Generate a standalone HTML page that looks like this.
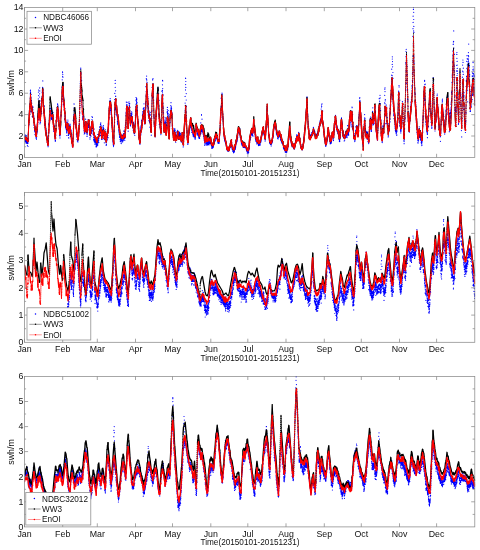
<!DOCTYPE html>
<html><head><meta charset="utf-8"><title>swh time series</title>
<style>html,body{margin:0;padding:0;background:#fff}svg{display:block}</style></head>
<body><svg width="480" height="550" viewBox="0 0 480 550">
<rect width="480" height="550" fill="#fff"/>
<g>
<clipPath id="c0"><rect x="24.5" y="7.1" width="450.8" height="150.3"/></clipPath>
<g clip-path="url(#c0)">
<path d="m24.5 135.4h0m.1 5.8h0m.1-6h0m0 1h0m.1 4.2h0m.1-4.4h0m.1 4.8h0m0-1.5h0m.1-1.9h0m.1-.8h0m0 1.5h0m.1 3.6h0m0-3.5h0m.1 2.6h0m0-5h0m.1 .7h0m.1-1.5h0m0 2.8h0m.1-1h0m0 1.7h0m.2 1.3h0m0-2.7h0m.1 5.4h0m0 .5h0m.1-1.7h0m0-4.7h0m.1 3.3h0m0 .7h0m.1 .5h0m.1-1h0m.1-1.8h0m0 3.4h0m.1-2.3h0m0 3.4h0m.1-7.1h0m.1 6.2h0m.1 1.5h0m.1-1.3h0m.1-1.6h0m0 3h0m.1-5.3h0m0 2.4h0m.1 .8h0m.1 3.9h0m.1-6.1h0m0 4.1h0m.1-.9h0m.2-2.7h0m0 3.2h0m.1 .6h0m.1 3h0m0-4h0m.1-1.4h0m0-2.7h0m.1 .7h0m.1-6.1h0m0 1.4h0m.2-2.6h0m.1-6.2h0m.1-3.6h0m0 3h0m.1-2.6h0m0-1.4h0m.1 1.3h0m.1 2.1h0m0-2h0m.1-1.8h0m0-.6h0m.1-4.9h0m.1-1.2h0m0 1.2h0m.1-4.3h0m.1 .7h0m0 2h0m.1-6.9h0m0 7.8h0m.1-1.7h0m.1-8.9h0m.1 5.2h0m0 5.4h0m.1-8h0m.1 1.5h0m0 3h0m.1-12.9h0m.1-4.4h0m.1 1.1h0m0 4.1h0m.1-6.4h0m0 2.9h0m.1-3.2h0m0 2.4h0m.1 5.5h0m.1-3h0m0 4.6h0m.1-3.6h0m.1 4.9h0m.1 8.5h0m0-10.4h0m.1-3h0m0 7.7h0m.1 2.3h0m0-3.5h0m.1 .6h0m0-2.1h0m.1 5.2h0m0-7.9h0m.1 2.7h0m0 6.7h0m.1-6.5h0m.1 2.3h0m.1 2h0m.1 1.6h0m0 2.8h0m.1 1.1h0m0-1.1h0m.1-2h0m.1 6.5h0m.1-7.2h0m.1 1.1h0m.1 1h0m0-1.2h0m.1 6.6h0m0-9h0m.1-1.2h0m0 3.6h0m.1-.6h0m.1 3h0m0-5.2h0m.1 10.1h0m.2-3.8h0m0 2.3h0m.1-.8h0m.1-2.6h0m0 4h0m.1-3.9h0m.1 3.8h0m.1 2.3h0m.1-2.8h0m0 2.6h0m.1 4h0m0-4.4h0m.1 7.3h0m0 2.2h0m.1-2.8h0m0 2.8h0m.2-2h0m.1 1.8h0m0-4.7h0m.1 8h0m0-6.8h0m.2 2.1h0m0 5.8h0m.1-5.5h0m0 1.5h0m.1-.9h0m0 7.5h0m.1-5.5h0m.1 5.8h0m.1-5.4h0m0 2.2h0m.1-2.8h0m.1 2.4h0m.1 .7h0m0-1.9h0m.1 4.5h0m0-2h0m.1-1.1h0m0 2.7h0m.1-1h0m0 .5h0m.1-1.3h0m0 4.9h0m.1 1.1h0m0-1.1h0m.1-2h0m.2-.7h0m0 3.3h0m.1 1.5h0m.1-6.4h0m.1 1.9h0m.1-1.4h0m.1-2.9h0m0-2.6h0m.1 1.9h0m0 1.9h0m.1 1.1h0m0-3.2h0m.1-4.5h0m0-1h0m.1 5.5h0m.1-4.1h0m0 2h0m.1-3.6h0m0 7.2h0m.1-6.6h0m0 2h0m.1-9.6h0m.1 1.3h0m0 .8h0m.1 3.5h0m0-5.4h0m.1 .6h0m.1-1.7h0m0-2.2h0m.1 1.2h0m0 1.1h0m.1 3.9h0m0-2.4h0m.1-.7h0m0-4.8h0m.1-1.7h0m.1 9h0m.1-9.1h0m0 3.8h0m.1-7.4h0m0-1.4h0m.2-1.4h0m0-1.3h0m.1 8.7h0m.1-5.5h0m.1 10.7h0m0-5.7h0m.1 1.5h0m.1 3.1h0m0-3.3h0m.1 3h0m0-6.9h0m.1 6.4h0m0 .5h0m.1 3.5h0m0-2.9h0m.1 4.2h0m.1-.6h0m0 4.6h0m.1-5.4h0m0-3.8h0m.1 8.1h0m.1-.7h0m.1-1.8h0m.1 1.7h0m0-4.8h0m.1-2.7h0m.1 5.9h0m0-9.9h0m.1 1h0m0-2.2h0m.1 5.3h0m0-2h0m.1-4.9h0m.1-4.1h0m0 7.9h0m.1-5.3h0m0-1.6h0m.2 3.4h0m0-6.2h0m.1 9.7h0m0-7.1h0m.2 2.3h0m0 6.7h0m.1-16.3h0m0 1.5h0m.1 .8h0m.1-2.5h0m0 1.7h0m.1-1.7h0m0-4.6h0m.1 8.2h0m.1-10.4h0m.1 3.3h0m.1-4.1h0m0-1.3h0m.1 1.2h0m0 4.1h0m.1-.8h0m0-5.1h0m.1-6.4h0m.1 15.4h0m0-5.9h0m.1-.8h0m0 5.8h0m.1-1.9h0m0 2.6h0m.1-2.2h0m0-1.6h0m.1 7.6h0m.1 2.7h0m.1 1.5h0m0 8h0m.1-6.9h0m0 4.3h0m.1-3.9h0m.3 7.6h0m0-7.8h0m.1 5.9h0m.1-5h0m0 2.8h0m.1 6.4h0m0-4.9h0m.1 2.2h0m0 2.7h0m.1 5.6h0m.1 3.8h0m.1-5.7h0m.1 4.2h0m0 .9h0m.1-6.4h0m0 7.5h0m.1-5.5h0m0 2h0m.1-2.4h0m0 8h0m.1-3.9h0m0-2.2h0m.1 4.2h0m0 3.5h0m.1 1.8h0m.1-6.3h0m.1 3.3h0m0-1.5h0m.1 1.6h0m.2 2.1h0m.1-1.3h0m.1 3.4h0m0-1.7h0m.1 1.7h0m.1 2.4h0m0-.7h0m.1 .6h0m.1-1.2h0m.1-.8h0m0 2.9h0m.1-1.5h0m0 1.6h0m.1 .7h0m0 2.7h0m.1-1.9h0m0 1.1h0m.1-1.2h0m.1 .7h0m0 .5h0m.1 4.4h0m.2-3.2h0m.1 2h0m0-1.6h0m.1 4.3h0m.1-3.2h0m0 3.4h0m.1 .9h0m.1-2.6h0m0-.7h0m.1 2.2h0m0-1.2h0m.1 3.9h0m.1-1.7h0m0 .5h0m.2-.9h0m0-1.3h0m.1-2.1h0m0-4.5h0m.1-.8h0m.2-11.5h0m0 8.6h0m.1-1h0m.1-2.1h0m.1-6.5h0m0 2h0m.1-1.2h0m.1-1.5h0m0 2.4h0m.1-4.9h0m.1-.7h0m0-1.3h0m.1-.9h0m0-1.1h0m.1 3.9h0m0-4.2h0m.1 4.8h0m.1-6h0m0-3.4h0m.1-1.1h0m.1-2h0m.1 7.9h0m0-4h0m.1-.8h0m0 2.9h0m.1-2.4h0m.1 1.8h0m.1-4.9h0m.1 3.2h0m.1-1.6h0m0 7.8h0m.1-6.6h0m.1 1.5h0m.2 6.5h0m.1-8.2h0m0 7.8h0m.1-5.5h0m.1 1.4h0m0 4.2h0m.1-1.4h0m0-3.1h0m.1 2.6h0m0-6.1h0m.1-1.1h0m.1 1.6h0m.1 2.3h0m.1 4.9h0m.1-5.8h0m0 1.2h0m.1 2.6h0m.1 1.3h0m0 .7h0m.1-2.1h0m0-3h0m.1 3.1h0m0 1.7h0m.1-1h0m0 .8h0m.1 1.3h0m0-2.8h0m.1 1.4h0m.1-5.9h0m0 3.6h0m.2 4.3h0m0 3.6h0m.1 2.8h0m.1-2.4h0m0-1.9h0m.1-3.9h0m0 6.8h0m.1 4.5h0m0-1.9h0m.1 3.6h0m.1-1.7h0m.3-1.3h0m0-2.8h0m.2 4.9h0m.2-4.4h0m.1 5.7h0m.1-2.7h0m0 6.9h0m.1-1.4h0m0-2.3h0m.1 2.9h0m0 1.4h0m.1 1.8h0m0-1.7h0m.1 2.3h0m.1 1.4h0m.1 .8h0m.1-3.3h0m.1 2.5h0m.1-2.5h0m.1-2.8h0m.3-5.4h0m.1-3.9h0m0-1.9h0m.1-2.8h0m.1 .7h0m0-1.1h0m.1-3.4h0m.1 3.5h0m0-4.4h0m.1 1.8h0m0-1.5h0m.1 3.6h0m0-.8h0m.1-9.5h0m.1 11.3h0m0-.5h0m.1-6.6h0m.1 2.4h0m0-6.5h0m.1 2.1h0m.1-1.1h0m.2-.6h0m0 .7h0m.1-1.5h0m0-3h0m.1-2.1h0m0 5.6h0m.1 2h0m.1-5.3h0m0 4.9h0m.1-6.1h0m0 7.3h0m.1-6.2h0m0 3h0m.1 8.4h0m.1-2.5h0m0 .7h0m.1 2.8h0m.1 1.6h0m.1-4.2h0m.1 1.1h0m0 .8h0m.1 3.9h0m.1 3.2h0m0-5h0m.1 4.2h0m.1 4h0m.1-4.7h0m0 4.4h0m.3 1.2h0m0 5.4h0m.1-5.8h0m.1-.7h0m.1 2.8h0m.1 4.4h0m0-6.8h0m.1 8.8h0m0-2.1h0m.1-.5h0m0-4.2h0m.2 3.3h0m0-3.6h0m.1-4.5h0m0 2h0m.1 .7h0m0-4.3h0m.1 .7h0m0-2.3h0m.1-1.4h0m0 2.5h0m.1-8.7h0m.2 .9h0m.1-4.2h0m.1 3.2h0m.1-8.7h0m0 8.4h0m.1-9.2h0m0-1.3h0m.1 6.3h0m0-.6h0m.1-3.9h0m0-7.4h0m.1 5.9h0m0-3.2h0m.1-1.1h0m.1-8.8h0m.1 9.6h0m.1-8.5h0m0 5.5h0m.1-6.2h0m.1 4.2h0m0-2.1h0m.1-7.2h0m0 3.3h0m.1 5.4h0m.1 3.5h0m.1-8.3h0m0 4.7h0m.1-7.1h0m0-14.3h0m.1 2.9h0m.1 7.5h0m0 4.9h0m.1 2.7h0m0-.8h0m.1-2.8h0m0-2.8h0m.1 6.1h0m0-3.2h0m.1 15.6h0m.1-8.1h0m0-1.2h0m.1 2.4h0m0-1.4h0m.1 7.8h0m.1-2.1h0m0-.9h0m.1-2.7h0m.1 5h0m0 2.5h0m.1-.8h0m.1 2.2h0m0 2.7h0m.1-5.3h0m0 .6h0m.1 .8h0m0 1.8h0m.1 5.4h0m.1-1.5h0m.1 7h0m0-5.7h0m.1 6.5h0m.1-11h0m.1 8.1h0m0-1.6h0m.1 2.9h0m0-4.4h0m.1 2.7h0m0 3.8h0m.1 2.7h0m0-2.5h0m.1 1.1h0m0 .8h0m.1 1.9h0m0 3.1h0m.1-1.5h0m.1 2.4h0m0-1.6h0m.1-6.4h0m0 4.9h0m.1 3.2h0m.1-3.8h0m0 3.4h0m.2-1.3h0m0-4h0m.1 7.4h0m0-.8h0m.1-1.6h0m0 2h0m.1-1.1h0m0-3.5h0m.1 6.8h0m.1-1h0m0 1.7h0m.1 .8h0m0 2.5h0m.1-5.8h0m0-2.3h0m.1 3h0m0-2.8h0m.1 5.2h0m0-3.4h0m.1-.6h0m.1-1.5h0m0-1.7h0m.1-2.8h0m0 6h0m.1-2.9h0m.2 2.4h0m0-2h0m.1-1.4h0m0 4.5h0m.1-9.3h0m0 1.7h0m.1 2.3h0m0 1.6h0m.1 .8h0m.1 8.6h0m.1-6.6h0m0 2.8h0m.1 4.1h0m.1-2.7h0m.1 2.2h0m0-1.5h0m.1 4.2h0m0-3.2h0m.1 3.7h0m.1-3.8h0m0-2.9h0m.1 1.5h0m0-4.5h0m.1 1.3h0m0-.8h0m.1 5.1h0m0-.8h0m.1-2.9h0m0-1h0m.1 2.3h0m.1 .6h0m.1-3.8h0m0-2.7h0m.1 1.5h0m0-.7h0m.1 1.4h0m0-1.3h0m.1-1.7h0m0 4.2h0m.1-4.9h0m0 1.5h0m.1-.6h0m0 2h0m.1 3.2h0m.1-.6h0m.1 6.6h0m0-3.2h0m.2 .8h0m0 .8h0m.2-5.1h0m0 2.7h0m.1-2.2h0m.1 2.1h0m.1-1.8h0m0 .6h0m.1 2.7h0m0 2.4h0m.1-1.1h0m0-1.6h0m.1 4.4h0m0-2h0m.1 3.4h0m.1-4.6h0m0 3.5h0m.1 2.9h0m.1-1.6h0m0-.8h0m.1 2.4h0m0 .6h0m.1-1.1h0m.1 .6h0m.1 4.8h0m.1-2.1h0m.1-1h0m.1 3.1h0m0-3.1h0m.2 4.3h0m.1-2.4h0m.1-3.4h0m.1-4.2h0m0 3.8h0m.1-2.4h0m0 .5h0m.1-.7h0m0-3.5h0m.1 2.2h0m.1-8.3h0m.1-.6h0m.1-3.6h0m0-3.3h0m.1 3.2h0m0-2.3h0m.1-1.4h0m0 1.6h0m.1-2h0m.1-3.1h0m.1 1.2h0m.1-1.7h0m0 2h0m.1-3.4h0m.1 3.7h0m.1-2h0m.2-5.9h0m0-1.6h0m.1 1.3h0m0 5.3h0m.1-2.3h0m0 5.5h0m.1-4.2h0m.1 2.2h0m.1-1.3h0m0 1.3h0m.1 3.8h0m0 .6h0m.1 2.8h0m0-3.6h0m.1 .8h0m0-.9h0m.1 4.5h0m.1-1.3h0m0-.7h0m.1 3.6h0m.1-2.5h0m0 1.8h0m.1-.6h0m.1 3.1h0m.2-1.6h0m0 6.9h0m.1-2.9h0m0 .5h0m.1-2.3h0m0-1.8h0m.1 3.1h0m0 1.3h0m.1 2.3h0m0-.7h0m.1 .8h0m0 2.5h0m.1-3.3h0m0 2.3h0m.1 3.6h0m0-4.4h0m.1-.6h0m.1 .7h0m.2 5.9h0m0-1.1h0m.1-1h0m.1-1.3h0m.1 2.4h0m.1 1.6h0m0-4h0m.1 4.3h0m0-1.7h0m.1-3.8h0m.1 3.6h0m.1-2.2h0m0-3h0m.1 4.3h0m.1-3.1h0m0-2h0m.1 3.8h0m.1-2.7h0m0 1.3h0m.1-4.4h0m0 1.4h0m.1-1.8h0m.1-2.3h0m0 5.8h0m.1-5.7h0m.1-1.2h0m0 3.8h0m.1-7.2h0m0 4h0m.1-4.5h0m.1-3.1h0m.1-1.7h0m0 1.2h0m.1-5.2h0m0-7.3h0m.1 5.6h0m.1-1.1h0m0-11.2h0m.1 6.2h0m0-2.3h0m.1-5h0m0-4.4h0m.1 5.2h0m.1-10.6h0m.1 2h0m0-6.6h0m.1-4.5h0m0-6.5h0m.1 2.5h0m0 11h0m.1-15.2h0m0-.9h0m.1 .8h0m0-4.1h0m.1-1.1h0m0 8.9h0m.1 6.8h0m0-2h0m.1-1.8h0m0 6.8h0m.1 1.8h0m0 3.7h0m.1-6h0m.1 8.1h0m0-2.4h0m.1 3.1h0m0-7h0m.1 2.4h0m.1 8.3h0m0 2.1h0m.1-3.2h0m0 7.1h0m.1-2.1h0m0-3.4h0m.1 1.1h0m.1 6.6h0m.1-1.9h0m.1 1.8h0m.1 7.3h0m.1-.8h0m.1 4.9h0m0-1.4h0m.1 2.6h0m0-6h0m.1 3.4h0m.1-5.9h0m0 2.2h0m.1-1.7h0m.1 .6h0m0 4.9h0m.2 3.1h0m0-4.7h0m.1 3h0m0-2.9h0m.1 4.2h0m0 1.1h0m.1-6.4h0m0 .6h0m.1 7.4h0m0-6.1h0m.1 5.8h0m0-5.1h0m.1 3.2h0m0 3.4h0m.2 7.2h0m0-8h0m.1 1.9h0m.1 9.4h0m0-7.4h0m.1 5.3h0m.1-6.7h0m.1 7.5h0m.1-2.2h0m0-2.3h0m.1 5.2h0m.1-4.6h0m0 4.6h0m.1-4.1h0m.1 .9h0m.1 1.9h0m0-.7h0m.1-6h0m.1 2.4h0m0 1.5h0m.1-5.4h0m0 .8h0m.1-1.8h0m.1 1.4h0m0-5.1h0m.1 4.6h0m.1-1h0m0-1.1h0m.1 2.8h0m.1 .6h0m0 2.7h0m.1-.9h0m0-4.2h0m.1 5.5h0m0 3.1h0m.2-2h0m0 1.8h0m.1-4.5h0m0 5.3h0m.1-.6h0m0-2.7h0m.1 3.9h0m.1-2.4h0m0 3.8h0m.1-1.8h0m0-2.5h0m.1 6.9h0m0-3.1h0m.1 2.6h0m0-3.4h0m.1 .7h0m0-2.9h0m.1 2.4h0m0 1.4h0m.1-7.3h0m0 .5h0m.1-3.4h0m0 2.2h0m.1 3.1h0m.1 1.5h0m0-4h0m.1 3.3h0m.1-4.5h0m.1-2.2h0m0 3.2h0m.1 .8h0m0-7.9h0m.1 6.3h0m0-4.2h0m.1 5.2h0m0-3.9h0m.1 4.6h0m.1-.8h0m0-2.2h0m.1-.8h0m.1-1.1h0m0 2.1h0m.1 .6h0m.1-3.8h0m.1 1.9h0m0 1.2h0m.1 .9h0m.1 2.3h0m.1-4h0m0 5.2h0m.1-.7h0m.1-1h0m0 4.5h0m.1 2h0m.1 1h0m.1-7.8h0m0 5.2h0m.1 2.2h0m0 .6h0m.1 4.1h0m0-1.4h0m.1-2.4h0m.1-2.5h0m0 2.3h0m.1-.9h0m0 .9h0m.1-.7h0m.1-1.8h0m.1 2.8h0m0-1.2h0m.1-2h0m.1-1.6h0m0 1h0m.1 4.6h0m0-2.9h0m.1-.7h0m.1-1.9h0m.1-3.6h0m.1-1.9h0m0 8.2h0m.1-1.2h0m.1-3.8h0m.1 2.3h0m0-.8h0m.1-2.9h0m0-3.5h0m.1-1.2h0m0 4.9h0m.1-2.2h0m.1-5.3h0m0-3h0m.2 13.5h0m.1-8.2h0m0 6.5h0m.1-3h0m.1 2.7h0m0-10.7h0m.1 8.3h0m.1 1.1h0m0-2.2h0m.1 3.7h0m0-.7h0m.1 6.4h0m.1-5.6h0m0 2.9h0m.1 2.3h0m.1-1.1h0m0-2.1h0m.2-1h0m0 1.1h0m.1 1.5h0m0 .8h0m.1 2h0m.1 3h0m0 1.8h0m.1-2.6h0m0 3.2h0m.1-3h0m0 2.4h0m.1-1.7h0m0-9.1h0m.1 11.8h0m.1-5h0m0 3.8h0m.1 1.1h0m0 1.1h0m.1-4.5h0m0 2.2h0m.2 2.8h0m0 1.8h0m.1-4.6h0m.1 .9h0m.1-2.3h0m0 1.8h0m.1 2.4h0m0-1.7h0m.1-2.1h0m0 1.4h0m.1 1h0m0-1.1h0m.2-3.7h0m.1 2h0m0 .5h0m.1 4.2h0m0 1.3h0m.1-3.2h0m0 1.1h0m.1-4.3h0m0 5.5h0m.1 .8h0m.1-2.9h0m0 5.3h0m.1-4.1h0m0 2.4h0m.1 2.3h0m0-2h0m.1-3.3h0m0 .5h0m.1 1h0m0 1.8h0m.1-1.3h0m.1 .8h0m.1-1.3h0m0 3.1h0m.1-.6h0m0 1h0m.1-1.9h0m0-1.3h0m.1 1.2h0m.1 .9h0m.2-2.9h0m.1-3.9h0m0 4.9h0m.1-1.2h0m0-1.5h0m.1 4.3h0m0-1.4h0m.1-9.3h0m.1 5.5h0m0 4.9h0m.1-3h0m0-1.2h0m.1-2h0m0 1h0m.1 1.9h0m0-2.7h0m.1 1.3h0m.1 1.1h0m0-.7h0m.1 2.1h0m.1-5.1h0m0 .9h0m.1-.7h0m0-2.1h0m.1 3.2h0m0 1.7h0m.1-5h0m0 6.9h0m.1-4.4h0m0-3.3h0m.1-.9h0m0 2.9h0m.1-.9h0m.1-.7h0m.1-3.8h0m.1-1.5h0m.1 3.3h0m0-.6h0m.1-5.7h0m.1 6.5h0m0-3.9h0m.1 4.2h0m0-3.7h0m.1 1.8h0m.1 .9h0m.1-5h0m.1 5h0m.1 2.9h0m.1-11h0m.1 10.9h0m0-4.9h0m.1-3.8h0m0-2.8h0m.1 .8h0m0 3.4h0m.1-5.3h0m.1 3.6h0m.1 2.5h0m.1-3.5h0m0 6.8h0m.1-4.6h0m.1 3.1h0m0 3.1h0m.1-2.1h0m.1 2.9h0m0 .9h0m.1 3.7h0m.1-1.2h0m0-1.8h0m.2 2.9h0m.1-3.4h0m.1 3.6h0m.1-4.4h0m0-2.9h0m.1 1.9h0m.1-3.8h0m0 3.3h0m.1 1.8h0m0-2.2h0m.1-2.3h0m.1-.6h0m.1-.6h0m.1 5.9h0m0-8.5h0m.1 1.1h0m.1 1.1h0m.1-3.2h0m.1 3h0m0-1.6h0m.1 6.2h0m0-8h0m.1 4.6h0m.1 3.1h0m.1 5.2h0m.1-10h0m0 5.4h0m.1 1h0m0-1h0m.1-2.9h0m0 4.3h0m.1-1.8h0m0 5h0m.1-1h0m0-3h0m.1 4.6h0m0 3.7h0m.1-3.6h0m.1 .5h0m0-1.9h0m.1 1.8h0m.1-1.6h0m.1 .6h0m.1-2.2h0m.1-4h0m.1 5.9h0m0-5.5h0m.1 5.2h0m0-3.4h0m.1 3h0m0-.6h0m.1 1.1h0m.1-8.3h0m.1 8.9h0m.1-2.1h0m.1 1.3h0m.1-1.8h0m.1 3.6h0m0-1.8h0m.1 4.6h0m0-4.9h0m.1 6.5h0m0 1.3h0m.1-1.4h0m.1-4.2h0m0 4.6h0m.1-3.8h0m0-.8h0m.1-4.7h0m0 5h0m.1 1h0m.1-3.1h0m0-1.3h0m.1 .5h0m.1 .5h0m0 1.7h0m.1-2.2h0m.1-5.9h0m0 5.1h0m.1 1.4h0m0-1.3h0m.1-.5h0m0 3.8h0m.1-4.6h0m0-.8h0m.1 1.3h0m.1-2.2h0m.1-3.2h0m.1 5.2h0m0-4h0m.1-2.1h0m0 3.6h0m.1 4.7h0m0-8.5h0m.1-1.4h0m.1 1.4h0m0-5.1h0m.1-.6h0m.2-4.2h0m.1 5.4h0m.1-1.6h0m.1-3.8h0m.1-5.2h0m0 3.2h0m.1-6.3h0m0-2.8h0m.1 2h0m0 1.8h0m.1 5.9h0m.1-11.9h0m0 7h0m.1-2.6h0m.1 1.2h0m0-3.5h0m.1-1.4h0m.1-5h0m.1 4.9h0m0-2h0m.1 1.9h0m0-6.2h0m.1 7.6h0m0-2.2h0m.1-7.1h0m0 7.2h0m.1-1.3h0m.1 5.9h0m0-6.6h0m.1-2.9h0m.1 3.9h0m0-.7h0m.1 6h0m0-2.5h0m.1 1.9h0m0-.6h0m.1 5h0m0-2.1h0m.1-3.4h0m0 4h0m.1-4.3h0m0-3.2h0m.1 4.2h0m0 .8h0m.1-1.6h0m0 6.1h0m.1 2.8h0m.1-6.6h0m.1 8.6h0m0-1.1h0m.1 2.6h0m0 1.6h0m.1 .9h0m.1 2.1h0m.1-1.3h0m0 2h0m.1 1.2h0m.1-3.6h0m0 7.7h0m.1-2.4h0m0-1.3h0m.1 .8h0m.1 4.3h0m0 .8h0m.1-1.2h0m.1 3.2h0m.1 1.3h0m0 .7h0m.1 .6h0m0 3.2h0m.1 .8h0m0-1.9h0m.1-3.6h0m0 2.9h0m.1 4.4h0m0-.8h0m.1-1.3h0m0 2.4h0m.1-1.7h0m0 2.4h0m.1 .7h0m0 1h0m.1-2.1h0m.1 .6h0m.2-1.7h0m0-5.4h0m.1 .8h0m0-1.7h0m.1-1.2h0m0-4.2h0m.1-.8h0m.1-.9h0m.1-4.1h0m0 1.3h0m.1-5.4h0m0-4.6h0m.1 5.1h0m.1-3h0m0-9.3h0m.1 2.5h0m0-2.6h0m.1 4.3h0m0-9.4h0m.1 4.8h0m.2-2.1h0m.1 1.4h0m.1-8.7h0m0 8.5h0m.1-8.6h0m.1 5.5h0m0-4.6h0m.1-4.8h0m0 8.8h0m.1 .5h0m0 3h0m.1-9.4h0m.1 12h0m.1-1.6h0m0-2.4h0m.1 3.5h0m.1-.5h0m0-4h0m.1 3h0m.1 2h0m0-3.3h0m.1 7.1h0m.1-7h0m0-2.1h0m.1 3.9h0m.1 2.4h0m0 3.2h0m.1-1.2h0m.1 2.7h0m0-2.7h0m.1 2.8h0m.1-3.8h0m0 2.9h0m.1-1.2h0m0 6.8h0m.1-6.5h0m0 4.7h0m.1-5.8h0m0 9.6h0m.1-1.3h0m0-3.9h0m.1-3.3h0m0 9.6h0m.1-3.3h0m.1 1.8h0m0-6.9h0m.1-1.3h0m0 5h0m.1-1.6h0m0 4.6h0m.1 1.5h0m0-3.7h0m.1 3h0m0-2.5h0m.1 3.4h0m0-3.5h0m.1 4.4h0m.1 1.6h0m.1 3h0m.1 1.1h0m0-3.8h0m.1 1.8h0m0 2.8h0m.1 1h0m.1-1.7h0m0 .6h0m.1 2.6h0m.1-2.9h0m0-.5h0m.1-.6h0m0 5.5h0m.1 1.5h0m0-3h0m.1 2.1h0m.1-1.6h0m.1 2.1h0m.1 2.3h0m.1-4.1h0m.1 5.7h0m.1-1.7h0m0-2.7h0m.1 4.6h0m0-4.1h0m.1 3.8h0m.1-2h0m0-3.7h0m.1 3.3h0m.1-3.2h0m.1 5h0m0-2.4h0m.1 1h0m.1 2.7h0m.1 1.9h0m0-.6h0m.1-2.8h0m.4-.6h0m.1 1h0m0-1.7h0m.1 .9h0m0-3.3h0m.1 1.9h0m0-2.5h0m.2 4.6h0m0-3.1h0m.1 1.1h0m0-3.4h0m.2 3.2h0m0-2.6h0m.1 6.2h0m0-4.6h0m.1 2.7h0m0 1.4h0m.1-1.1h0m.1-3h0m0-2.2h0m.1 3.2h0m.1-2.1h0m.1 4.4h0m.1-1.6h0m.1 1.1h0m.1-1.1h0m.1-8h0m0 3.6h0m.1-1h0m.1 3.3h0m0-3.2h0m.1 3.3h0m.2 2h0m.1-5.4h0m.1 4.8h0m0-7h0m.1 6.3h0m.1-.8h0m.1 1.9h0m.1-3.9h0m.1 2.3h0m0 3.3h0m.1-2.2h0m0-.9h0m.1-2.8h0m.1-1.6h0m0-5.7h0m.1 4.6h0m.1-1.3h0m0-3.1h0m.1-1.6h0m0-.8h0m.1 2.1h0m0 2.5h0m.1 1h0m.1-4.4h0m0 1.6h0m.1-3.4h0m.1-1.3h0m0-.8h0m.1-7h0m0 .6h0m.1 4.4h0m0-7.9h0m.1 1.2h0m.1-.6h0m0-11h0m.1 7.7h0m0 1.3h0m.1-3.1h0m0-2.8h0m.1 2.3h0m0 1.5h0m.1 2.8h0m0-.5h0m.1 1.8h0m0-5.7h0m.1-2.3h0m0-.8h0m.1 .9h0m.1-2.9h0m0 4.4h0m.1 .7h0m0 6.3h0m.1-.8h0m0 1.2h0m.1-3.8h0m0 4.7h0m.1 1h0m0 1h0m.1-4.2h0m0 6.9h0m.2 1.2h0m0-2.9h0m.1 1.3h0m0 2.7h0m.1 1.3h0m.1-2.7h0m0 2.9h0m.1 7.7h0m.1-7.5h0m.1-3.4h0m0-1.4h0m.1 4.1h0m.1-5.8h0m.1 5.1h0m0-4.1h0m.1-3.3h0m.1-3.4h0m0-3.6h0m.1-.6h0m.1 1h0m.1 3.5h0m0-5.9h0m.1 2h0m0-3.9h0m.1 1.3h0m.1 .7h0m.1 .8h0m0 9.1h0m.1-4.2h0m0-8h0m.1 6.7h0m0-2.8h0m.1 11.2h0m.2 1.1h0m0-4.7h0m.1 6.8h0m.1-6.5h0m0 3.5h0m.1 6.4h0m0-5.4h0m.1 2.5h0m.1 3.4h0m0-6.3h0m.1 1.7h0m.1-7.6h0m0 7.8h0m.1 1h0m0-6h0m.1 4.3h0m0-7.3h0m.1 6.6h0m0-4.3h0m.1 5h0m0-1.4h0m.1-1.7h0m0 2.3h0m.1-4.2h0m0 3.7h0m.1-6.2h0m0 1.6h0m.1 7h0m0-10.1h0m.1 5h0m0 2.8h0m.1-3.5h0m.1-1.8h0m.1-1.4h0m0 7.9h0m.1-3.8h0m0 3.4h0m.1 3.3h0m0-1.1h0m.1 1h0m0-3.5h0m.1 2.3h0m0-1h0m.1 1.8h0m.1-1.3h0m.1 3.5h0m.1-.9h0m0 .9h0m.1 2.1h0m.1-3.3h0m0-2.2h0m.2 8.2h0m0-1.9h0m.1-3h0m0-2h0m.1 3.6h0m0-3.1h0m.1-1.3h0m.1 3h0m0 3.5h0m.1-1.6h0m0-2.4h0m.1 3.7h0m.2 4.9h0m0-5.7h0m.1 2.2h0m.1-1.3h0m0 1.8h0m.1 2.1h0m.1 .7h0m.1-2.2h0m0 2.4h0m.1-4.1h0m.1 .9h0m0 2.9h0m.1 2h0m.1-8.8h0m0-1.2h0m.1-1.2h0m.1 1h0m.1-2.1h0m.1-1.5h0m0-1.4h0m.1 2.9h0m0-7.6h0m.1 8h0m0-5.7h0m.1-1.9h0m.1-4.4h0m.1 4.3h0m0-5.8h0m.1 4.6h0m0-4.7h0m.1-2.6h0m0-2.5h0m.1 6.4h0m0 2.8h0m.1-13.1h0m.1 8.1h0m0-2.5h0m.1-.7h0m0-6h0m.1 2.3h0m0-2.2h0m.1-1.3h0m0 3h0m.1 1.9h0m0-5.1h0m.1 1.4h0m0 3.3h0m.1 7.9h0m0-2.5h0m.1-1.7h0m0 4.2h0m.1-3.9h0m0-4.5h0m.1 8.4h0m.1-1.1h0m0-2.2h0m.1 12h0m0-3.8h0m.1-5.3h0m0 5.6h0m.1 5.1h0m0-5.4h0m.1 5.9h0m0-5.2h0m.1 4.2h0m.1 2.5h0m0-3.9h0m.1 2.4h0m.1 .5h0m.1 1.4h0m.1-2.1h0m.1 6.7h0m.1-4.8h0m.1 2.8h0m.1 1.9h0m0 3.3h0m.1 3.4h0m.1-1.1h0m0 3.8h0m.1-6.3h0m0 6.2h0m.1-2.1h0m.1 2.2h0m.1 1.3h0m.1-2.4h0m.1 3.8h0m0-1.6h0m.1 4h0m0-2.2h0m.1 3.6h0m.1-4.8h0m.1 4.4h0m0-4.6h0m.1 5h0m0-3.6h0m.1 3.7h0m.1-2.8h0m0-3.9h0m.1 1h0m.1-4.7h0m0 1.4h0m.1-4.1h0m.1 2.9h0m0-3.2h0m.1 4.6h0m0-8.2h0m.1 1.9h0m0 5.4h0m.1-1.5h0m.1-4.7h0m0-.8h0m.1-1.2h0m0-.6h0m.1 1.4h0m.1 .7h0m0-1.9h0m.1 1.7h0m0 3.5h0m.1-3h0m0-7.7h0m.1 5.4h0m0-3.5h0m.1 2.1h0m.1-.6h0m.1-2.8h0m.1 2.9h0m0 3.8h0m.1-7.3h0m0 .7h0m.1 2.3h0m0-1.2h0m.1-3.2h0m0 .6h0m.1 3.2h0m0-6.9h0m.1-4h0m0 6.8h0m.1 2.2h0m0-6h0m.1-1h0m0 6.4h0m.1 .7h0m0-1.6h0m.1-3h0m0 1h0m.1-2.7h0m.1 3.5h0m0-6.1h0m.1-3.1h0m0 10.1h0m.1-5.1h0m0 .7h0m.1-1.7h0m.1 3.5h0m.1-5.3h0m0 3.1h0m.1 2h0m0-4.1h0m.1 .8h0m0-5h0m.1 2.9h0m.1-7h0m0 5h0m.1 .6h0m0-1.8h0m.1 7h0m.1 3.4h0m0-7.3h0m.1 9h0m0 1.4h0m.1 .9h0m0-7.6h0m.1 2.5h0m.1-1.2h0m.1 8h0m0-2.3h0m.1 1.8h0m0-9.2h0m.1 8.1h0m0 1.8h0m.1-4.8h0m0-.6h0m.1 1.2h0m0 .7h0m.1 1.7h0m.1-4.4h0m0-9.6h0m.1 9.6h0m0-11h0m.1-4.4h0m0 2.1h0m.1 2.8h0m0-3.8h0m.1-1.1h0m0 7.6h0m.1-8.5h0m0 4.1h0m.1 2.5h0m0-12.2h0m.1 5.7h0m0-4.9h0m.1 5h0m0-10h0m.1 3.2h0m.1 1.2h0m0-1.3h0m.1-2.4h0m.1-8.2h0m.1-4.6h0m.1 1.3h0m0 10.2h0m.1 1.4h0m.1 3.2h0m.1-2h0m.1-1.9h0m0 4.6h0m.1-3.5h0m.1 3h0m0-2h0m.1-2.3h0m.1 14.9h0m0-.9h0m.1-9.5h0m0-1.5h0m.1 3.6h0m0-1.6h0m.2 2h0m0 2.5h0m.1 2.4h0m0 1.2h0m.1 3.8h0m0 6.5h0m.1-7.8h0m0 2.5h0m.1 3.3h0m0-.9h0m.1-3.8h0m0 5.5h0m.1 2.2h0m0-3.8h0m.1-.7h0m0 1h0m.1 1.1h0m.1 1.6h0m0 5.2h0m.2-3.2h0m0-6.1h0m.1 7.4h0m0-2h0m.1-.8h0m0 5.6h0m.1-7.1h0m.1 7.9h0m.1-4.5h0m0-3.5h0m.1 6.2h0m0-1.9h0m.1 .6h0m0 1.6h0m.1 .5h0m0 6.2h0m.1-4.4h0m.1-3.9h0m0-4.6h0m.1-1.9h0m0 2.8h0m.1 3.8h0m0 4.5h0m.1-1.6h0m0-3.1h0m.1 3.9h0m.1-1.9h0m0 6.5h0m.1-4.8h0m.1 3.2h0m.1-.6h0m.1 6.3h0m0-5h0m.1 5h0m0-1.6h0m.1 .7h0m.1 4.7h0m.1-4h0m.1-6.7h0m0-7.7h0m.1 3.4h0m0-3.4h0m.1 1.5h0m.1-6.7h0m.1-1.6h0m0-3.8h0m.1-2.7h0m0-2.6h0m.1-1.8h0m0-3.5h0m.1-2.1h0m0 4.1h0m.1-3.1h0m0 1h0m.1 1.3h0m.1 1.3h0m0-6h0m.1-4h0m.1 4.3h0m0-1h0m.1 .9h0m0 1.1h0m.1-1.5h0m0-6h0m.1 7h0m0-14.3h0m.1 5.4h0m0 5.2h0m.1 4.3h0m0-4.1h0m.1 6.5h0m0-7.6h0m.1 9h0m0-1.3h0m.1 6.4h0m0-5.6h0m.1 3.8h0m0 1.9h0m.1-2.4h0m0 10.2h0m.1 4.6h0m0 2h0m.1-2.5h0m.1 2.6h0m0-.9h0m.1 6h0m.1-3.9h0m0 6h0m.1 2.2h0m0-3.1h0m.1 1h0m0 1.4h0m.1 5.2h0m.1-5h0m0 3.2h0m.1 3.6h0m.2 2.6h0m0-4.4h0m.1 4h0m.1-1.4h0m.1 3.3h0m0-8.4h0m.2-2.1h0m.1-2.4h0m.1 3.4h0m0-3.2h0m.1-1.1h0m.1 2.3h0m.1-8.8h0m.1 2.5h0m0-8h0m.1 1.9h0m.1 2.1h0m.2-.6h0m.1 1.6h0m.1-9.3h0m.1 2h0m.1-5.2h0m0 3.6h0m.1-2.6h0m0-2h0m.1-1.1h0m.2-7.8h0m0 9.1h0m.1-2.8h0m0-1.1h0m.1 4h0m.1-1.2h0m.1-2.9h0m0-3h0m.1-1.1h0m0 2.2h0m.1 1.1h0m0-10h0m.1 8.2h0m0-7.7h0m.1 9.3h0m.1-7.2h0m.1 9.4h0m0 1.8h0m.1-7.3h0m.1 4.4h0m0 2.8h0m.1 5h0m0-1.5h0m.1-1.1h0m0 4.6h0m.1 5.2h0m0-8.1h0m.1 8h0m0 1.1h0m.1-1.8h0m0-3.9h0m.1 7.6h0m.1-1.5h0m.1 3h0m0 2.9h0m.1 3.2h0m0-7.4h0m.1 7.8h0m0-3.8h0m.1-2.2h0m0 4.9h0m.1-.9h0m.2-3.2h0m.1 7.3h0m0-4.6h0m.2 5.6h0m.1-6.5h0m.1 .9h0m0 4.3h0m.2-1.7h0m.1 6.8h0m.1-4h0m0-1h0m.1 4h0m.1-.8h0m0 4.8h0m.1-3.1h0m0-3h0m.1 .6h0m.1-.7h0m0-1.4h0m.1-6.9h0m0 2.6h0m.2-7.4h0m.1-5.5h0m0 2.1h0m.1-2.5h0m0-6.3h0m.2 9h0m0-4.8h0m.1-7.3h0m0 4.8h0m.1-6.8h0m0-2.1h0m.1-1h0m0-3.4h0m.1 9.8h0m0-2.5h0m.1-1.9h0m.1-6.6h0m0 2.5h0m.1 6.1h0m.1 5.2h0m0-.7h0m.1 4.9h0m0-9.6h0m.1 4.7h0m0 5h0m.1-1.7h0m.1 3.8h0m0-2.2h0m.1 4.5h0m0-4.9h0m.1 5.4h0m.1 4.8h0m.1-5.5h0m0 6.3h0m.1-2.3h0m.1 3.2h0m.1 4.8h0m.1 2.8h0m.1-7.4h0m0 8.5h0m.1-.8h0m0-4.7h0m.1 2h0m0 7.4h0m.1-6.1h0m0-1.2h0m.1 4.2h0m0-2.3h0m.1 1.7h0m.1-6.1h0m0 1h0m.1 3.6h0m.1-5h0m0 .8h0m.1-1.4h0m.1 2.7h0m0-1.7h0m.1-5.1h0m.1 2.8h0m0 2.4h0m.1-3.8h0m.1 2.7h0m.1 3.1h0m.1-1.4h0m0 3.4h0m.1 .9h0m0 2h0m.1-2.2h0m.1 1.8h0m0-1.9h0m.1-4.7h0m0 7.2h0m.1-2.1h0m0 2.1h0m.1 .9h0m.1-.6h0m0-1h0m.1-3.8h0m0 2.5h0m.1 1.5h0m0-3.6h0m.1 3h0m0-4h0m.1 1.3h0m.1-3.1h0m0-2.2h0m.1 5.4h0m.1-.9h0m0-5.7h0m.1-1.1h0m0 1.2h0m.1-7.2h0m0-.9h0m.1-2h0m.1 2.1h0m0-4.2h0m.1 6.4h0m0-.6h0m.1-2.1h0m0 1.6h0m.1 6.2h0m0-1.5h0m.1-2.8h0m0 .6h0m.1 1.3h0m0-1.4h0m.1-.9h0m.1-.8h0m.1 4.7h0m0-7.6h0m.1 6.6h0m0 2.4h0m.1-3.7h0m0 5.7h0m.1 3.7h0m.1 .9h0m0 1.2h0m.1 3.5h0m0-1.5h0m.1 1.6h0m0-4h0m.1 3.1h0m0 3.1h0m.1-2.7h0m0 3.4h0m.1 4.1h0m.1-2.7h0m0-1.5h0m.1 3.5h0m.1-2.5h0m.1-3.6h0m0-.7h0m.1-4.3h0m.1-3.8h0m0 1.7h0m.1-3.7h0m0-.6h0m.2-5.3h0m0 2.3h0m.1-1.7h0m0 6.9h0m.1-6.8h0m0 7.2h0m.1-11.2h0m0 3.8h0m.1-1.9h0m0 4.1h0m.1-2.8h0m0 2h0m.1-.9h0m0-4.1h0m.1 .8h0m0-.7h0m.1-.8h0m0-5.1h0m.2-2.8h0m0 6.1h0m.1 1h0m0-1.9h0m.1-1.2h0m0 6.3h0m.1-6h0m0 3.1h0m.1-2h0m0 .6h0m.1 2.1h0m.1 .9h0m0-2.9h0m.1 8.7h0m0-5.4h0m.1 1.1h0m0 .8h0m.1-.6h0m.1 1.5h0m0-2.1h0m.1 5.7h0m0-4.5h0m.1 11.3h0m0-7h0m.1 5.7h0m0 2.7h0m.2 1.1h0m.1-2.7h0m0 3.5h0m.3 1.9h0m0-2.5h0m.3 5.7h0m.1 3.6h0m.1 2.4h0m.1-2.5h0m0-2.2h0m.1 .8h0m.1 2.5h0m.1-1.8h0m.2-2.3h0m.1 1.1h0m0-4h0m.1 2.9h0m0 1.2h0m.1 .6h0m.1 .6h0m0-2h0m.1-1.3h0m0-2.8h0m.1 .9h0m.1-2h0m.1-.7h0m.1 .6h0m0 2.4h0m.1 .7h0m0 .7h0m.1 3.2h0m0-3.5h0m.1-2.5h0m.1 4.4h0m.1 .8h0m.1 3.4h0m.1-2.5h0m.1 5.8h0m.1-2.7h0m0-.8h0m.1-.6h0m.1-2.6h0m0 .6h0m.1 2.3h0m0 .8h0m.1-2.6h0m.1 1.5h0m0 1.1h0m.1-3.3h0m.2 .6h0m0 1.2h0m.1-1.6h0m.1-3.5h0m0 3.5h0m.1-1.1h0m0-.8h0m.1-2.7h0m.1 .8h0m.1 1.2h0m.1-1.6h0m0 4.9h0m.1-.8h0m.1-1.6h0m0-1.3h0m.1 1.2h0m0-4h0m.1 2.3h0m.1 1.6h0m.1-1.9h0m0-1.3h0m.2 2h0m0 2h0m.1-.9h0m0 1.8h0m.1 .5h0m.1-1.5h0m0 4.1h0m.1-5.3h0m.1 2.9h0m0-2.5h0m.1 1.1h0m0 .9h0m.1 .5h0m.1 2.7h0m.1-2.8h0m.2-1.5h0m.1 2.3h0m.1-.6h0m0-3.5h0m.1 1h0m0-1.2h0m.1-.8h0m0 3.9h0m.1-.9h0m0 3.5h0m.1-3.3h0m0 .7h0m.1-.9h0m0-.7h0m.1-.5h0m.1 .8h0m.1 .9h0m0-.8h0m.1-1.6h0m0 2.6h0m.1-1.9h0m0 1.9h0m.1 1.5h0m.2 1.6h0m.1-.5h0m.2 1h0m.1 1.9h0m.1-3.3h0m.1 2.9h0m.1 1.1h0m.2-2.2h0m.6-5.2h0m.1-2.1h0m.1 2.6h0m.1 .8h0m.1 1.2h0m.2 3.2h0m.1 2.7h0m.3 3.9h0m0-1.2h0m.4-2h0m.1-2.1h0m.1-3.6h0m.1-.9h0m0-1.1h0m.1-.7h0m0-1.3h0m.2-1.7h0m.3-4.8h0m0-1.3h0m.1-1.4h0m.1-1.5h0m.1 .8h0m0-1.1h0m.1-2.1h0m0-3.5h0m.1 2.4h0m0 1.5h0m.1-3.3h0m.1-6.2h0m.1-1.5h0m.1-1.5h0m.1-3.5h0m.2 3.2h0m0-1.2h0m.1-1.6h0m.1 6.1h0m.1-.9h0m0 5.7h0m.1-3.8h0m.1 2.5h0m0 2.1h0m.1 1.6h0m.1 2.5h0m.2 3.3h0m.1 3.2h0m.3 2.2h0m0 1.9h0m.1-.7h0m0 1.4h0m.1 3.1h0m0 .7h0m.1 2.4h0m.1 .5h0m.1 1h0m.1 1.4h0m.1 .6h0m.1 1.6h0m.1-.6h0m0 .8h0m.1-1.4h0m.1-1.3h0m.1-1.9h0m.1-1.5h0m.1-1.8h0m.1 .6h0m.1 .7h0m0-2.2h0m.1-.9h0m0 .8h0m.1-1.4h0m0 .6h0m.1-1.8h0m0-.9h0m.1 .7h0m0 .7h0m.1-1.6h0m0-.7h0m.1-1.1h0m.1 2.6h0m.1-4h0m.1 .7h0m0-1.1h0m.1-1h0m.1 2.5h0m.1-1.5h0m0-.8h0m.2-.8h0m.1 .8h0m.1-1.6h0m0-.6h0m.1-3.1h0m.1-1.6h0m.1 1.8h0m.1-4.3h0m0 1.9h0m.1 3.8h0m0-2.1h0m.1-.9h0m.1 4.2h0m.1-1.3h0m0 1.7h0m.2 1h0m0 1.4h0m.2-1.2h0m0 1.9h0m.1-3.2h0m0 2.4h0m.1-.9h0m0 2.6h0m.1 .9h0m0-2h0m.1 1.1h0m0 3.1h0m.1-2.5h0m0 2.5h0m.1-2h0m.1 .6h0m.1-.5h0m.1 .8h0m0-1.4h0m.1 1.3h0m0 1.2h0m.1-2.1h0m.1 1.9h0m.1 .9h0m.1-.6h0m.1 2h0m.1-.6h0m.1 .8h0m.1 .8h0m0 1.1h0m.1-2.6h0m.1-1.4h0m.1 1h0m.1 2h0m.1 1h0m0-1.1h0m.2-.7h0m0-.7h0m.1 1.2h0m0 1.2h0m.1-.9h0m.1-.6h0m.2 1.4h0m0-1.9h0m.1 1.3h0m.1 .8h0m0-1h0m.1 .6h0m.2 2.5h0m0-1.2h0m.1-1h0m.1 .7h0m0 1.3h0m.1 .7h0m.1-1.4h0m0 .7h0m.1-.8h0m0-1.7h0m.1 .8h0m0-2.1h0m.1 .9h0m.1-1.4h0m0-.8h0m.1-1.4h0m0-1.8h0m.1 1.5h0m0-1.8h0m.1-1.4h0m.1-1.6h0m.1-.5h0m.1 .6h0m.1 1.3h0m.1-.7h0m.3 1.8h0m0 .7h0m.1-.8h0m.1 1h0m0-.8h0m.1 1.9h0m0-1.1h0m.1-.7h0m0 1.3h0m.1-1.6h0m.1 5.4h0m0-1.5h0m.2 1.6h0m0-1.2h0m.1-1.3h0m0 1.2h0m.1 1h0m.1-.8h0m.2 1.8h0m0-1.7h0m.1-.9h0m0-1h0m.1 1.7h0m.1-.7h0m.1 1.2h0m.1 1.8h0m.1 1h0m0-.8h0m.2 .9h0m0 .6h0m.1-1.2h0m.1 2h0m0-3.4h0m.1 1.6h0m0-.6h0m.1-.8h0m.1 3.1h0m0-1.2h0m.1 .7h0m0-.8h0m.1 1.5h0m.2-1.9h0m0-1.5h0m.2-2.1h0m0 1.7h0m.1-2.7h0m.2-1.2h0m.1 3.1h0m0-.9h0m.1-1.6h0m.1-.6h0m.1 1h0m0-1.7h0m.1 1.7h0m0 2h0m.1-2.8h0m.1-3.3h0m.1 1.9h0m0 .8h0m.1-1.7h0m0-2.7h0m.1 2.1h0m0-2.2h0m.1 1.4h0m0-1.3h0m.1 1.2h0m.1 4.1h0m0-1.9h0m.1-1.2h0m.1-.9h0m0 1h0m.1 .9h0m0 3.6h0m.1-1.4h0m.1-1.4h0m.1 .7h0m.1-2.5h0m.1 2.4h0m0-.9h0m.2 .9h0m.1-.8h0m0 .7h0m.1-1.1h0m0 2.2h0m.1-.9h0m0 1.1h0m.1 .9h0m.1-1h0m0 .6h0m.1 .7h0m0 1.3h0m.2-1.1h0m0 .8h0m.1 2.2h0m.1-.9h0m0-1.3h0m.1 .5h0m.1 .6h0m.1 1.9h0m.1 1.7h0m.1-1.4h0m.1 1.4h0m0 1.5h0m.1-.9h0m0-1.4h0m.1 2.3h0m0-.5h0m.1 2.4h0m.1-.9h0m0-.7h0m.1 2h0m.1-1.7h0m0 4.6h0m.1-.6h0m0-1.5h0m.2 1h0m.1-1h0m0-1.1h0m.1-1.4h0m0 .8h0m.1-.8h0m.1 .7h0m.1-2h0m0 1.7h0m.1-1h0m.1 .7h0m0-1.7h0m.1 1.4h0m0-.5h0m.1-1.8h0m0 2.5h0m.1-3.1h0m0 1.5h0m.1 1.2h0m0 .8h0m.1 .5h0m.1 1.7h0m0-.6h0m.1 1.3h0m.1-.6h0m.3-1.3h0m.1 2.2h0m0 1h0m.1-2.7h0m0-1.1h0m.1 1.7h0m0-.7h0m.5 1.9h0m0-1.7h0m.1 1.2h0m0-.7h0m.1 .8h0m.1-2.1h0m.1 2.2h0m0-2.9h0m.1 1.6h0m.1-.6h0m0-1.1h0m.1 3.1h0m.1-3.8h0m0 2.8h0m.1-1.1h0m0-1.6h0m.1 2.5h0m0 .9h0m.1-1.2h0m0 .5h0m.1 1.7h0m0-3h0m.1 1.3h0m.2-1.2h0m0 1.1h0m.1-.7h0m.2 1.3h0m.1-1.3h0m.1 1.1h0m0-1.5h0m.1-.9h0m.1 1.2h0m.1 1.3h0m0-1h0m.2-2.7h0m.1 .8h0m.1-1.4h0m0-1.2h0m.1 .8h0m.1-.5h0m.1 .7h0m0 .9h0m.1 2.5h0m0-2.1h0m.1 .8h0m0 .7h0m.1-.7h0m0 2.1h0m.1-.5h0m.1 2.2h0m.1-.6h0m.1 .6h0m.1 1h0m.1 1.8h0m0-1.7h0m.1-1.4h0m.1-1.1h0m0 1.2h0m.1 1h0m.1 2.2h0m.1-1.1h0m0 1.4h0m.1-1.2h0m.1 .5h0m.1-.9h0m0 .9h0m.2-1h0m.1 1h0m.2-1h0m.2 .9h0m0-1h0m.1 .6h0m.1-.9h0m0 .5h0m.1-.6h0m.3-1.5h0m.1-1.4h0m.1 .6h0m0-.7h0m.1-1.9h0m0-.9h0m.1 1h0m0-.7h0m.1 2h0m0-1.2h0m.1 2h0m0-1h0m.1-1.5h0m.1 .9h0m0-.9h0m.1-1.1h0m0 .9h0m.1-1.6h0m0 1.4h0m.1-2.2h0m0 1.8h0m.2-1.4h0m0-1h0m.1 3h0m0-2.2h0m.1 .9h0m.1 1.5h0m0-.8h0m.1-1.6h0m0 2h0m.1-3.4h0m.1 1.4h0m0-.6h0m.1-2.3h0m0 .8h0m.1-1.4h0m0 1.4h0m.2-.6h0m.1 .9h0m0-1h0m.1 .6h0m.1 1.8h0m0-1h0m.1-1.6h0m.1 1.2h0m.1 1.7h0m.1-.8h0m.1 1h0m.2-.7h0m.1 1.7h0m.2-.8h0m.1 1.1h0m0-.8h0m.1-1h0m.1 1.9h0m.1 1.9h0m.4 .7h0m.1-.8h0m0 1.5h0m.1-1.4h0m.2-.7h0m.1 1.2h0m0 .7h0m.1-1.3h0m.1 1.3h0m0-1h0m.1-.6h0m0 .9h0m.1-.9h0m0-.5h0m.1 1.1h0m.1 1h0m.1-2.5h0m.1-.9h0m0-1h0m.1-2.5h0m.1-.7h0m0 .7h0m.1-.9h0m0-1.4h0m.1-1.3h0m.2-2.7h0m.1-2.8h0m.1-1.8h0m.2-3.4h0m.1-.8h0m.1 2h0m0-2.7h0m.1-.8h0m.1-2.8h0m0 .5h0m.1-4.1h0m.1 1.6h0m.1-4.2h0m0-4h0m.1 5.8h0m.1-4.7h0m.1-2.5h0m.1-1.7h0m.1-4.2h0m.1-1h0m0 1.2h0m.1-1.1h0m.1-3.2h0m0 1.2h0m.1 3.4h0m.1 3.4h0m0-1.2h0m.1 4.2h0m.1-.9h0m.3 6.4h0m.1 2h0m.1 3.1h0m.1-2.7h0m0 2.5h0m.1 2.2h0m0-.7h0m.1 1.8h0m0 1.5h0m.1 1.5h0m0 1.8h0m.1 .6h0m.1 1.2h0m.1 2.6h0m.1 .5h0m.1 3.6h0m0-1.6h0m.1 1.6h0m.1-.7h0m.1 1.9h0m.1 3.4h0m0-1.3h0m.1 .7h0m0 .7h0m.1-1.3h0m0 .8h0m.2-1h0m0 1.1h0m.1 1.6h0m0-.7h0m.1 .9h0m0 1h0m.1 .7h0m0-1.2h0m.4 1.9h0m0-.7h0m.2 .9h0m0 .8h0m.1-1.4h0m.2 1.1h0m0 1.1h0m.3-.6h0m0-1.5h0m.1 .5h0m.1 3.8h0m0-1.2h0m.1 1.4h0m0-.7h0m.2 1.5h0m.2 1h0m.1 .7h0m.2 1.4h0m.2-.8h0m.3 .6h0m.3 .6h0m0-.7h0m.1 .5h0m0 .6h0m.1 .7h0m.1-.6h0m0-1.2h0m.1-1.3h0m.1 .6h0m0-.5h0m.1 1.5h0m.3 .9h0m.4-.8h0m.1-2.5h0m.2 1.3h0m.3-.9h0m.2-1h0m.1-.6h0m0 1.4h0m.1-1.6h0m.2 1.1h0m0-1.3h0m.2-1.1h0m.1-.7h0m.1 .9h0m.1-1.2h0m.1-1.4h0m.1-.9h0m0 1.6h0m.1 .7h0m.1-1h0m.1-.9h0m.1-1.1h0m.1 1.2h0m.1 2.4h0m.1-1.8h0m0 4.3h0m.1-1h0m.1 1h0m0 1.2h0m.1-1.2h0m0-.7h0m.1 1.6h0m0 .8h0m.1-.7h0m0 1.6h0m.1-2h0m.1 .6h0m.1-1.9h0m.1 1.2h0m0 1.7h0m.1 1.4h0m.1-1h0m0 1.4h0m.1 .5h0m0-.5h0m.2 .7h0m.1-.8h0m.2 .7h0m.1 .7h0m0-1.6h0m.1 2.2h0m0-1.4h0m.1-.7h0m0 1.9h0m.1-1.9h0m.1-.8h0m.1 .8h0m.1 1.3h0m.1-1h0m.1 .9h0m0-.7h0m.1-.5h0m0 .9h0m.1-.6h0m0-.9h0m.1-.6h0m.1-1h0m.1 1h0m0-1.4h0m.3-.7h0m.2 1.4h0m.1-1.6h0m0 .8h0m.1-.9h0m0 2h0m.1-1.6h0m0-1h0m.1-.6h0m.1-1.5h0m.1-.6h0m.3-1.3h0m0 .7h0m.1-1.1h0m.2-1h0m.1 .7h0m.3-1.6h0m.1-2h0m0 .9h0m.1 2.6h0m0-3.6h0m.1 .8h0m.1-1.4h0m0 3h0m.1-1.4h0m0-1.7h0m.1 .8h0m0-2.1h0m.1 .6h0m.1-1.6h0m0 2.5h0m.1-2.3h0m0-1.7h0m.1-1.1h0m.1-1.5h0m0 .9h0m.1 .6h0m.2-1.1h0m0-.7h0m.1-.6h0m0 1.3h0m.1-1.5h0m0-.6h0m.1 1h0m.1 .7h0m.1-1.3h0m0-1.1h0m.1 1h0m0-.7h0m.1 1h0m0 .7h0m.1 2.4h0m.1-.5h0m.1 .8h0m0-.8h0m.1 1.4h0m0-1.5h0m.1 .7h0m.2-1.8h0m.1-2.6h0m.1 2.3h0m0 2.9h0m.1 .8h0m.1 2.3h0m0-2.1h0m.1 1.1h0m.3 1.4h0m.1 .6h0m.4-.1h0m.1 1.5h0m.1 .9h0m.1 .8h0m.1 .8h0m0 1h0m.1 1.3h0m.1-1.5h0m0 .7h0m.1-1.3h0m0 .5h0m.4 2.8h0m0-1.2h0m.3 1.1h0m0-.8h0m.1-1.5h0m.1 1.5h0m.2 .9h0m.3 1h0m.1 .9h0m.2-1h0m.2-1.6h0m.1 1.1h0m0-1.2h0m.2 2.7h0m0-1.4h0m.2 .7h0m.2 .8h0m0-1.4h0m.1 1.1h0m.2-.6h0m.1-.8h0m.1-.9h0m0 1h0m.2 1.9h0m.1-.9h0m.1 .8h0m.1-1h0m0 .9h0m.1-1.1h0m.3 1.2h0m.3 1.2h0m.3-1.2h0m0 1.7h0m.1-1.6h0m0 1.9h0m.1 1.1h0m.1-.8h0m0-1.5h0m.1 1.7h0m.1-.6h0m.1 .9h0m.1-.6h0m0 1.8h0m.1-.7h0m.1 2.1h0m.1-1.2h0m.1-.8h0m.2 .7h0m.1-1.3h0m.1 .9h0m.1-.7h0m0 1.4h0m.1 .9h0m.1 .7h0m.1-.8h0m0-1.6h0m.1 .7h0m.2-.9h0m.1-1.2h0m0 .8h0m.1-.7h0m0 2.4h0m.1-1.5h0m.1-2.4h0m.1 .8h0m0-1.7h0m.1 .7h0m0-1.7h0m.1 1.9h0m.1-2.6h0m.1-2h0m.1-2.1h0m.2 .5h0m.1-3.6h0m0 .6h0m.1 1.2h0m0-.6h0m.2-1.4h0m0-.8h0m.1 1.3h0m.1 .6h0m.1-2.2h0m.1 .7h0m.1-2.8h0m.1 .9h0m.1 1.5h0m.1-3.2h0m0-1.2h0m.1 2.2h0m0-.7h0m.1-2.5h0m0 1.8h0m.1-1.2h0m0-.7h0m.1-.7h0m.1 2.8h0m0-1.3h0m.1 1.8h0m.1-.9h0m0-1h0m.1-1.5h0m0 .6h0m.1-1h0m0 1.4h0m.1 1h0m.1-1.6h0m.1 1.9h0m.1-.7h0m0-1.1h0m.1-.7h0m0 .5h0m.1 1.6h0m0 .8h0m.1 1.3h0m0-.6h0m.1-1.4h0m0 1.6h0m.1 .7h0m0-.6h0m.1-2.6h0m0 3.2h0m.1 .6h0m.1-3h0m.1-.6h0m.1-1.5h0m0-.8h0m.1 .7h0m.1-2h0m0-1.4h0m.1 2h0m0-2.3h0m.1-1.3h0m0 1h0m.1-6.1h0m.1 4.1h0m.1-.9h0m.1 2.3h0m.1 2.5h0m.1 1h0m0 2.2h0m.1-1.2h0m0-.5h0m.1 .7h0m0-.8h0m.1-2.1h0m.1 1.2h0m.1 2.1h0m.1 1.1h0m.1 1.5h0m.3 2.6h0m0-2h0m.1 1.8h0m0 1.5h0m.1-2.3h0m0 .6h0m.1 .6h0m0 1.5h0m.1-1.2h0m0 2.5h0m.2-.8h0m0 1.3h0m.1 1h0m.1-1.5h0m0 1.2h0m.1-.8h0m0-1.9h0m.1 2.2h0m0 1.2h0m.2-1.7h0m.1-.8h0m0 1.6h0m.1 1.1h0m.1 2h0m.1-1.4h0m0-.9h0m.1 .6h0m0-.7h0m.2-.6h0m0-.9h0m.1 1.7h0m0 1.4h0m.1-1.8h0m.2 1.2h0m.1-1.7h0m.1-1.1h0m0-1.7h0m.1 2.8h0m.1 .8h0m.2 1.9h0m0-.9h0m.1 1.7h0m.1-.6h0m.1 1.4h0m.1-.7h0m.1 1.3h0m.1-.7h0m0-1.4h0m.1 .5h0m.1 1.1h0m.1-1.4h0m.1 1.2h0m0-1.5h0m.1 1.8h0m0-.6h0m.3-.7h0m0-.7h0m.1-.9h0m.3 1.7h0m.1-.8h0m0 2.1h0m.1-.9h0m0-2.2h0m.3-1.1h0m0 .5h0m.1 1.1h0m0-1.5h0m.1 1h0m.1-1h0m.2-1.1h0m.1 1.7h0m0-1.8h0m.1 .7h0m0-3.4h0m.1 .5h0m.2-1.2h0m.2-2.5h0m0 2.9h0m.1-.8h0m.1-.5h0m.1-2h0m.1-1h0m0 1.6h0m.1-1h0m.1-1.1h0m.2-1.9h0m0 2.9h0m.1-1.5h0m.1-1.9h0m.1 1.4h0m0 .6h0m.1-1.3h0m.1-1h0m0 .7h0m.1 .5h0m0-1.2h0m.1 1.3h0m.1-1.8h0m.4 1.1h0m0 .7h0m.1 1h0m0 1.3h0m.1 1h0m0 .7h0m.1-2h0m.1-.8h0m0 1.7h0m.1 .9h0m.1-1h0m0 1.1h0m.1-.8h0m.1-2.6h0m0 1.6h0m.1 .7h0m0-.6h0m.1 .9h0m.2 .9h0m.1 1.4h0m.1 2.2h0m0 .8h0m.1-1.7h0m0 3.6h0m.1-1.3h0m.2-1h0m.1-1.4h0m0 .6h0m.1-3.4h0m.2-2.8h0m.1-2h0m.1 1h0m0-2.9h0m.2 .7h0m0-2.1h0m.1-1.9h0m.1-1.3h0m.1-1.7h0m.1-.9h0m0-1.7h0m.1-1.2h0m.1-1h0m0-.9h0m.1-1.5h0m.1-4h0m0-.8h0m.1 2.3h0m0-3.3h0m.1-1.8h0m0 .8h0m.1-1.2h0m0 3.7h0m.1 1.5h0m0 3.5h0m.1 .5h0m0 1h0m.1-2.5h0m0 1.6h0m.1 2.3h0m0 .6h0m.1 .7h0m0 .8h0m.1 4.2h0m0-1.8h0m.2 1.6h0m0 2h0m.1 .7h0m0 .8h0m.1-3.5h0m.1 2.8h0m0 3.2h0m.1 1.4h0m0 1.9h0m.1-1.1h0m0 2.6h0m.2-.9h0m0 1.7h0m.2 1.6h0m.1-1h0m0 .6h0m.2 1.9h0m.1 1.5h0m.1 1.1h0m.1 .5h0m0 .5h0m.1 .9h0m.1-1.1h0m.1 1.2h0m0-1h0m.1-1.9h0m.1 2.8h0m.1-.7h0m.1 .8h0m.1-1.2h0m0 2.3h0m.1-.7h0m.1-.5h0m.1 1.1h0m.2-.7h0m.1 .8h0m0-.9h0m.1 1.2h0m0-1.5h0m.1 1.3h0m0 1.4h0m.1-2.4h0m0 .7h0m.2-.6h0m.2-1h0m0 .9h0m.1-.7h0m.2-1.1h0m0-1h0m.1 1.6h0m0-.6h0m.2-1.3h0m.1-.6h0m0 1.9h0m.1-1h0m0-1.2h0m.1-1.4h0m0 2.1h0m.1-2.1h0m.1-.7h0m.1 .6h0m0-2.7h0m.1 1.3h0m0-1.1h0m.1 1.3h0m0-.7h0m.1 .6h0m.1-5.3h0m0 1.8h0m.1-1.1h0m.1-.7h0m.1-1.1h0m0 .9h0m.1-1.6h0m.2-.6h0m.1-1.8h0m0-.7h0m.1 1h0m0-.8h0m.1 1.1h0m.2-2.6h0m.1-1.4h0m0 2.2h0m.2-.5h0m.1-1.7h0m.1 1.7h0m.1 1.2h0m0-2.1h0m.1-1h0m.1 2.2h0m.1-2h0m.1 1.6h0m.1 1.2h0m0 1.1h0m.1-.9h0m.1-.7h0m.1 1h0m0 1.3h0m.1-1.6h0m.1 2.5h0m.1-.7h0m.1 2.1h0m.1 .6h0m0 1.1h0m.1-.9h0m0 2.3h0m.1-.8h0m0-1.1h0m.1 1.7h0m.1 .6h0m0-1.3h0m.1 2h0m0-1.2h0m.1-.7h0m0 1.5h0m.1-1.2h0m0 .6h0m.2 1.2h0m.2-.6h0m.1 2.3h0m.1 1.6h0m.2-2h0m.2 1.5h0m0-2.7h0m.1 1.6h0m0 2h0m.1-1.8h0m.1-1.1h0m.1 .7h0m0-1.6h0m.1-.6h0m.1-1.7h0m0 2.1h0m.1 2.2h0m0-1.8h0m.1 .9h0m0-.6h0m.2-1.9h0m0 .8h0m.1-.9h0m.1-1h0m0-1.7h0m.1 2.7h0m0-1.3h0m.1 1.4h0m.1-1.2h0m.1 3.6h0m.1-1.6h0m.1 .6h0m.1 .7h0m0 .8h0m.2-.9h0m.1 .7h0m.1 1h0m0-1h0m.1 .8h0m0-.8h0m.1 3.1h0m.1-1.9h0m0 1.9h0m.1 1.1h0m.1-1.5h0m.1-1.7h0m0-.8h0m.1 2.3h0m0-2.2h0m.1 2h0m.1 1.4h0m.2-.6h0m.1-.6h0m0 1.1h0m.1 1.1h0m0 .6h0m.1 1.2h0m.1-.8h0m.2-1.3h0m.1-1h0m0 2.7h0m.1-.7h0m0 1.2h0m.2-.7h0m.1 1.4h0m.2-.6h0m.3-1.7h0m0 1.2h0m.1 1.5h0m.1 .6h0m.1 2.3h0m.2 1.3h0m.1-1.3h0m.1 2h0m0-1.8h0m.1 1h0m.2-1.6h0m.1 .6h0m0 1.4h0m.2-1.4h0m.1 2.1h0m.1-.7h0m0-.7h0m.1 .6h0m0-1.1h0m.1 .8h0m0 .7h0m.1 1.2h0m.1-1.6h0m0 1.1h0m.1-2.1h0m0 1.2h0m.1 1.2h0m.1 .6h0m0 .9h0m.1 1.1h0m.1-.9h0m0-.5h0m.1-.7h0m.1-.8h0m0 1h0m.2-1.2h0m.1 .5h0m0 .7h0m.1 .6h0m.1 .8h0m.1-1.1h0m.3 .8h0m0-.7h0m.1 1.6h0m.1-1.1h0m0 .9h0m.1-.6h0m.2-2.1h0m0-.6h0m.2-1.6h0m.1-1.2h0m.1 1.7h0m0-1.5h0m.2 1h0m.1 1h0m.1-.9h0m.1 1.3h0m0-2.5h0m.1-.8h0m.1-.8h0m.1 1.2h0m0-2h0m.1-1.1h0m.1-1.2h0m.1-1.3h0m.2-1.6h0m0-1.5h0m.1 1.4h0m.1 .9h0m0-.9h0m.1-1.6h0m.1-.6h0m0 .5h0m.1-1.5h0m0-2.4h0m.1 .7h0m0-2.6h0m.2-3.3h0m0 4.1h0m.1-2.7h0m0 .8h0m.1-1.8h0m.1 .6h0m.1 1.7h0m.1 2.9h0m.1-.6h0m.1 1.2h0m.1 2h0m.1 1.1h0m.1 .8h0m0 1.1h0m.1-.6h0m.1 1.7h0m.1 .6h0m.2-.9h0m.2 .6h0m0 1.9h0m.1 1h0m0-1.6h0m.1 1.5h0m.1 1.6h0m0-1.1h0m.2-.9h0m.2 .9h0m.2 2.9h0m.4-1.2h0m0-.7h0m.1 .8h0m.2-2h0m0 3.2h0m.3 .5h0m.2-1.9h0m.1 1.9h0m0-.6h0m.3 .6h0m.1 1.4h0m0-.9h0m.1-1.2h0m.1-1.1h0m.2 2.9h0m.1 .7h0m.2-1.1h0m.1-1.6h0m.1 1.5h0m.1-2.1h0m.1 .9h0m.1-1.6h0m.1-1.6h0m.1 2.1h0m.1-3.3h0m.2-1.9h0m0 .6h0m.2 .5h0m.1 .7h0m0-1.7h0m.1-1.8h0m.1 .7h0m0 .6h0m.1-1.3h0m0 1.1h0m.2 1.7h0m0-1.1h0m.1-2.1h0m.1-.6h0m.1-.6h0m.1-1.2h0m0-1.1h0m.2 1.3h0m.2 1.6h0m0 .5h0m.1-2.3h0m.1 .8h0m.1 .9h0m.1 1.3h0m.2 .8h0m0-2.2h0m.2 .6h0m.1-.5h0m0-1.5h0m.1-.7h0m.2-.9h0m.1 1.2h0m.1-1.3h0m.1-.7h0m.1-1.3h0m.1 1.9h0m.1-1.3h0m.1 2.5h0m.2 3.5h0m.1 .6h0m0-.7h0m.1 .7h0m.1-1.7h0m.1-.7h0m0 .9h0m.1-.8h0m.1 1h0m.1 .7h0m.3 2.9h0m.2 1h0m.1 .9h0m0 .6h0m.1 1.6h0m0-1.4h0m.1 .6h0m.1 .7h0m.1-1.3h0m.1 2.8h0m.1-.8h0m0 1.4h0m.1-1.2h0m.1 .7h0m.1 1.2h0m.1-1.6h0m.1 .7h0m.1-.6h0m0 .7h0m.1 1h0m.2-1.3h0m.1 .9h0m.2 1.3h0m.1-2.9h0m.5 .2h0m0-.6h0m.2-2.1h0m.2-1.8h0m.1 2.5h0m0-1.9h0m.1-.8h0m.1-1h0m.2-.6h0m0-.5h0m.1-1.1h0m.1-1h0m0-.8h0m.1 .6h0m.1-3.2h0m0 1.5h0m.1-1.3h0m.1-1.2h0m0-1.4h0m.3-1.7h0m.1-1.2h0m.1-.6h0m0-1.6h0m.1-1.5h0m.1 2.7h0m.1-1.4h0m.1 1.6h0m0-3.2h0m.2-.7h0m0-3.5h0m.1-1.7h0m0-.6h0m.1-.5h0m.1-.8h0m0 2.3h0m.3-7.8h0m.1 1.9h0m.1-3.3h0m.3-4.4h0m0-1.1h0m.3-7.5h0m.1-.9h0m.1 5.5h0m.1 4.8h0m0-2.6h0m.1 4.6h0m.1 2.7h0m.1 .5h0m.1 1.1h0m.1 1h0m.2 1.6h0m.1 5.2h0m0 1.5h0m.1 1.7h0m.1-1.3h0m.1 1.9h0m.1 2.6h0m.2-1.1h0m0 2.2h0m.2-.7h0m0 2.1h0m.1 .7h0m.2 3.4h0m.1 2.4h0m.2 .9h0m.1-.8h0m.2-1.8h0m.1 .9h0m0-.7h0m.1 .8h0m.1 1.6h0m.2 .8h0m.3-1.3h0m0-.6h0m.2-1.1h0m.2 .6h0m0-.8h0m.1-.8h0m0 3h0m.1-2.7h0m.1 1.7h0m.1-.8h0m0 .6h0m.1-1h0m0 2h0m.1-1.9h0m0-1h0m.2-1.7h0m.3 1.8h0m.2-1.2h0m.2 .5h0m.1-1.3h0m.1-.5h0m0-.6h0m.1 1.6h0m.1 1.3h0m0 .7h0m.2-4.9h0m.1 2.7h0m.2-3.6h0m.1-1.7h0m.1 1.6h0m.2 .5h0m.1 1.7h0m.1 2h0m.1-1.9h0m.1 .7h0m0-1h0m.1 2.7h0m.1-1.2h0m.1-2h0m0 1.8h0m.1 .7h0m.1-1.8h0m0 3.5h0m.1-3.4h0m.1 1.3h0m0-.6h0m.2 2.8h0m.2 1h0m.2-.6h0m.1 1.5h0m.2 .9h0m.2-1.7h0m0 1.1h0m.1-.6h0m0-.8h0m.1-.7h0m.1 1.7h0m0-.5h0m.1 .7h0m0-1.2h0m.1 .5h0m.1-.5h0m.1 1.5h0m.1-.9h0m.1-1.4h0m.1 1h0m0-1.9h0m.1 .7h0m.2-1h0m.4 1.9h0m.1-1.8h0m0-1.7h0m.1 .6h0m.1 .7h0m.1 2.2h0m.1-4.2h0m.3-1.2h0m.2-1.7h0m.1 1.8h0m.1-1.6h0m.1 1.9h0m.1-3.7h0m.1-.8h0m.2-1.5h0m.1 .9h0m.1-1.5h0m.2-.8h0m.1 2.9h0m0-2.6h0m.2-1.9h0m.1 3.3h0m0-4h0m.2 1.1h0m.1-.8h0m0-.6h0m.1-.9h0m.1 1.6h0m.1-1.4h0m.1 1.9h0m0-1.2h0m.1-.8h0m0-.8h0m.3 2.6h0m.1-2.7h0m.1-3.4h0m.1 4.2h0m0-1.1h0m.1-.7h0m0-2h0m.1-1.7h0m.1 .9h0m0-.7h0m.2-.9h0m.1-2.5h0m.1 3.8h0m.1 3.1h0m.1 1.7h0m.1 3.6h0m.1 1h0m0-2.1h0m.2-1.1h0m0 2.2h0m.2 1.3h0m.1-1.5h0m0 1.7h0m.1-.6h0m0 2.1h0m.1-1.5h0m.1 .6h0m.1 3.1h0m.1 1.4h0m.1 .9h0m0 1.2h0m.1-2.6h0m.2 5.4h0m.1 .5h0m0-.9h0m.1-2.3h0m.1 3.4h0m.1 1.2h0m0 2.4h0m.1-2.8h0m.1 2.7h0m.1-.6h0m.1 1.3h0m.1 .7h0m.1 1h0m.2 1h0m.1 1h0m0-.8h0m.2 2.5h0m.1 1.2h0m0-.8h0m.1 1h0m0-1.5h0m.1 .8h0m0 .7h0m.1-1h0m0 .8h0m.2-1.2h0m.2-.8h0m.1-.8h0m.2-.5h0m0-.9h0m.1 1.5h0m.1-1.5h0m.1-1h0m0 .6h0m.1-1h0m0-.6h0m.1-1.2h0m.1 .5h0m.1 .7h0m0-.6h0m.1-1.1h0m.1-3.8h0m.1 .9h0m.1-2.2h0m0 1.6h0m.2-1.2h0m.1-1.9h0m.2-1.3h0m0-1.6h0m.1 2.3h0m.2 1h0m0-1.8h0m.1 1.9h0m.1 2.1h0m.1 1h0m0-2.7h0m.1 2.4h0m0 1.7h0m.1-.8h0m0 1.2h0m.3 .8h0m0-2.7h0m.1 2.5h0m.1 .6h0m.1-1h0m.2 1h0m0-2.1h0m.1 2.3h0m0 .8h0m.1 .9h0m.1 .6h0m0 1.1h0m.1 2h0m.1-.6h0m.1-.6h0m.1-1.7h0m0 .7h0m.1-2.1h0m.1 1h0m.1 .9h0m.1-.5h0m0 1.4h0m.1-1h0m.1 .8h0m.1 1.2h0m0-.7h0m.1-1.3h0m.1 .6h0m.1-1.1h0m.1-.9h0m0 .5h0m.1-1.8h0m0 1.5h0m.1-1.3h0m0-1.1h0m.1 .9h0m0-2.2h0m.2-.5h0m.1-2.3h0m.2 .6h0m0-1.1h0m.1 1h0m0-.5h0m.1 .7h0m.1-.6h0m0 1h0m.1-.5h0m0 .6h0m.2 .6h0m0-1.9h0m.1 1.7h0m0-1.6h0m.1 2.6h0m0 1.4h0m.1-.7h0m.1 1.2h0m0 1.7h0m.1 .8h0m0-4.4h0m.1 2h0m0-2.4h0m.2 1.7h0m0-2.8h0m.1-.8h0m.1-3.1h0m0 .7h0m.1 .6h0m.1-3.3h0m.1 1.1h0m.1-2.5h0m0-2.1h0m.2-1.2h0m.1-1.4h0m.1 4.3h0m0-2.7h0m.1-3h0m.1 2.1h0m0-.6h0m.1-1.1h0m.1-2.6h0m.2-3.8h0m.1 2h0m0 1.6h0m.1-.5h0m0-2.5h0m.1 2.4h0m.1 3.8h0m0 .7h0m.1-1.3h0m0 2.4h0m.1-3.5h0m.1 .5h0m0 .6h0m.1-.6h0m0 6.1h0m.1-1.7h0m.1-2h0m0 3.2h0m.1-1.9h0m.2 1h0m0 2.8h0m.1 2.5h0m0-2.8h0m.1-1.9h0m.1 4.7h0m0-1.4h0m.1-2.2h0m.1 .8h0m.1 1.8h0m0-1.4h0m.1-1.5h0m.1 5.8h0m.1-1.6h0m0-1.8h0m.1 1.7h0m.2-2.1h0m.2 2.6h0m0 2.2h0m.1-.9h0m.1-1.1h0m0 2.5h0m.1-3.9h0m0 3.4h0m.1 1.2h0m0-2.2h0m.1-1.2h0m0-.7h0m.1 .7h0m.1 1.9h0m.1 3.1h0m.1 3h0m.1-1h0m.3 2.8h0m.1-4.4h0m0 3.9h0m.1-1.3h0m.1 .6h0m.1 1.4h0m.1-2h0m0-3.9h0m.1 1.8h0m0 1h0m.1-1.4h0m0-.7h0m.1-1.7h0m0-3.6h0m.1 1.4h0m.1 2.4h0m0-6.3h0m.1 .7h0m0 1.7h0m.2-5.2h0m.1 6.9h0m0-4.4h0m.2-2.7h0m.1-.8h0m.1-.7h0m.1-1.4h0m.1-4.1h0m.1-.7h0m.1 5.2h0m0-1.5h0m.1 .7h0m0-1.5h0m.1 3h0m0-2.1h0m.1 3.2h0m0-1.4h0m.2 4.8h0m0-1.7h0m.1-3.8h0m.1 7.5h0m0-7.2h0m.1 2.4h0m0 5.3h0m.1-1.4h0m.1 5.6h0m.2-1.6h0m.1-1.8h0m0 .8h0m.1 3.7h0m.1-4.8h0m0 5.4h0m.1-1.6h0m.1 1.8h0m.2-4.9h0m.1 4.5h0m0 1.3h0m.1-2.4h0m.1 2.2h0m0-.8h0m.1 .7h0m.1-1.9h0m.1-.7h0m0 2.9h0m.1 3.1h0m.1-5.4h0m.1 1.9h0m.1-.6h0m.2 .6h0m0 2.6h0m.1-3.7h0m.2-1.1h0m0 2.6h0m.1-2.9h0m.1 2.3h0m.2-.8h0m.1-3.7h0m.1 2.7h0m.1 2.1h0m.1-2.2h0m0-2.4h0m.1-1.6h0m0 3.8h0m.2-1.3h0m.1 3.1h0m0-3.7h0m.3 .6h0m.1 1.5h0m.2-2.6h0m.1 4h0m.1-1.2h0m.1 2.1h0m.1-7h0m0 4.4h0m.1-1.2h0m.1-4.2h0m.1-3.9h0m.1 6.6h0m.1 .6h0m.2 1.3h0m.2-2.4h0m.1-3.7h0m0 4.4h0m.1 1.5h0m0-1.3h0m.1-2.7h0m0 2.9h0m.1 2.3h0m.1-2.7h0m0 1.5h0m.1-1.4h0m0 2.4h0m.1-5.5h0m0 2.1h0m.1-.9h0m.1-.6h0m.1-.7h0m0 .6h0m.1-1.4h0m.1-2.9h0m.1 1.2h0m.1-3.1h0m0-1h0m.1-1.6h0m0-3.3h0m.1 1.8h0m.1 2.9h0m0-3.5h0m.1-2.5h0m0 2h0m.2-1h0m.1-6h0m.1 4h0m.1-.8h0m.1-1.3h0m0-.8h0m.2 3.7h0m0 6.6h0m.1-4.3h0m.1-2.5h0m0 8.7h0m.2-4.4h0m0 1.4h0m.1 4.9h0m.1-1.9h0m.1-3.6h0m.1-2.7h0m.1-2.2h0m.1-1.8h0m.1 .8h0m.1 1.5h0m.1-4.4h0m.1 4.6h0m0-1.7h0m.1 4h0m.1-2.7h0m0 .5h0m.1 1.4h0m0 8.1h0m.1 2.2h0m.1-6.5h0m.1 2.7h0m0 .9h0m.1 1h0m.1 1.2h0m.1-4.2h0m.1 3h0m.1-.8h0m0 .8h0m.1 3.6h0m.1-1.6h0m0 .9h0m.1 4.9h0m.1-1.3h0m.1 .6h0m.1-.7h0m0 5.4h0m.3-3.3h0m0-1.6h0m.1 4.3h0m.1-2.6h0m.1 3h0m.1-2.8h0m.1 3.3h0m.2 1.8h0m0 .7h0m.1-1.2h0m0-2.6h0m.2-1.9h0m.2 .7h0m.1-1.3h0m0-1.5h0m.1 1.4h0m.1-4.9h0m.1-3.5h0m.1 3.2h0m.1 4.5h0m0-3.1h0m.1-.6h0m0 .5h0m.1 2.2h0m0-1.8h0m.1-3.7h0m0 2.9h0m.2 1.2h0m.2-2.9h0m.1 2.9h0m.1-6.6h0m0 1.9h0m.1-1.1h0m.1-.8h0m.1 1.3h0m.1 1h0m.1-1.3h0m0 6h0m.1-5.2h0m.1 3.1h0m0-.6h0m.1-.6h0m.1 1.5h0m.1 3.9h0m0 .5h0m.3-1.7h0m.1 2.3h0m0-5.2h0m.1-.7h0m0-.7h0m.1 5.8h0m0-2.4h0m.1-1.1h0m0-3.5h0m.1-2.1h0m0-1.3h0m.1-4h0m.1-3.2h0m0 3h0m.1-3.5h0m0 1.8h0m.1 5.4h0m.1-9.5h0m.1-1.7h0m0 2.8h0m.1-1.4h0m.1-3.3h0m.1-2.9h0m.1-3.7h0m0 4.2h0m.1-10.2h0m.1-.7h0m0 3.9h0m.1-1.1h0m0 4.7h0m.1-3.4h0m.1 8.6h0m.1-2.7h0m.1 4h0m0-3.4h0m.1 .8h0m0 1.1h0m.1 3.9h0m0-3.9h0m.1 4.9h0m.1-2.3h0m0 4.5h0m.1-3.4h0m0 2.3h0m.1 4h0m.1 2h0m.1 2.4h0m.1 1.3h0m0-3.9h0m.2 1.3h0m0 4.9h0m.1 .7h0m.1 3.1h0m.1-2.9h0m0 4.5h0m.2-2.4h0m0 1.6h0m.1 4.4h0m0-1.2h0m.1 1.2h0m.1 .8h0m0-2.4h0m.1 .9h0m.1 1.7h0m.1-2h0m0 1.1h0m.1 1.3h0m.1 .8h0m0-1.3h0m.1 3.3h0m0 3.7h0m.1-3.9h0m0-1.1h0m.1 4.3h0m0-2h0m.1 1.3h0m.1 2.9h0m.1 2.8h0m.1-3.6h0m0-3.1h0m.1-.7h0m.1-3.2h0m.1-4.7h0m.1-4.4h0m.1 .6h0m0 2.2h0m.2-5.7h0m.1-2.5h0m.2-3.6h0m.1 2.4h0m.1-8.4h0m.1 3.2h0m0 .9h0m.1 .5h0m0 1.6h0m.1-2.4h0m0 4.9h0m.1 2h0m.1 .7h0m.1 2.1h0m0 .9h0m.1 6h0m0-4.8h0m.1-1.6h0m.1 4.9h0m0-2.5h0m.1-1h0m.2 2h0m.1 .6h0m.1 2.1h0m0-2.2h0m.1-1.1h0m.1 4.2h0m.2-.6h0m.1 .9h0m.1-3.2h0m.1 1.9h0m0 .9h0m.1-1.3h0m.1 2.3h0m.1-2h0m0 4.4h0m.1-1h0m0-2.9h0m.1 2.2h0m0-5.3h0m.1 2.2h0m0-1.8h0m.1 1.7h0m.1-1.6h0m.1 6.6h0m.1-5.2h0m0 4h0m.2 1h0m0 2.7h0m.1-3.5h0m.2 .5h0m0 1.1h0m.1-3.9h0m.1 6.8h0m.1-1h0m.1 1.3h0m.1 .8h0m.1-1h0m.1-1.8h0m0-1h0m.2 1h0m0-4.3h0m.1-2.3h0m.1 2h0m0-4.5h0m.1-4h0m0 1.7h0m.1-3.3h0m.1 4.2h0m.1 .8h0m.2-7.2h0m.1 4.1h0m.1-4.7h0m0-3.6h0m.1-.8h0m.1 3.3h0m.1-3.8h0m0-1.4h0m.3 2.4h0m.1 7h0m0 .9h0m.1-4.9h0m.1 4.9h0m.1 1.1h0m.1 1.9h0m.1 1.2h0m.1-1.9h0m0-1.1h0m.1-3.5h0m0 5.9h0m.1-7.5h0m.2 2.1h0m0-5.5h0m.1 3.9h0m0-5.9h0m.1 4.3h0m.1 .6h0m.1-.7h0m0-2.8h0m.1 2.2h0m.1-4.7h0m0 1.2h0m.2-6.7h0m.1 5.5h0m.1 2.8h0m0-11.9h0m.1 9.3h0m0-3.3h0m.1 4.2h0m0 .9h0m.1 2h0m0-5.6h0m.1 8.1h0m0 1.4h0m.2-.6h0m.1-5h0m.1 3.3h0m0-5.6h0m.1 4.6h0m.2-4.6h0m0 6.1h0m.1-1h0m.2 1.6h0m0-5.8h0m.1 2.8h0m0-4.6h0m.1 2.7h0m0-5.6h0m.1 3.3h0m0-1h0m.1-1.4h0m0-2.2h0m.1 .9h0m.1-2.5h0m.1-4.1h0m.2 1.1h0m.1-.9h0m0 6.2h0m.1-1.6h0m.1 1.5h0m.1-1h0m0 9.3h0m.1-1.8h0m.2 2h0m.1 3.7h0m0-.9h0m.2 7.2h0m.1-4h0m0-1.6h0m.1 6.4h0m.1-3.9h0m0 4.9h0m.2-2.5h0m.1 4.3h0m0-3.2h0m.1 3.6h0m0-3.1h0m.1 1.1h0m.1 .7h0m0 2.7h0m.1 1.4h0m.1 1h0m.1-3.2h0m.1 4.2h0m0-3.1h0m.1 .9h0m0 2.7h0m.1-3.7h0m.1-3.8h0m.1-5.5h0m.1 3.3h0m.1-1.9h0m.1-8.7h0m.1 6.1h0m.1-3h0m0-1.2h0m.1-1.1h0m.1-4h0m.1 2.3h0m.1-6.5h0m.1 3.3h0m0-6.5h0m.1 4.9h0m.1-6.7h0m0 4.1h0m.1-1.5h0m.1-11.4h0m.1 6.6h0m0-2h0m.2 5.3h0m.1 1.9h0m.1-7.1h0m0 5.6h0m.1-5.5h0m.1 6.9h0m0-2.6h0m.1 8.1h0m.1 3.9h0m0-2.8h0m.1 2.7h0m.2-1.4h0m.1 6h0m.1-.7h0m0 3.4h0m.1-7.3h0m.1 8.5h0m.1-7.5h0m.1 2.8h0m.1 4.3h0m0 1.5h0m.1 6h0m.1-4h0m.2 3.2h0m0-.7h0m.1 1h0m0 4.1h0m.1-3h0m.3 1.6h0m.1 4.5h0m.1-4.2h0m0 4.8h0m.1-1.5h0m.1-3.6h0m0-1.1h0m.1-1.2h0m0-.6h0m.1-.6h0m.2-7.7h0m0 1.7h0m.1-2.1h0m.1 .7h0m.1 1.3h0m.1 1.3h0m0 3.5h0m.1-2.7h0m.1 .6h0m.1 .7h0m0-.6h0m.1 .6h0m0 2h0m.1-1.9h0m.1 1.9h0m0-4.2h0m.1-2.6h0m.1-1.4h0m.1-2h0m.1 2.5h0m0-4.7h0m.1 3h0m0 1.7h0m.1-5.4h0m0 2.7h0m.1-6.9h0m0 4.4h0m.1-4h0m0 3.7h0m.1-6.2h0m0-3.9h0m.1-2.8h0m.1 3.1h0m.1-2.4h0m.1-4.1h0m.1-3h0m.1 7.4h0m.1 1.7h0m0 1.8h0m.1-1.2h0m.1-.6h0m.2 5.7h0m0 8.1h0m.2-8h0m0-2h0m.1-3.1h0m0 5.5h0m.1-5h0m0 2.6h0m.1-1.9h0m0-.6h0m.1-6.2h0m.1 4.3h0m0 1.1h0m.1 3.2h0m0-6.6h0m.1 4.3h0m.1 6.3h0m.1-3.7h0m.1 7.5h0m0 1.9h0m.1-5.6h0m0 6h0m.1-3.3h0m0-2.7h0m.1 7.8h0m.1-3.9h0m0 .8h0m.2 6.2h0m.2-3.5h0m0 3.7h0m.1-1.7h0m.1-.6h0m0 3h0m.1 .6h0m.1 6.8h0m0-6.4h0m.1 5.2h0m.1-6.9h0m.1 1.3h0m0-4h0m.1 .8h0m0-3.1h0m.3 7.2h0m0-2.3h0m.1-3.1h0m0 6.1h0m.2-2.3h0m0-3.5h0m.2-.6h0m.1-6.4h0m0 7.3h0m.1-10.4h0m.1-1.2h0m.1 3.7h0m.1-5.5h0m.1-4.4h0m.1 13.4h0m0-8h0m.1 5.3h0m0-14.1h0m.1 6.9h0m0 1.3h0m.1-7.3h0m0-1.3h0m.1 5h0m0-2.6h0m.1-2.6h0m.1-6.2h0m0 6.7h0m.1-3.2h0m0-5.1h0m.1 2.4h0m.1-8.4h0m.1 4.2h0m0-4h0m.1 6.2h0m0-3h0m.1-7h0m.1 7.2h0m0 1h0m.1-11.9h0m.1-3.9h0m0 14.3h0m.1-1.6h0m0-10.3h0m.1 1.4h0m0 3.1h0m.1-4.1h0m0-4.7h0m.1 10.5h0m.1-7.4h0m0-1h0m.1-3.9h0m.1 6.3h0m.1 5.1h0m.1 3.9h0m0-2.7h0m.1 7.1h0m0 3.5h0m.1-2.1h0m0-6.7h0m.1 2.5h0m0 2h0m.1-4.6h0m0 5.8h0m.1 3.8h0m.1 6.4h0m.1-3h0m.1-1.3h0m0 2.1h0m.1-.9h0m0 3h0m.1 1.8h0m0 .9h0m.1 2.1h0m.1 4.3h0m0-1h0m.1-3.8h0m0 5.3h0m.1-4h0m.1 2.6h0m0 4.6h0m.1-3.7h0m0 .9h0m.1-1.6h0m0-1.1h0m.1 .8h0m.1 1.3h0m.1 1.6h0m.1 3.7h0m.1-1.7h0m0-1.2h0m.1 6.3h0m0-8.8h0m.1 6.2h0m0-1.3h0m.1 7.8h0m0-5.6h0m.1 4.1h0m0-1.6h0m.1 3.2h0m.1 2.3h0m.1-1.6h0m0 1.3h0m.1 1.5h0m0-3h0m.1-3.9h0m0 4h0m.1 1.7h0m0-1.4h0m.1 1.9h0m.1 1.1h0m0-4.5h0m.1-.9h0m0 5.7h0m.1 1.5h0m.1-2h0m0 .6h0m.1-1.8h0m0 3.1h0m.1-.8h0m.1-2h0m.2 4.5h0m0-5.2h0m.1 .5h0m0 4.3h0m.1-4.6h0m0 1.4h0m.1-1.7h0m0 1.7h0m.1-4.8h0m0-.7h0m.1-1.1h0m.1-.6h0m0-.9h0m.1-1.9h0m0 2.6h0m.1 2.3h0m.1-5.7h0m0 1.9h0m.1-5.2h0m0 2.1h0m.1 2.6h0m0-5h0m.1 1.2h0m.1-5.4h0m0 2.2h0m.1-1.1h0m0-2.1h0m.1 1.6h0m0-5.5h0m.1-.6h0m0-3h0m.1-5.4h0m0 6h0m.1-5.7h0m0-7.2h0m.1 5.5h0m.1-2.5h0m0-3.9h0m.1 4.5h0m0-2h0m.1 9.9h0m0-5.9h0m.1 7.4h0m.1-1.5h0m0 6.4h0m.1-6.2h0m0 6.6h0m.1 3.4h0m0-4.6h0m.1 .9h0m.1 7.6h0m0 3.7h0m.1-4.3h0m0 5.5h0m.1-5.1h0m.1 7.7h0m.1-4.9h0m0 2.7h0m.1 3.2h0m0-1.3h0m.1-1.7h0m.1 2.6h0m0-5.1h0m.1-1.9h0m0 4.7h0m.1 3.8h0m0-1.3h0m.1 1.1h0m0 2.9h0m.1-1.2h0m0-3.1h0m.1 5.6h0m.1 1.4h0m.1-1.7h0m.1-.9h0m0 .9h0m.1-1.9h0m0 .9h0m.1-3.6h0m.1-7h0m.1 1.3h0m0 6.1h0m.1-8.1h0m0 4.4h0m.1-2.2h0m.1 .6h0m.1-1.8h0m.1-3h0m0 3.5h0m.1-2.8h0m.1-10.3h0m0 6.6h0m.1-6.9h0m0 3.8h0m.1-5.7h0m0 6.3h0m.1-9.7h0m.1 6.2h0m.1-1h0m0-2h0m.1-1.3h0m0 2.7h0m.1 2.6h0m0-.6h0m.1 4.7h0m0 .6h0m.1 2.9h0m.1 3.6h0m0 2.1h0m.1 1.9h0m0 2.6h0m.1-2.7h0m0-.6h0m.1 3.5h0m.1 3.3h0m0 1.7h0m.1-.9h0m0 .7h0m.1 2.4h0m.1 4h0m.1-3.8h0m0 6.4h0m.2 .9h0m0 2.1h0m.1-11.9h0m.1 7.9h0m.1-4.9h0m0-1.2h0m.1-3.7h0m.1-1.2h0m.1-4.1h0m.1-3.1h0m0-1.6h0m.1-1.6h0m.1-.5h0m0-2.5h0m.1 2.1h0m0 1.2h0m.1-7.2h0m.1-4.4h0m.1-1h0m0-5.8h0m.1 1.3h0m0-2.7h0m.1-3.9h0m0-4h0m.1-1.2h0m.1-2.6h0m0 3h0m.1-3h0m0-3.4h0m.1-3.4h0m0 2.5h0m.1-11.3h0m.1 4.2h0m0-11.1h0m.1 4.4h0m0 1.4h0m.1-4.2h0m0-1.2h0m.1-10.7h0m0 9h0m.1-7.5h0m0 6.5h0m.1 4.6h0m0-.6h0m.1 5.3h0m0 3h0m.1 5.1h0m0-8.5h0m.1-4.8h0m0 17.3h0m.1-3.1h0m.1-6.2h0m0 1.1h0m.1 3h0m0 8.5h0m.1-4.7h0m0 6.7h0m.1 5.7h0m0-3.8h0m.1-1.2h0m.1 8.7h0m0 3.1h0m.1-2.1h0m.1 1.5h0m.1 13.1h0m.1-7.3h0m0 14.3h0m.1-5h0m0-4.4h0m.1 8.4h0m.1-2.9h0m.1 4.7h0m0-2.2h0m.1 1.4h0m0-1h0m.1 .8h0m0 1.5h0m.1 1.5h0m0-.9h0m.1 2h0m.1 2.1h0m0-1.6h0m.1-.6h0m.1-.7h0m.1 8h0m0-.7h0m.1-3.5h0m0 4h0m.1-2.2h0m0-4.9h0m.1-1h0m0 3.5h0m.1-6.3h0m.1-2.3h0m0-1.4h0m.2 3.4h0m.1-5h0m0 5.1h0m.1-7.9h0m0 .5h0m.1 2.9h0m0-2.7h0m.1 1.1h0m0-3.5h0m.1-3.5h0m0 4h0m.1-1.8h0m0-3.1h0m.1 3.6h0m.1-3.2h0m0 3.9h0m.1-6.2h0m.1-2h0m0 6.6h0m.1-3.2h0m0-4.7h0m.1 3.2h0m0 4.2h0m.1-4.4h0m.1-5h0m0 5.8h0m.1-4.6h0m.2 2.4h0m0-5.7h0m.1 2h0m0 2.1h0m.1-15.8h0m0 7.7h0m.1-2.7h0m.1 5.7h0m0-8.5h0m.1-1.2h0m0 1.7h0m.1-1.7h0m0-1.6h0m.1-5h0m0-6.3h0m.1 21.6h0m0-14.1h0m.1 1h0m.1-10.2h0m0 4.3h0m.1-3.7h0m.1-5.4h0m.1 2h0m0-9.3h0m.1-3.8h0m0 4.8h0m.1 .6h0m.1-18h0m0 11.7h0m.1-11.7h0m0 2h0m.1-4.1h0m.1-10.7h0m0 14.8h0m.1 10.9h0m0-1.1h0m.1 5.1h0m0-1.7h0m.1 3.8h0m0-6.6h0m.1 15.8h0m0 2.9h0m.1-4.8h0m0-6.3h0m.1 11.7h0m0 3.3h0m.1-8.3h0m0 15.1h0m.1-5.5h0m.1 3.5h0m0-3.4h0m.1 1.9h0m.1 5.3h0m.1 1.9h0m0 3h0m.1 .7h0m.1-4h0m0 5.8h0m.1 6h0m.1 1.5h0m0-8h0m.1 5.9h0m0 3.8h0m.1 1.9h0m0-4.6h0m.1 5.5h0m0 1.9h0m.2-2.3h0m.1-3.8h0m0 2.3h0m.1 1.6h0m0 6.5h0m.1-2.7h0m0 5h0m.1 .8h0m.1 2.9h0m.1 3.6h0m0-7.1h0m.1 5.5h0m.1-2.4h0m0 2.2h0m.1-1.8h0m0 3.9h0m.1-1.5h0m0 7.7h0m.1-9.9h0m0 3.9h0m.1 4.1h0m0 2.1h0m.1 3.2h0m0-3.6h0m.1 .5h0m0-.6h0m.2 5h0m0 .8h0m.1-2.2h0m.1-2h0m0 5.7h0m.1-1h0m0 2.5h0m.1-7h0m0 9.5h0m.1-1.4h0m.1-3.2h0m0 6.9h0m.1-1.7h0m0 2.5h0m.3-2h0m.1-2h0m.1 1.2h0m0-4.2h0m.1 3.7h0m0-1.3h0m.1-1.1h0m0-2.5h0m.1 1.4h0m0-4.2h0m.1 3h0m.1-3.6h0m0 4.2h0m.1-7.2h0m.1-1.7h0m.1 4.2h0m0 1.4h0m.1 1.6h0m0-4.6h0m.1 8.1h0m.1-1.2h0m.1 .9h0m.1-2h0m0-2h0m.1 .8h0m.1 3.5h0m0-2.5h0m.1 1.4h0m0-3.7h0m.1 1.7h0m0 2h0m.1-5.8h0m.1 7.4h0m0 1.8h0m.1-4.3h0m0-.5h0m.1 5.2h0m0-1.2h0m.1-1h0m0-2.8h0m.1 1.5h0m0 3.5h0m.1-.8h0m0 .8h0m.1-1.4h0m.1-1.9h0m0 1.3h0m.1 4.5h0m0-3.6h0m.1 3.2h0m.1-3.4h0m0 2.6h0m.1-2h0m0 .8h0m.1 3.2h0m0-.9h0m.2 1.2h0m0 1.8h0m.1-4.3h0m0 3.8h0m.2-4.3h0m.1 1.2h0m.1-3.5h0m0-2.6h0m.1 1.6h0m.1-2h0m0-2.1h0m.1-.9h0m0-1.5h0m.2 1h0m0-9.5h0m.1-1.9h0m0 2.1h0m.1-5.1h0m.1-1.3h0m0 3.3h0m.1-4.1h0m0 .5h0m.1 2.5h0m0-1.7h0m.1-6.1h0m.1-3.2h0m.1-2.2h0m.1-2.3h0m0 3h0m.1-3h0m0-11.7h0m.1 6.9h0m0-3.9h0m.1 6.4h0m0-2.5h0m.1-5.9h0m0 3.4h0m.1-1.8h0m0-2.4h0m.1 3.1h0m0 4.4h0m.1-1.2h0m.1 2.2h0m.1-3.6h0m0-2.1h0m.1-9.6h0m0 10.7h0m.1-2.5h0m0 3.1h0m.1 1.9h0m0 6.1h0m.1-4.9h0m0 5.6h0m.1-4.3h0m0 4.4h0m.1 6.6h0m0-6.5h0m.1 8.5h0m0 2.5h0m.1-11.9h0m.1 5.6h0m.1 4h0m0 1.2h0m.1 1.9h0m0-.7h0m.1 1.1h0m0 4.5h0m.1-7.2h0m0 8.2h0m.1-4.5h0m0 6.6h0m.1-3.2h0m0 3.3h0m.1-.6h0m.1 1h0m0-1h0m.1 .8h0m0 1.7h0m.1-1.9h0m.1 3.5h0m.1 3.5h0m.1-.9h0m0 .8h0m.1-1.9h0m.1 1.7h0m.1 2.3h0m.2-1.8h0m0 .5h0m.1 5.2h0m0-3.2h0m.1-.9h0m.2-7h0m.1 3.9h0m0-4.5h0m.1 .6h0m0-.6h0m.1 1.1h0m.1-5.7h0m0 4.7h0m.1-8.9h0m0 3.1h0m.1-2.4h0m0 3.7h0m.1-2.8h0m.1 7.7h0m0-13.4h0m.1 1.8h0m0 1.5h0m.1-7.2h0m.1 6.6h0m.1-11.2h0m0 4.4h0m.1-5h0m.1 7.5h0m0-3.5h0m.1 1.8h0m0-1.6h0m.2-8.1h0m0 3.1h0m.1 5.1h0m.1-8.2h0m0 4.6h0m.1-8.2h0m0 4.7h0m.1-3.6h0m0 2.1h0m.1 1.6h0m0 .9h0m.1-9.5h0m0 2.7h0m.1 4.7h0m0-5.2h0m.1-3.5h0m0 3.1h0m.1-1.7h0m0 6h0m.1 7.6h0m0-.6h0m.1-1.8h0m.1-.8h0m0-1.6h0m.1 8.3h0m0 1.3h0m.1-1.3h0m0 3h0m.1 2.3h0m.1-3.2h0m.1 5.1h0m0 5.3h0m.1-8.5h0m0 5.1h0m.1-3.3h0m0 5.6h0m.1 4.5h0m0-3.5h0m.1 3.1h0m0-4.2h0m.1 .7h0m0 2.6h0m.1-4.8h0m0 8.1h0m.1 .7h0m.1-5.1h0m.1 3.6h0m.1-4h0m.1-2.2h0m.1-7h0m.1-5.4h0m.1-2.8h0m.1-2.5h0m0 4.9h0m.2-7h0m0-1.8h0m.1 5.8h0m0-6.3h0m.1-4.2h0m0-8.1h0m.1 8.7h0m0 .5h0m.1-9.2h0m0-8.9h0m.1 3.4h0m0 5.1h0m.1-2.5h0m0 5.5h0m.1-4.1h0m0 3.1h0m.1-7.2h0m0 13.7h0m.1-3.4h0m0 2.4h0m.1 3.8h0m.1-5.1h0m0 14.9h0m.1-3.6h0m0-.6h0m.1 6.9h0m0 1.7h0m.1 2.6h0m0-11.1h0m.1 5.8h0m0 5.4h0m.1 1.2h0m0 .8h0m.2 5.1h0m0-3.1h0m.1 1.5h0m.1 3.3h0m.1 2.5h0m.1 2.6h0m0 2.9h0m.1-1.9h0m.1-3h0m0 1h0m.1-3h0m0 1.6h0m.1-1.7h0m.1-3.8h0m.1 2.3h0m0 4.3h0m.1-7.1h0m0 1h0m.1-.7h0m.1 1.1h0m0 1h0m.1-6.3h0m0-1.6h0m.1 6.9h0m0-4.1h0m.1 3.7h0m0-1.5h0m.1-8.8h0m0 2.3h0m.1-5.7h0m.1 8.2h0m0-6.2h0m.1-3.7h0m.1-4.6h0m0 4.1h0m.1-.7h0m0-1.7h0m.1-2.4h0m.1-.9h0m.1-3.4h0m0 3.9h0m.1 1.5h0m0-7h0m.1 4.9h0m0 .9h0m.1-1.3h0m0 3.9h0m.1 2.6h0m0-5.4h0m.1 8.4h0m.1-2.1h0m.1-1.5h0m0 2.5h0m.1 .8h0m0 4.6h0m.1-1.4h0m0-1.4h0m.1 7.2h0m0-4.8h0m.2 6h0m0-3h0m.1 1.2h0m0 3.3h0m.1-.5h0m0 1.9h0m.1-1h0m0 3.1h0m.1 1.6h0m0-5.8h0m.1 7.2h0m.1-7.6h0m.1 9.7h0m0-2.1h0m.1 1.4h0m0-2.6h0m.1 4.7h0m0-3.3h0m.2 2.7h0m.1 3.4h0m0-1h0m.1 1.1h0m.1 .8h0m.1-1.5h0m0 2.3h0m.1-1.9h0m.2 .7h0m.1 4h0m0-1.3h0m.1 1h0m.1-2.7h0m0 7.5h0m.1-5h0m.1-1.1h0m.1-3.2h0m0 .7h0m.1 .9h0m0-1.6h0m.1-7.2h0m0 6h0m.1-1.7h0m.1-7.6h0m0-1.6h0m.3-2.9h0m0 4.8h0m.1-10.2h0m.1 1.8h0m0 .9h0m.1 9.8h0m0-11.6h0m.1-3.3h0m.2 3.1h0m0-5.7h0m.1 2h0m0-2.8h0m.1-3.8h0m.1-1.3h0m0 1.3h0m.1-2.8h0m0 2.8h0m.1 3.1h0m.1 4.1h0m0-.6h0m.2 6.2h0m0-4.8h0m.1 1.9h0m0 .5h0m.1 7h0m0 .7h0m.1-5.7h0m0-1.4h0m.1 1.1h0m0 2.5h0m.1-.7h0m0 6.8h0m.1-7.5h0m0 1h0m.1 9.3h0m0-10.8h0m.2 9.7h0m.1-7.8h0m0 4.5h0m.1 5h0m.1-3.3h0m.1-2.6h0m.1 2.7h0m0-1h0m.1 3.4h0m0-1h0m.1 4.7h0m0-4.1h0m.1 4.3h0m0 2.4h0m.1-2.1h0m0-3.1h0m.1 3.7h0m0 4h0m.1-1.4h0m0-6.8h0m.1 3.9h0m.1-1.6h0m0-.8h0m.1-.7h0m0 2.5h0m.1-2.1h0m.1-1.1h0m.2 4.9h0m.1-1.7h0m0-8.2h0m.1 3.2h0m.1-5.7h0m0-6.5h0m.1-1.7h0m0 7.2h0m.1-2.5h0m.1-3.3h0m0-1.3h0m.1 5.6h0m0 3.2h0m.1-2.9h0m0-6h0m.1 6.5h0m0-12.2h0m.1 3h0m0 1h0m.1-3h0m0 3.5h0m.1-6.8h0m.1 .5h0m0-5.5h0m.1 5.6h0m.1 11.6h0m.1-14.6h0m0-.8h0m.1 4.5h0m.1 9.4h0m.1-13.9h0m0 3.7h0m.1-4.5h0m0-1.2h0m.1-.8h0m0 6.7h0m.1-8.2h0m.1 4.8h0m0 5.7h0m.1-3.3h0m0 6.9h0m.1-7.4h0m.1-5.6h0m0 5.1h0m.1 8.3h0m.1 2.9h0m.1-7.4h0m0 6.4h0m.1 9.2h0m0-8.6h0m.1 9.8h0m.1-13.1h0m0 5.2h0m.1 6.6h0m.1-10.2h0m0 4.7h0m.1 8.4h0m0-2.3h0m.1-4h0m0 1.1h0m.1-.8h0m.1 4.4h0m0 10.1h0m.1-11h0m0-5.9h0m.1 2.1h0m.1 5.6h0m.1-9.2h0m0 5.3h0m.1 7.6h0m0-2.3h0m.1-7.5h0m0 3.5h0m.1 3.4h0m0 5.9h0m.1-.6h0m0-16.3h0m.1 10.2h0m0 1.7h0m.1-3.2h0m0-10.8h0m.1 3.1h0m0 3.4h0m.1 4.4h0m0-5.9h0m.1-3.3h0m0 5.3h0m.1 .9h0m0-3.3h0m.1-2.2h0m0 4.2h0m.1 6.1h0m0-18.9h0m.1 3.9h0m.1 5.4h0m0-5.8h0m.1-3.1h0m0-2.1h0m.1 6.9h0m0-1h0m.1-2h0m0-5h0m.1 13.9h0m0-22.7h0m.1 9.5h0m0-3.6h0m.1 2.1h0m0-1.4h0m.1-6.8h0m0 1.4h0m.1-2.5h0m0 3.3h0m.1-12h0m0 9.1h0m.1-8.8h0m.1-5.2h0m0-1.6h0m.1-1.8h0m.1 1h0m0-4.3h0m.1-8.6h0m0 10.1h0m.1-5.7h0m0 1.9h0m.1 9h0m.1-2.7h0m.1-19.7h0m0 24.7h0m.1-17.8h0m0 7.4h0m.1-13.3h0m0 2.1h0m.1-13.8h0m0 6.9h0m.1 10h0m0-17.2h0m.1 10.4h0m0-12.6h0m.1 23.6h0m.1-24.1h0m.1-10.5h0m0 22.1h0m.1 17.3h0m0-7.1h0m.1-15.2h0m0 16.8h0m.1 5.5h0m0-2.1h0m.1-1.7h0m0 5.5h0m.1 5.5h0m0 4h0m.1-16.3h0m0-10.8h0m.1 20.2h0m0-3.6h0m.1 8h0m0 4.7h0m.1 13.2h0m0-7.3h0m.1 1.3h0m.1 5.6h0m0 4h0m.1 3.7h0m.1 3.7h0m0 2.6h0m.1-.9h0m0-1.2h0m.1 .8h0m.1-1.8h0m0 4h0m.1-1.8h0m0 .9h0m.1 10.7h0m0-2.8h0m.2 3.7h0m0-12.2h0m.1 16.5h0m0-8.1h0m.1-7.1h0m0 8.2h0m.1-8.9h0m0-3.7h0m.1 3h0m0-9.3h0m.1 11.1h0m0-4.1h0m.1-19.4h0m0 7.6h0m.1-2.1h0m0 11.3h0m.1-9.8h0m.1-8.1h0m0 10.4h0m.1-16.5h0m.1 12.9h0m0-10.5h0m.1 4.2h0m.1-12h0m0-4.1h0m.1 17.5h0m0-23.8h0m.1 14.8h0m.1-9h0m.1 20.7h0m.1-7.9h0m0-4.2h0m.1 13.2h0m0 3.3h0m.1-3.3h0m.1 1.8h0m0 3.7h0m.1 4h0m0 5.8h0m.1 6.2h0m.1-14.7h0m0 6.3h0m.1 4.4h0m0 2.7h0m.1-1.7h0m.1 13.1h0m0-14.7h0m.1 5.3h0m0 8.3h0m.1-12.6h0m.1 6.3h0m0-3.3h0m.1 5.8h0m0 2.2h0m.1-13.1h0m.1 3.8h0m.1 8.9h0m0-22h0m.1-4.2h0m0 3.8h0m.1-2.4h0m.1 7.7h0m0-10.4h0m.1 9h0m0-9.4h0m.1-3.8h0m.1 6h0m0-2.3h0m.1-11.1h0m0 10h0m.1-4.9h0m0-14.4h0m.1 5.6h0m0-6.8h0m.1 5h0m.1 4.2h0m.1 7.7h0m0 4.8h0m.1-12.8h0m.1 14.8h0m0-14.4h0m.1 11.5h0m0 2.9h0m.1-1h0m0 10.1h0m.1 1.5h0m.1-.9h0m0-4.1h0m.1 2.4h0m0 10.2h0m.1-8.7h0m0-7.2h0m.1 20.7h0m0-9.3h0m.1 14.3h0m.1-4.7h0m0 12h0m.1-8.1h0m0-1.2h0m.1-2h0m0 5.3h0m.1 .7h0m0 11.6h0m.2-26.5h0m0 2.4h0m.1 8.5h0m.1-12.8h0m0 9.9h0m.1-11.8h0m0 5.9h0m.1-15.8h0m0 3.5h0m.1-6.6h0m0 1.2h0m.1 5.9h0m.1-3.8h0m.1-7.1h0m0-.8h0m.1 2.2h0m0-6.6h0m.1 9.3h0m.1 1.8h0m0-13.7h0m.1 3.5h0m0-13.6h0m.1 15.2h0m.1 8.5h0m0-16.4h0m.1 17.7h0m0-17.8h0m.1 21.5h0m0-1.1h0m.1 10.1h0m.1-11.9h0m0-4.9h0m.1 6.3h0m.1 4h0m0 4.9h0m.1-1.6h0m0-13.7h0m.1 3.2h0m0 7.7h0m.1 12.8h0m0-6.5h0m.1-1h0m0 11.2h0m.1-6.9h0m0 1.3h0m.1 4.2h0m0 4.3h0m.1-8.5h0m0 9.6h0m.1-4.5h0m0-.6h0m.1 7.7h0m0-5.4h0m.1-3h0m0 3h0m.1 3.8h0m0-1.9h0m.1 2.5h0m0 2h0m.1-2h0m0 .6h0m.1 3.5h0m.1 2.7h0m0-6.4h0m.1 3.5h0m0-8.2h0m.1 2.5h0m.1-3.5h0m.1-8.5h0m0 9.8h0m.1-9.2h0m0-4.7h0m.1 5.5h0m0-5h0m.1-2.8h0m0-19.1h0m.1 3.8h0m0 1.6h0m.1-11.1h0m.1 5.8h0m0 3.5h0m.1 9.3h0m0-2.6h0m.1-7h0m0-.9h0m.1-8.5h0m0 10.6h0m.1-14.5h0m0 11.3h0m.1-6.1h0m0 7.4h0m.1-11h0m0 15h0m.1-13.9h0m0-7.3h0m.1 18.8h0m0-12.5h0m.1 4.9h0m.1-2.4h0m0-10.9h0m.1-10.6h0m.1 11.4h0m.1 31.3h0m0-20.8h0m.1-10.8h0m0 7.7h0m.1-13h0m0 2h0m.1 2.2h0m0 .8h0m.1-5.3h0m0-2.7h0m.1 10.5h0m0-9h0m.1 15.2h0m0-19.4h0m.1-6.6h0m0 3h0m.1 5.3h0m0-1.9h0m.1-2.3h0m0 8.2h0m.1-20.8h0m0 19.5h0m.1 2.4h0m.1-1.2h0m0 7.9h0m.1-5h0m0 3.8h0m.1 14.9h0m0-10.1h0m.1-5.9h0m.1 6.2h0m.1 13.9h0m0-4.3h0m.1-20.6h0m0 10.6h0m.1-1.8h0m0 28.2h0m.1-16.3h0m0-.9h0m.1 3.9h0m0-2.7h0m.1 4.6h0m.1 12h0m0 4.8h0m.1-7.4h0m0 10.8h0m.1-8h0m0-7.6h0m.1 14.9h0m0-9.8h0m.1 1.2h0m.1 3.5h0m0 5.7h0m.1-7h0m0-5.3h0m.1 7.2h0m0-4.7h0m.1 1.5h0m0-8h0m.1-3.2h0m0 12.8h0m.1 2.6h0m0-9.6h0m.2 .6h0m0-4.4h0m.1 4.2h0m0-4.1h0m.1 12.1h0m0-8.8h0m.1-6.2h0m.2 10.7h0m0-12.3h0m.1-2.4h0m0 5.6h0m.1-5h0m0 3.4h0m.1 2.5h0m0-2.9h0m.1 4.9h0m0-5.1h0m.1 9.3h0m0-15.7h0m.1-8.2h0m0 4.3h0m.1 4.7h0m0 1.9h0m.1 7h0m0-10.3h0m.1-10.5h0m0 5.9h0m.1 16.4h0m0-.5h0m.1-13.6h0m0 12.4h0m.1-19.9h0m.1 19.8h0m.1-17.4h0m.1-5.2h0m0 18h0m.1-10.1h0m0-9.6h0m.1 24.6h0m0-6.6h0m.1-4.8h0m.1 .6h0m0-8.8h0m.1 10.6h0m.1 8h0m0-12.8h0m.1-.7h0m0 11.6h0m.1-14.9h0m.1 11.5h0m0 2.5h0m.1-1.6h0m0 3.1h0m.1-16.2h0m0 17.1h0m.1-1.4h0m0-11.5h0m.1-2.7h0m0 24.4h0m.1-8.2h0m0 6.2h0m.1 1.6h0m0 3.6h0m-443.6-9.9h0m-.8-3.6h0m.2-.8h0m8.8 24.7h0m-1.3-3.7h0m.9-3h0m-.7-3h0m.6-3.3h0m-.5-2.8h0m.3-3.3h0m-.2-3.5h0m.1-2.1h0m.6 27.5h0m1.3-2.4h0m-1.4-3h0m1.2-3.6h0m-.7-4.2h0m.5-3.5h0m-.5-3.8h0m.1-3.2h0m.1-2.9h0m-.1-2.9h0m.1-.2h0m17.3 19.8h0m.6-3.7h0m5.6-13.3h0m-1.3-3.5h0m1.1-3.5h0m-.8-3.8h0m.4-3.5h0m0-3.7h0m-.1-.8h0m12.3 51h0m-1.6-2.6h0m1.3-2.4h0m-.9-3h0m.6-3.3h0m-.2-3.6h0m.1-3.8h0m-.1-.2h0m6.2-20.4h0m1.4-3.1h0m-.8-2.7h0m.2-3.7h0m0-1.1h0m34.8 29.5h0m-1.2-2.9h0m1-3h0m-.8-3.1h0m.8-2.6h0m-.4-3.5h0m0-3.9h0m0-3h0m13.2 28.8h0m1.1-3.1h0m-.7-3h0m.2-1.3h0m7.6 8.2h0m-.9-3.1h0m.6-3.4h0m-.4-3.4h0m.1-2.6h0m11.3-7.6h0m-1.4-3.2h0m1.2-4.2h0m-.8-3.8h0m.3-2.6h0m5.4 11.4h0m1-3.9h0m-.4-3.6h0m.2-.7h0m6.3 26.6h0m-1.1-2.9h0m1.1-2.7h0m-.9-2.9h0m.4-3.7h0m-.1-3.7h0m4.6 4.9h0m-1.3-3.9h0m.9-2.4h0m-.3-3.8h0m.3-3.9h0m-.2-.5h0m23.8 25.8h0m-1.2-3.1h0m1.1-3.1h0m-1.1-3.6h0m1.1-2.8h0m-.7-3.7h0m.3-2.5h0m-.2-2.8h0m.2-3.1h0m-.2-3.1h0m0-.2h0m16.7 47.3h0m-1.5-2.6h0m1.2-3.7h0m-.5-3.9h0m0-.7h0m19.6-16.4h0m1-3.8h0m-.1-1.2h0m100.4 24.9h0m-1.4-2.8h0m.7-3.8h0m-.6-2.5h0m.6-2.5h0m-.2-1.5h0m1.2 6.1h0m-1.2-4.2h0m.5-3h0m30.6 10.7h0m-.9-3.4h0m.4-3.5h0m-.1-.6h0m27.2 6.3h0m1.4-2.9h0m-1.1-3.5h0m.9-3.1h0m-.8-2.7h0m.5-3.3h0m-.1-2.6h0m5.5 11.2h0m-.9-3.7h0m.7-3.3h0m-.6-4.2h0m.3-3.7h0m-.2-2.4h0m.2-1.4h0m8-9.5h0m-1.3-3.1h0m1.2-2.7h0m-1.2-3.3h0m.9-2.4h0m-.4-2.4h0m.3-2.8h0m-.2-2.6h0m0-2.2h0m5.9 46.3h0m1.6-2.9h0m-1.1-3.8h0m.6-2.3h0m-.7-3h0m.5-4.1h0m-.1-1.3h0m7.9-19.5h0m-1.4-3.3h0m1.2-2.9h0m-.7-3.3h0m.4-2.6h0m-.4-2.8h0m.2-2h0m6.7-12.9h0m1-4h0m-.9-3.7h0m.8-2.3h0m-.7-4h0m.6-2.9h0m-.6-3.3h0m.6-3.9h0m-.3-2.9h0m0-1.8h0m10.6 79.2h0m1.2-2.6h0m-.6-2.9h0m0-.9h0m28.2-29.4h0m.7-1.7h0m4.3 31h0m-1.7-2.6h0m1.2-4.1h0m-.7-2.8h0m.6-2.4h0m-.5-3.1h0m.4-3.9h0m-.2-3.1h0m-.1-3.9h0m.1-1.9h0m5.4 30.6h0m1.4-3h0m-1.3-2.9h0m.8-2.8h0m-.6-3.3h0m.7-2.9h0m-.7-3.1h0m.4-2.7h0m-.1-2.4h0m4.8 24.1h0m-1.3-2.4h0m1.4-2.5h0m-1.3-2.9h0m.9-4.2h0m-.6-3.8h0m.5-3.4h0m-.5-3.5h0m.4-2.7h0m-.2-3h0m2.6 26.2h0m-1-3.4h0m1-2.6h0m-.9-2.7h0m.3-3.6h0m0-2.9h0m0-3.5h0m3.3 18.9h0m1.2-2.6h0m-1.2-3.1h0m1.2-2.8h0m-.6-4h0m.2-2.8h0m0-4.2h0m-.1-.4h0" fill="none" stroke="#0000ff" stroke-width="1.2" stroke-linecap="round"/>
<path d="M28 140.9L28.8 123.3M30 104.9L30.5 93.9L31 103.4M35.5 130.1L35.8 134.9M36.5 136.1L36.8 130.2M37.2 126.7L37.8 117.1M39 100.7L39.2 105.8M42.2 98.3L42.8 88.3L43.5 105.5M48.2 143.3L48.5 138.4L50 99.2M55.5 137.4L55.8 130.8M56 128.5L56.2 120.3M56.5 120.2L56.8 115.7M60.8 121.8L61 114.3L62.2 90M63 82.5L63.8 99.9M64 100.1L64.5 109.7M65 113.1L65.2 119.1M72.8 145.8L73.8 119.2M74 116.8L74.2 110.4M75.8 118.5L76.2 127.8M76.5 127.7L76.8 132.1M79.2 125.6L80.8 69.8L81.2 84.1M82 91L82.2 96M83 100.7L83.2 108.1M83.5 109.6L84.2 126.2M85.5 126.5L85.8 121.6M89 120.2L89.5 129.1M93.5 129.5L93.8 134.3M108 132.2L109.2 110.3M111.2 107.2L111.8 117.5M113.8 143.3L114.8 109.7L115 104.3M115.8 99L116 105.1M125 137L125.2 131.8M125.8 126.7L126.5 108.6M127 106.4L127.5 118.3M128.2 128.4L129 109.2M129.5 107.1L130 117.6M130.5 124.1L130.8 119.6M134.8 131.8L135 126.8M135.2 125.3L136 110M136.8 105.2L137 111.5M140 142.7L140.5 132.6M143.8 114.8L144 110.3L144.8 123.5M145.2 118.2L146.8 83.4L147.2 95.4M148 104.5L148.2 112M148.5 111.2L148.8 115.9M151.2 132.1L152.2 96M153 84.2L154.2 122.7L155 136.6L156 116.4M158.2 90L158.5 98.6L159.2 114.4M161 132.8L161.8 106.7M162.5 94.9L163.2 117.4L164 130.6M165.2 124.3L165.8 133.7M167 127.1L167.2 118.2M169.2 138.6L170 118.1M172 117L172.5 128.2M178 131.9L178.2 138M182.8 137.3L183 143.1M183.5 144.6L184 132.9M185.2 114.4L185.5 105.7M185.8 106.6L186.2 119.5M186.5 121.3L187.2 136.1M188 142.2L188.2 137.5M195.8 131L196 124.8M217.5 136L217.8 140.6M219.2 140.7L219.5 134.5M220 129L221 110M221.2 108L221.8 94.6L223.5 127.5M231.5 140L231.8 145.2M253 130.1L253.8 116.7L254.2 126.3M263.5 127L263.8 131.8M264.8 133.3L265 138.5M266.5 120.5L267.2 104L267.5 115.1M268.2 124.9L268.8 134.4M285 146L285.2 150.4M289.8 122.1L290.2 131.3M294 144.1L294.2 148.6M299 135L299.2 140.6M306.5 108.1L307 97.5L308.2 126.6M309 133.4L309.2 138M322 111.1L322.5 120.6M335 122.1L335.2 117.1M340 136.3L340.2 131.7M342.2 125L342.5 130.4M350.5 110.9L350.8 116.8M351.2 120.2L351.8 111.3M352.2 117.4L352.5 123.2M352.8 122.2L353 127M353.2 128.6L353.8 138M355.2 138.9L355.5 134.1M358.5 130.2L359.8 102.2M363 143.2L363.2 149.9L364 128.6M364.2 126.8L364.5 121.3M364.8 120.3L365.2 131.7M368.8 141.1L369.5 126.8M369.8 128.8L370 120.7M371.5 126.6L371.8 121.5M372.2 120.7L372.5 112.7M373 116.1L373.2 122.3M374.2 118.5L374.8 104.4M375 104.1L375.2 112.5M377.5 138.2L378 125.1M379.8 104L380.2 117.4M380.8 123.3L381.2 132.7M382.5 137.3L383 128.3M383.8 132.1L384.8 114.5L385 106.3M385.2 106.3L385.5 112.7M386.5 107.8L387 120.6M387.2 121.8L387.5 127M387.8 125.7L388.2 134.4L388.5 128.8M389 130.5L391.5 85.9M391.8 84.8L392 78.1M392.2 78.3L392.5 85.9M397.8 118.3L398.5 95.2M398.8 92.9L399.5 115.6M401 128.4L401.5 117.8M401.8 118.2L402.5 103.4M402.8 104.5L403.2 122.9L404 138.6M404.2 136L405.2 104.7L406.5 52.6L407.8 96.7L408 112.3M409.2 131.2L409.8 120.8M411.2 107.2L411.5 102.3M411.8 100.9L412.5 86.4L413.2 55.6L413.5 33.3L414 66.4L415.2 101M422 139.9L422.8 125.6L423.8 96.5M424.8 87.5L425.5 108.9M425.8 110.9L426 117M427.5 130.8L428.2 116.3M428.5 115.3L429.5 95.2M430.2 88.9L431 113.5M432 122.6L433.2 78.2M433.5 79.6L434 100.1L435 128.5L435.2 122.8M436.8 105.8L437 98.5M437.2 97.8L437.8 108.2M439 124.5L439.2 129.9M440.5 135.4L441.5 113.1M445.5 129L446.2 113.7L446.5 104.5M447.8 92.7L449 119.1M450.5 128.9L451.5 109.8L453.5 48.3L454.2 75.2L455 113.5L455.5 125.4M455.8 126.3L456.5 95.9M456.8 92.8L457 80.3M457.2 77.8L457.8 103.7M458 106.5L458.5 119M458.8 119.3L459.2 94M459.5 89.8L460 68.6L461.2 117.4L461.8 127.9L462.2 104.6L463 83.1M463.2 79.5L463.8 102.9M464 105.2L464.5 120.3L464.8 124.8M465.5 130.2L466.2 97.5L466.8 86.3M468.5 63.8L469 79.4M469.5 84.8L470.2 108.7M470.5 107.3L470.8 102.5M471.2 99.9L471.5 93.5M473.8 81.5L474 89.7L474.2 94.4M474.5 96.2L474.8 105.6" fill="none" stroke="#000" stroke-width="0.35" stroke-linejoin="round" opacity="0.85"/>
<path d="M24.5 136.7L24.8 136.9L25.2 139L25.5 138.7L25.8 139.6L26.2 137.6L26.5 139.8L26.8 140.2L27 139.3L27.5 140.3L27.8 141.6L28 140.9M28.8 123.3L30 104.9M31 103.4L31.8 107.5L32 110.6L32.2 110.8L32.8 113.7L33 112.9L33.2 116.6L33.8 118.5L34 122L34.8 126.7L35 129.7L35.5 130.1M35.8 134.9L36 134L36.2 136.3L36.5 136.1M36.8 130.2L37.2 126.7M37.8 117.1L39 100.7M39.2 105.8L40.2 117.9L40.5 116.7L41.2 106.2L41.5 106.1L42 99.1L42.2 98.3M43.5 105.5L44 111.3L44.2 112.6L44.8 121.1L46.2 135.6L46.5 135.4L47 139.3L47.2 139.8L47.5 142.3L47.8 142.1L48 144.7L48.2 143.3M50 99.2L50.2 96.8L50.5 100.7L51 103.3L51.8 110.5L52.2 112.5L52.5 114.7L52.8 114.1L53.2 121.9L53.5 123.3L53.8 126.8L54 126.4L54.5 130.1L55 134L55.2 137.9L55.5 137.4M55.8 130.8L56 128.5M56.2 120.3L56.5 120.2M56.8 115.7L57 114.8L57.5 106.8L58 110.1L58.5 118.2L59.2 126.4L59.5 127.3L60 134.3L60.8 121.8M62.2 90L62.8 82.5L63 82.5M63.8 99.9L64 100.1M64.5 109.7L65 113.1M65.2 119.1L66 125.8L66.2 124.9L66.8 129L67 128.7L67.2 125.4L67.5 124L67.8 123.6L68.2 130.9L68.5 130.3L68.8 133.3L69.8 129.3L70 126.6L70.5 132L70.8 133.6L71 133.9L71.2 135.3L72 143.1L72.2 142.2L72.8 145.8M73.8 119.2L74 116.8M74.2 110.4L74.5 108.2L74.8 107.6L75.8 118.5M76.2 127.8L76.5 127.7M76.8 132.1L77.2 133.7L77.8 139.8L78 138.7L78.2 138.9L79.2 125.6M81.2 84.1L82 91M82.2 96L83 100.7M83.2 108.1L83.5 109.6M84.2 126.2L84.8 131.1L85 131.1L85.5 126.5M85.8 121.6L86.2 128L86.5 128.2L87 132.1L87.5 124.3L88 124.1L88.5 120.2L88.8 120.8L89 120.2M89.5 129.1L90 134.8L90.2 133.6L90.5 133.4L90.8 130.2L91 129.9L91.2 126.7L91.5 127.8L92 121.7L92.2 121.6L92.5 121.2L93 127.8L93.2 127.5L93.5 129.5M93.8 134.3L94 132.8L94.8 137.5L95 137.2L95.2 137.8L95.5 136.9L96 139.3L96.2 138.2L96.5 141.2L96.8 141.2L97 142.2L97.2 138.2L97.5 138.2L98 137.1L98.2 137.1L98.5 136.4L98.8 136.2L99.2 133.9L99.5 131L100.5 129.5L100.8 126.8L101 127.3L101.8 137.9L102 137.5L102.2 134.5L102.5 133.8L102.8 131.5L103.2 129.9L103.5 131.2L103.8 130L104 134L104.2 135.1L104.5 138.5L105 133.9L105.5 132L106.2 142L106.8 135.1L107 135.5L107.2 133.7L107.5 133.8L107.8 131.4L108 132.2M109.2 110.3L110 101.7L110.2 102.9L110.5 101.8L110.8 105.2L111 106.7L111.2 107.2M111.8 117.5L113 136.8L113.8 143.3M115 104.3L115.2 102.1L115.5 101.7L115.8 99M116 105.1L116.2 106.8L116.5 105.7L117.2 113.5L117.5 114.2L117.8 116.6L118.2 117.7L118.8 125.1L119 127.4L119.2 127.8L119.5 129.6L119.8 132.3L120 132.2L120.2 134.8L120.5 133.6L121 135.5L121.2 138L121.5 137.8L121.8 138L122.2 136.3L122.8 138.6L123 137.1L123.2 138.5L123.8 134.6L124 135.4L124.2 134.3L125 137M125.2 131.8L125.8 126.7M126.5 108.6L126.8 110.6L127 106.4M127.5 118.3L128.2 128.4M129 109.2L129.2 109.3L129.5 107.1M130 117.6L130.5 124.1M130.8 119.6L131 118.4L131.2 118.9L132 116.7L132.5 122.7L133.2 127.7L133.8 128.7L134 132.1L134.2 131.3L134.5 132.8L134.8 131.8M135 126.8L135.2 125.3M136 110L136.5 106.1L136.8 105.2M137 111.5L137.8 121L138 122.3L138.5 127.7L139.2 139.3L139.5 139L139.8 143L140 142.7M140.5 132.6L140.8 132.1L141.2 129.7L141.5 129.3L141.8 126.2L142 125.5L142.2 123.4L142.5 119.9L142.8 119.4L143 116L143.5 114.6L143.8 114.8M144.8 123.5L145.2 118.2M147.2 95.4L148 104.5M148.2 112L148.5 111.2M148.8 115.9L149 115.4L149.2 118.2L149.5 117.6L150 120.5L150.2 119.6L151.2 132.1M152.2 96L153 84.2M156 116.4L157.5 92.9L158 87.1L158.2 90M159.2 114.4L159.8 121.3L160 121.2L160.8 132L161 132.8M161.8 106.7L162.5 94.9M164 130.6L164.2 131.8L164.5 131.3L165 125.1L165.2 124.3M165.8 133.7L166 134L166.2 135L167 127.1M167.2 118.2L167.5 117L167.8 121L168 118.8L168.2 121.5L169.2 138.6M170 118.1L170.2 118.4L171 110.5L171.2 111.2L171.8 114.3L172 117M172.5 128.2L173.8 140.1L174 138.2L174.2 138L174.5 136.6L174.8 132.3L175.5 140.7L176.2 139.5L176.5 140.1L177 135.3L177.2 135.3L177.5 135.6L178 131.9M178.2 138L178.5 137.2L179 139.1L179.2 138L179.8 138L180.2 136L180.5 139.1L180.8 140.1L181 140.2L181.2 139.7L181.5 141.1L182 136.7L182.2 132.7L182.8 137.3M183 143.1L183.2 144.5L183.5 144.6M184 132.9L185.2 114.4M185.5 105.7L185.8 106.6M186.2 119.5L186.5 121.3M187.2 136.1L187.8 142.4L188 142.2M188.2 137.5L189.2 128.9L189.5 125.5L189.8 125.9L190 124.8L190.5 119.1L190.8 117.8L191 121.9L191.2 123.3L191.5 122.8L191.8 124.7L192 125.4L192.2 124L192.5 123.5L193 126.4L193.2 126.8L193.5 125.6L193.8 128.5L194.5 132L194.8 134.5L195 134.9L195.2 136.3L195.8 131M196 124.8L196.2 123.3L196.5 125.6L197 127.4L197.2 127.2L197.5 130.5L198 131.3L198.2 129.2L198.8 134L199 134.1L199.2 133.5L199.5 136.3L200 131.4L200.5 128.7L200.8 129.3L201 126L201.2 125.3L201.5 125.4L201.8 124.8L202 128.1L202.2 125.4L202.5 126.2L202.8 125.3L203 125.6L203.5 129.4L203.8 128.1L204.8 136.4L205 140.2L205.2 136.8L205.5 137.9L206 135.6L206.5 139.8L206.8 138.5L207 138.2L207.5 134.8L207.8 136L208 132.8L208.2 134.7L208.5 133.9L209 137.1L210 140.3L210.5 137.1L211.5 144.4L211.8 142.6L212 144.6L212.5 145.7L212.8 145L213 145.2L213.2 144.3L213.5 145L213.8 143.4L214 139.2L214.2 140.3L215 135.9L215.2 136.8L215.8 132.1L216.2 133.5L216.5 132.6L216.8 135.6L217 135.5L217.2 137.3L217.5 136M217.8 140.6L218 140.1L218.2 140.8L218.5 139.8L218.8 140.2L219 139.7L219.2 140.7M219.5 134.5L220 129M221 110L221.2 108M223.5 127.5L224.2 135.8L224.5 135.1L224.8 137.4L225.5 140.4L225.8 142.3L226 142.2L227 149.1L227.2 148.1L227.5 148.5L227.8 148.6L228 150.4L228.2 147.2L228.8 150.4L229 150.6L229.5 147.2L229.8 147.1L230 145.4L230.2 145.5L230.5 143.2L230.8 143L231 140.7L231.2 140.1L231.5 140M231.8 145.2L232 145.6L232.2 146.6L232.5 145.7L232.8 148.6L233.2 149L233.5 149.8L234 148.4L234.2 149.7L235 144.8L235.2 144.3L235.5 145.3L236 140.4L236.8 138.9L237 135.7L237.5 134L238 129.2L238.2 129.2L238.5 126.6L239 127.3L239.2 130.4L239.5 130.9L239.8 128.9L240.2 134.3L241 136.2L241.5 141.2L241.8 140.6L242.2 141.8L242.5 141.3L242.8 142.8L243 143.1L243.2 145.4L243.8 142.2L244 143.8L244.5 144.7L244.8 143L245 146L245.2 145.7L245.5 145.7L245.8 145.9L246 147.4L246.2 146.8L246.5 147.5L246.8 147.6L247.2 150.2L247.5 149.8L247.8 148.5L248 150.1L248.5 148.2L248.8 148.9L249 145.7L249.2 145.1L249.8 137.2L250 135.9L250.2 136.6L250.5 134L251 132.3L251.2 130.1L251.5 132.2L251.8 128.4L252 129L252.2 128.3L252.8 131.2L253 130.1M254.2 126.3L254.5 125.5L255.8 137.3L256 138.5L256.2 138.8L256.5 138.2L256.8 141.4L257 138.4L257.2 139.9L257.5 139.9L257.8 137L258.2 143L258.5 143.2L259 142.1L259.2 143.4L259.8 141.3L260 142.2L260.2 140.3L260.8 139.6L261.5 135.6L261.8 135L262.2 131.2L262.5 131.2L263 127.3L263.5 127M263.8 131.8L264 131.2L264.2 133.1L264.5 131.9L264.8 133.3M265 138.5L265.2 138.7L266.5 120.5M267.5 115.1L268.2 124.9M268.8 134.4L269 134.8L269.8 141.8L270 140.9L270.5 141.4L270.8 143.6L271 142.1L271.2 142.7L271.5 142.2L272 139.8L272.2 139.7L273.2 133.1L273.5 128.7L273.8 127.9L274 124.5L274.2 124.6L274.8 121.3L275 121L275.2 120.2L275.5 123.6L275.8 123.5L276.2 128.8L276.8 130.7L277 132.5L277.5 133.8L277.8 135.9L278 134.6L278.2 136.7L278.5 133.3L278.8 133.6L279.2 131.3L279.5 131.4L279.8 133.7L280 134.4L280.2 133.9L280.5 136L280.8 136.1L281 134.7L281.2 138.7L281.5 137.9L281.8 140.9L282 140L282.2 141.5L282.5 142L282.8 142.2L283 141.8L283.2 144.3L283.8 146.8L284 145.6L284.2 146.9L284.5 146.2L284.8 147.5L285 146M285.2 150.4L285.8 148.1L286 149.5L286.2 149.9L286.5 149.4L286.8 150.6L287.2 145L287.5 145.4L287.8 146.8L288 144.9L288.5 136.9L289 133.3L289.8 122.1M290.2 131.3L290.8 137.2L291 136.7L291.2 140.7L291.5 142L291.8 141.5L292.2 145.9L292.5 144.2L292.8 144.2L293 146.2L293.2 146.4L293.5 145.6L293.8 147.1L294 144.1M294.2 148.6L295 145.8L295.5 143.2L295.8 142.7L296 140.4L296.2 142.6L296.5 138.5L296.8 136.9L297 136.6L297.5 140.4L297.8 140.7L298 138.3L298.5 136.5L298.8 133.4L299 135M299.2 140.6L299.8 138.3L300 141.4L300.8 146.4L301 146.9L301.2 148.1L301.5 147.5L301.8 149.5L302 149.1L302.2 149.5L302.5 147.9L302.8 148.3L303.2 144L303.5 143.5L304 140.3L305 128.1L305.2 127.5L306.5 108.1M308.2 126.6L309 133.4M309.2 138L309.5 138.8L309.8 136.4L310 138.4L310.2 139.2L310.5 138.4L310.8 136.3L311.2 137.1L311.8 135L312 135.5L312.2 135.1L312.5 133.1L312.8 133.7L313.2 131.9L313.5 128.9L313.8 131.9L314 132.3L314.2 133.4L314.5 133.5L314.8 133.3L315.5 138.4L315.8 138.3L316 137.3L316.2 137.3L316.5 138L317.2 134.7L317.5 135.2L317.8 133.8L318 134.6L318.2 132.9L318.5 128.7L318.8 131.6L319.2 126.7L319.8 125.6L320 123.7L320.5 122.1L320.8 123.1L321 120.5L321.2 120.3L321.5 118.1L322 111.1M322.5 120.6L323 123.1L323.5 127.1L323.8 130.8L324 132.9L324.2 133.5L324.5 137.5L324.8 137.5L325.5 143.9L326 144.6L326.2 143.9L327.8 133.9L328.2 127.6L328.8 133.5L329 133.5L329.5 136.7L329.8 135.7L330.2 141.6L330.5 139.3L330.8 138.7L331 140.4L331.2 140.7L331.5 139.7L332.2 132.6L332.5 132.1L333 133.9L333.5 137.5L334.5 123.2L334.8 123.2L335 122.1M335.2 117.1L335.5 116.3L335.8 120.2L336.5 125.5L336.8 129.4L337 128.3L337.5 130.3L338 129.6L338.5 133.8L338.8 131.9L339.2 138.7L339.5 138.8L339.8 138.2L340 136.3M340.2 131.7L340.8 128.7L341.2 120.4L341.5 119.3L342 125.9L342.2 125M342.5 130.4L342.8 130.3L343.2 136L343.5 135.7L343.8 136L344 136.1L344.5 138.3L344.8 137.8L345.5 133.9L345.8 134L346.2 131.2L346.8 133.7L347.2 132.6L347.5 129L347.8 131.4L348 129.7L348.2 130.8L348.5 130.3L348.8 130.9L349.5 119.8L349.8 117.5L350 117L350.5 110.9M350.8 116.8L351 117.3L351.2 120.2M351.8 111.3L352.2 117.4M352.5 123.2L352.8 122.2M353 127L353.2 128.6M353.8 138L354 137.2L354.5 136.5L354.8 138.8L355.2 138.9M355.5 134.1L355.8 132.1L356 132.4L356.2 132.3L356.5 133.2L357 126.3L358 136.4L358.5 130.2M359.8 102.2L360.2 110.3L360.8 115.2L361.8 131.8L362.2 137.8L363 143.2M364 128.6L364.2 126.8M364.5 121.3L364.8 120.3M365.2 131.7L365.5 132L365.8 133.2L366 136.3L366.2 136.9L366.8 136.5L367 137.2L367.5 134L367.8 136.7L368 136.6L368.2 137.2L368.8 141.1M369.5 126.8L369.8 128.8M370 120.7L370.2 120.6L370.5 118.7L371.2 128L371.5 126.6M371.8 121.5L372 119.9L372.2 120.7M372.5 112.7L372.8 113.1L373 116.1M373.2 122.3L374 118.4L374.2 118.5M374.8 104.4L375 104.1M375.2 112.5L376.2 129.6L376.5 130.1L377 135.6L377.2 135.8L377.5 138.2M378 125.1L379.2 104.8L379.5 103.7L379.8 104M380.2 117.4L380.8 123.3M381.2 132.7L382 140L382.2 140L382.5 137.3M383 128.3L383.2 131.2L383.5 132.3L383.8 132.1M385 106.3L385.2 106.3M385.5 112.7L385.8 115L386 114.9L386.5 107.8M387 120.6L387.2 121.8M387.5 127L387.8 125.7M388.5 128.8L388.8 128.8L389 130.5M391.5 85.9L391.8 84.8M392 78.1L392.2 78.3M392.5 85.9L393.8 107.6L394.8 115.9L395.5 125.3L395.8 126.3L396 128.9L396.2 129.7L396.8 128.4L397.8 118.3M398.5 95.2L398.8 92.9M399.5 115.6L399.8 115.4L400.8 128.4L401 128.4M401.5 117.8L401.8 118.2M402.5 103.4L402.8 104.5M404 138.6L404.2 136M408 112.3L409.2 131.2M409.8 120.8L410.8 111L411 106.7L411.2 107.2M411.5 102.3L411.8 100.9M415.2 101L417 126.9L417.2 127.2L417.8 135.5L418.2 138.4L418.8 135.5L419.2 128.9L419.5 131.8L419.8 132.2L420 130.6L420.2 132.5L420.5 132.1L420.8 132.6L421.2 137.1L421.5 136.4L421.8 139.6L422 139.9M423.8 96.5L424.5 86.8L424.8 87.5M425.5 108.9L425.8 110.9M426 117L426.5 121.2L427 129L427.5 130.8M428.2 116.3L428.5 115.3M429.5 95.2L430 90L430.2 88.9M431 113.5L431.8 123.2L432 122.6M433.2 78.2L433.5 79.6M435.2 122.8L435.5 122.5L436.2 113.7L436.8 105.8M437 98.5L437.2 97.8M437.8 108.2L439 124.5M439.2 129.9L439.5 129.1L439.8 132.1L440.2 135.3L440.5 135.4M441.5 113.1L442.2 104.1L443.2 120.4L443.5 119.5L444.5 132.2L444.8 132L445.5 129M446.5 104.5L447.2 96.3L447.8 92.7M449 119.1L449.5 127.1L449.8 126.9L450 130.2L450.2 127.3L450.5 128.9M455.5 125.4L455.8 126.3M456.5 95.9L456.8 92.8M457 80.3L457.2 77.8M457.8 103.7L458 106.5M458.5 119L458.8 119.3M459.2 94L459.5 89.8M463 83.1L463.2 79.5M463.8 102.9L464 105.2M464.8 124.8L465 125.8L465.5 130.2M466.8 86.3L468.5 63.8M469 79.4L469.5 84.8M470.2 108.7L470.5 107.3M470.8 102.5L471 101.7L471.2 99.9M471.5 93.5L471.8 92.4L472.5 84.1L473.2 78.2L473.8 81.5M474.2 94.4L474.5 96.2" fill="none" stroke="#000" stroke-width="1.3499999999999999" stroke-linejoin="round" stroke-linecap="round"/>
<path d="M28 140.9L28.8 123.3M30 104.9L30.5 93.9M30.5 93.9L31 103.4M35.5 130.1L35.8 134.9M36.5 136.1L36.8 130.2M37.2 126.7L37.8 117.1M39 100.7L39.2 105.8M42.2 98.3L42.8 88.3M42.8 88.3L43.5 105.5M48.2 143.3L48.5 138.4M56.5 120.2L56.8 115.7M61 114.3L62.2 90M63 82.5L63.8 99.9M64 100.1L64.5 109.7M65 113.1L65.2 119.1M75.8 118.5L76.2 127.8M76.5 127.7L76.8 132.1M82 91L82.2 96M83.5 109.6L84.2 126.2M85.5 126.5L85.8 121.6M89 120.2L89.5 129.1M93.5 129.5L93.8 134.3M108 132.2L109.2 110.3M111.2 107.2L111.8 117.5M114.8 109.7L115 104.3M125 137L125.2 131.8M125.8 126.7L126.5 108.6M127 106.4L127.5 118.3M129.5 107.1L130 117.6M130.5 124.1L130.8 119.6M134.8 131.8L135 126.8M135.2 125.3L136 110M140 142.7L140.5 132.6M143.8 114.8L144 110.3M144 110.3L144.8 123.5M145.2 118.2L146.8 83.4M146.8 83.4L147.2 95.4M148.5 111.2L148.8 115.9M154.2 122.7L155 136.6M155 136.6L156 116.4M158.5 98.6L159.2 114.4M163.2 117.4L164 130.6M165.2 124.3L165.8 133.7M172 117L172.5 128.2M182.8 137.3L183 143.1M183.5 144.6L184 132.9M186.5 121.3L187.2 136.1M188 142.2L188.2 137.5M217.5 136L217.8 140.6M220 129L221 110M221.8 94.6L223.5 127.5M231.5 140L231.8 145.2M253 130.1L253.8 116.7M253.8 116.7L254.2 126.3M263.5 127L263.8 131.8M264.8 133.3L265 138.5M266.5 120.5L267.2 104M268.2 124.9L268.8 134.4M285 146L285.2 150.4M289.8 122.1L290.2 131.3M294 144.1L294.2 148.6M299 135L299.2 140.6M306.5 108.1L307 97.5M307 97.5L308.2 126.6M309 133.4L309.2 138M322 111.1L322.5 120.6M335 122.1L335.2 117.1M340 136.3L340.2 131.7M342.2 125L342.5 130.4M350.5 110.9L350.8 116.8M351.2 120.2L351.8 111.3M352.2 117.4L352.5 123.2M352.8 122.2L353 127M353.2 128.6L353.8 138M355.2 138.9L355.5 134.1M358.5 130.2L359.8 102.2M364.2 126.8L364.5 121.3M364.8 120.3L365.2 131.7M368.8 141.1L369.5 126.8M371.5 126.6L371.8 121.5M380.8 123.3L381.2 132.7M382.5 137.3L383 128.3M383.8 132.1L384.8 114.5M387.2 121.8L387.5 127M387.8 125.7L388.2 134.4M388.2 134.4L388.5 128.8M389 130.5L391.5 85.9M401 128.4L401.5 117.8M401.8 118.2L402.5 103.4M403.2 122.9L404 138.6M409.2 131.2L409.8 120.8M411.2 107.2L411.5 102.3M411.8 100.9L412.5 86.4M422 139.9L422.8 125.6M425.8 110.9L426 117M427.5 130.8L428.2 116.3M428.5 115.3L429.5 95.2M435 128.5L435.2 122.8M437.2 97.8L437.8 108.2M439 124.5L439.2 129.9M440.5 135.4L441.5 113.1M445.5 129L446.2 113.7M447.8 92.7L449 119.1M450.5 128.9L451.5 109.8M455 113.5L455.5 125.4M461.2 117.4L461.8 127.9M464.5 120.3L464.8 124.8M466.2 97.5L466.8 86.3M470.5 107.3L470.8 102.5M474 89.7L474.2 94.4" fill="none" stroke="#000" stroke-width="1.0" stroke-linecap="round" stroke-dasharray="0 1"/>
<path d="M48.5 138.4L50 99.2M55.5 137.4L55.8 130.8M56 128.5L56.2 120.3M60.8 121.8L61 114.3M72.8 145.8L73.8 119.2M74 116.8L74.2 110.4M80.8 69.8L81.2 84.1M83 100.7L83.2 108.1M113.8 143.3L114.8 109.7M115.8 99L116 105.1M128.2 128.4L129 109.2M136.8 105.2L137 111.5M148 104.5L148.2 112M153 84.2L154.2 122.7M162.5 94.9L163.2 117.4M169.2 138.6L170 118.1M178 131.9L178.2 138M185.8 106.6L186.2 119.5M195.8 131L196 124.8M219.2 140.7L219.5 134.5M221.2 108L221.8 94.6M363 143.2L363.2 149.9M363.2 149.9L364 128.6M369.8 128.8L370 120.7M372.2 120.7L372.5 112.7M373 116.1L373.2 122.3M374.2 118.5L374.8 104.4M375 104.1L375.2 112.5M377.5 138.2L378 125.1M379.8 104L380.2 117.4M384.8 114.5L385 106.3M385.2 106.3L385.5 112.7M386.5 107.8L387 120.6M391.8 84.8L392 78.1M392.2 78.3L392.5 85.9M397.8 118.3L398.5 95.2M398.8 92.9L399.5 115.6M404.2 136L405.2 104.7M414 66.4L415.2 101M422.8 125.6L423.8 96.5M424.8 87.5L425.5 108.9M430.2 88.9L431 113.5M434 100.1L435 128.5M436.8 105.8L437 98.5M451.5 109.8L453.5 48.3M458 106.5L458.5 119M462.2 104.6L463 83.1M464 105.2L464.5 120.3M468.5 63.8L469 79.4M469.5 84.8L470.2 108.7M471.2 99.9L471.5 93.5M473.8 81.5L474 89.7" fill="none" stroke="#000" stroke-width="1.0" stroke-linecap="round" stroke-dasharray="0 1.5"/>
<path d="M79.2 125.6L80.8 69.8M151.2 132.1L152.2 96M158.2 90L158.5 98.6M161 132.8L161.8 106.7M167 127.1L167.2 118.2M185.2 114.4L185.5 105.7M402.8 104.5L403.2 122.9M405.2 104.7L406.5 52.6M406.5 52.6L407.8 96.7M412.5 86.4L413.2 55.6M432 122.6L433.2 78.2M433.5 79.6L434 100.1M446.2 113.7L446.5 104.5M453.5 48.3L454.2 75.2M455.8 126.3L456.5 95.9M459.5 89.8L460 68.6M460 68.6L461.2 117.4M465.5 130.2L466.2 97.5M474.5 96.2L474.8 105.6" fill="none" stroke="#000" stroke-width="1.0" stroke-linecap="round" stroke-dasharray="0 2"/>
<path d="M267.2 104L267.5 115.1M454.2 75.2L455 113.5M456.8 92.8L457 80.3M457.2 77.8L457.8 103.7M458.8 119.3L459.2 94M461.8 127.9L462.2 104.6M463.2 79.5L463.8 102.9" fill="none" stroke="#000" stroke-width="1.0" stroke-linecap="round" stroke-dasharray="0 2.5"/>
<path d="M407.8 96.7L408 112.3" fill="none" stroke="#000" stroke-width="1.0" stroke-linecap="round" stroke-dasharray="0 3"/>
<path d="M413.5 33.3L414 66.4" fill="none" stroke="#000" stroke-width="1.0" stroke-linecap="round" stroke-dasharray="0 3.5"/>
<path d="M413.2 55.6L413.5 33.3" fill="none" stroke="#000" stroke-width="1.0" stroke-linecap="round" stroke-dasharray="0 4.5"/>
<path d="M28 140.9L28.8 123.3M30 105.6L30.5 94.4L31 103.9M35.5 130.2L35.8 134.9M36.5 136.3L36.8 130.5M39 108.6L39.2 113.4M42.2 99.1L42.8 89L43.5 106.5M48.2 144L48.8 131.8M49.8 117.3L50 111.6M50.2 110.7L50.5 115.1M55.5 138.5L55.8 131.9M56 129.6L56.2 121.4M60 134.6L62.2 93.4M63 86.5L63.8 102.3M65 113.4L65.2 119.3M72.8 146.9L73.8 124.1M74 122.8L74.2 117M79.2 125.6L80.8 72.4L81.2 90.3L82.2 111.1M83 114.2L83.2 119.3M85.5 126.5L85.8 121.6M89 120.2L89.5 129.1M93.5 129.5L93.8 134.3M111.2 107.5L111.8 117.9M113.8 144.1L115 104.7M115.8 99.3L116 105.2M125 137L125.2 131.8M125.8 126.7L126.5 108.6M127 106.4L127.5 118.3M128.2 128.4L129 109.2M129.5 107.1L130 117.6M130.5 124.1L130.8 119.6M134.8 131.8L135 126.8M135.2 125.3L136 110M136.8 105.4L137 111.7M140 142.7L140.5 132.9M143.8 114.9L144 110.3L144.8 123.5M145.2 118.2L146.8 83.4L147.2 95.4M148 104.5L148.2 112M148.5 111.3L148.8 115.9M151.2 132.1L152.2 96M153 84.2L154.2 122.7L155 136.7L155.5 125.3M158 94.2L159.2 118.8M161 133L161.8 106.7M162.5 94.9L163.2 117.7M165.2 124.3L165.8 133.8M167 127.1L167.2 118.4M169.2 138.7L170 118.3M171.8 114.3L172.5 128.2M178 131.9L178.2 138M182.8 137.3L183 143.1M183.5 144.8L184 133.4M185.2 114.9L185.5 106.2M185.8 106.8L186.2 119.5M186.5 121.3L187.2 136.1M188 142.2L188.2 137.7M190.8 118.1L191 122.5M195.8 131.5L196 125.5M217.5 136.7L217.8 141.3M219.2 141.3L219.5 135.3M220 129.8L220.2 123.5M221.2 108.5L221.8 95.1L223.5 127.7M231.5 140L231.8 145.2M253.8 119.8L254.2 128.9M263.5 127L263.8 131.8M264.8 133.3L265 138.5M266.5 120.5L267.2 104L267.5 115.1M268.2 124.9L268.8 134.4M285 146L285.2 150.4M294 144.2L294.2 148.6M299 135L299.2 140.6M306.5 109.4L307 98.9L307.5 112.5L308.2 127.1M322 111.1L322.5 120.6M335 122.1L335.2 117.1M340 136.4L340.2 131.8M342.2 125.6L342.5 130.9M350.5 111.4L350.8 117.4M351.2 120.9L351.8 111.7M352.2 118L352.5 123.7M352.8 122.7L353 127.5M353.2 129.1L353.8 138.3M358.5 130.5L359.8 102.6M363 143.5L363.2 150.4L364 129.3M364.2 127.6L364.5 122.1M364.8 121L365.2 132.2M368.8 141.9L369.5 127.3M369.8 129.4L370 121.2M371.5 127.5L371.8 122.5M372.2 121.6L372.5 113.9M373 117.2L373.2 123.3M374.2 119.4L374.8 105.8M375 105.2L375.2 113.7M377.5 139.8L378 126.8M379.8 105.3L380.2 118.4M380.8 124.4L381.2 133.5M383.8 132.6L384.8 114.7L385 106.5M385.2 106.5L385.5 112.9M386.5 107.8L387 120.7M387.2 122L387.5 127.2M387.8 126L388.2 134.8L388.5 129.2M389 130.6L391.5 86.2M391.8 85.1L392 78.3M392.2 78.3L392.5 86M397.8 118.5L398.5 95.2M398.8 92.9L399.5 115.6M401 128.4L401.5 117.8M401.8 118.2L402.5 103.4M402.8 104.5L403.2 122.9L404 138.7M404.2 136.2L405.2 106.1L406.5 55.5L407.8 97.7L408 112.9M409.2 131.2L409.8 120.8M411.2 107.4L411.5 102.6M411.8 101.4L412.5 88.2L413.2 58.6L413.5 36.4L414 69.2L415.2 101.5M422 140.4L422.8 125.9L423.8 96.5M424.8 87.5L425.2 103.9M427.5 130.9L428.2 116.8M428.5 116.2L429.5 98.1M430.2 92.1L431 115.3M431.5 119.8L431.8 124.7M432 124.9L433.2 84.5M433.5 85.7L434 104.8L435 129.7L435.2 123.4M436.8 105.8L437 98.5M437.2 97.8L437.8 108.2M439 124.5L439.2 129.9M440.5 135.5L441.5 113.6M445.5 129.5L446.2 116.1L446.5 107.9M447.8 98.5L448.2 109.5M450.5 128.9L451.5 110.1L453.5 51L454.2 77.2L455 114.2L455.5 125.7M455.8 126.4L456.5 95.9M456.8 92.8L457 80.3M457.2 77.9L457.8 104.1M458 107.2L458.5 120.8M458.8 121.9L459.2 98.5M459.5 95L460 74.3L461.2 119.4L461.8 128.6L462.2 104.8L463 83.1M463.2 79.5L463.8 102.9M464 105.2L464.5 120.3L464.8 124.8M465.5 130.3L466.2 97.9L466.8 87.3M468.5 67.3L469 81.9M469.5 86.1L470.2 109M470.5 107.5L470.8 102.5M471.2 100L471.5 93.7M473.8 83.2L474 91.2M474.5 97.2L474.8 106.3" fill="none" stroke="#ff0000" stroke-width="0.35" stroke-linejoin="round" opacity="0.85"/>
<path d="M24.5 136.7L24.8 136.9L25.2 139L25.5 138.7L25.8 139.6L26.2 137.6L26.5 139.8L26.8 140.2L27 139.3L27.5 140.3L27.8 141.6L28 140.9M28.8 123.3L30 105.6M31 103.9L31.8 107.7L32 110.7L32.2 110.9L32.8 113.7L33 113L33.2 116.6L33.8 118.5L34 122L34.8 126.7L35 129.7L35.5 130.2M35.8 134.9L36 134L36.2 136.4L36.5 136.3M36.8 130.5L37.2 128L37.8 120.2L38 119.5L39 108.6M39.2 113.4L40.2 121L41.2 107L41.5 106.8L42 99.9L42.2 99.1M43.5 106.5L44 112.2L44.2 113.5L44.8 121.9L45.8 132.2L46 133.2L46.2 135.8L46.5 135.9L47.5 143L47.8 142.9L48 145.4L48.2 144M48.8 131.8L49.8 117.3M50 111.6L50.2 110.7M50.5 115.1L50.8 115.8L51 115.7L51.2 115.8L51.5 116.4L51.8 116.2L52 115L52.2 114.8L52.5 116.1L52.8 115L53.2 122.8L53.5 124.1L53.8 127.7L54 127.4L55 135.1L55.2 138.9L55.5 138.5M55.8 131.9L56 129.6M56.2 121.4L56.5 121.4L57.5 107.6L58 110.7L58.5 118.7L59.2 127L59.5 127.7L60 134.6M62.2 93.4L62.8 86.6L63 86.5M63.8 102.3L64 101.9L64.5 110.4L65 113.4M65.2 119.3L65.5 120.5L66 125.8L66.2 124.9L66.8 129L67 128.7L67.2 125.4L67.5 124L67.8 123.6L68.2 130.9L68.5 130.3L68.8 133.3L69.8 129.3L70 126.6L70.5 132.2L70.8 133.9L71 134.2L71.2 135.6L72 143.3L72.2 142.7L72.8 146.9M73.8 124.1L74 122.8M74.2 117L74.8 114.2L75 117.2L75.8 121.2L76.2 128.9L76.5 128.3L76.8 132.4L77.2 133.8L77.8 139.8L78 138.7L78.2 138.9L79.2 125.6M82.2 111.1L82.8 114.6L83 114.2M83.2 119.3L83.5 118.3L84.2 128.7L84.8 131.9L85 131.5L85.5 126.5M85.8 121.6L86.2 128L86.5 128.2L87 132.1L87.5 124.3L88 124.1L88.5 120.2L88.8 120.8L89 120.2M89.5 129.1L90 134.8L90.2 133.6L90.5 133.4L90.8 130.2L91 129.9L91.2 126.7L91.5 127.8L92 121.7L92.2 121.6L92.5 121.2L93 127.8L93.2 127.5L93.5 129.5M93.8 134.3L94 132.8L94.8 137.5L95 137.2L95.2 137.8L95.5 136.9L96 139.5L96.2 138.4L96.5 141.3L96.8 141.5L97 142.4L97.2 138.2L97.5 138.2L98 137.3L98.2 137.2L99 135.7L99.5 131.5L100.5 130L100.8 127.1L101 127.8L101.8 138.4L102 138L102.2 134.9L102.5 134.2L102.8 131.9L103.2 130.4L103.5 131.7L103.8 130.5L104 134.5L104.2 135.4L104.5 138.9L105 134.2L105.2 133.7L105.5 132.5L106.2 142L106.8 135.5L107 135.9L107.2 134L107.5 134.1L107.8 131.8L108 132.6L109.2 110.8L110 102.3L110.2 103.4L110.5 102.2L110.8 105.6L111 107.2L111.2 107.5M111.8 117.9L113 137.5L113.8 144.1M115 104.7L115.2 102.4L115.5 101.9L115.8 99.3M116 105.2L116.2 107.1L116.5 106L117.2 113.6L117.5 114.2L117.8 116.6L118.2 117.7L118.8 125.1L119 127.4L119.2 127.8L119.5 129.6L119.8 132.3L120 132.2L120.2 134.8L120.5 133.6L121 135.5L121.2 138L121.5 137.8L121.8 138L122.2 136.3L122.8 138.6L123 137.1L123.2 138.5L123.8 134.6L124 135.4L124.2 134.3L125 137M125.2 131.8L125.8 126.7M126.5 108.6L126.8 110.6L127 106.4M127.5 118.3L128.2 128.4M129 109.2L129.2 109.3L129.5 107.1M130 117.6L130.5 124.1M130.8 119.6L131 118.4L131.2 118.9L132 116.7L132.5 122.7L133.2 127.7L133.8 128.7L134 132.1L134.2 131.3L134.5 132.8L134.8 131.8M135 126.8L135.2 125.3M136 110L136.5 106.2L136.8 105.4M137 111.7L137.8 121.3L138.5 128L139.2 139.5L139.5 139L139.8 143L140 142.7M140.5 132.9L140.8 132.6L141.2 130.1L141.5 129.7L141.8 126.5L142 125.7L142.2 123.5L142.5 120L142.8 119.4L143 116L143.5 114.7L143.8 114.9M144.8 123.5L145.2 118.2M147.2 95.4L148 104.5M148.2 112L148.5 111.3M148.8 115.9L149 115.5L149.2 118.2L149.5 117.8L150 120.5L150.2 119.6L151.2 132.1M152.2 96L153 84.2M155.5 125.3L156.2 113.1L157 103.3L158 94.2M159.2 118.8L159.8 123.4L160 122.6L160.8 132.2L161 133M161.8 106.7L162.5 94.9M163.2 117.7L164 130.6L164.2 131.8L164.5 131.3L165 125.1L165.2 124.3M165.8 133.8L166.2 135.1L167 127.1M167.2 118.4L167.5 117.3L167.8 121.1L168 119L168.2 121.6L169.2 138.7M170 118.3L170.2 118.5L171 110.6L171.8 114.3M172.5 128.2L173.8 140.1L174 138.2L174.2 138L174.5 136.6L174.8 132.3L175.5 140.7L176.2 139.5L176.5 140.1L177 135.3L177.2 135.3L177.5 135.6L178 131.9M178.2 138L178.5 137.2L179 139.1L179.2 138L179.8 138L180.2 136L180.5 139.1L180.8 140.1L181 140.2L181.2 139.7L181.5 141.1L182 136.7L182.2 132.7L182.8 137.3M183 143.1L183.2 144.6L183.5 144.8M184 133.4L185.2 114.9M185.5 106.2L185.8 106.8M186.2 119.5L186.5 121.3M187.2 136.1L187.8 142.4L188 142.2M188.2 137.7L189.5 125.6L189.8 125.9L190 124.9L190.5 119.2L190.8 118.1M191 122.5L191.2 124.3L191.5 124.5L192 128.9L192.2 128.6L192.5 129.1L193 132.8L193.2 133L193.5 131.2L193.8 133.1L194 132.9L194.5 133.7L194.8 135.6L195 135.5L195.2 136.6L195.8 131.5M196 125.5L196.2 124.2L196.5 126.6L197 128.6L197.2 128.3L197.5 131.6L198 131.9L198.2 129.6L198.8 134.1L199 134.1L199.2 133.5L199.5 136.3L200 131.4L200.5 128.7L200.8 129.3L201 126.1L201.2 125.4L201.5 125.5L201.8 125L202 128.5L202.2 126.1L202.5 127.3L202.8 126.9L203 127.9L203.5 132.9L203.8 132L204 134.7L204.8 139.3L205 142.4L205.2 138.4L205.5 139L206 136.1L206.5 141.2L206.8 140.6L207 141.2L207.5 139.5L207.8 141.3L208 138.3L208.2 140L208.5 138.6L209 140.1L209.2 140.1L209.5 140.4L209.8 140.1L210 140.8L210.5 137.2L211.5 144.4L211.8 142.6L212 144.6L212.5 145.7L212.8 145L213 145.2L213.2 144.4L213.5 145L213.8 143.5L214 139.4L214.2 140.6L214.8 137.6L215 137L215.2 138.2L215.8 133.9L216.2 135.4L216.5 134.3L216.8 137L217 136.6L217.2 138.1L217.5 136.7M217.8 141.3L218 140.7L218.2 141L218.5 140.1L218.8 140.6L219 140.2L219.2 141.3M219.5 135.3L220 129.8M220.2 123.5L221 110.8L221.2 108.5M223.5 127.7L224.2 136.1L224.5 135.3L224.8 137.5L225.5 140.5L225.8 142.3L226 142.3L227 149.3L227.2 148.3L227.5 148.8L227.8 148.8L228 150.5L228.2 147.3L228.8 150.4L229 150.6L229.2 148.3L229.5 147.2L229.8 147.1L230 145.4L230.2 145.5L230.5 143.2L230.8 143.1L231 140.7L231.2 140.1L231.5 140M231.8 145.2L232.2 146.6L232.5 145.7L232.8 148.6L233.2 149L233.5 149.8L234 148.4L234.2 149.7L235 145L235.2 144.5L235.5 145.4L236 141L236.8 139.6L237 136.3L237.2 135.9L237.5 134.9L238 130.1L238.2 130.2L238.5 127.6L239 128.2L239.2 131.3L239.5 132L239.8 130L240.2 135.4L240.8 137L241 137.2L241.5 142L241.8 141.3L242.2 142.5L242.5 142.1L242.8 144L243 144.3L243.2 146.6L243.8 143.2L244 144.6L244.2 145.2L244.5 145.3L244.8 143.5L245 146.4L245.5 145.8L245.8 145.9L246 147.4L246.2 146.8L246.5 147.7L246.8 147.9L247.2 150.5L247.8 148.9L248 150.7L248.5 148.5L248.8 149.3L249 145.9L249.2 145.1L249.8 137.4L250 136L250.2 136.7L250.5 134.1L251 132.4L251.2 130.2L251.5 132.3L251.8 128.7L252 129.6L252.2 129.1L252.8 133L253 132.4L253.8 119.8M254.2 128.9L254.5 127.6L255.8 137.5L256 138.6L256.2 138.9L256.5 138.3L256.8 141.4L257 138.4L257.2 139.9L257.5 139.9L257.8 137L258.2 143L258.5 143.2L259 142.1L259.2 143.4L259.8 141.3L260 142.2L260.2 140.3L260.8 139.6L261.5 135.6L261.8 135L262.2 131.2L262.5 131.2L263 127.3L263.5 127M263.8 131.8L264 131.2L264.2 133.1L264.5 131.9L264.8 133.3M265 138.5L265.2 138.7L266.5 120.5M267.5 115.1L268.2 124.9M268.8 134.4L269 134.8L269.8 141.8L270 140.9L270.5 141.5L270.8 143.6L271 142.2L271.2 142.9L271.5 142.6L272 140.1L272.2 139.9L273.2 133.4L273.5 129.3L273.8 128.7L274 125.7L274.2 126.1L274.5 124.2L275.2 122.3L275.5 125.5L275.8 125L276.2 129.7L276.5 130.6L276.8 131L277 132.7L277.5 133.9L277.8 135.9L278 134.6L278.2 136.7L278.5 133.3L278.8 133.6L279.2 131.3L279.5 131.4L279.8 133.7L280 134.4L280.2 133.9L280.5 136L280.8 136.1L281 134.7L281.2 138.7L281.5 137.9L281.8 140.9L282 140L282.2 141.5L282.5 142L282.8 142.2L283 141.8L283.2 144.3L283.8 146.8L284 145.6L284.2 146.9L284.5 146.2L284.8 147.5L285 146M285.2 150.4L285.8 148.1L286 149.5L286.2 149.9L286.5 149.4L286.8 150.6L287.2 145L287.5 145.6L287.8 147.2L288 145.5L288.5 138.5L288.8 137.9L289 136.1L289.8 126.3L290.2 135L290.8 139.7L291 138.5L291.2 141.9L291.5 142.8L291.8 142L292 143.1L292.2 146L292.5 144.3L292.8 144.2L293 146.3L293.2 146.5L293.5 145.6L293.8 147.2L294 144.2M294.2 148.6L295 145.8L295.5 143.2L295.8 142.7L296 140.4L296.2 142.6L296.5 138.5L296.8 136.9L297 136.6L297.5 140.4L297.8 140.7L298 138.3L298.5 136.5L298.8 133.4L299 135M299.2 140.6L299.8 138.3L300 141.4L300.8 146.4L301 146.9L301.2 148.1L301.5 147.5L301.8 149.5L302 149.1L302.2 149.5L302.5 147.9L302.8 148.3L303.2 144L303.5 143.5L304 140.3L305 128.3L305.2 127.8L306.5 109.4M308.2 127.1L308.8 130.9L309.2 138.5L309.5 139.2L309.8 136.9L310 138.9L310.2 139.7L310.5 138.7L310.8 136.4L311.2 137.2L311.8 135L312 135.5L312.2 135.1L312.5 133.1L312.8 133.7L313.2 131.9L313.5 128.9L313.8 131.9L314 132.3L314.2 133.4L314.5 133.5L314.8 133.4L315.5 138.6L315.8 138.6L316 137.5L316.2 137.6L316.5 138.3L317.2 135L317.5 135.3L317.8 134.1L318 135L318.5 129L318.8 131.8L319.2 126.7L319.8 125.6L320 123.7L320.5 122.1L320.8 123.1L321 120.5L321.2 120.3L322 111.1M322.5 120.6L323 123.1L323.5 127.1L323.8 130.8L324 132.9L324.2 133.5L324.5 137.5L324.8 137.5L325.5 143.9L326 144.6L326.2 143.9L327.8 133.9L328.2 127.6L328.8 133.5L329 133.5L329.5 136.7L329.8 135.7L330.2 141.6L330.5 139.3L330.8 138.7L331 140.4L331.2 140.7L331.5 139.7L332.2 132.6L332.5 132.1L333 133.9L333.5 137.5L334.5 123.2L334.8 123.2L335 122.1M335.2 117.1L335.5 116.3L335.8 120.2L336.5 125.5L336.8 129.4L337 128.3L337.5 130.3L338 129.6L338.5 133.8L338.8 131.9L339.2 138.7L339.5 138.8L339.8 138.2L340 136.4M340.2 131.8L340.8 128.9L341.2 120.8L341.5 119.7L342 126.4L342.2 125.6M342.5 130.9L342.8 130.7L343.2 136.3L343.5 136L344 136.2L344.5 138.6L344.8 138.1L345.5 134.7L345.8 134.9L346.2 132.1L346.8 134.2L347 133.5L347.2 133.3L347.5 129.5L347.8 132.1L348 130.4L348.2 131.6L348.5 130.7L348.8 131.3L349.5 120.3L349.8 117.8L350 117.4L350.2 115.2L350.5 111.4M350.8 117.4L351 118.1L351.2 120.9M351.8 111.7L352.2 118M352.5 123.7L352.8 122.7M353 127.5L353.2 129.1M353.8 138.3L354.5 137L354.8 139.2L355.2 139.2L355.8 132.5L356 132.7L356.2 132.6L356.5 133.3L357 126.6L358 136.9L358.5 130.5M359.8 102.6L360.2 110.7L360.8 115.7L361.8 132.4L362.2 138.2L362.5 139.3L363 143.5M364 129.3L364.2 127.6M364.5 122.1L364.8 121M365.2 132.2L365.5 132.6L365.8 133.9L366 136.9L366.2 137.8L366.8 137.3L367 137.9L367.5 134.6L367.8 137.3L368 137.4L368.2 138L368.8 141.9M369.5 127.3L369.8 129.4M370 121.2L370.2 121.4L370.5 119.5L371.2 128.9L371.5 127.5M371.8 122.5L372 120.8L372.2 121.6M372.5 113.9L372.8 114.2L373 117.2M373.2 123.3L374 119.2L374.2 119.4M374.8 105.8L375 105.2M375.2 113.7L376.2 130.9L376.5 131.6L377 137L377.2 137.3L377.5 139.8M378 126.8L379.2 106.2L379.5 105.1L379.8 105.3M380.2 118.4L380.8 124.4M381.2 133.5L381.5 136.9L381.8 137.5L382 140.7L382.2 140.6L382.5 137.8L383 129.1L383.2 131.9L383.5 132.9L383.8 132.6M385 106.5L385.2 106.5M385.5 112.9L385.8 115.1L386 114.9L386.5 107.8M387 120.7L387.2 122M387.5 127.2L387.8 126M388.5 129.2L388.8 129.1L389 130.6M391.5 86.2L391.8 85.1M392 78.3L392.2 78.3M392.5 86L393.8 107.7L394.8 116.2L395.5 125.3L395.8 126.3L396 128.9L396.2 129.8L396.8 128.4L397.8 118.5M398.5 95.2L398.8 92.9M399.5 115.6L399.8 115.4L400.8 128.4L401 128.4M401.5 117.8L401.8 118.2M402.5 103.4L402.8 104.5M404 138.7L404.2 136.2M408 112.9L409.2 131.2M409.8 120.8L410.8 111.1L411 106.8L411.2 107.4M411.5 102.6L411.8 101.4M415.2 101.5L417 127.3L417.2 127.6L417.8 136L418.2 139L418.8 136L419.2 129.4L419.5 132.2L419.8 132.7L420 131.1L420.2 133L420.5 132.6L420.8 133.2L421.2 137.7L421.5 136.9L421.8 140.1L422 140.4M423.8 96.5L424.5 86.8L424.8 87.5M425.2 103.9L426 117L426.5 121.2L427 129L427.5 130.9M428.2 116.8L428.5 116.2M429.5 98.1L430.2 92.1M431 115.3L431.5 119.8M431.8 124.7L432 124.9M433.2 84.5L433.5 85.7M435.2 123.4L435.5 122.9L436.2 113.7L436.8 105.8M437 98.5L437.2 97.8M437.8 108.2L439 124.5M439.2 129.9L439.5 129.1L439.8 132.1L440.2 135.3L440.5 135.5M441.5 113.6L442.2 104.7L443.2 120.6L443.5 119.7L444.5 132.4L444.8 132.3L445.2 130L445.5 129.5M446.5 107.9L447.8 98.5M448.2 109.5L449 120.7L449.5 127.6L449.8 127.2L450 130.4L450.2 127.4L450.5 128.9M455.5 125.7L455.8 126.4M456.5 95.9L456.8 92.8M457 80.3L457.2 77.9M457.8 104.1L458 107.2M458.5 120.8L458.8 121.9M459.2 98.5L459.5 95M463 83.1L463.2 79.5M463.8 102.9L464 105.2M464.8 124.8L465 125.8L465.5 130.3M466.8 87.3L468.5 67.3M469 81.9L469.5 86.1M470.2 109L470.5 107.5M470.8 102.5L471.2 100M471.5 93.7L471.8 92.6L472 89.3L473.2 79.8L473.8 83.2M474 91.2L474.2 95.6L474.5 97.2" fill="none" stroke="#ff0000" stroke-width="1.45" stroke-linejoin="round" stroke-linecap="round"/>
<path d="M28 140.9L28.8 123.3M30 105.6L30.5 94.4M30.5 94.4L31 103.9M35.5 130.2L35.8 134.9M36.5 136.3L36.8 130.5M39 108.6L39.2 113.4M42.2 99.1L42.8 89M42.8 89L43.5 106.5M49.8 117.3L50 111.6M50.2 110.7L50.5 115.1M60 134.6L62.2 93.4M63 86.5L63.8 102.3M65 113.4L65.2 119.3M72.8 146.9L73.8 124.1M74 122.8L74.2 117M81.2 90.3L82.2 111.1M83 114.2L83.2 119.3M85.5 126.5L85.8 121.6M89 120.2L89.5 129.1M93.5 129.5L93.8 134.3M111.2 107.5L111.8 117.9M115.8 99.3L116 105.2M125 137L125.2 131.8M125.8 126.7L126.5 108.6M127 106.4L127.5 118.3M129.5 107.1L130 117.6M130.5 124.1L130.8 119.6M134.8 131.8L135 126.8M135.2 125.3L136 110M140 142.7L140.5 132.9M143.8 114.9L144 110.3M144 110.3L144.8 123.5M145.2 118.2L146.8 83.4M146.8 83.4L147.2 95.4M148.5 111.3L148.8 115.9M154.2 122.7L155 136.7M155 136.7L155.5 125.3M158 94.2L159.2 118.8M165.2 124.3L165.8 133.8M171.8 114.3L172.5 128.2M182.8 137.3L183 143.1M183.5 144.8L184 133.4M186.5 121.3L187.2 136.1M188 142.2L188.2 137.7M190.8 118.1L191 122.5M195.8 131.5L196 125.5M217.5 136.7L217.8 141.3M219.2 141.3L219.5 135.3M221.8 95.1L223.5 127.7M231.5 140L231.8 145.2M253.8 119.8L254.2 128.9M263.5 127L263.8 131.8M264.8 133.3L265 138.5M266.5 120.5L267.2 104M268.2 124.9L268.8 134.4M285 146L285.2 150.4M294 144.2L294.2 148.6M299 135L299.2 140.6M306.5 109.4L307 98.9M307.5 112.5L308.2 127.1M322 111.1L322.5 120.6M335 122.1L335.2 117.1M340 136.4L340.2 131.8M342.2 125.6L342.5 130.9M350.5 111.4L350.8 117.4M351.2 120.9L351.8 111.7M352.2 118L352.5 123.7M352.8 122.7L353 127.5M353.2 129.1L353.8 138.3M358.5 130.5L359.8 102.6M364.2 127.6L364.5 122.1M364.8 121L365.2 132.2M368.8 141.9L369.5 127.3M371.5 127.5L371.8 122.5M373 117.2L373.2 123.3M380.8 124.4L381.2 133.5M383.8 132.6L384.8 114.7M387.2 122L387.5 127.2M387.8 126L388.2 134.8M388.2 134.8L388.5 129.2M389 130.6L391.5 86.2M401 128.4L401.5 117.8M401.8 118.2L402.5 103.4M403.2 122.9L404 138.7M409.2 131.2L409.8 120.8M411.2 107.4L411.5 102.6M411.8 101.4L412.5 88.2M422 140.4L422.8 125.9M427.5 130.9L428.2 116.8M428.5 116.2L429.5 98.1M431.5 119.8L431.8 124.7M437.2 97.8L437.8 108.2M439 124.5L439.2 129.9M440.5 135.5L441.5 113.6M445.5 129.5L446.2 116.1M447.8 98.5L448.2 109.5M450.5 128.9L451.5 110.1M455 114.2L455.5 125.7M461.2 119.4L461.8 128.6M464.5 120.3L464.8 124.8M466.2 97.9L466.8 87.3M470.5 107.5L470.8 102.5" fill="none" stroke="#ff0000" stroke-width="1.1" stroke-linecap="round" stroke-dasharray="0 1"/>
<path d="M48.2 144L48.8 131.8M55.5 138.5L55.8 131.9M56 129.6L56.2 121.4M113.8 144.1L115 104.7M128.2 128.4L129 109.2M136.8 105.4L137 111.7M148 104.5L148.2 112M153 84.2L154.2 122.7M162.5 94.9L163.2 117.7M169.2 138.7L170 118.3M178 131.9L178.2 138M185.8 106.8L186.2 119.5M220 129.8L220.2 123.5M221.2 108.5L221.8 95.1M307 98.9L307.5 112.5M363 143.5L363.2 150.4M363.2 150.4L364 129.3M369.8 129.4L370 121.2M372.2 121.6L372.5 113.9M374.2 119.4L374.8 105.8M375 105.2L375.2 113.7M377.5 139.8L378 126.8M379.8 105.3L380.2 118.4M384.8 114.7L385 106.5M385.2 106.5L385.5 112.9M386.5 107.8L387 120.7M391.8 85.1L392 78.3M392.2 78.3L392.5 86M397.8 118.5L398.5 95.2M398.8 92.9L399.5 115.6M404.2 136.2L405.2 106.1M406.5 55.5L407.8 97.7M414 69.2L415.2 101.5M422.8 125.9L423.8 96.5M424.8 87.5L425.2 103.9M430.2 92.1L431 115.3M432 124.9L433.2 84.5M434 104.8L435 129.7M435 129.7L435.2 123.4M436.8 105.8L437 98.5M446.2 116.1L446.5 107.9M451.5 110.1L453.5 51M458 107.2L458.5 120.8M462.2 104.8L463 83.1M464 105.2L464.5 120.3M468.5 67.3L469 81.9M469.5 86.1L470.2 109M471.2 100L471.5 93.7M473.8 83.2L474 91.2" fill="none" stroke="#ff0000" stroke-width="1.1" stroke-linecap="round" stroke-dasharray="0 1.5"/>
<path d="M79.2 125.6L80.8 72.4M80.8 72.4L81.2 90.3M151.2 132.1L152.2 96M161 133L161.8 106.7M167 127.1L167.2 118.4M185.2 114.9L185.5 106.2M402.8 104.5L403.2 122.9M405.2 106.1L406.5 55.5M412.5 88.2L413.2 58.6M433.5 85.7L434 104.8M453.5 51L454.2 77.2M455.8 126.4L456.5 95.9M459.5 95L460 74.3M460 74.3L461.2 119.4M465.5 130.3L466.2 97.9M474.5 97.2L474.8 106.3" fill="none" stroke="#ff0000" stroke-width="1.1" stroke-linecap="round" stroke-dasharray="0 2"/>
<path d="M267.2 104L267.5 115.1M454.2 77.2L455 114.2M456.8 92.8L457 80.3M457.2 77.9L457.8 104.1M458.8 121.9L459.2 98.5M461.8 128.6L462.2 104.8M463.2 79.5L463.8 102.9" fill="none" stroke="#ff0000" stroke-width="1.1" stroke-linecap="round" stroke-dasharray="0 2.5"/>
<path d="M407.8 97.7L408 112.9" fill="none" stroke="#ff0000" stroke-width="1.1" stroke-linecap="round" stroke-dasharray="0 3"/>
<path d="M413.5 36.4L414 69.2" fill="none" stroke="#ff0000" stroke-width="1.1" stroke-linecap="round" stroke-dasharray="0 3.5"/>
<path d="M413.2 58.6L413.5 36.4" fill="none" stroke="#ff0000" stroke-width="1.1" stroke-linecap="round" stroke-dasharray="0 4.5"/>
</g>
<rect x="24.5" y="7.6" width="450.3" height="149.8" fill="none" stroke="#8a8a8a" stroke-width="0.75"/>
<text x="24.5" y="167.2" text-anchor="middle" font-size="8.8" font-family="Liberation Sans, Arial, Helvetica, sans-serif" fill="#111">Jan</text>
<text x="62.7" y="167.2" text-anchor="middle" font-size="8.8" font-family="Liberation Sans, Arial, Helvetica, sans-serif" fill="#111">Feb</text>
<text x="97.3" y="167.2" text-anchor="middle" font-size="8.8" font-family="Liberation Sans, Arial, Helvetica, sans-serif" fill="#111">Mar</text>
<text x="135.5" y="167.2" text-anchor="middle" font-size="8.8" font-family="Liberation Sans, Arial, Helvetica, sans-serif" fill="#111">Apr</text>
<text x="172.5" y="167.2" text-anchor="middle" font-size="8.8" font-family="Liberation Sans, Arial, Helvetica, sans-serif" fill="#111">May</text>
<text x="210.8" y="167.2" text-anchor="middle" font-size="8.8" font-family="Liberation Sans, Arial, Helvetica, sans-serif" fill="#111">Jun</text>
<text x="247.8" y="167.2" text-anchor="middle" font-size="8.8" font-family="Liberation Sans, Arial, Helvetica, sans-serif" fill="#111">Jul</text>
<text x="286" y="167.2" text-anchor="middle" font-size="8.8" font-family="Liberation Sans, Arial, Helvetica, sans-serif" fill="#111">Aug</text>
<text x="324.3" y="167.2" text-anchor="middle" font-size="8.8" font-family="Liberation Sans, Arial, Helvetica, sans-serif" fill="#111">Sep</text>
<text x="361.3" y="167.2" text-anchor="middle" font-size="8.8" font-family="Liberation Sans, Arial, Helvetica, sans-serif" fill="#111">Oct</text>
<text x="399.5" y="167.2" text-anchor="middle" font-size="8.8" font-family="Liberation Sans, Arial, Helvetica, sans-serif" fill="#111">Nov</text>
<text x="436.6" y="167.2" text-anchor="middle" font-size="8.8" font-family="Liberation Sans, Arial, Helvetica, sans-serif" fill="#111">Dec</text>
<text x="23.5" y="160.2" text-anchor="end" font-size="8.8" font-family="Liberation Sans, Arial, Helvetica, sans-serif" fill="#111">0</text>
<text x="23.5" y="138.8" text-anchor="end" font-size="8.8" font-family="Liberation Sans, Arial, Helvetica, sans-serif" fill="#111">2</text>
<text x="23.5" y="117.4" text-anchor="end" font-size="8.8" font-family="Liberation Sans, Arial, Helvetica, sans-serif" fill="#111">4</text>
<text x="23.5" y="96" text-anchor="end" font-size="8.8" font-family="Liberation Sans, Arial, Helvetica, sans-serif" fill="#111">6</text>
<text x="23.5" y="74.6" text-anchor="end" font-size="8.8" font-family="Liberation Sans, Arial, Helvetica, sans-serif" fill="#111">8</text>
<text x="23.5" y="53.2" text-anchor="end" font-size="8.8" font-family="Liberation Sans, Arial, Helvetica, sans-serif" fill="#111">10</text>
<text x="23.5" y="31.8" text-anchor="end" font-size="8.8" font-family="Liberation Sans, Arial, Helvetica, sans-serif" fill="#111">12</text>
<text x="23.5" y="10.4" text-anchor="end" font-size="8.8" font-family="Liberation Sans, Arial, Helvetica, sans-serif" fill="#111">14</text>
<path d="M24.5 157.4v-3.6M24.5 7.6v3.6M62.7 157.4v-3.6M62.7 7.6v3.6M97.3 157.4v-3.6M97.3 7.6v3.6M135.5 157.4v-3.6M135.5 7.6v3.6M172.5 157.4v-3.6M172.5 7.6v3.6M210.8 157.4v-3.6M210.8 7.6v3.6M247.8 157.4v-3.6M247.8 7.6v3.6M286 157.4v-3.6M286 7.6v3.6M324.3 157.4v-3.6M324.3 7.6v3.6M361.3 157.4v-3.6M361.3 7.6v3.6M399.5 157.4v-3.6M399.5 7.6v3.6M436.6 157.4v-3.6M436.6 7.6v3.6M474.8 146.7h-2.2M24.5 146.7h1.6M24.5 136h3.6M474.8 136h-3.6M474.8 125.3h-2.2M24.5 125.3h1.6M24.5 114.6h3.6M474.8 114.6h-3.6M474.8 103.9h-2.2M24.5 103.9h1.6M24.5 93.2h3.6M474.8 93.2h-3.6M474.8 82.5h-2.2M24.5 82.5h1.6M24.5 71.8h3.6M474.8 71.8h-3.6M474.8 61.1h-2.2M24.5 61.1h1.6M24.5 50.4h3.6M474.8 50.4h-3.6M474.8 39.7h-2.2M24.5 39.7h1.6M24.5 29h3.6M474.8 29h-3.6M474.8 18.3h-2.2M24.5 18.3h1.6" stroke="#8a8a8a" stroke-width="0.75" fill="none"/>
<text x="250" y="175.6" text-anchor="middle" font-size="8.2" font-family="Liberation Sans, Arial, Helvetica, sans-serif" fill="#111">Time(20150101-20151231)</text>
<text transform="translate(14.3 82.9) rotate(-90)" text-anchor="middle" font-size="8.8" font-family="Liberation Sans, Arial, Helvetica, sans-serif" fill="#111">swh/m</text>
<rect x="27.0" y="11.3" width="64.5" height="32.900000000000006" fill="#fff" stroke="#8a8a8a" stroke-width="0.75"/>
<circle cx="35.5" cy="17.4" r="0.75" fill="#00f"/>
<path d="M29.3 27.8H41.8" stroke="#000" stroke-width="0.4"/><circle cx="35.5" cy="27.8" r="0.75" fill="#000"/>
<path d="M29.3 38.3H41.8" stroke="#f00" stroke-width="0.4"/><circle cx="35.5" cy="38.3" r="0.75" fill="#f00"/>
<text x="43.2" y="20.3" font-size="8.2" font-family="Liberation Sans, Arial, Helvetica, sans-serif" fill="#111">NDBC46066</text>
<text x="43.2" y="30.7" font-size="8.2" font-family="Liberation Sans, Arial, Helvetica, sans-serif" fill="#111">WW3</text>
<text x="43.2" y="41.2" font-size="8.2" font-family="Liberation Sans, Arial, Helvetica, sans-serif" fill="#111">EnOI</text>
</g>
<g>
<clipPath id="c1"><rect x="24.5" y="192.0" width="450.8" height="150.3"/></clipPath>
<g clip-path="url(#c1)">
<path d="m67.5 303.9h0m.1 2.8h0m0 1.1h0m.1-1.3h0m0 3.4h0m.1-3.6h0m0 1h0m.1 5.8h0m0-5.6h0m.1 1.3h0m.1 2.1h0m0-3.4h0m.1-3.6h0m.1 .6h0m0-.8h0m.1 2.9h0m.1-6.6h0m0 .8h0m.1 3.7h0m0-1.4h0m.1 8h0m0-5.3h0m.1-4.3h0m0 3h0m.1-3.2h0m0-3.8h0m.1 4.5h0m0-4h0m.1 1.2h0m.1-2.4h0m0 2.5h0m.1-1.5h0m0-6.2h0m.1 4h0m0-3.7h0m.1 5.3h0m0-6.1h0m.1 1.8h0m0-1h0m.1-.8h0m0-1.2h0m.1-.6h0m.1-5.3h0m0 1.4h0m.1 4.1h0m0-6.6h0m.1-2.5h0m0-4.6h0m.1-1.5h0m.1 1.9h0m.1-2.6h0m.1-2.5h0m0 4.3h0m.1 .9h0m0 4.7h0m.1-3.9h0m0 2.4h0m.1-1.3h0m0 1.5h0m.1 2.3h0m0-.9h0m.1 1.6h0m0 1.7h0m.1-2.4h0m0 1.5h0m.1-1.5h0m.1 2.5h0m0 2.2h0m.1-1.7h0m0 1.7h0m.1 1.5h0m0-1h0m.1-2.2h0m0 4.4h0m.1-6.6h0m0-5.4h0m.1 3.1h0m0-1.9h0m.1 3.3h0m0 3.7h0m.1-4.8h0m0-1.1h0m.1 2h0m.1-6.3h0m0-2.1h0m.1-2.8h0m0-1h0m.1 7.2h0m0-7.6h0m.1 3.7h0m0 2.6h0m.1-1.5h0m0 7.3h0m.1-.6h0m.1 1.4h0m.1-5.1h0m0 6.7h0m.1 2.3h0m0 .8h0m.1 2.2h0m0 .9h0m.1 2.6h0m0 1.2h0m.1-2.5h0m0-1.2h0m.1 5.2h0m0-3.1h0m.1 2.2h0m0-.8h0m.1 3h0m0-6.5h0m.1-2.2h0m.1-5h0m0 .9h0m.1-1.6h0m.1-.6h0m0 4.6h0m.1-4.7h0m0 3.5h0m.1-6.7h0m0 3.6h0m.1 1.8h0m0-9.6h0m.1 3.3h0m0-3.1h0m.1-2.7h0m0-.9h0m.1 1h0m0-4.5h0m.1 6h0m.1-7h0m0 4h0m.1-2.4h0m0-1.6h0m.1 2h0m.1 .6h0m0-1.4h0m.1 1.2h0m0 .9h0m.1-6.7h0m0-1.8h0m.1 .8h0m0 3.2h0m.1-4.7h0m0 .9h0m.1 1.8h0m0-1.6h0m.1 .7h0m0-4.6h0m.2 2.1h0m0 .6h0m.1-6.1h0m0 1h0m.1 2.2h0m0-4.2h0m.1 1.3h0m.1 1.2h0m0-4.7h0m.1 6.1h0m0 1.2h0m.1-2h0m0-3.7h0m.1 4.6h0m0-1h0m.1 1.4h0m0 2.1h0m.1-1.6h0m0 4h0m.1-2.4h0m0-2.2h0m.1 3.8h0m0-6.3h0m.1-.7h0m0 1.7h0m.1 5.9h0m0-5.7h0m.1 6h0m0-4.2h0m.1 4.5h0m0 .5h0m.1-2.1h0m0 5.1h0m.1-3.8h0m.1 1h0m0 1.4h0m.1-.9h0m0 1.1h0m.1 2.5h0m0 1.6h0m.1-3.3h0m0 3h0m.1-2.9h0m0 5h0m.1-4.3h0m0 1.4h0m.1 .8h0m0 5.7h0m.1-1.3h0m0 1.9h0m.1 1.8h0m0-2h0m.1 .9h0m0 6.5h0m.1-8.1h0m0 6.2h0m.1-1.5h0m0 1.9h0m.1-2.1h0m0 4.2h0m.1 3.2h0m.1-5.5h0m0 4.7h0m.1-2h0m0 4.6h0m.1 2.1h0m.1-1.5h0m.1-2.4h0m0 1.2h0m.1 3.3h0m0 2.8h0m.1-6h0m0 2.6h0m.1 4.3h0m.1 3.7h0m0-3.4h0m.1-1.6h0m0-1.5h0m.1 5.5h0m0 2.4h0m.1-2.8h0m0 1.7h0m.1 3.1h0m0-.7h0m.1 1.5h0m0 3.6h0m.1-3.6h0m0 3.1h0m.1 2.4h0m0-2.2h0m.1 2h0m0-4.4h0m.1 1.1h0m0 1.2h0m.1-3.2h0m0 3.3h0m.1-1.4h0m0-4.8h0m.1 .9h0m.1-9.2h0m.1 4.3h0m0-3.1h0m.1-4.7h0m0-1h0m.1 3h0m0-.7h0m.1-3.1h0m0-2.1h0m.1 4.3h0m0-6.5h0m.1 .7h0m0-2.8h0m.1-3.6h0m.1 2.9h0m.1-4.3h0m0 2.9h0m.1 5.9h0m0-7.3h0m.1-2.3h0m.1-.7h0m0 3h0m.1-1.5h0m0 2.9h0m.1-3.1h0m0 3.2h0m.1 2.5h0m.1 2.7h0m0-2.6h0m.1 3.1h0m.1-.5h0m0-6h0m.1 7.6h0m.1-.6h0m0 1.8h0m.1-4.4h0m0 2.1h0m.1-.6h0m0 3.7h0m.1-2h0m0 2.9h0m.1-1.5h0m0-1.3h0m.1-.8h0m0-2.9h0m.1 4h0m0-3.8h0m.1 1.1h0m0 4h0m.1-4.4h0m0 3.6h0m.1-2.5h0m0-1.3h0m.1 1h0m0-3.5h0m.1 2.7h0m.1-4.2h0m0 1.9h0m.1 1.3h0m.1 2.8h0m0-.6h0m.1 2h0m.1 5.4h0m.1-2.1h0m.1 7.6h0m0 1h0m.1-3.6h0m0-1.1h0m.1-3.9h0m.1 2.7h0m0 2.8h0m.1 7h0m0-6.1h0m.1 6.6h0m0-1.6h0m.1-1.1h0m.1 2.2h0m0 .7h0m.1-4.5h0m.1 4.4h0m0 1.2h0m.1-3.7h0m0 3.2h0m.1-1.1h0m0-2.8h0m.1-3.7h0m.1 1.9h0m.1-2.6h0m0 3.9h0m.1-1.8h0m.1-1.5h0m.1-.8h0m.1-2.7h0m0-4.4h0m.1 3.6h0m0-2.9h0m.1-.5h0m0 1.9h0m.1-1.7h0m0-.9h0m.1-1.1h0m0 1.6h0m.1 4.6h0m0-3.1h0m.1-7h0m0 7.8h0m.1-7h0m0 3.5h0m.1-5.6h0m.1-2.5h0m.1 3.8h0m.1-2.1h0m0-3.4h0m.1 4.1h0m0-2.6h0m.1 5.4h0m0-2.2h0m.1-4.2h0m0 3.1h0m.1 3.2h0m0-3.1h0m.1 2.3h0m0-5.9h0m.1 3.1h0m0 2.5h0m.1-6h0m.1 4.7h0m0 4.1h0m.1-2h0m0-3.8h0m.1-1.2h0m0 8.4h0m.1-4.9h0m0-3.2h0m.1 1.4h0m.1-2.7h0m.1-1.3h0m0 8.1h0m.1-1.5h0m0 2.3h0m.1 1.6h0m.1-1.8h0m0 4.2h0m.1-1.2h0m0-.8h0m.1-2.3h0m0 5.1h0m.1 4.1h0m0-4.2h0m.1-.6h0m0 5.8h0m.1-1.9h0m.1 8.5h0m.1-2.5h0m0-4.6h0m.1 2.9h0m.1-4.1h0m0 3.3h0m.1 .6h0m0-2.4h0m.1 .8h0m0 2.4h0m.1-3.8h0m0-3.2h0m.1 9h0m.1-1.5h0m.1-1.2h0m.1 1.6h0m.1 1.3h0m0-5.3h0m.1 8.6h0m0-5.7h0m.1 1.2h0m0-1.6h0m.2-.8h0m0 1h0m.1-1.2h0m0 .6h0m.1-3.5h0m.1 1.8h0m0 3.4h0m.1-1.5h0m0-5.3h0m.1 4.4h0m.1-7.7h0m.1 4.2h0m0-3.7h0m.1 2.2h0m0-2.2h0m.1 2.2h0m0 .8h0m.1-2.1h0m0-1.1h0m.1 3h0m.1-6.7h0m0-2.9h0m.1-2.8h0m0 3.6h0m.1-2.5h0m.1-2.3h0m0 2.2h0m.1 5.2h0m.1-5.8h0m.1-1.3h0m0-1.1h0m.1 .6h0m0 2.9h0m.1-9.7h0m0 1.4h0m.1 2.1h0m0-5.5h0m.1 4.2h0m0 2h0m.1-2.7h0m0 2.8h0m.1 3.9h0m.1-4.3h0m0 3.6h0m.1 1.5h0m0 3.4h0m.1-1h0m0 5.1h0m.1-.8h0m0 2.5h0m.1 4h0m0-1.3h0m.1 2.4h0m0-3.7h0m.1 3h0m.1 3.7h0m.1 8.1h0m0-4.1h0m.1 .6h0m0 3.8h0m.1-4.5h0m0-2.3h0m.1 .9h0m0-1.4h0m.1 .6h0m0-5.8h0m.1 7.5h0m0-.8h0m.1-.7h0m0 1.9h0m.1-3.3h0m.1 3.2h0m0-4.7h0m.1-1.7h0m.1-1.2h0m0 5.2h0m.1-3.1h0m0-1.1h0m.1 3.9h0m0 2h0m.1-3.1h0m0 6.7h0m.1-1.6h0m.1 2.1h0m0-3.2h0m.1 1.9h0m0 1.6h0m.1-2h0m0 6.5h0m.1-3.6h0m0 3.3h0m.1-3.3h0m0 3.2h0m.1-2.2h0m0-.8h0m.1 4.1h0m0-3.2h0m.1-1.8h0m0 5.2h0m.1-1.2h0m0-3.8h0m.1 2.8h0m0 2.2h0m.1-3.8h0m0 1h0m.1 1.3h0m0 .5h0m.2 4.1h0m0-4.2h0m.1-1.8h0m0 1.1h0m.1 1.1h0m0-2.4h0m.1 1.7h0m.1-5.5h0m0 1.7h0m.1 1.7h0m0-4.9h0m.1-1.6h0m0-.6h0m.1 .9h0m0 5.5h0m.1-8.2h0m0 .8h0m.1-1.1h0m0 2.5h0m.1 .8h0m0-5.1h0m.1 1.4h0m0-4.3h0m.1 7.1h0m0-2.9h0m.1 3.3h0m.1-4.7h0m0 1.9h0m.1-4.4h0m.1-.9h0m0 2.7h0m.1-2.5h0m0-5.1h0m.1 .9h0m.1 5.2h0m0 4.7h0m.1-10.6h0m.1 4.2h0m.1 3.3h0m0-6.4h0m.1 6.5h0m0-2.2h0m.1-2.7h0m0 .6h0m.1-1.5h0m0-7.3h0m.1 5.3h0m0-1.5h0m.1-2.4h0m0 1.5h0m.1 3.7h0m0-4.6h0m.1 4.1h0m.1-1.2h0m0-4h0m.1-1h0m0-2.7h0m.1-2.4h0m0 1.2h0m.1 6.8h0m0-7.1h0m.1 4.5h0m.1-5.8h0m0 8h0m.1-5.3h0m.1-.8h0m0 4.5h0m.1-1.6h0m0-.7h0m.1-1.3h0m0-1.2h0m.1-5h0m0 4.7h0m.1 1.5h0m0-2.8h0m.1-2.5h0m0 4.2h0m.1-3.7h0m.1-6h0m0 3.9h0m.1-1.6h0m0-1h0m.1 6.4h0m0 .8h0m.1-3.5h0m.1 3.1h0m0-1.6h0m.1 2.9h0m0 2.1h0m.1-2.3h0m.1 4.4h0m0-.8h0m.1-.8h0m.1 4.5h0m0-2.3h0m.1 .5h0m.1 4.6h0m0-3.3h0m.1-.9h0m.1-2.5h0m.1 .7h0m0-1.1h0m.1 .7h0m0 4.6h0m.1-1.4h0m0 .8h0m.1-2.9h0m0 7.5h0m.1-4.4h0m0 2h0m.1-.9h0m.1 .8h0m0 4.3h0m.1-5.2h0m0 3.1h0m.1 1.2h0m0 3.2h0m.1-2.4h0m0-3.8h0m.1 3h0m.1 .8h0m0-2.1h0m.1 2.6h0m0-3h0m.1-1.8h0m0 5.8h0m.1-6.8h0m.1 1.9h0m.1 3.8h0m0-2.8h0m.1-1h0m0 .7h0m.1 4.5h0m0-7.8h0m.1 1.8h0m0 2.7h0m.1 .7h0m0 1.8h0m.1 .9h0m0 3.6h0m.1-3h0m0 4.4h0m.1-6.3h0m0-1h0m.1 4.4h0m0-5.7h0m.1 1.1h0m0 8.2h0m.1-5.7h0m0 2.9h0m.1 .6h0m0 1.6h0m.1-1.6h0m0-.7h0m.1-3.4h0m0 3.4h0m.1 1.3h0m0 1.6h0m.1-2.1h0m0-3.6h0m.1-1.9h0m.1-2.1h0m.1 4h0m.1-.9h0m.1 2.2h0m.1-2.2h0m0-.7h0m.1 .8h0m0-.9h0m.1 .9h0m0-.9h0m.1 1.9h0m0 3.1h0m.1-6.8h0m0 1.8h0m.1-2.6h0m0-1.7h0m.1 4.8h0m.1 4.4h0m0-2.3h0m.1-1.9h0m0 5.1h0m.1-6.8h0m.1 3.5h0m0-.7h0m.1 6.1h0m0-3.4h0m.1-.8h0m0 3.1h0m.1-1h0m0 1.9h0m.1-.8h0m.1-3.6h0m0 8.5h0m.1 .6h0m0-6.1h0m.1-2.9h0m0 2.3h0m.1 1.3h0m0 3.1h0m.1-4.2h0m0 1.4h0m.1 2.5h0m0-2.5h0m.1 .6h0m0 .7h0m.1-2.7h0m0 .8h0m.1-.6h0m0-.8h0m.1-2.4h0m.1 2.7h0m0 5.3h0m.1-6.1h0m0 3.3h0m.1-1.5h0m.1 2.9h0m0-2.5h0m.1 3.2h0m0-4.3h0m.1-2.3h0m0 3.8h0m.1 2h0m0-3.6h0m.2 2.7h0m0 .9h0m.1-2h0m.1 2.3h0m0-3.9h0m.1 .7h0m0-1.1h0m.1 4.7h0m0 1.1h0m.1-3.3h0m0 1.8h0m.1-1.6h0m0 4.4h0m.1-2.3h0m0 .5h0m.1-4.5h0m.1 3.3h0m0-1.5h0m.1-.8h0m.1-2.6h0m0-1h0m.1 5.3h0m0-6.4h0m.1 3h0m.1-4.8h0m0 2.9h0m.1-7.7h0m.1-.9h0m.1-2.9h0m0 1.5h0m.1-1.3h0m.1 4.1h0m0-1.2h0m.1-4h0m0 4.9h0m.1-.7h0m0-5.8h0m.1 2.8h0m0-3.1h0m.1 1.2h0m0-1.8h0m.1-2.6h0m0-4.9h0m.1-1.2h0m0 3.5h0m.1-.8h0m0-5h0m.1 1.5h0m0-.5h0m.1-.6h0m0-2h0m.1-6h0m.1 2.1h0m.1-2.8h0m0-1.9h0m.1 1.7h0m0-2.8h0m.1-.9h0m0 5.4h0m.1-1.9h0m0-.5h0m.1 2.3h0m0-2.7h0m.2-1.7h0m0 1.7h0m.1-4.9h0m.1-.6h0m.1 2.3h0m0 2.5h0m.1-3.5h0m0 6.6h0m.1 1.2h0m.1 .6h0m0 .9h0m.1 .7h0m0-1.7h0m.1 4.8h0m.1-2.6h0m0 2.5h0m.1 2.8h0m0-3.6h0m.1 2.8h0m0 2.2h0m.1-1.1h0m0 1.1h0m.1 4.5h0m0-.8h0m.1 5h0m.1-6.5h0m0 8h0m.1-2.2h0m0-3.9h0m.2 6.2h0m0 2.2h0m.1 .9h0m0-.9h0m.1 5.8h0m0 .9h0m.1 2.3h0m0-4.4h0m.1 2.8h0m0-7.1h0m.1 5.6h0m0-3.6h0m.1 2.6h0m0 .6h0m.1 4h0m.1 3.4h0m0-5.3h0m.1 .7h0m0-1.1h0m.1 3.4h0m0 2.1h0m.1-7.1h0m0 8.8h0m.1-1h0m0-4.5h0m.1 5h0m0 2h0m.1-1.9h0m0-.8h0m.1 3.4h0m0-4.9h0m.1-1.8h0m0-1.1h0m.1 3.4h0m0-4.3h0m.1 4.8h0m.1 2.3h0m0 1.1h0m.1-.6h0m.1 3.1h0m.1-2.4h0m0-1.3h0m.1 1.2h0m0 2.4h0m.1 .9h0m0-2.5h0m.1 .7h0m0 3.3h0m.1 .6h0m0-.7h0m.1-4.4h0m0 6.1h0m.1-2.9h0m.1-1.7h0m.1 1.2h0m0-1.9h0m.1 3.4h0m0-2.3h0m.1 .8h0m0-3h0m.1 2.8h0m0 1.1h0m.2 .6h0m0 1h0m.1-2.5h0m.1 3.8h0m0-3.3h0m.1-2.6h0m.1 .6h0m.1 2.5h0m0-4h0m.1 4.9h0m0-4.7h0m.1 1.7h0m0-4.8h0m.1 4.8h0m0-5.5h0m.1-3.4h0m0-2.9h0m.1 5.2h0m0-.7h0m.1 5.1h0m.1-3.1h0m.1 .9h0m.1-1.9h0m.1-3.7h0m.1 4.9h0m0-3.6h0m.1 .9h0m0-2.9h0m.1 4.3h0m0-1.9h0m.1-4.5h0m.1 2.9h0m0-3.7h0m.1 1.6h0m0-1.3h0m.1-1h0m.1-6.1h0m0 11.9h0m.1 1h0m0-4.9h0m.1-2.3h0m.1 1.8h0m0-1.2h0m.1 1.1h0m0-5.3h0m.1 1.3h0m0-4.8h0m.1 1.9h0m0 1.6h0m.3-4.1h0m.1 5.6h0m0-3.8h0m.1-1.5h0m.1 2.1h0m0 .5h0m.1-6h0m.1 1.2h0m.1 6.2h0m0 2.1h0m.1-4.1h0m0-6h0m.1 2.7h0m0-1.1h0m.1 5.6h0m.1-1.1h0m0-8.8h0m.1 1.8h0m.1 1.1h0m0-2.7h0m.1 4.8h0m0-2h0m.1-6.1h0m0 1.3h0m.1 1.8h0m0 4.5h0m.1-5h0m0 4.8h0m.1 .8h0m0-3.5h0m.1-1.3h0m0 6.1h0m.1-5.9h0m0-.6h0m.1 5.1h0m0-1.3h0m.1 3.4h0m0-.5h0m.1 2.5h0m.1-3.3h0m0-3.2h0m.1 .6h0m.1-1h0m.1 4.8h0m.2 5h0m0-2.4h0m.1 .8h0m.1 5.1h0m.1-3.9h0m.1 4.2h0m.1-3.2h0m.1 1.4h0m0 2.6h0m.1-2.1h0m0 2.9h0m.1-1.3h0m.1 3.7h0m0-2.9h0m.1 5.7h0m0-.5h0m.1 .7h0m0-2.5h0m.1 6.3h0m0-2.5h0m.1 .5h0m.1 2h0m.1-3.6h0m.1-.8h0m0 2.2h0m.1-1.2h0m0 1.2h0m.1 3h0m0 1.3h0m.1-2.1h0m0 6.4h0m.1-2.8h0m0-2.8h0m.1-1.4h0m.1 3.7h0m0 1.1h0m.1-3.5h0m0 4.6h0m.1-1.2h0m0-1.9h0m.1 1h0m0 3h0m.1-1.8h0m.1-1.7h0m0 3.3h0m.1 .8h0m0 .6h0m.1-2h0m.1-4.6h0m.1-4.5h0m0-5.7h0m.1 3.7h0m.1-6.7h0m0 1.2h0m.1-2.1h0m0-.8h0m.1-1.9h0m0-.6h0m.1 1.9h0m0-1.6h0m.1 1.7h0m0-.8h0m.1-2.4h0m0-3.1h0m.1-4.4h0m0 6.7h0m.1-2.8h0m0-5.9h0m.1-2.6h0m.1 3.3h0m0-.9h0m.1-3.9h0m.1 2.5h0m0 4h0m.1-4.4h0m0-1.6h0m.1-6.4h0m0 6h0m.1-.7h0m0 .6h0m.1-1.3h0m0-3.6h0m.1-1.1h0m.1-.8h0m0 .9h0m.1 1.4h0m.1 1.4h0m0 3.3h0m.1-6.3h0m0 2.9h0m.1 1.3h0m0-6h0m.1 5.2h0m0 2.8h0m.1-3.5h0m0-.9h0m.1 2.9h0m.1-.9h0m0 3.1h0m.1-3.3h0m.2 5.2h0m0 .8h0m.1 2.4h0m0-.6h0m.1-3.2h0m0 9.2h0m.1-5.3h0m.1 1.5h0m0-2.1h0m.1 .6h0m.1 .9h0m0-.9h0m.1 2.1h0m0-3.2h0m.1 1.6h0m.1 5.7h0m0-1.4h0m.1-5.5h0m0-2.6h0m.1 4.5h0m0-4.8h0m.1 4.4h0m0-1.4h0m.1-1.5h0m.1-.5h0m0-2.1h0m.1 5h0m0-5.1h0m.1 2.2h0m.1 2h0m0-.6h0m.1-.8h0m0-1.8h0m.1-4.2h0m0 6.9h0m.1-3.3h0m0 1h0m.1-5.5h0m0-4.1h0m.1 3.3h0m0 1.9h0m.1 4.9h0m0-5.2h0m.1 1.9h0m0 2.3h0m.1 .9h0m0 1.4h0m.1-4h0m.1 9.4h0m0-3.8h0m.1-2.1h0m.1 1.4h0m0 2.1h0m.1-2.9h0m0 2.7h0m.1 7.9h0m0-1.6h0m.1-1.5h0m0-4.7h0m.1 7.7h0m0 3.2h0m.1-5.1h0m0-2.3h0m.1 3.1h0m0-1.2h0m.1 1.5h0m.1 6.8h0m0-2.6h0m.2-1h0m.1-1h0m0 4.3h0m.1-3.1h0m0-1h0m.1 3.8h0m0-1.7h0m.1 1.2h0m0 2h0m.1-3h0m0 2.8h0m.2-1.4h0m0-6.4h0m.1 3.5h0m.1 .7h0m0-1.8h0m.1-1.8h0m.1 1.2h0m0-2.9h0m.2-1.9h0m0 3.1h0m.1-3.1h0m.1 1.6h0m0-4.3h0m.1 1.6h0m0-6.7h0m.1 5h0m.1-1.6h0m0 5h0m.1-7.7h0m0 4.6h0m.1-2h0m0-2.4h0m.1 6.2h0m0-3.8h0m.1 .8h0m.1 1.1h0m0 1.6h0m.1-5.5h0m.1 3.3h0m0 1.5h0m.1-2.7h0m0 5.2h0m.1-1.6h0m.1 1h0m0 3.1h0m.1-2.8h0m.1 5.7h0m0 1.8h0m.1-1.6h0m.1 3.4h0m.1-5.5h0m0 6.3h0m.1-4.9h0m0-1.2h0m.1 1.6h0m.1-5.3h0m0 5.8h0m.1-2.1h0m.1 3.8h0m0 2.5h0m.1-4h0m0 4.7h0m.1-3.9h0m0-5.3h0m.1 10.4h0m0-8.2h0m.1-1h0m.1 4.1h0m0-2.9h0m.1 .6h0m0-1.1h0m.1-3.8h0m0 2.2h0m.1-4.7h0m0 3.1h0m.1-5.2h0m0 3.5h0m.1-2.6h0m.1 .8h0m0-3.6h0m.1 1.2h0m0-1.1h0m.2-3.5h0m0-2.8h0m.1 2.2h0m.1-2.4h0m0 1.5h0m.1-2.5h0m0 2.8h0m.1-4.9h0m0 3.3h0m.1 2.3h0m0-2.6h0m.1 .9h0m.1-1h0m0-2.2h0m.1-1h0m0-.6h0m.1 6.8h0m.1-1.1h0m0 .9h0m.1-1.3h0m.1-.9h0m.1 3.7h0m0 1h0m.1 2h0m0-2.8h0m.1 4.5h0m0 2.3h0m.1-3.5h0m0 3.2h0m.1 3.1h0m0-4.8h0m.2 2.3h0m0 2.7h0m.1 .5h0m0-3.4h0m.1-2.5h0m.1 5.9h0m0-3.4h0m.1 4.1h0m0-2.6h0m.1 .8h0m.1-2h0m0 3h0m.1 5.3h0m0-7.1h0m.1 1.8h0m.1 1.9h0m.1-2.4h0m0 4.5h0m.1 2.8h0m0-4.6h0m.1-1.2h0m0 5.5h0m.1-3.9h0m0-2.4h0m.1-1.4h0m.1 4.5h0m0-3.2h0m.1 .9h0m0-6.3h0m.1 5.5h0m0-.7h0m.1-4.1h0m.1 3h0m.1 1.3h0m0-6.7h0m.1 1.3h0m0 .9h0m.1 2.7h0m.1-4.7h0m.1 2h0m0-3.3h0m.1 .5h0m0-1.1h0m.1 5h0m.1-5.5h0m0 1.3h0m.1-1.2h0m0 3.8h0m.1-1.5h0m0-2h0m.1-1.7h0m0-1.6h0m.1 1.8h0m.1 2.7h0m0-2.6h0m.1-1.6h0m0-2.5h0m.1 5.6h0m0-4.6h0m.1 4.4h0m0 3.1h0m.1-2.3h0m.1-1.7h0m0 4.8h0m.1 1.7h0m0-1.3h0m.1 3h0m.1-3.9h0m.1 4.8h0m0-8.7h0m.1 4.9h0m0 1.3h0m.1-1.8h0m0 4.8h0m.1-1.1h0m.1 1.5h0m.1 3.1h0m.1-1.3h0m0-1.4h0m.1 1h0m0-2.1h0m.1 1.8h0m0-2h0m.1 3.8h0m0-2.1h0m.1-1.9h0m0 4.9h0m.1-2.5h0m.1 .8h0m0 3.6h0m.1 1h0m.1-7.8h0m0 1.7h0m.1 3.2h0m0 2.2h0m.1-1.3h0m0 4.2h0m.1 5.6h0m.1-9.3h0m0 4.4h0m.1-2.3h0m.1 5h0m0-3.2h0m.1 1.4h0m0 2.9h0m.1-2h0m.1 2.9h0m0-1.4h0m.1 .5h0m0 2.9h0m.1 3.3h0m.1-4h0m0-4h0m.1 3.1h0m0-2.3h0m.1-2.5h0m0 4.3h0m.1 2.4h0m0-3h0m.1-3.9h0m0 3.3h0m.1 4.5h0m0-3.1h0m.1 2.4h0m0-1.2h0m.1-3.2h0m0 6.1h0m.1 1.1h0m0-4.5h0m.1-2.7h0m0 4h0m.1-1.5h0m.1-1.5h0m0-.9h0m.1 2.1h0m0-1h0m.1 4.7h0m0-6.6h0m.1 2.1h0m.1-5.6h0m0 3.7h0m.1 4.9h0m0-7.9h0m.1 3.2h0m0 1h0m.1 1.5h0m0-1.5h0m.2 2.1h0m0 5.6h0m.1-9.3h0m0 2.1h0m.1 2h0m0-2.7h0m.1 4.5h0m0-2.4h0m.1-2.3h0m0 1.5h0m.1-1.1h0m.1-1.5h0m0-1.5h0m.1 9.2h0m0-3.1h0m.1-4.9h0m0 6.5h0m.1-5.2h0m0 .9h0m.1 3h0m.1 1.1h0m0-3.6h0m.1 4.1h0m.1-1.4h0m.1-2.1h0m0 1.6h0m.1 3h0m0-2.2h0m.1 2.3h0m0-3.2h0m.1 1.5h0m0-.5h0m.1-5.2h0m0 1.6h0m.1-1.6h0m0 4.3h0m.1-2h0m0 1.9h0m.1-3.8h0m0-2.5h0m.1-2.2h0m.1-1.2h0m0 1.8h0m.1 2.7h0m0-1.3h0m.1-5.3h0m0 1.5h0m.1 4.8h0m0-3.4h0m.1-3.2h0m0 6.3h0m.1 .6h0m0-1.3h0m.1-.7h0m0-1.9h0m.1 1.8h0m0-3.2h0m.2-3.1h0m0 8.8h0m.1-9.5h0m0 2.9h0m.1 .8h0m.1-2.1h0m0 4.2h0m.1-1.8h0m.1-8.7h0m.1-2.8h0m0 3.9h0m.1-2.5h0m0 4.1h0m.1-.6h0m0-4.4h0m.1-1.9h0m0 2.1h0m.1-3.2h0m0 2.5h0m.2-8.6h0m0 7.3h0m.1-4.7h0m0 2.6h0m.1-2h0m0-1h0m.1-6.3h0m.1 .6h0m0 1.9h0m.1-4.4h0m.1 .8h0m.1-3.2h0m0 6.5h0m.1-5.5h0m0 1.8h0m.1-1.8h0m.1 .8h0m0-6.1h0m.1 5.2h0m0-.6h0m.1-9.1h0m0 6.7h0m.1 .9h0m0 1.4h0m.1-6h0m0 2.8h0m.1-4.2h0m0 2h0m.1 2.3h0m0-3.6h0m.1 4.2h0m.1-2.8h0m.1-4.3h0m.1 3.2h0m.1-1.5h0m0-5.7h0m.1 6h0m0 2.4h0m.1 1.5h0m.1-1.1h0m0-3.3h0m.1 1.1h0m0 .7h0m.1-1.6h0m.1 5.4h0m0 6.3h0m.1-6h0m0-.9h0m.1-1.5h0m.1 2.4h0m.1-4h0m0 5.9h0m.1-.6h0m0 .8h0m.1 .5h0m0-2.2h0m.1-2.3h0m0 3.6h0m.1 6.1h0m0-4.8h0m.1-3.7h0m0 3.9h0m.1-2.2h0m0 6.2h0m.1-4.1h0m0 2.1h0m.1-4.5h0m0 1.9h0m.1-1.3h0m0 4.7h0m.1-8.5h0m0 4h0m.1-4.7h0m.1 .6h0m0 7.8h0m.1-4.8h0m0-4.2h0m.1-3.8h0m0 7h0m.1 1.9h0m.1-5.6h0m0 7.3h0m.1-1.7h0m0-.7h0m.1 1.1h0m0-3.1h0m.1 2.5h0m.1-3.2h0m0 3h0m.1 .6h0m0 2.5h0m.2-1.4h0m0 1.7h0m.1-1.6h0m0-.6h0m.1 2.1h0m.1 1.4h0m.1-4.9h0m.1 5.8h0m0 2.1h0m.1-1.8h0m.1-3.6h0m0 1.4h0m.1 1.5h0m0-1h0m.1 5.2h0m0-2.8h0m.2 .8h0m0-3.1h0m.1 2.7h0m.1 4h0m0-6.6h0m.1 .6h0m.1 4.6h0m0-2.5h0m.1-.8h0m.1-3.4h0m0 4.5h0m.1-3.6h0m.1 4h0m.1-2h0m0 3h0m.1-1.2h0m0-2.3h0m.1 2.5h0m0-7.9h0m.1 6.6h0m0 1h0m.1 2.6h0m.1-3.3h0m.1 1.1h0m.1-1.7h0m.1 6h0m0-4.4h0m.1 .7h0m.1 1.1h0m0-7.7h0m.1 2.9h0m.1 1.9h0m0 .7h0m.1-1.4h0m.1 5.2h0m0-1.3h0m.1-1.2h0m.1 1.4h0m0 2.3h0m.1-1h0m0-4.8h0m.1 2.5h0m.1-.9h0m0 3.2h0m.1 4.4h0m0-5h0m.2 6.8h0m.1-4.4h0m0 1.6h0m.1 2h0m.1 1h0m.1-8.9h0m0 7.9h0m.1 .8h0m.1 6.1h0m0-11.5h0m.1 5.9h0m.1-1.8h0m0 2.3h0m.1 2.8h0m0-.8h0m.1-3.3h0m0 2.7h0m.1 .8h0m.1 2.3h0m.1 5.9h0m0-6.1h0m.1 2.1h0m.1-.6h0m.1-2.6h0m.1 3.7h0m0 1.5h0m.1-2.4h0m.2 5h0m0-5.8h0m.1 3.2h0m.1 4.9h0m0-3.3h0m.1 2.6h0m0-4.9h0m.1 3.1h0m0 2.3h0m.1 .5h0m.1 .9h0m0-1.4h0m.1 1.4h0m0 2.7h0m.1-5.9h0m0-3.3h0m.1 8.5h0m0-10.2h0m.1 3h0m0-1.2h0m.1 1h0m.1-5.8h0m.1 1h0m0-2.3h0m.1 1.6h0m.1 1.8h0m0-4.2h0m.1 2.8h0m0-5h0m.1-.9h0m.1 .5h0m0 4.1h0m.1-3.8h0m.1-4.4h0m0 1.1h0m.1-1.4h0m0-1.3h0m.1-1.7h0m.1 .5h0m0 1.2h0m.1-3.1h0m.1-4.7h0m0 3.1h0m.1-.9h0m0-5.7h0m.1 5h0m0 4h0m.1-2.5h0m0-7.1h0m.1 9.3h0m0-3.6h0m.1 .8h0m0-3h0m.1-1.6h0m0-1.5h0m.1-1h0m0 .9h0m.1-1.5h0m0 5.3h0m.1-2.1h0m0-3.4h0m.1 6.6h0m.1-1.1h0m0 .9h0m.1-4h0m.1 5.4h0m0-4.2h0m.1-1.4h0m0-1h0m.1 8.1h0m0-4.6h0m.1 2.1h0m.1-4.9h0m0 5.6h0m.1-2.7h0m0 2.4h0m.1-5.2h0m.1 3.1h0m0 1h0m.1-1.3h0m.1 1.5h0m.1 3.1h0m0-6.7h0m.1 1.6h0m0 2.5h0m.1 4.2h0m0-2.2h0m.1-2.1h0m0 5h0m.1-1.5h0m0-1.7h0m.1-1.9h0m0 .7h0m.1 9.9h0m.1-2.4h0m0-2.3h0m.1-.8h0m0-1.7h0m.1-1.1h0m.1 2h0m0-4.9h0m.1 2.2h0m0 1h0m.1-2.8h0m0 4.8h0m.2 2.4h0m0-1.2h0m.1 2h0m0-2.5h0m.1 1.8h0m0 5.8h0m.1-3.3h0m.1-1.7h0m0 1.7h0m.1-2.3h0m0 5.3h0m.1-8h0m0 2.6h0m.1 5.2h0m0-4.6h0m.1 3.7h0m0-3.5h0m.1 7.7h0m0-4h0m.1 4h0m.1-5.9h0m.1-1.5h0m0 4.3h0m.1 1.9h0m0 4.3h0m.1-2.3h0m.1 4.1h0m0-4h0m.1-1.5h0m0 1.7h0m.1 1.2h0m0 2.1h0m.1-.8h0m0-1.5h0m.1-2.1h0m.1 6h0m0 1h0m.1-3.2h0m0 2.7h0m.1-1.2h0m0-4.3h0m.1 4.9h0m0-2.6h0m.1 5h0m0-3.6h0m.1 1.3h0m0 1.8h0m.1 1h0m0 3.2h0m.1-4.1h0m0-2.4h0m.1 2.7h0m.1-.6h0m.1-.6h0m.1 .9h0m.2 2.1h0m0-9.1h0m.1 8h0m0-2.2h0m.1-3.2h0m0 3.9h0m.1-2.7h0m0-4.2h0m.2 1.4h0m0-2.9h0m.1-4.3h0m.1-3.3h0m0-2h0m.1 2.7h0m.1 1.6h0m0-1.8h0m.1 .8h0m0-2.5h0m.1 2.5h0m0-1.7h0m.1 3.4h0m0-3.4h0m.1 3.5h0m0-5.2h0m.2 .5h0m0 2.9h0m.1-4.9h0m0 5.3h0m.1-4.9h0m0 .7h0m.1-1.6h0m0 1.6h0m.1 2.1h0m0-3.6h0m.1 3.2h0m0-.7h0m.1-1.3h0m.1 3.3h0m0 .7h0m.1-2.1h0m.1-3.1h0m.1 .9h0m0 .7h0m.1-10.3h0m0 5h0m.2 3h0m.1-2.5h0m0-2.8h0m.1 3.9h0m0 1.2h0m.1-7.1h0m.1 1.5h0m.1 3.3h0m0-3.6h0m.1 7.6h0m.1-4.1h0m0 1.1h0m.1 3.5h0m0-2h0m.1-4h0m0 3.8h0m.1 2.4h0m.1-1.9h0m0-2.5h0m.1-1.3h0m0-1h0m.1 1h0m.2-1.1h0m.1 4.5h0m.1-4.3h0m0-1.5h0m.1-3.8h0m0 9.1h0m.1-4.9h0m.1 4.5h0m.1 1.5h0m.1-2.8h0m.1-1.6h0m0 1.1h0m.1-2.9h0m0 .6h0m.1 2.2h0m0-1.8h0m.1 4h0m0-2.3h0m.1 1.6h0m0-1.4h0m.1 4.6h0m.1-1.4h0m0-7.5h0m.1 2.3h0m0-.5h0m.1 1.4h0m0-2.7h0m.1-2.2h0m.1 .9h0m.2-2.5h0m.1 4.9h0m.2-2h0m.1 5.3h0m0-11h0m.1 1.9h0m0-2.7h0m.2 4.4h0m0-4.1h0m.1 .9h0m0 4.1h0m.1-1.9h0m.1 3.5h0m.2-2.2h0m0 8.1h0m.2-10.6h0m0 2.6h0m.2-.9h0m0 .5h0m.1-2.8h0m0-4.8h0m.1 2.6h0m0-1.1h0m.1 5h0m0 1.1h0m.1-3.1h0m0 6.1h0m.1-4.1h0m.1-.9h0m0 4.8h0m.1-2.6h0m.1 2.3h0m.1-5h0m0-4h0m.1 3.4h0m0 1.9h0m.1 3.2h0m0-8.4h0m.1 2.6h0m0-5.1h0m.1 2.6h0m.1 .9h0m0 .9h0m.1-3h0m0 12.2h0m.1-11.5h0m0 3.3h0m.1-1.9h0m.1 8.2h0m0-3.5h0m.2 2.9h0m0-.5h0m.1-1h0m0 3.2h0m.1 2h0m0-3.4h0m.1 7h0m0-1.5h0m.1 2.7h0m0-6.6h0m.1 6h0m0-1.3h0m.1 1.3h0m.1-2.9h0m0 5.7h0m.1-4.8h0m0 4.3h0m.1 5h0m.1-8.3h0m0 1.9h0m.1 3.1h0m0-2.5h0m.1-1.3h0m.1 4.7h0m0 2.2h0m.1-5.6h0m0 7.2h0m.1-4.4h0m0 4.2h0m.1-4.8h0m0 3.8h0m.1-4.8h0m0 5h0m.1-3.5h0m0 4.8h0m.1-1.9h0m0-3h0m.1 3.2h0m0 1.3h0m.1 1.5h0m0-1.4h0m.1 4.4h0m0-5.6h0m.1-2h0m0 2.1h0m.2-2.2h0m.1 2h0m0-1.6h0m.1 3.6h0m.1-4.9h0m.1 6.2h0m.1-2.6h0m.1 3.2h0m.1 2.4h0m0-9.6h0m.1 7.2h0m.1-7.9h0m.1 8.5h0m0-2.4h0m.1 2.8h0m.1-.9h0m.1-4.2h0m0 1.1h0m.2 3.2h0m.1 .9h0m0-7h0m.1 4.9h0m.1 4h0m.1-4.3h0m.3 5.9h0m0 4.3h0m.1-3.8h0m0 .5h0m.1-.8h0m0-1h0m.1 1.6h0m0 2.2h0m.1-3.1h0m.2-4.7h0m0 8h0m.1-8.2h0m0 5.2h0m.1-5.2h0m.1 3.7h0m.2-3.5h0m0 5.6h0m.1-2h0m.1 1.8h0m0-.9h0m.2-4.9h0m0 3.5h0m.1-1h0m0 .8h0m.1-1.6h0m.1 3.9h0m0-7.4h0m.1 7.9h0m0-2.2h0m.1-3.6h0m.1 5.2h0m.1-2.9h0m.1 7.2h0m0-7.9h0m.1 7.4h0m.1-3.8h0m.1-3.2h0m0-4.7h0m.2 3h0m0 .6h0m.1 2.1h0m0-.6h0m.1-2.4h0m0-.9h0m.1 6.8h0m0-1.9h0m.2-3.9h0m0 4.1h0m.1 .9h0m.1-3.2h0m0-.9h0m.1 6.4h0m.1-2.7h0m0 5.2h0m.1-1.9h0m0 1.3h0m.1 1h0m.1 1.8h0m0-.7h0m.1-1.1h0m.1-1.6h0m0 3h0m.1 .9h0m.1-4.2h0m0 1.3h0m.1-1.3h0m0-3.5h0m.1 4.9h0m0-2.4h0m.1 2h0m0 7.2h0m.1-4.1h0m0-1.7h0m.1 2.6h0m0-.9h0m.2 2.2h0m.1-5.7h0m0 3.7h0m.1 .9h0m.1 1.2h0m0-6.1h0m.1 5.7h0m0-2h0m.2 2.2h0m0 3.3h0m.1-6.3h0m0 3.8h0m.1 2.1h0m.2 2.9h0m0 .8h0m.1-6h0m.1 .8h0m0 3.6h0m.1-.7h0m0-3h0m.1-2.1h0m.1 1.1h0m0 4h0m.1-2.5h0m.1 3.2h0m0-.9h0m.1-3h0m.1 1.1h0m0 4.5h0m.1-1.1h0m0-1h0m.1 7.1h0m0-5.1h0m.1-1.9h0m0-1.3h0m.1 5.3h0m0-1.6h0m.1-.9h0m0-2.4h0m.1 6.8h0m0-6.8h0m.1 7.7h0m0 .6h0m.1 1h0m.1-2.7h0m0 .8h0m.1 2.5h0m0-6.3h0m.1 5.7h0m0-2.4h0m.3 3.9h0m0-1.9h0m.1 2h0m.1 1h0m0-4.8h0m.1-.7h0m.1 1.4h0m0 2.1h0m.1-2.1h0m0-3h0m.1 4.8h0m0 .7h0m.1 .9h0m0-7.9h0m.1 1h0m0 2.7h0m.1 .8h0m0 2h0m.1-3.7h0m0 2.7h0m.1-6.6h0m0 9.6h0m.1-4.2h0m0 2.6h0m.1-5.5h0m0 1.4h0m.1 5.8h0m0-3.6h0m.1-3.8h0m.1 2.3h0m.1-.6h0m.1 1.6h0m0-4.2h0m.1-2.9h0m0 5.9h0m.1-1.6h0m.1-.7h0m0-.8h0m.1-1.2h0m.1 3.1h0m0-3.5h0m.1-5.2h0m.1 4.4h0m0 3.7h0m.1-1.6h0m0-2.5h0m.1 6.7h0m0-6h0m.1 2.4h0m0 1.3h0m.1-2h0m.1 2.3h0m.1-2.7h0m0 3.5h0m.1-4.2h0m0-3.6h0m.1 5h0m0 1.1h0m.1 3h0m0-1.3h0m.1-1.2h0m.1-6.2h0m0 6.4h0m.1 1.5h0m0-1.5h0m.1 1h0m.1 5h0m.1-7.1h0m.1 3.5h0m0-2h0m.1 1.6h0m0-2.1h0m.1 3.2h0m.1 3.4h0m.1-1.7h0m0-2.5h0m.1 4.2h0m0 4.5h0m.1-3.8h0m0 1.2h0m.1-.9h0m0 3.7h0m.1-2.9h0m0 .7h0m.1-4.2h0m0 3.3h0m.1 .9h0m0-2.2h0m.1 3.4h0m0-1.5h0m.1 9.1h0m0-6.8h0m.1 2h0m0 .7h0m.1-7.9h0m0 2.8h0m.1 3.7h0m0-.5h0m.1-8.9h0m0 4.3h0m.1-.7h0m.1 1.5h0m0 4.8h0m.1-2.4h0m0-2.7h0m.1 .8h0m.1-3.9h0m.1 7.8h0m0-1h0m.1 4.5h0m0-3.6h0m.1-3.8h0m.1 6.9h0m0-3.9h0m.1 2.6h0m0-2.3h0m.1 2.3h0m.1-5.6h0m0 2.5h0m.1-4h0m0-2.5h0m.1 8.2h0m0-6.2h0m.1 2.2h0m0-2h0m.1 4.1h0m0-4.9h0m.1 7.6h0m0-1.3h0m.1-3.8h0m0-.6h0m.1-1.9h0m.1 1.8h0m.1 1.6h0m0 .9h0m.1-3.3h0m0 8.2h0m.1-.9h0m0-5h0m.1 .7h0m0-1.7h0m.1 5.5h0m0-7.5h0m.1 5.2h0m0-1.3h0m.1-.7h0m.1 2h0m0-4.4h0m.1 4.5h0m0-3.6h0m.1-2.9h0m0-1h0m.1 .8h0m0 4.4h0m.1-10.8h0m0 4.7h0m.1-1.2h0m0 6.3h0m.1-5h0m0-4.6h0m.1 4.6h0m0-6.3h0m.1 5.4h0m0-7h0m.1 .8h0m.1 .8h0m.1 1.2h0m.1 3.3h0m0-6.1h0m.1-1.3h0m0-3.4h0m.1 5.2h0m.1-2.8h0m.1 3.2h0m0-6.2h0m.1-4.2h0m0 3.2h0m.2-3.9h0m0-1h0m.1 4.1h0m.1 1.8h0m0-2.1h0m.1-3.1h0m.1-.9h0m.1 4.9h0m0 .7h0m.1-7.6h0m0 9.2h0m.1-3.9h0m.1-4.4h0m.2-2.6h0m0 4.6h0m.1 4.7h0m.1-6h0m.1 1.2h0m0 3.7h0m.1-2.1h0m0 2.8h0m.1-2.8h0m.1-2h0m0-3.7h0m.1 5.3h0m0-1.1h0m.1 4.3h0m.1 .7h0m0-6.4h0m.1 1.2h0m.1 4h0m0-2.6h0m.1-2h0m0 3.9h0m.1-3.4h0m0 2.8h0m.1-3.4h0m0 1.6h0m.1 2.4h0m0 1.1h0m.1 5.2h0m0-2.7h0m.1 2.3h0m.1-3.7h0m0 1.3h0m.1 4.1h0m0-6.5h0m.1 3.6h0m.1-1.5h0m0 3.8h0m.1-2.4h0m0 2h0m.1-5.5h0m0 3.3h0m.1 2.6h0m0-8.6h0m.1 4.1h0m.1-2.7h0m0 7.7h0m.1-2.6h0m0-1.6h0m.1 3h0m0-5.5h0m.1 4.3h0m.1-1.8h0m0 1.1h0m.1-4.1h0m0 3h0m.1-2.6h0m0-.9h0m.1 1.8h0m0-1.3h0m.1 2.2h0m0 3.6h0m.1-4.9h0m0 4.7h0m.1-2.9h0m.1 3.1h0m0-.6h0m.1-3h0m.1 1.2h0m0-6.4h0m.1 1.4h0m0 4.2h0m.1-6.5h0m0 4h0m.1 1.3h0m0-1.9h0m.2-3.7h0m0 1h0m.1 8.1h0m0-4.7h0m.1 3.1h0m.1-4.1h0m0-1.1h0m.1 7.6h0m0-6h0m.1 3.4h0m0-1h0m.1-2.8h0m0 2.2h0m.1-1.6h0m0 .8h0m.1-2.3h0m0-1.7h0m.1 5.7h0m0-2.7h0m.1 4.2h0m.1-2h0m0 3.5h0m.1-2.8h0m0 3.3h0m.1-2h0m0-3h0m.1 5.8h0m.1-3.6h0m.1 5.3h0m0-4.9h0m.1 4.5h0m.1-.9h0m0-2h0m.1-5.3h0m0 2.6h0m.1 6.3h0m.1-7h0m0 2.2h0m.1 4.2h0m0-3.9h0m.1 .6h0m0 3.4h0m.1-2.2h0m.1 .7h0m0 1h0m.1-1.1h0m0-2.3h0m.1 3.5h0m0-1.4h0m.1-2.4h0m.1-2.1h0m0 6h0m.1 1.5h0m0-1h0m.1 .8h0m0-2.2h0m.1 2.3h0m0 1h0m.1 2h0m0-8.7h0m.1 .7h0m.1 4.2h0m0-5.5h0m.1 4.5h0m0-2.5h0m.1 5.1h0m0-8h0m.1 1.6h0m0 4.9h0m.1 1.6h0m.1-4.7h0m0 3.7h0m.1 1.8h0m.1 3.1h0m0-5.2h0m.1-.8h0m0 1.1h0m.1-2.7h0m0-3.2h0m.1 5.8h0m0-1.2h0m.1 2.4h0m.1-3.3h0m.1 4.4h0m0-2.1h0m.1-3.9h0m.1 3.2h0m0 1.9h0m.1 4.6h0m0-5.6h0m.1 4h0m0-4.2h0m.1 2.7h0m0 .6h0m.1 1h0m0 3.5h0m.1-7.2h0m0 5.4h0m.1-6.4h0m.1 1.4h0m0 2.1h0m.1-1.9h0m0-1.8h0m.1 1.7h0m0 1.6h0m.1-4.4h0m0 4h0m.1 3.1h0m0-7h0m.1 3.9h0m0-3.6h0m.1 2.8h0m0 2.4h0m.1-.7h0m0 3h0m.1-4h0m.1-2h0m.1-2.1h0m0 5.5h0m.1 .7h0m0-1.5h0m.2-2.9h0m0 .7h0m.1 5.2h0m0-2.5h0m.1-1.2h0m0 3.9h0m.1-1.1h0m0-4.8h0m.1 6.8h0m0-3.1h0m.1 .5h0m0 2.9h0m.1-1.8h0m0-6.3h0m.1 4h0m0 2.5h0m.1-1.5h0m0 .9h0m.1 3.1h0m.1-3.6h0m0 2.4h0m.1-.7h0m0-.8h0m.1 1.3h0m0-2.7h0m.1 1h0m.1 1.1h0m0-2.2h0m.1 3.8h0m0-2.5h0m.1 4.2h0m0-1.1h0m.1-.9h0m0-3.8h0m.1 2.7h0m0-.8h0m.1-.9h0m0 2h0m.1 1h0m.1-1.1h0m0 1.9h0m.1-.6h0m0 2.3h0m.1-2.1h0m.1-5.2h0m0 5.5h0m.1-.8h0m0 .6h0m.1-.5h0m0 .5h0m.1-1.1h0m0 2.4h0m.1 .7h0m0 3h0m.1-1.4h0m0-6.1h0m.1 6.1h0m0 2.5h0m.1-5.9h0m0-1.9h0m.1 1.1h0m.1-7.4h0m0 3.3h0m.1 2.3h0m0-3.5h0m.1 3.2h0m0 2.2h0m.1-3.3h0m0 2.1h0m.1-2.8h0m0 5.9h0m.1-5.7h0m0 1h0m.1 1.1h0m.1 2h0m0-1.3h0m.1-1.5h0m.1 2.1h0m.1 4.5h0m.1-3.6h0m0-.7h0m.1 3.8h0m0-5.9h0m.1 6.5h0m0-1.4h0m.1 1h0m0-1.3h0m.1-2.4h0m0 .9h0m.1-2.7h0m0 4.3h0m.1 2.3h0m.1-3.3h0m0 5.4h0m.1-2.5h0m0-1.5h0m.1-1h0m0 3h0m.1-.9h0m0-4.6h0m.1 4.6h0m0 1.2h0m.1-1.3h0m0-2.5h0m.1 .7h0m0-2.4h0m.1 1.7h0m.1 .6h0m0 .7h0m.1-1.7h0m0-.8h0m.1 1.2h0m0 6.2h0m.1-5.6h0m0-.7h0m.1-4h0m0 1.7h0m.1 1.7h0m0 1.2h0m.1 2.1h0m0 .6h0m.1-6.6h0m.1 1.2h0m0 7.1h0m.1-3.5h0m.1-.7h0m.1-5h0m0 2.6h0m.1-.9h0m0 4.6h0m.1-5.7h0m0 2.2h0m.1-2.9h0m0 .8h0m.1 2.3h0m.2-2.5h0m0-3.8h0m.1 7.4h0m0-4.2h0m.1 5.6h0m0-1.9h0m.1-6.5h0m.1-2.6h0m0 7.5h0m.1-2.7h0m0 1.7h0m.1-8.6h0m0 11.4h0m.1-8h0m.1-.6h0m0-3.8h0m.1 3.8h0m0-4.4h0m.1 3.8h0m.1-1.8h0m.1 2.2h0m0 2.3h0m.1-4.8h0m.1 2.4h0m0 1h0m.1 1.6h0m0-5.8h0m.1-1.1h0m0 6.9h0m.1-8h0m0 1.1h0m.1 .5h0m0-1.8h0m.1 3.2h0m0-3.1h0m.1-3.9h0m0 4.2h0m.1 3.4h0m0-4.2h0m.1-7.1h0m.1 9.6h0m.1-4.2h0m0-5.7h0m.1 6.7h0m0-6.4h0m.2 2.5h0m0-6h0m.1 7.8h0m0-2h0m.1-4.8h0m.1 1.1h0m0 1.2h0m.1 5.8h0m0-6.9h0m.1 .9h0m0-2.3h0m.1 5.1h0m.1-2.1h0m0 1h0m.1-3.3h0m0 3.8h0m.1-7h0m.2 4.2h0m0-3.6h0m.1-3.4h0m0 1.3h0m.1 5.6h0m0-6.4h0m.1 3.1h0m0 1h0m.1-8.2h0m.1 5.5h0m0 .6h0m.1-4.4h0m.1 7h0m0-2.2h0m.1 4h0m0-4.1h0m.1 1.1h0m.1-6.8h0m0 2.1h0m.2 3.9h0m.1-5.2h0m0 6.4h0m.1 .9h0m0-5.6h0m.1 2h0m0 .8h0m.1 2.3h0m0-3.4h0m.1 2.6h0m0-.6h0m.1-2.6h0m.1 .9h0m.1 2.7h0m.1 2.5h0m0-5.7h0m.1 4.6h0m.1-3.3h0m.1-3.4h0m0-1.9h0m.1 3.6h0m0 1.5h0m.1 8.1h0m0-9.3h0m.1 2h0m.2 .6h0m.2 3.7h0m0 6.3h0m.1-5.8h0m.1 4.9h0m0-4.5h0m.1 2.6h0m0-.6h0m.1 4.3h0m0-6h0m.1 2.8h0m.1-3.2h0m.1 3.4h0m.1 4h0m0-6.7h0m.1 5.3h0m0 .6h0m.1-3.5h0m0 3.3h0m.1-1.2h0m.1 1.8h0m0-4.3h0m.1-1.2h0m.1-3.8h0m0 6.8h0m.1-6.8h0m.1 4.4h0m.1 1.6h0m0-1.3h0m.1 5.4h0m0-9.2h0m.1 3.2h0m.1-1.8h0m0 4.8h0m.1-1.6h0m.1-4.4h0m0 9.6h0m.1-5h0m0 2.1h0m.1-3.5h0m0 7.9h0m.1 2.3h0m0-7.3h0m.1 2.4h0m0 .9h0m.1 2.1h0m.1 3.1h0m0-5.7h0m.1-.7h0m0 3.3h0m.1 2.4h0m0-4h0m.1 2.6h0m0-1.2h0m.1-1.7h0m0-1.5h0m.1 4.5h0m.1-3.1h0m0 1.2h0m.1-1.2h0m0 1.6h0m.1 1.3h0m0-4.5h0m.1 1.1h0m0 3.5h0m.1-1.1h0m0-1.9h0m.1 1.2h0m0-1.4h0m.1 10.5h0m0-8.2h0m.1-1.5h0m.1 2.3h0m0-2.4h0m.1-.8h0m0 2.6h0m.1-2.1h0m.1 3.3h0m.1 1.2h0m0 2.7h0m.1-7.7h0m0 6.3h0m.1-5.9h0m0 .7h0m.1 6.7h0m0-7h0m.1 3.9h0m0-6.7h0m.1 7.6h0m.1-3.4h0m0 .6h0m.1-3.9h0m0 2.6h0m.1-3.6h0m0 3.9h0m.1-3.8h0m0 2.5h0m.1-.6h0m.1-2.7h0m.1 .8h0m.1 2.7h0m0 2.6h0m.1-5.5h0m0 5.1h0m.1 5.2h0m0-10.8h0m.1 4.6h0m0-5.5h0m.1 4.1h0m.1-2.8h0m0 2.8h0m.1 4.6h0m0-5.7h0m.1 5.9h0m.1-5.7h0m0 6.9h0m.1-3.1h0m0-2.3h0m.1 5.3h0m0-.9h0m.1-2.6h0m.1 2.5h0m0-2.6h0m.1-.6h0m0 3.2h0m.1-1.4h0m0 .6h0m.1-3.1h0m0-1.8h0m.1 7.9h0m0-4.5h0m.1 .7h0m0-1.9h0m.1 5.9h0m.1-3.9h0m.1-1.2h0m.1-1.4h0m0 5.1h0m.1-.8h0m.1-3.1h0m.1 1h0m0 3.1h0m.1-2.5h0m.1 6.6h0m0-9h0m.1 3.8h0m0-3.4h0m.1 3.5h0m0-.7h0m.1 4.5h0m.1-4.5h0m.1 3h0m0-2.6h0m.1 3.1h0m0-2.9h0m.1-2.6h0m.1-1.2h0m0-2.6h0m.1 1.5h0m0 9.9h0m.1-9.7h0m0-2.8h0m.1 .6h0m0 1.7h0m.1 2.1h0m.1-4.1h0m.1 4.7h0m.1-1.2h0m0-2.2h0m.1-1.7h0m0 3.7h0m.1-4.1h0m0-1.3h0m.1 1h0m0-3.9h0m.1 7h0m.1-1.4h0m0-2.3h0m.1 1.5h0m.1-2.8h0m.1 4.2h0m0-4.8h0m.1-.8h0m0 5h0m.1-.5h0m.1-3.4h0m0 3.7h0m.1-2.2h0m0-1.7h0m.1 4.1h0m.1-5.9h0m.1-.9h0m.1-5h0m0 6.3h0m.1-.6h0m0 2.5h0m.1 1.4h0m.1-1.1h0m0-4.6h0m.1 2.7h0m0 2.6h0m.1-4h0m0 2.6h0m.1 3.5h0m0-2.8h0m.1-4.5h0m0 1.6h0m.2 1h0m0 2.2h0m.1 1.8h0m0 .8h0m.1-5.7h0m.1 3.7h0m.1 1.5h0m0-8.4h0m.1 4h0m.1 4.4h0m0-3.5h0m.1 6.1h0m0-5.1h0m.3 1.3h0m0 4.4h0m.1-6.3h0m0 6.3h0m.1-1.1h0m0-8.3h0m.1 2h0m.1-5h0m0 6.2h0m.1 2.5h0m0 4.1h0m.1-5.1h0m0-.6h0m.1 .6h0m0 3.1h0m.1 5.2h0m.1-5.5h0m0 3.4h0m.1-6.6h0m0 5.1h0m.2 4.3h0m0-2h0m.1 .5h0m.1-6.3h0m0 6.3h0m.1 4.1h0m.1-4.5h0m0-1h0m.1-4.7h0m0 4.7h0m.1-1.2h0m0-2.1h0m.1 1.1h0m0 1.9h0m.2-3.5h0m0 4.8h0m.1-.9h0m0-3.7h0m.1-.8h0m0 2.9h0m.1 4.5h0m0-.6h0m.2-10.4h0m.1 8.2h0m0-1.1h0m.1 5.2h0m0-6.3h0m.1 .8h0m0-.9h0m.1 1.7h0m0-4.3h0m.1 2.1h0m0 1.7h0m.1 1.5h0m.1-1.2h0m0-2.5h0m.1 5.3h0m0-4.9h0m.1 1.7h0m.1-4.6h0m0 1.7h0m.1-2.5h0m0 2.3h0m.1 .5h0m0-1.1h0m.1-4.3h0m.1 2.9h0m.1-.5h0m0 3.3h0m.1-6.5h0m0 1.6h0m.1 4h0m0-4.4h0m.1 2.6h0m.1-1.8h0m0 1.3h0m.1-2.5h0m0 2.4h0m.1 .5h0m0 5h0m.1-3.3h0m0-.7h0m.1-4.2h0m0 6.7h0m.1-5.9h0m0 5.3h0m.1-9.6h0m0 2.3h0m.1 5.4h0m0-7.2h0m.1 1.9h0m0 6.4h0m.1-8.6h0m0 3.8h0m.1-5h0m0 .7h0m.1 5.1h0m0-3.4h0m.1-1.3h0m0 5.3h0m.1-7.3h0m0 2.9h0m.1 2.3h0m0-2.7h0m.1-1.8h0m.1 5.5h0m0-2.5h0m.1 2.3h0m0-3h0m.1 1.1h0m.1 1.3h0m0-1.3h0m.1 1.8h0m0-2.1h0m.1 3.5h0m0-.8h0m.1-2h0m0 4h0m.1-7.2h0m0-.6h0m.1 1.3h0m0 2.9h0m.1 3.3h0m.1 1.9h0m0-1.8h0m.1 1.8h0m0-1.9h0m.1 .9h0m0 4.9h0m.1-4.7h0m0-4.9h0m.1 2.1h0m.2 2.6h0m0-8.3h0m.1 8.5h0m0-2.2h0m.1 .7h0m0-2.2h0m.1 5.6h0m.1 1.5h0m.1-3.1h0m0 2.9h0m.1 1.2h0m.1-1.4h0m.1 2.4h0m0-3.4h0m.1 1.8h0m0-1.1h0m.1-.6h0m0 .6h0m.1 1.4h0m0-6.9h0m.1 1.8h0m0-2.8h0m.1 1.2h0m0 7.5h0m.1-4.2h0m0 7.5h0m.1-1.4h0m0 .8h0m.1-3h0m0 1.5h0m.1 1.3h0m0-2.2h0m.1-8.3h0m0 2.3h0m.1 3.6h0m0 1h0m.1 1h0m0-2.3h0m.1-1.5h0m0-1.1h0m.1-2.6h0m.1 6.9h0m0 2.3h0m.1-3.3h0m0 1.8h0m.1-2h0m0 1.2h0m.1-1.1h0m0 1.4h0m.1-1.9h0m0 5h0m.1-.7h0m0-2.6h0m.1 4.9h0m0-3.1h0m.1 .6h0m0 .9h0m.1 5h0m0-4.3h0m.2 2.1h0m0-5.3h0m.1 1.4h0m.1 1.4h0m.1 1.1h0m.1 .8h0m0-1.8h0m.1-.8h0m0 5h0m.1-6.8h0m.1 3.9h0m0 .8h0m.1 2h0m.1-5.7h0m0 1.3h0m.1 4.1h0m0-5.8h0m.1 2.6h0m.1 4.4h0m.1-5.3h0m0-3.2h0m.1 3.6h0m0 2.5h0m.1 4.1h0m.1 .6h0m0-12h0m.1 2.6h0m0 1.2h0m.1-3.5h0m0 7.4h0m.1-1.3h0m0-2.3h0m.1-3.4h0m0 8.1h0m.2-7h0m0 9.3h0m.1-7.1h0m0 2.9h0m.1 4.6h0m0-1h0m.1-4.4h0m0 6.5h0m.1-3.8h0m.1 3.7h0m0-1.8h0m.1-2.7h0m.1 3.8h0m0-.9h0m.1-2.4h0m.1 8.9h0m0-2.7h0m.1-2.3h0m0-1.3h0m.1-3.5h0m0 8.1h0m.1-5.6h0m0-.5h0m.1 .9h0m0-.5h0m.1-2.1h0m.1 8.3h0m0-4.7h0m.1-4.7h0m0 9.8h0m.1-3.8h0m.1 4.1h0m0-1h0m.2-4.4h0m0 2h0m.1 4.1h0m.1-7h0m.1-1.3h0m0-1.1h0m.1 2.2h0m0-1.1h0m.1 4.3h0m.1 .6h0m0 .7h0m.1-5.1h0m0 4.8h0m.1-2.1h0m0-1.1h0m.1 4.4h0m0-2.1h0m.1-6.3h0m.1 3.4h0m0 2h0m.1-5.5h0m.1 3.5h0m.1-2.1h0m0 1.5h0m.1 6.2h0m.1-7.9h0m0-.6h0m.1-1.5h0m0 2h0m.1-2.3h0m0-1.6h0m.1-1.2h0m0 3.8h0m.1 4.2h0m.1-1.9h0m.1-1.9h0m0 1.8h0m.1-5.7h0m0 3.4h0m.1 2.2h0m0-3.8h0m.1-3.9h0m0-2.8h0m.2 .7h0m0 1.6h0m.1-2.4h0m0 1h0m.1-4.2h0m.1-.5h0m.1-2.6h0m0-1.4h0m.1 .9h0m0 2.2h0m.1 2.5h0m0-3.2h0m.1-3.7h0m0 4.9h0m.1 1h0m0 1h0m.1-4.9h0m.1 1.5h0m0 2.7h0m.1-8h0m0 5.2h0m.2-1.5h0m.1 3.1h0m0-.6h0m.1 .7h0m0-3.7h0m.1-2.9h0m0 6.9h0m.1-3.2h0m0 5.5h0m.1-3.7h0m0 8h0m.1-4.3h0m0 1.5h0m.1 1.2h0m.1-6.5h0m0 4.3h0m.1-3.8h0m.1 1.2h0m.1 5.3h0m0-5.1h0m.2 5.1h0m.1 2.5h0m.1-3.6h0m0 4.3h0m.1-6.2h0m.1 5.7h0m.1-5.1h0m.1 6.4h0m0-6.4h0m.1 6.8h0m.2 1h0m0-4.2h0m.1 1.1h0m.1 1.7h0m.1-4.7h0m0 3h0m.1 3.2h0m.2-2.3h0m0 1.2h0m.1-.9h0m0 1.2h0m.1 .7h0m0-.6h0m.1-4.2h0m.1 7.3h0m0 1.5h0m.2-7.1h0m.1 3.8h0m.1-1.5h0m0-.8h0m.1 1.6h0m.1-3h0m0 2.4h0m.1-1.2h0m0 .7h0m.1 2.3h0m0-1.8h0m.1 1.5h0m0-1.1h0m.1 .5h0m.1-1.3h0m0 1.7h0m.1-.7h0m0-2.7h0m.1 5.2h0m0-3.1h0m.1-.8h0m.1 .9h0m.1-1.1h0m.1 5.4h0m0-5.5h0m.1 4.4h0m.1-5.4h0m0 7.1h0m.1-2.8h0m0-1.7h0m.1 1.1h0m.2-1.4h0m0 2.8h0m.1 1.1h0m0-3h0m.1-2.3h0m0 3h0m.1-1.1h0m0-3.7h0m.1 6.5h0m0-6h0m.1 3.4h0m0 2.2h0m.1-5.6h0m.1 3.6h0m0-4h0m.1-.8h0m0 3h0m.1-3.3h0m.1 2.8h0m.1-6.9h0m0 5.9h0m.1-2.6h0m.1-4.5h0m.1 5.1h0m.1-2.2h0m0-2h0m.1 4.1h0m0 2.4h0m.1-4.5h0m.1-2h0m0 3.8h0m.1-.5h0m0 .9h0m.1-2.3h0m0 .7h0m.1-2.2h0m0 2.5h0m.1-1.8h0m0-1.3h0m.1-3.1h0m0-2.5h0m.1 3.7h0m0-1.7h0m.1 2.2h0m.1 1.6h0m0-2.9h0m.1 2.4h0m0-2.7h0m.1 2.4h0m.1-3h0m0-5.3h0m.1 3.5h0m0 1.7h0m.1-1.6h0m.1-1.4h0m0-2.3h0m.1 4.4h0m.1-2.7h0m.1 3.4h0m.1-1.3h0m0-1.4h0m.3-6.2h0m0 2.6h0m.1 5.4h0m0-6.2h0m.1 4.7h0m.1 .8h0m0-3.9h0m.2 1.7h0m0 .9h0m.1 .6h0m0 6.8h0m.1-4.8h0m.1-7.6h0m.1-.8h0m.1-3.3h0m0 .8h0m.1 4h0m0 2.1h0m.1-4.3h0m0-.6h0m.1 4.1h0m.1-6.5h0m0-.7h0m.1 2.1h0m.1 1.3h0m.1-4.7h0m.1 5.1h0m.1-.6h0m.1-3.3h0m0-4.2h0m.1 1h0m.1 .5h0m0-3.2h0m.1 .6h0m.1 2.3h0m0-4h0m.1 1.1h0m0 1.7h0m.1-4.3h0m.1 3.5h0m0-3.3h0m.1-1.7h0m0 2.1h0m.1 1.4h0m.1 1.4h0m0-7h0m.1 4.3h0m0 3.5h0m.1 .7h0m0-6.3h0m.2 7.1h0m0-6.9h0m.1 4.7h0m0-3.2h0m.1 6.7h0m0-2.1h0m.1 1.1h0m0-4.7h0m.1 5.1h0m0 1.4h0m.2-3h0m.1 6.9h0m.1-6.4h0m.1 4.2h0m.2 1.9h0m.1-3.1h0m0 6.7h0m.1-2.6h0m0 1.4h0m.1-3.2h0m0 3.6h0m.1 .9h0m.1-2.7h0m.1-4.6h0m.3 4.4h0m.1 2.2h0m0-3.2h0m.1-3.1h0m0 .7h0m.1-.6h0m.1 .7h0m0 3.7h0m.1 .9h0m.1 3h0m0-4.8h0m.1 .6h0m0-3.2h0m.2 6.7h0m0-3.9h0m.1-7.7h0m0 6.2h0m.1-1h0m0-1.8h0m.1 4.7h0m.1-4.7h0m0 3.9h0m.1-4.2h0m0 .8h0m.1 .6h0m0 .8h0m.1-2.2h0m.1 5.6h0m0-2.5h0m.1-1.7h0m0 5.9h0m.1-1h0m0 1h0m.1 1.1h0m0 1.9h0m.1-2.7h0m0 4.9h0m.1-2.3h0m0 1.1h0m.1-6.6h0m0 2.6h0m.1 1.8h0m0 .5h0m.1 1.7h0m.1-1h0m0 2.9h0m.1 2.2h0m.1-5.5h0m0 5.1h0m.1 4.4h0m0-4.9h0m.2 2.3h0m0-2.7h0m.1 9h0m0-3.2h0m.1-4h0m0 1.7h0m.1 3.9h0m.1 1.4h0m0-8.5h0m.1 3.7h0m0-1.1h0m.1 2.3h0m0 1.6h0m.1-2.4h0m0 1h0m.1-3.4h0m0 1.9h0m.1 .7h0m0 2.6h0m.1-5.7h0m0 6.8h0m.1-1.9h0m0-.6h0m.1 8h0m0-7.1h0m.1-.6h0m0-3.7h0m.1-1.6h0m0 12.1h0m.1-5h0m0-1.3h0m.1 3.1h0m.1 2.7h0m0-1.7h0m.1-3.4h0m0 1.1h0m.1 2.4h0m0 1.8h0m.1-.9h0m.1-6.9h0m.1 2h0m0 5.7h0m.1-2.3h0m0-3.9h0m.1 4.6h0m0-2.2h0m.1 5.6h0m0-6.8h0m.1 4.2h0m0 1.7h0m.1-1h0m.1 1.3h0m0 1.3h0m.1-1.4h0m0 .9h0m.1-1.7h0m.1 5.5h0m.1-5.2h0m0 4.5h0m.1-.6h0m0-2.1h0m.1-1.2h0m0 3.5h0m.1 .6h0m0-7.2h0m.1 2.1h0m0 3.8h0m.1 1.4h0m0-4.8h0m.1 1h0m0-3.4h0m.1 .8h0m0 1.4h0m.1-3.1h0m.1 7.1h0m0-1.8h0m.1-2.5h0m0-2.8h0m.1 1.8h0m0-4.3h0m.1 9.6h0m0-1.9h0m.2 .9h0m0-6.2h0m.1 2.6h0m0-4.4h0m.1-2.7h0m.1-2.3h0m0 1.5h0m.1 1.7h0m.1-3.7h0m.1-4.1h0m.1 5.7h0m0-1.8h0m.1 2.3h0m.1-1.2h0m.1-3.4h0m0-1.2h0m.1 4.2h0m.1-4.7h0m.1 3.3h0m.1-3.2h0m0-1.4h0m.1 .6h0m0 1.4h0m.1 .6h0m0 1.2h0m.1-.7h0m0 1.8h0m.1-4.6h0m0 3h0m.1-1.8h0m0 1.2h0m.1-2.4h0m.1-4h0m.1 1.6h0m0 1.2h0m.1 .5h0m0-2.5h0m.1-2.7h0m0 1.7h0m.1 5.4h0m.1-5.6h0m0 2.4h0m.1-1.5h0m0-5.5h0m.2 3.8h0m0 .8h0m.1-1.4h0m.1-3.4h0m0 3.7h0m.1-1.5h0m0-4.9h0m.1 4.7h0m.1 2h0m0-4.7h0m.1 5.2h0m0-2.1h0m.1-.7h0m0-1h0m.1 4.3h0m.1-7.3h0m.1 2.8h0m.1 4.6h0m0-11h0m.1 8.8h0m0-4.8h0m.1 6.3h0m0 3.9h0m.1-7.8h0m0-2.2h0m.1 1.8h0m0-3h0m.1 .7h0m0 3h0m.1-2.6h0m0-1.5h0m.1 2.9h0m0-2.8h0m.1 3.5h0m.1 1.4h0m0-1.5h0m.1-2.6h0m0 4.7h0m.1-.7h0m0 3h0m.1-2.7h0m0 5.9h0m.1-3.4h0m0 3.5h0m.1-3.5h0m0-1.4h0m.1-1.8h0m0 1.1h0m.1-.9h0m0 .9h0m.1 1.1h0m0 5.8h0m.1-2.7h0m0-3.8h0m.1-.5h0m.1 1.5h0m.1 3.2h0m.1-4.6h0m0 2.2h0m.1 .9h0m0-2.9h0m.1-3.6h0m0 8.5h0m.1 1.6h0m0-3.6h0m.1 1.8h0m.1 5.3h0m.1-6.5h0m0 4.2h0m.1-2h0m0 3.1h0m.1 5.1h0m.1-6h0m0 3.8h0m.1-1.6h0m0-2.4h0m.1-1.1h0m0-2.4h0m.1 1.9h0m0 2.1h0m.1-3.8h0m0 2.4h0m.1 3.7h0m0-2.6h0m.1 4h0m0 .6h0m.1-2.5h0m0-4.8h0m.1 4.9h0m0-1.2h0m.1 4.1h0m.1-6.8h0m.1 6.2h0m0 2.9h0m.1-5.8h0m0 3.2h0m.1-5.9h0m.1 2.2h0m.1 .6h0m0 3.5h0m.1-4.3h0m.1 .7h0m0-1.1h0m.1-4.7h0m0 1h0m.1 5.5h0m0-6.3h0m.1 8.5h0m0-1.9h0m.1-2.9h0m.1-5.8h0m0 4.4h0m.1 2.6h0m0-5.9h0m.1 4.5h0m0-1.1h0m.1 1.9h0m0 .6h0m.1-.8h0m.1 1.4h0m0-4.1h0m.1 2.8h0m.1 4.5h0m0-12h0m.2 2.6h0m0 5.5h0m.1-1.1h0m.1-1.5h0m.1-4.4h0m.1 7.1h0m.1-2.2h0m0-.6h0m.1 7.9h0m0-1.3h0m.1 2.5h0m.1-3.6h0m0 .5h0m.1-1h0m0 5.1h0m.1-6.3h0m0 2.4h0m.1-1.1h0m.1 2.7h0m0-2.5h0m.1 2.9h0m.1-2.2h0m0 2.5h0m.1-2.5h0m.1 2.5h0m0-1h0m.1 1.9h0m.1 4.7h0m0-4.2h0m.1-1h0m0-2.1h0m.1 4.4h0m.1 2h0m0-.9h0m.1-1.7h0m.1 2.3h0m.1-4.9h0m0 2.5h0m.1 2.4h0m0 1.6h0m.1-4.1h0m0 3.7h0m.1 1.1h0m0-1.5h0m.1 4.4h0m0-1.5h0m.1 2h0m0-.7h0m.1-2.3h0m0-1.3h0m.1 3.2h0m0-3h0m.1-1.9h0m.1 .7h0m0 .6h0m.1-6.3h0m0 9.1h0m.1-4.1h0m0 1.2h0m.1-1h0m.1-1.4h0m0 1.4h0m.1-1.9h0m.1 4.4h0m0-3h0m.1-6.3h0m0 6.7h0m.1-4.6h0m0 5.2h0m.1 .8h0m.1 3.7h0m.1-3.1h0m.1-6h0m0 3.3h0m.1-.9h0m0 1.9h0m.1-3.4h0m0 6.4h0m.1-2h0m0 3.4h0m.1 1.4h0m.1-4.1h0m0 4.3h0m.1 3.1h0m0-3.5h0m.1-2.3h0m.1 3.3h0m.1-3.8h0m.1 1.6h0m.1 .9h0m.1 1.5h0m0-2.9h0m.1 3.8h0m0-.6h0m.1 5.1h0m0-4.1h0m.1-4.8h0m0 5.5h0m.1-5.9h0m0 3.1h0m.2 .5h0m0-1.7h0m.1-1h0m0-2.2h0m.1 9.2h0m0-6.6h0m.1 1.1h0m.1-.7h0m.1 1.2h0m0 5.5h0m.1-4.9h0m.1 .9h0m0-3.9h0m.1 4.2h0m.1-2.6h0m.1 1.8h0m0-4.8h0m.1 3.9h0m0 3.9h0m.1-6.1h0m.1-.6h0m0 2.8h0m.1-2.8h0m.1 1.3h0m0-4h0m.1-1.5h0m0 2.9h0m.1-1h0m.1-5.9h0m0 2.6h0m.1 .5h0m0 3.1h0m.1-2.4h0m0-3.1h0m.1-.7h0m0 1.8h0m.1-2.1h0m.1-1.3h0m0-2.4h0m.1 5.7h0m.1-7.6h0m0-4.7h0m.1 4.6h0m0-1h0m.1 1.8h0m0-1.5h0m.1-4.7h0m0 1.5h0m.1-3.2h0m0-1.4h0m.1 3.1h0m.1 4.2h0m0-8.9h0m.1 2.8h0m0 1.3h0m.1-2.1h0m0-1.4h0m.1-1.3h0m0-.8h0m.1 .9h0m0-2.1h0m.1-5.5h0m0 2.2h0m.1 1.5h0m0-7.1h0m.1 3.1h0m0 1.2h0m.1-1.8h0m.1-.6h0m0 8.3h0m.1-3.6h0m0-.9h0m.1 1.8h0m0 4.1h0m.1 2.2h0m0 2.8h0m.1-6.4h0m0 2.7h0m.1 6.4h0m0 2h0m.1 2.8h0m.1-2.3h0m0 3.4h0m.1 .9h0m.1-3.2h0m0 3.2h0m.1-3.7h0m0 3h0m.1 2h0m0-3h0m.1 10.6h0m.1-4.3h0m.1 6.6h0m0-2.6h0m.1 4.8h0m0 1.4h0m.1-.7h0m0-9.9h0m.1 9.9h0m0-2.8h0m.1-2h0m0-1.1h0m.1 5h0m0-2h0m.1-1.4h0m0 2.3h0m.1 2.9h0m0 1.4h0m.1-1.3h0m.1-.5h0m0-2.6h0m.1 5.6h0m0-2.7h0m.1-.8h0m0 .7h0m.1-3.5h0m.1 10.8h0m0-5.2h0m.1-1.2h0m0-3.5h0m.1 3.2h0m0 .9h0m.1 5.7h0m0-7.4h0m.1 2h0m0 .7h0m.1 1.3h0m0 1.4h0m.1-1.8h0m0 2.3h0m.1 3h0m0-2.9h0m.1 1.6h0m0-1.7h0m.1 1.8h0m0-5.2h0m.1-3.6h0m0 5.1h0m.1 5.4h0m0-2.5h0m.1-2.9h0m.1-4.5h0m0 5.2h0m.1-6.9h0m0 1.9h0m.1 3.3h0m0-6.1h0m.1 9.5h0m0-1.9h0m.1 4.9h0m0-4.1h0m.1-4h0m.1 2.7h0m0 .7h0m.1 4.4h0m0-8.2h0m.1 5.6h0m0 2.4h0m.1-6.2h0m0-1.4h0m.1-2h0m0 2.3h0m.1 4.7h0m.2-1.8h0m.1-1.5h0m0-1h0m.1 4.3h0m0-4.2h0m.1 1.1h0m0-4.9h0m.1 4.1h0m0-1.9h0m.1 1h0m0-1.8h0m.1 1.3h0m.1-2.4h0m0 .8h0m.1-4.2h0m.1 1.4h0m0-1.3h0m.1 3.6h0m.1-2.3h0m0-1.7h0m.1 3h0m0-1.1h0m.1 3.9h0m0 1.6h0m.1-2.9h0m0-2.2h0m.1-2.2h0m0 3.3h0m.1-2.6h0m0-2.2h0m.1 2.1h0m0-2.3h0m.1 2h0m0-5.5h0m.1-3h0m0 3.6h0m.1 5.2h0m0 .7h0m.1-5.4h0m0 2.7h0m.1 4.2h0m0-3.9h0m.1-.8h0m0 1.5h0m.1 2.3h0m0-9.3h0m.1 1.3h0m0 8.2h0m.1 .6h0m0-4.4h0m.1 .9h0m0-2.2h0m.1-2.7h0m.1 2.1h0m0 1.5h0m.1 8.4h0m0-8.1h0m.1 1.9h0m0-4.6h0m.1 2.7h0m0-1.2h0m.1 4.3h0m.1-3h0m0-7.3h0m.1 8.5h0m0-6.7h0m.1 1.9h0m.1-2.2h0m0 4.3h0m.1-4.8h0m.2 2.6h0m0-3.3h0m.1-1.5h0m0 2.5h0m.1 1h0m.1-3.1h0m0-2.8h0m.1 4.2h0m0-1.3h0m.1 1.1h0m0-5.5h0m.1 5.9h0m0-2.2h0m.1 1.3h0m.1 .7h0m0-3.5h0m.1 4.6h0m0-4.6h0m.1 6.6h0m0-3.2h0m.1 3.6h0m0-1.7h0m.1-4.9h0m0 4.5h0m.1-1.6h0m0-.5h0m.1-2.9h0m.1 1.4h0m0 3.4h0m.1 4h0m0-8h0m.1 4.7h0m0-3h0m.1-3.2h0m0 1.8h0m.1 6.8h0m0-8.3h0m.1 7.3h0m0-2h0m.1 3.6h0m.1-2.8h0m.1-2.6h0m0 .6h0m.1-5.2h0m0 5.6h0m.1 1.9h0m.1 .6h0m.1-1.2h0m.1 6.5h0m0 2h0m.1-2.4h0m0-1.7h0m.1 2.5h0m0-2h0m.1 .9h0m.1-6.3h0m0 1.2h0m.1-3.5h0m0 4.5h0m.1-4.4h0m.1 1.9h0m0-.7h0m.1-.8h0m0 2.6h0m.1-4h0m0-2.7h0m.1-1.7h0m0-5.4h0m.1 8h0m0-10.5h0m.1 1.5h0m0 1.7h0m.1 .7h0m.1-7.9h0m0 9.3h0m.1-4.5h0m.1-4.5h0m0 7.4h0m.1-4.1h0m.1-1.6h0m0-.8h0m.1-3.7h0m0 4.5h0m.1 3.7h0m.1-7.8h0m0-1.9h0m.1-5h0m0 5.6h0m.1-3.6h0m.1-3h0m0 2.7h0m.1-2.5h0m0-2.6h0m.1-4.9h0m.1 9.8h0m0-1.8h0m.1-1.1h0m.1 .9h0m.1 1.5h0m0 3.6h0m.1-4.9h0m0-3h0m.1 7.7h0m0-4.9h0m.2 1.3h0m.1 1.2h0m0 1h0m.1 3.9h0m0-2.5h0m.1 .7h0m0 1.8h0m.1-.7h0m0-.9h0m.1 .6h0m.1-6.8h0m0 3.3h0m.1-3.4h0m0 5.9h0m.1 2.4h0m0 .9h0m.2 2.9h0m0-6.7h0m.1 3.9h0m0-.5h0m.1-1.4h0m0 .8h0m.1 1.3h0m.1-2.4h0m.1 5.6h0m0-2.6h0m.1 1.2h0m.1-7.4h0m0 4h0m.2 2h0m0 1.7h0m.1 .6h0m0-1.2h0m.1 1.2h0m0 1.7h0m.1-6.5h0m.1 4.4h0m.1-1.7h0m0 7.2h0m.1-1.8h0m0 .9h0m.1 1.3h0m.1-1.4h0m0 7.2h0m.1-.9h0m0-.6h0m.1 1.8h0m0 1.1h0m.1-1.5h0m0-.9h0m.1 3.9h0m.1-1.5h0m.1-.9h0m.1 2.1h0m0 5.8h0m.1-3.2h0m.2 .5h0m0-1.8h0m.1-.8h0m0 6.2h0m.1-1.5h0m0 2.9h0m.1-3.4h0m.1 2.4h0m.1 4h0m.1-2h0m0 4.9h0m.1-8.9h0m0 5.5h0m.1-5.2h0m0 4.1h0m.1 .6h0m0-1.5h0m.1 1.6h0m0-4.6h0m.1 2.5h0m0 2h0m.1 1.7h0m.1 4.1h0m.1 .6h0m0-3.5h0m.1 1.9h0m.1-1.7h0m0 1.2h0m.1-1.9h0m.1-.8h0m.1 1.5h0m0 4.8h0m.1-3.5h0m.1 6.2h0m0-5.8h0m.1 4.4h0m0 1.9h0m.1-3.5h0m0-1.1h0m.1 4.2h0m0-5.5h0m.1 6.1h0m0-1.4h0m.1-2.5h0m0 2.4h0m.1-1.3h0m0 8.6h0m.1-3.3h0m0-.8h0m.1-2.3h0m0 1.3h0m.1-2.2h0m0-.8h0m.1 3.1h0m0 2.1h0m.1-6.9h0m0 1.8h0m.1 4.1h0m0-1h0m.1 1.7h0m.1-1.5h0m.2 2.8h0m0-2h0m.1-1.6h0m0 1.3h0m.1 2.2h0m0 3.9h0m.1-3.1h0m0-3.2h0m.1 .5h0m0-2.8h0m.1 4.9h0m0-.7h0m.1-2.6h0m0 5.9h0m.1-3.5h0m0 5.5h0m.1 2.2h0m0-4.8h0m.1 1.6h0m0 3.9h0m.1-6.3h0m0 7.5h0m.1-3.1h0m0-5.7h0m.1 6.4h0m0-4.3h0m.1-.7h0m.1 4.1h0m0-12.1h0m.1 6.7h0m.1 2.2h0m0-2.7h0m.1 2.7h0m.1-4.4h0m0-3.3h0m.1 2.8h0m.1 1.5h0m0-3.1h0m.1 1.1h0m0 2.8h0m.1-2.1h0m0 .9h0m.1-4.8h0m0 3.2h0m.1-1.7h0m0-2.4h0m.1 4h0m0-3.2h0m.1-1h0m0 7.8h0m.1-6.3h0m0 2.1h0m.1 2.7h0m0-5.1h0m.1-1.5h0m0 3.8h0m.1-2.4h0m.1-3.7h0m0 .7h0m.1 .7h0m.1-4.5h0m0 3.9h0m.1-.9h0m0-4.2h0m.1 .5h0m.1 2.2h0m0-2.6h0m.1 .7h0m0 .9h0m.1-2h0m0-4.1h0m.1 4h0m0-2.9h0m.1 1.2h0m0-2.2h0m.1 3.9h0m0-3h0m.1-1.7h0m0 1h0m.1-1.3h0m0-5.5h0m.1 6.6h0m0-2h0m.1 5.1h0m0-9.8h0m.1 5.7h0m0-5.3h0m.1 1.4h0m0-4.3h0m.1-1.8h0m0 8.2h0m.1-8.3h0m0 1.2h0m.1 2.9h0m0 2.3h0m.1-1.3h0m.1 5.4h0m0-3.1h0m.1 1h0m.1-1.1h0m.1 2.5h0m.1-.9h0m0 5.2h0m.1-7.6h0m0 3.3h0m.1 1.7h0m0 .9h0m.1 5.8h0m0-7.4h0m.1 1.2h0m.1-5.2h0m.1 6.6h0m0-3.2h0m.1 7h0m0-3.9h0m.1-3.5h0m0 5.3h0m.1 1.5h0m0-2h0m.1-1.9h0m0 1.1h0m.1 2.3h0m0 4h0m.1-5.1h0m0 .8h0m.1-1.1h0m.1 .7h0m0-3.8h0m.1 4.3h0m0-1.8h0m.1 4.5h0m.1 2.2h0m0-3.7h0m.1 2h0m0-1.9h0m.1-2.7h0m0 .9h0m.1 .9h0m0-2.7h0m.1 4.7h0m0-5.1h0m.1-2h0m0 5.6h0m.1-4h0m0-1.1h0m.1 2h0m.1 9.3h0m0-1h0m.1-2.5h0m0-1.7h0m.1 3.8h0m0-3.1h0m.1-.9h0m0 3h0m.1-2.4h0m0-1.5h0m.1 1.4h0m.1-.8h0m.1 1.9h0m.1-4.6h0m0 3.4h0m.1 .7h0m.1 .6h0m.1-3.7h0m0-3h0m.1 1.7h0m0-.5h0m.1-3.2h0m.1 4.2h0m0-3.3h0m.1 3.1h0m0 1h0m.1-.8h0m0-5.3h0m.1 3h0m.1 3.3h0m0 1h0m.1 .7h0m0-7.3h0m.1 5.8h0m0 1.4h0m.1-1.8h0m.1 1.1h0m0-6.7h0m.2-5.9h0m0 1.2h0m.1 4.1h0m0 2.5h0m.1 1.4h0m0-.6h0m.1 .7h0m.1-2.3h0m.1 3.8h0m0-6.1h0m.1-1.9h0m.1 3.9h0m0-3.9h0m.1 3.7h0m0 5.5h0m.1-5.6h0m0-4.5h0m.1 3.9h0m0-5.2h0m.1 5.2h0m0-5.7h0m.1 1.7h0m0 3.1h0m.1 3.4h0m0-6.8h0m.1 3.8h0m.1-4.9h0m0 2h0m.1 2.8h0m0 1.5h0m.1-5.7h0m0-3.1h0m.1 1.5h0m0 4.6h0m.1-5.2h0m0-3h0m.1 10h0m0-2.1h0m.1-5.2h0m0 3.1h0m.1 2.4h0m.1-4h0m0 1.7h0m.1-3.3h0m.1 2.7h0m0 2.4h0m.1-4.4h0m0-2.9h0m.1 3.2h0m0-2.7h0m.1 1.6h0m.1 1.8h0m0-.5h0m.1-5.9h0m.1 5.7h0m0-5.1h0m.1 2.2h0m0 .8h0m.1-1.3h0m0-3.7h0m.1 1.3h0m0 3.4h0m.1 .8h0m0-2.3h0m.1 2.7h0m0-6.6h0m.1 1.3h0m0-3.6h0m.1 7.6h0m0-7.6h0m.1 3.8h0m.1 2.8h0m.1-5.4h0m0 8.2h0m.1-7.3h0m0 4.5h0m.1 2h0m.1-1.6h0m0 1.4h0m.1-3.9h0m0 2h0m.1 7.4h0m0 1.7h0m.1-7.4h0m0 2.9h0m.1 3.3h0m0 1.6h0m.1-2h0m.1 .6h0m0-1.3h0m.1 3.4h0m.1-1.5h0m.1 3.5h0m0-1.7h0m.1 .6h0m0 6.2h0m.1-4.9h0m0 .7h0m.1 2.3h0m0-4.2h0m.1 3.1h0m0-2.3h0m.1-1.4h0m0 4.1h0m.1 1.3h0m.1-5.3h0m0 4.9h0m.1-2.6h0m.1 2.8h0m0 .8h0m.1 6.6h0m.1-7.8h0m0 4.9h0m.1-5.6h0m0-2.2h0m.1 4.6h0m0 7.1h0m.1-4.9h0m0 1.8h0m.1 1.1h0m0 1.7h0m.1-8h0m0 6.5h0m.1-2.8h0m0 4.1h0m.1-2.4h0m0-2.4h0m.1 1.6h0m0-3.8h0m.1 3h0m0 1.2h0m.1-2.5h0m0 9.7h0m.1-12h0m0 7.6h0m.1-4.6h0m0 3.7h0m.1-5.8h0m.1 2h0m.1-5.9h0m0 1.1h0m.1 1.4h0m.1-4.5h0m0 1.5h0m.1 2.7h0m0-3.7h0m.1-1.3h0m0-1.3h0m.1-.6h0m0 3.3h0m.1-4.4h0m.1-5h0m0 2.3h0m.1 2.3h0m0 2.8h0m.1-6.9h0m.1-2h0m0-6h0m.1 6h0m0-3.1h0m.1-4.1h0m0 1.3h0m.1-6.9h0m.1-2.2h0m0 4.3h0m.1-1.3h0m0 3.5h0m.1-10h0m.1-1.9h0m.1-4.2h0m0-1h0m.1 1.9h0m0-.9h0m.1-2.6h0m0 6.7h0m.1-4h0m0 5.5h0m.1-5.4h0m0 1.9h0m.1-1.4h0m.1 5.6h0m0-5.5h0m.1 2.2h0m0-6.1h0m.1 2h0m0 3.9h0m.1 1.4h0m0-5.4h0m.1-.8h0m0-1.5h0m.1-7.2h0m0 12.4h0m.1-5.2h0m0 3.4h0m.1 2.6h0m0-5.5h0m.1 3.7h0m.1 1.8h0m0-6.3h0m.2 4.3h0m.1-1.7h0m0 1.9h0m.1-3.2h0m0 10.2h0m.1-8.6h0m0 4.4h0m.1-3.2h0m0 2.8h0m.1-2.8h0m.1 1.5h0m.1 5.1h0m0-3h0m.1 4.7h0m0-7h0m.1 1.2h0m0 7.3h0m.1-2.5h0m0 .8h0m.1-.9h0m0-3.8h0m.1 .7h0m0 1.4h0m.1 1.9h0m0 1h0m.1-1.8h0m0 7.3h0m.1-2.1h0m0-.5h0m.1 3.4h0m0 2h0m.1-1.5h0m.1 3.9h0m.1-3.9h0m0-5.4h0m.1 4.3h0m0 .8h0m.1 1h0m0 2h0m.1-2.7h0m.1 2.1h0m0 1.7h0m.1 .9h0m0-2.3h0m.1 2.2h0m0-3.8h0m.1-1.8h0m0 7.7h0m.1-2.9h0m.1-2.4h0m0 1.9h0m.1-.5h0m0-6.6h0m.1 10.7h0m0-7.1h0m.1 6.6h0m0-6.1h0m.1-.5h0m0 4.3h0m.1 1.1h0m0-8.4h0m.1-.8h0m.1-1.1h0m0 4.8h0m.1-2h0m.1 .9h0m0 2.9h0m.1-5.3h0m0-2.7h0m.1 3h0m0-.9h0m.1-1.2h0m0-.5h0m.1 6.9h0m0-3.4h0m.1 .8h0m.1 1.3h0m0 3.6h0m.1-.9h0m.1-4.8h0m0 6.5h0m.1 1.1h0m0-.7h0m.1 1.2h0m0 1.6h0m.1 4.5h0m0-3.1h0m.1-3.1h0m0 9.6h0m.1-8.8h0m0 7.3h0m.1-2.5h0m0-1.6h0m.1-1.2h0m0 1h0m.1 1.7h0m0-1.1h0m.1-1.9h0m.1 6.3h0m0 .7h0m.1-5.1h0m0 2.2h0m.1-3.4h0m0 4.4h0m.1-1.8h0m0 2.2h0m.1-4.5h0m.1 3.9h0m0 .9h0m.1-.9h0m0-5.9h0m.1 7.5h0m0-3.7h0m.1-.9h0m0-1.2h0m.1-6.9h0m0 7.4h0m.1-.8h0m0-1.5h0m.1 1.5h0m0 2.3h0m.1-1h0m0-2.8h0m.1-2.9h0m.1-3.9h0m0 3.6h0m.1-7.4h0m.1 3.8h0m0-6.7h0m.1 3.7h0m0-7.9h0m.1-.7h0m.1 3.2h0m0-6.3h0m.1 4.9h0m0-2.2h0m.1 .6h0m.1 3.8h0m0-5.5h0m.1 3.8h0m.1-3.6h0m.1 3.8h0m0 3h0m.1-7h0m0 4h0m.1-1.7h0m.1-2.1h0m.1-1.6h0m0-6.8h0m.1 6.8h0m0-6.9h0m.1 8h0m.1-1.6h0m.2-2.6h0m0 .7h0m.1 2.8h0m0 4.8h0m.1-3.6h0m.1 2.4h0m0 .8h0m.1-.8h0m.1 2.1h0m0 1.7h0m.1-2.3h0m.1 5.8h0m.1-3.2h0m0-1.5h0m.1 2.2h0m.1 1.6h0m0-6.9h0m.1 4.2h0m.1 3.4h0m.1-.6h0m0 3.5h0m.1-1.1h0m.1 7.9h0m0-4h0m.1-1.5h0m.1 2.1h0m.1-2h0m0-3h0m.1 4.2h0m0 1.9h0m.2 12.2h0m0-6.6h0m.1-1.2h0m0 .8h0m.1 2.8h0m0-2.5h0m.1-3.1h0m.1 1.1h0m.1 2.8h0m.1 5.8h0m.1-3.6h0m0-2.9h0m.1 8.8h0m0-4.6h0m.1-4.2h0m0 5.2h0m.1 2.2h0m0-5.1h0m.1 1h0m.2 4h0m0 3.2h0m.1-3.3h0m0 4.8h0m.1-6.9h0m0-.5h0m.1 1.2h0m0 2.4h0m.1 .8h0m0-2.3h0m.1-.7h0m.1 .9h0m0 5h0m.1-1.6h0m0 1.1h0m.1-2.2h0m0-5.5h0m.1 4.3h0m0 1h0m.1-2.9h0m0 2.2h0m.1 4h0m.1-2.6h0m.1 2.6h0m0 1.1h0m.1-3.3h0m0 4.1h0m.1-6.9h0m0 .7h0m.1 .8h0m0 4.4h0m.1-2.6h0m0-4.4h0m.1 5.6h0m.1-1.9h0m0 5.9h0m.1 1.2h0m0-5.9h0m.1 4.1h0m0-.8h0m.1-1.1h0m0-3.8h0m.1 2.9h0m.1-2.7h0m.1 3.5h0m.1-.6h0m.1-4h0m0 4.8h0m.1 .6h0m0 1.9h0m.1-2.1h0m0-3.3h0m.1-1.9h0m0 6h0m.1-4.3h0m.1 4.2h0m0-5.4h0m.1 3h0m0-2h0m.1 4.3h0m0-3.9h0m.1 1h0m0 1.2h0m.1-4.6h0m0 1.7h0m.1-6.2h0m0 5h0m.1-1.7h0m0 3.4h0m.1 1.3h0m.1-2.9h0m0-1.4h0m.1 1.5h0m.1-3.1h0m0 .9h0m.1 2.8h0m0-5.4h0m.1 2.2h0m.1-2.5h0m0 2.7h0m.1-3.9h0m.1-3.8h0m0 5h0m.1-1.6h0m.1 1.7h0m0-6.2h0m.1 1.1h0m0 7.2h0m.1-6.9h0m.1 7.1h0m0-1.8h0m.1-3.4h0m0-1.2h0m.1 4.7h0m.1-1.9h0m0-.9h0m.1 5.6h0m0-2.6h0m.1 4h0m0-3.8h0m.1 7.4h0m0-12.3h0m.1 1.6h0m0 1.7h0m.1-2.5h0m.1 3.6h0m0-2.2h0m.1 4.2h0m0-7.2h0m.1 1.7h0m0 1.1h0m.1 4h0m.1-2.9h0m0 3.4h0m.1 4h0m.1-.7h0m0-2h0m.1 3.6h0m0-3.8h0m.1 1.4h0m.1 1.3h0m.1-5.9h0m0-.9h0m.1 2.6h0m.1 3.2h0m0 1h0m.1-2h0m0-1.9h0m.1 .8h0m0 3h0m.1-5.7h0m0 3.5h0m.1 1.9h0m.2-1.7h0m0-2.9h0m.1-1.3h0m.1 6h0m0-8h0m.1 7.9h0m0-6.5h0m.1 5.1h0m0 .6h0m.1-6.9h0m0 1.8h0m.1 5.3h0m0-4h0m.1-1.2h0m0 2.4h0m.1 2.4h0m.1-5.2h0m0 4.9h0m.1-4.4h0m0-1.7h0m.1 3.1h0m0 1h0m.1-4.7h0m0 1.9h0m.1 2h0m0 .7h0m.1-4.5h0m0-.9h0m.1 8.1h0m.1-7.4h0m0 4.5h0m.1-3.8h0m.1-4.6h0m0 4.3h0m.1-.8h0m0 .9h0m.1 3h0m.1 3.6h0m.1-13.4h0m0 9.5h0m.1 2.1h0m0-5h0m.1 7.9h0m0-5.4h0m.1-.6h0m0 4.8h0m.1-5.5h0m0 4h0m.1-2.9h0m0 3.4h0m.1-4.9h0m0 .9h0m.1-2h0m0 8.8h0m.1-4.4h0m0 1.5h0m.1 1h0m0-2h0m.1 .6h0m0 2.2h0m.1-3.1h0m0-1.5h0m.1 1.5h0m0-2.1h0m.1-4.9h0m.1 2h0m.1 2.5h0m0-6.9h0m.1 4h0m0 2.9h0m.1-1h0m0-3.5h0m.1-1.2h0m0-1.2h0m.1 4.9h0m0-1.3h0m.1-3.2h0m0 5.1h0m.1-10h0m0 8.7h0m.1-4.1h0m0-4.4h0m.1 8.1h0m0-4.3h0m.1-2.4h0m0 6.8h0m.1-2.5h0m0 1.6h0m.1 5.3h0m.1-4.1h0m.1 7.4h0m.1-4.7h0m0 1.6h0m.1-3.6h0m0 .9h0m.1-1.6h0m0 4.5h0m.1-6.2h0m.1 5.7h0m.1 3.5h0m.1-2h0m0 5.5h0m.1-6.7h0m0 4.4h0m.1-2.4h0m.1 4h0m0-6.4h0m.1 2.2h0m0 10.1h0m.1-6.1h0m0-.7h0m.1 1.3h0m0-3.9h0m.1 2.2h0m0-.8h0m.1 1.4h0m.1-2.1h0m0-1.3h0m.1-1.2h0m0 3.5h0m.1 1.2h0m0-3.5h0m.1-3.1h0m.1 4.1h0m0 5h0m.1-3.6h0m.1-1.4h0m.1 .7h0m0-1.8h0m.1-1.8h0m0-3.1h0m.1 4.9h0m0-3h0m.1 3.8h0m0 1.7h0m.1-3.7h0m0-1.2h0m.1 2.7h0m0-6.3h0m.1 2.4h0m.1 5.9h0m.1-5.5h0m0-3.6h0m.1-2.3h0m0 4.5h0m.1-10h0m0 4.2h0m.1-3.3h0m0 3.9h0m.1-7.2h0m.1 4.2h0m0-4.9h0m.1 4.9h0m0-5.5h0m.1 7h0m.1-5.9h0m0 6.3h0m.1-7.6h0m.1 9.2h0m0-8.1h0m.1-3.2h0m0 6.7h0m.1-7.5h0m0 1.2h0m.1 4.7h0m0-7.5h0m.1 3.5h0m0-5.5h0m.1 6.3h0m.1-.7h0m0-2.3h0m.1 4.6h0m0-4.1h0m.1-1.5h0m0-3.2h0m.1-.6h0m0 6.8h0m.1-6.2h0m0 5.8h0m.1-2.1h0m.1-8.9h0m0 7.8h0m.1-3.6h0m0-.9h0m.1-4.3h0m0 5.3h0m.1-4.3h0m0 5h0m.1-5.1h0m0 6.1h0m.1-1h0m0-6.7h0m.1 6.9h0m.1-4.9h0m0 5.8h0m.1-.8h0m.1 1.5h0m0 4.4h0m.1-5.2h0m0 1.1h0m.1 2.5h0m0-2.7h0m.1 8.1h0m0-6.9h0m.1 1.3h0m0-1h0m.1 6.4h0m0-4.3h0m.1 1.2h0m0 2.9h0m.1-1.5h0m0 5.1h0m.1-4.5h0m0-5.9h0m.1 3.6h0m0 3.8h0m.1 .7h0m0 1.9h0m.1-3h0m0 1.4h0m.1-.7h0m0 6.3h0m.1-7.1h0m0 1.5h0m.1 4.6h0m0 1.3h0m.1-3.5h0m.1-1.9h0m0-4.8h0m.1 6.5h0m0-1h0m.1 2.9h0m0-5.5h0m.1 8.8h0m0-1.8h0m.1 2.8h0m0 3.2h0m.1 4.2h0m0-2.7h0m.1-2.8h0m0 5h0m.1-1.7h0m0-3.5h0m.1 1.3h0m.1 3.7h0m.1-1.6h0m0 2.1h0m.1-3.2h0m0-2.1h0m.1 10.5h0m0-2h0m.1-2.5h0m0-8.9h0m.1 12.9h0m0-2.7h0m.1-2.5h0m0-.8h0m.1 6.3h0m0-1.5h0m.1-2h0m.2-3h0m0 6.5h0m.1-6.5h0m0-6.2h0m.1 6.2h0m0-2.7h0m.1 3.6h0m0-.6h0m.1-1.2h0m0 .9h0m.1-5.2h0m0 8.2h0m.1-8.3h0m0 7.7h0m.1-13.2h0m0 6h0m.1 6.7h0m0-8.3h0m.1 2.9h0m0-3.3h0m.1-6.1h0m0 6.2h0m.1-5.4h0m0 2h0m.1-3.7h0m.1-3h0m0 3h0m.1-3.9h0m0 1.8h0m.1 1.5h0m0-1.7h0m.1-.6h0m.1 1.8h0m.1-7.7h0m.1 2h0m.1-2.2h0m0 1.8h0m.1-5.8h0m0 4.3h0m.1-7.9h0m.1 3.5h0m0 3.6h0m.1-2.4h0m0 .9h0m.1-6.7h0m0 .6h0m.1 2.2h0m0 1.6h0m.1 3.7h0m0-1.4h0m.1-5.9h0m0 1.6h0m.1 .9h0m0-.6h0m.1-5.3h0m0 1.4h0m.1-3.7h0m0 6.5h0m.1 1.1h0m0-2.8h0m.1-5.1h0m0-1h0m.1 10.9h0m0-2.7h0m.1-2.2h0m.1-3.4h0m0 5.8h0m.1-2.5h0m0-3.9h0m.1 9.1h0m0-3.3h0m.1-.7h0m0-2h0m.1 7.3h0m0-.7h0m.1-4.7h0m0 6h0m.1 3h0m0 .6h0m.1-.8h0m.1 3.6h0m0-8.4h0m.1 9.3h0m0-5h0m.1 8h0m0-1.1h0m.1-5.5h0m0 .8h0m.1 3.2h0m0-11.6h0m.1 10h0m0 1.5h0m.1-10h0m0 5h0m.1 1.7h0m0-.9h0m.1-1.3h0m0 10.2h0m.1-3.7h0m.1-1.7h0m0-4.2h0m.1-4.1h0m0 6.1h0m.1 .6h0m0-3.3h0m.1-1.6h0m0-2.8h0m.1-1.6h0m0 11.1h0m.1-7.6h0m0-.5h0m.1-1.3h0m0 4.7h0m.1-7h0m0 10.8h0m.1-1.9h0m0-1.8h0m.1 1.7h0m.1 9.5h0m0-2.3h0m.1 3.2h0m0-5.7h0m.1 1.8h0m0 1.7h0m.1 3.1h0m0 4.3h0m.1-6.9h0m0-3.1h0m.1 12.2h0m0-4.2h0m.1 1.1h0m0 3.2h0m.1-5.4h0m0 1.2h0m.1 6.7h0m.1-3.3h0m.1-.6h0m.1 3.3h0m0 3.1h0m.1-1.7h0m.1-3.6h0m0 5.5h0m.1-4.8h0m0 1.9h0m.1 3.1h0m0-1h0m.1-4.7h0m.1 7.5h0m.1-3.5h0m.1 3h0m.1-1.3h0m0-4.2h0m.1-2.3h0m.1-.9h0m0 5.3h0m.1 1.5h0m0-2.9h0m.1 .8h0m0-.9h0m.1-12.8h0m0 11h0m.1-1.4h0m.1-1.9h0m0-2.3h0m.1-2.3h0m0 4.8h0m.1-3.9h0m0-1.7h0m.1 8.2h0m0-1.7h0m.1-2.1h0m0 1.8h0m.1-7.8h0m.1 4.2h0m0-3.6h0m.1-3h0m0 2.9h0m.1-.6h0m0 2.2h0m.1-1.2h0m.1-5.3h0m0-3.7h0m.1 5.5h0m0-3h0m.1 3h0m.1-8.3h0m0 7.2h0m.1-7h0m0 6.6h0m.1-1.4h0m0-3.1h0m.1 1h0m0-2.9h0m.1 5.2h0m.1-4.7h0m0 3.4h0m.1-.5h0m0 1.1h0m.1-5.9h0m0 8h0m.1-8h0m0-7.1h0m.1 10h0m0 1.5h0m.1-1.2h0m0-4.2h0m.1-4h0m0 11.3h0m.1-5.3h0m0-3.6h0m.1 6.2h0m.1-2.3h0m.1-1.5h0m0 5.6h0m.1-2.2h0m.1 9.6h0m0-5.3h0m.1-1.9h0m.1 6.1h0m.1-11.2h0m.1 9.8h0m0 3.2h0m.1-5.5h0m.1 5h0m0-1.2h0m.1-.6h0m0 2.8h0m.1-7.6h0m0 4.6h0m.1 4.5h0m0-3.8h0m.1-8.8h0m0 3.4h0m.1 5.5h0m0-3.3h0m.1-2.5h0m.1 1.5h0m.1-6h0m.1-5.6h0m0 11.7h0m.1-11.1h0m.1 2.2h0m0-3.7h0m.1 2.6h0m0 1.6h0m.1-1.6h0m.1-7.2h0m0 7.8h0m.1-1.1h0m.1-8h0m0 .5h0m.1 6.3h0m.1-2.6h0m.1 2.4h0m0-1.1h0m.1-2h0m0 1h0m.1-1.4h0m0 6.4h0m.1-12.8h0m0 5.4h0m.1 1h0m0 1.4h0m.1-8.7h0m0 1.5h0m.1 1.7h0m0 2.4h0m.1-6h0m0 6h0m.1-2.3h0m.1-1.7h0m.1-4.2h0m0-.7h0m.1 1.9h0m.1 3h0m0-5.2h0m.1 8.9h0m0-7.5h0m.1 3.4h0m.1-.7h0m0-9.5h0m.1 5.8h0m0 4.8h0m.1-7.8h0m.1 2.4h0m0 .7h0m.1-7h0m0 3.7h0m.1 4.7h0m0 4.9h0m.1-3.5h0m.1 7.5h0m0-9.5h0m.1 6h0m.1-1h0m0-.6h0m.1 3.4h0m0-1.6h0m.1 2.8h0m0-4.5h0m.1 2.5h0m0 4.7h0m.1-4.3h0m0 11.4h0m.1-9.8h0m0 4.4h0m.1-3.3h0m0-1h0m.1-3.7h0m.1 3.9h0m0 1h0m.1-13.8h0m0 5.6h0m.1 4.3h0m.1 1.3h0m.2 3.7h0m0 2.8h0m.1-8.6h0m.1 2.9h0m0 3.7h0m.1 1.4h0m0-.9h0m.1-10.7h0m0 8.5h0m.1-1.2h0m.1 5.8h0m.1-9h0m0-4.2h0m.1 6.7h0m0-4.4h0m.1 2.3h0m0 1.1h0m.1-2.7h0m0-2.6h0m.1 6.5h0m0-7.8h0m.1 2.6h0m0 1h0m.1-.7h0m0-2.5h0m.2 8.7h0m0-8.5h0m.1 5.7h0m0-8.7h0m.2 3.6h0m.1 6.4h0m0-4.1h0m.1-5.3h0m.1 1.3h0m0-2.4h0m.1 3.2h0m0 1.9h0m.1-3.9h0m0 6h0m.1 2.9h0m.1-3.5h0m0 2.3h0m.1-5h0m0 3.8h0m.1-2.7h0m0-1.2h0m.2-1.2h0m0 5.5h0m.1-.5h0m0-6.1h0m.1-3.5h0m0 4.6h0m.1 6h0m0 1h0m.1-1.1h0m0-2.1h0m.1 .7h0m0 3h0m.2 1.3h0m0 1.6h0m.1-6.6h0m0 1.6h0m.2 1.7h0m0-2h0m.1 4.7h0m.1-2.9h0m0-2.6h0m.1 3.8h0m0-1.7h0m.1 1h0m.1-2h0m0-1h0m.1-.6h0m0 .6h0m.1-1.1h0m.1 3.9h0m0-7.3h0m.1 .9h0m0-1.2h0m.1-5.9h0m0 12.5h0m.1-6.8h0m0-4.5h0m.1 4.7h0m0-1h0m.1 2.2h0m0-9.5h0m.1 8.7h0m.1-4.9h0m0-6.1h0m.1 13.8h0m0-9.6h0m.1 4.1h0m0-6.8h0m.1 7.1h0m0 1.2h0m.1-5.4h0m0-1.2h0m.1-.5h0m0-1.7h0m.1-6.7h0m0-1.7h0m.1 6.4h0m0-1.7h0m.1-3.1h0m0 6.8h0m.1 2.3h0m0 1.2h0m.1-3.3h0m.1 5.2h0m0-1.5h0m.1 .7h0m.1-2.7h0m.1 2.6h0m0 4.3h0m.1-11.8h0m.1 13.4h0m.1-6.4h0m0-1h0m.1 2.1h0m.2-2.1h0m0 8.2h0m.1-6.2h0m0 5.1h0m.1 1.6h0m.1-.8h0m0-5.3h0m.1 9.7h0m0-3h0m.1 3.8h0m0-5.3h0m.1 5.3h0m.1 1.2h0m0-.7h0m.1 .8h0m0 4.2h0m.1-5.2h0m0-7.4h0m.1 10.2h0m0 4.9h0m.1-4.5h0m0-3h0m.1 5.5h0m0-5h0m.1 5.5h0m0-10.2h0m.1 6.4h0m0 6.5h0m.1-2.6h0m0 7.5h0m.1 1.3h0m.1-11.1h0m0 1.2h0m.1-.7h0m.1 9.1h0m.1-7.6h0m0 2.8h0m.1 1.8h0m.1 4.4h0m0-1.3h0m.1-4.2h0m.1 3.4h0m0-1.4h0m.1 5.9h0m.1-10.2h0m0-.8h0m.1 6.9h0m0-3.7h0m.1 1.6h0m0-1.6h0m.1-10.3h0m0 7.6h0m.1 3h0m.1-1h0m0-5.3h0m.1-1.8h0m0-5.5h0m.1 6.9h0m0 3.7h0m.1-10.9h0m.1 7.9h0m0-3.4h0m.1 2.9h0m.1 .6h0m0-4.2h0m.1 10h0m0-7.8h0m.1 5.5h0m0-1.8h0m.1 5.2h0m0 1.6h0m.1-10.6h0m.1 3.6h0m0-.8h0m.1-1.6h0m0 .9h0m.1 2h0m0-3.1h0m.1-3.3h0m0 6.4h0m.1 3.6h0m0-3.8h0m.1 3.7h0m0-1.2h0m.1-4.3h0m0 11.4h0m.1-7.8h0m0-2.5h0m.1 7h0m0 5.8h0m.1-2.1h0m0-5.9h0m.1 6.8h0m.1 .7h0m0-5.8h0m.1 5.5h0m.1-6.3h0m0 4.5h0m.1-4.3h0m0 7.4h0m.1-9h0m0 7.2h0m.1 .9h0m0 .5h0m.1-3.1h0m0 5.2h0m.1 4h0m0-7.5h0m.1 1.7h0m0 4.1h0m.1 3.6h0m0-1.3h0m.1 4.4h0m0-1.5h0m.1 1.3h0m.1-6.1h0m0 2.3h0m.1 6.2h0m0-3.7h0m.1 2.3h0m0 8.7h0m.1-5.2h0m0-5.6h0m.1 4.6h0m0-1h0m.1 3.9h0m0-3.3h0m.2-.9h0m0 .6h0m.1 8.7h0m0-1.2h0m.1-7.7h0m0 7.1h0m.1-1.9h0m0 .7h0m.1-1.8h0m0 10.4h0m.1-10.6h0m.1 3.4h0m.1-8.3h0m.1 7h0m.1-6.5h0m0 5.6h0m.1-5h0m.1 5.2h0m0 2.9h0m.1 1.2h0m.1-.9h0m.1 1.9h0m0-1.3h0m.1 2.9h0m0-3h0m.1-.7h0m0 8.2h0m.1-4.4h0m.1 1.1h0m0 1.8h0m.1 .7h0m.1-.9h0m.1 2.7h0m.1-7.8h0m0 2.6h0m.1-5.5h0m0 2.5h0m.1 4.3h0m0 6.8h0m.1-2.9h0m.1-.5h0m.1-2.9h0m0-.5h0m.1-1.3h0m0 1.4h0m.1 .7h0m.1 6.5h0m0-6.1h0m.1 3.1h0m.1 4.1h0m0-3.1h0m.1 2.1h0m0 5.5h0m.1-6.7h0m0 3.8h0m.1-2.2h0m.1 5.9h0m0-3.6h0m.1 2.2h0m0 .8h0m.1-1.6h0m0-2.5h0m.1 2.8h0m.1-2.4h0m0-4.3h0m.1 1.9h0m0-6.8h0m.1 2.8h0m0 2.6h0m.1-.9h0m0-1.9h0m.1 1.6h0m0-8.1h0m.1 4.3h0m0-6.1h0m.1 5.9h0m0-5.8h0m.1-6.7h0m.1-.9h0m0 2.7h0m.1-2.6h0m0 2.8h0m.1 2h0m0-7.6h0m.1 8.5h0m0-7h0m.1-4.4h0m0-1.2h0m.1 1.5h0m0-.6h0m.1-1.3h0m.1 3.7h0m.1-5.5h0m0 1.3h0m.1-1.4h0m.1-2h0m0-3.3h0m.2-1.3h0m0 2.8h0m.1 5h0m0-6.8h0m.1-2.3h0m0 2.7h0m.1-3.1h0m0 .5h0m.1-.7h0m0 1.1h0m.1 1h0m0 .7h0m.1-3.8h0m0-1h0m.1 4.5h0m0-10.5h0m.1 2.7h0m0-.6h0m.1 3.5h0m0-1.5h0m.1-3.1h0m0 6.5h0m.1-1.2h0m0-1.3h0m.1-4.6h0m.1 3h0m0 5.8h0m.1-4.7h0m0 4.6h0m.1-6.9h0m.1 3.8h0m0 4.8h0m.1-3.8h0m0 6.5h0m.1-9.9h0m0 8.8h0m.1-6h0m0-4.7h0m.1 6.8h0m0-1.5h0m.1-6.4h0m0 5.6h0m.1 5.1h0m.1-7.8h0m0-1.1h0m.1 2.1h0m0-3.4h0m.1 7.2h0m0-1.4h0m.1-15.1h0m.1 5.3h0m0 1h0m.1-5.3h0m0 3.1h0m.1-3.8h0m0-3h0m.1 3.1h0m.1 .6h0m0-2.3h0m.1-3.8h0m.1 1.3h0m0-.7h0m.1 6.3h0m0-10.3h0m.1-3.2h0m0 4.1h0m.1 1.3h0m0-3.7h0m.1 3.1h0m0 5.3h0m.1-6.2h0m.1 1.9h0m0 .7h0m.1-.5h0m0-4.8h0m.1 3.7h0m0 3.1h0m.1-3.4h0m.1 7.5h0m0-6h0m.1 10.8h0m0-1.7h0m.1-1.9h0m0 1h0m.1 12.1h0m0-7.1h0m.1 5.8h0m0-14.3h0m.1 11.4h0m0-3.8h0m.1 .9h0m.1 2.1h0m0-2.4h0m.1 2.4h0m0 6.3h0m.1-10.7h0m0 8.1h0m.1-6.1h0m0 .9h0m.1-6h0m0 12.6h0m.1-5.5h0m.1-1.8h0m0 7h0m.1-4.5h0m0-6.8h0m.1 .7h0m0 8.3h0m.1-3.9h0m.1-1.2h0m0-3.1h0m.1 2.4h0m0 1.7h0m.1-3.3h0m0 3.7h0m.1-9.5h0m0 1.7h0m.1-2.2h0m0-1h0m.1-4.6h0m0 16.8h0m.1-12h0m0 4.3h0m.1-1.4h0m.2-2h0m0-4.8h0m.1 3.6h0m0-6.5h0m.1 .6h0m0 3.4h0m.1-2.2h0m.1-4.1h0m0 2h0m.1-4.4h0m0 1.6h0m.1 1.2h0m.1 1.3h0m0 5.2h0m.1-5.1h0m.1 1.3h0m.1 5.8h0m0-6.9h0m.1 4.1h0m0 4.8h0m.1 3.7h0m0-4.2h0m.1-1.4h0m0 2.7h0m.1 .9h0m0 9.2h0m.1-6.6h0m0 1.3h0m.1 1.1h0m.1-2.6h0m0 4.3h0m.1-6.3h0m0 7.5h0m.1-4h0m0-1.9h0m.1 14.9h0m0-10.7h0m.1 6.9h0m0-4.3h0m.1-2.2h0m0 4h0m.1-3.1h0m0 2.5h0m.1 1.2h0m.1-3.7h0m0 12h0m.1-9.4h0m0-1.8h0m.1 12.8h0m0-16.2h0m.1 18.1h0m0-7.8h0m.1-2.9h0m.1 3.2h0m0-2.3h0m.1 3.4h0m0 3.7h0m.1-4h0m0 8.7h0m.1-14.1h0m0 3.4h0m.1 2.9h0m0-5.7h0m.1 2.9h0m.1-3.6h0m0 3.6h0m.1-1.5h0m0-3h0m.1 5h0m0 1.1h0m.1-8.5h0m0-1.9h0m.1 3.5h0m0 3.5h0m.1-4h0m0-1.2h0m.1 2.4h0m0-5.3h0m.1-1.5h0m.1-2.7h0m0-.7h0m.1 .6h0m.1-.7h0m0-1h0m.1-6.6h0m.1 1.5h0m0-.5h0m.1-1.1h0m0 2.5h0m.1-1.7h0m0-2.1h0m.1-1h0m.1-3.6h0m0-4.5h0m.2 6.1h0m.1-4.1h0m0-1.1h0m.1 10.1h0m0-1.2h0m.1-1.9h0m0 1.6h0m.1-1.2h0m0-1h0m.1 2.7h0m0 1.7h0m.1-4.5h0m0 1h0m.1 3.4h0m0-2.4h0m.1-3.3h0m0 9.3h0m.1-3.8h0m0 4.1h0m.1-4.5h0m0-1.7h0m.1 3.4h0m0 1.9h0m.1 2.3h0m0-7.8h0m.1 16h0m0-7.1h0m.1 6.3h0m0-8.3h0m.1 2.2h0m.1 1.3h0m0-4.3h0m.1-1.4h0m.1 7h0m0 4.9h0m.1 .6h0m0-3.9h0m.1 4.2h0m0-4.3h0m.1-7.7h0m0 6.2h0m.1-.7h0m0 2.8h0m.1 4.9h0m0-1.8h0m.1 1.6h0m0 1.3h0m.1-2.3h0m.1-6.5h0m0 2.2h0m.1-4.1h0m0 6.3h0m.1-4.5h0m.1-7.2h0m0 4.7h0m.1-3.1h0m0-3.2h0m.1-2.7h0m0 3.6h0m.1-6.8h0m0-1.3h0m.1 1.7h0m0-2.6h0m.1 4h0m0-1.7h0m.1 2.8h0m.1-8.3h0m0 10.3h0m.1-11.9h0m0 8.7h0m.1-2.1h0m0-1.2h0m.1-4.5h0m0-1.1h0m.1 4.3h0m0-2.8h0m.1-1.4h0m.1 2.2h0m0-9.6h0m.1 7.7h0m0 2.4h0m.1 3.3h0m0-1.9h0m.1 2.6h0m0 4.2h0m.1-5.5h0m0 5.8h0m.1-4.6h0m0 4.8h0m.1 1.5h0m0-3.4h0m.1-.9h0m0-2.1h0m.1 .8h0m0 7h0m.1-4.9h0m0 4.3h0m.1-3.7h0m0 1.4h0m.1 8h0m0-2.9h0m.1-1.8h0m.1 1.3h0m.1-.8h0m.1 4.9h0m0-6.4h0m.1 3.7h0m0 13h0m.1-10.9h0m0 1.2h0m.1 10.6h0m0-9.2h0m.1 11.2h0m0-9h0m.1 5.5h0m0-5.2h0m.1 3.1h0m0-2h0m.1 5.7h0m0-2.6h0m.1 3.2h0m0-3h0m.1 1.2h0m0-2.8h0m.1 4h0m0 2.1h0m.1-4.1h0m.1-3.6h0m0 1h0m.1 2.4h0m0 6.1h0m.1-1.5h0m0 .6h0m.2 2.3h0m0 .6h0m.1 7.2h0m0-15h0m.1 3.6h0m0 8h0m.1-1.6h0m0-7.6h0m.1 12h0m0-6.9h0m.1-1.1h0m.1 2h0m0 4h0m.1-11.8h0m0 7.3h0m.1-5.3h0m0 3.1h0m.1 3.7h0m0-7.7h0m.1 11.5h0m0-4.1h0m.1 1.8h0m0 1.7h0m.1-4.7h0m0 5.7h0m.1-.7h0m0 1.1h0m.1-1.4h0m0 2.2h0m.1-2.9h0m0 2h0m.1-2.1h0m0 1.5h0m.1-1.3h0m.1-1.2h0m0 7.1h0m.1-3.7h0m0 .7h0m.1 2.8h0m0-3.4h0m.1 6.9h0m0-7h0m.1-.7h0m0 7.5h0m.1 4.1h0m0 .8h0m.1-10.5h0m0 5.5h0m.1-1h0m0-2.4h0m.1-2.7h0m0 2h0m.1 4.2h0m.1-2.2h0m0-5.5h0m.1 1.1h0m0 2h0m.1 .8h0m0-4h0m.1-4.6h0m0 4.6h0m.1 1.2h0m0 1.9h0m.1-2.6h0m0 2.2h0m.1-4.9h0m0 1.8h0m.1-5.2h0m0-.8h0m.1 2.6h0m.1 .8h0m0-1.1h0m.1 6.3h0m0-9.1h0m.1-1.5h0m0-.8h0m.1-1.1h0m.1 3.6h0m0-1.5h0m.1-8.2h0m0 8.3h0m.1 1.4h0m0-1.3h0m.1-5.7h0m0-5.8h0m.1 4.7h0m0-1.9h0m.1-1.5h0m.1 5.2h0m0-6h0m.1-2.5h0m0 .8h0m.1-3.1h0m0-2.8h0m.1 3.3h0m.1-5.4h0m0 3h0m.1-1h0m0-.7h0m.1 .5h0m0 5h0m.1-4.4h0m.1-7h0m0 2.9h0m.1 11.2h0m0-3.1h0m.1-10.9h0m.1 2.7h0m0 2.5h0m.1-5.2h0m0-1h0m.1 11.1h0m0 1.9h0m.1-13.6h0m0 6.3h0m.1-3.4h0m0 8.9h0m.1-7.9h0m0-6.5h0m.1 11.6h0m0-2.1h0m.1-.5h0m0-4.4h0m.1 8.2h0m0-11.9h0m.1 .8h0m0 9.9h0m.1-12.6h0m0 11.8h0m.1-6.3h0m0-8.1h0m.1 4.9h0m0-2.2h0m.1 2.2h0m0-6.1h0m.1 7.8h0m.1-6.7h0m0 4.6h0m.1 7h0m0 1.5h0m.1-1h0m0 5.3h0m.1-7.7h0m0-1h0m.1 3.7h0m.1 3.9h0m0-12.8h0m.1 13.4h0m0-8.9h0m.1 2.9h0m0 5.1h0m.1-1.9h0m.1-4h0m0-5.9h0m.1 4.2h0m.1 1.6h0m0 1.6h0m.1-8.9h0m0-4.2h0m.1 3.4h0m0-4.8h0m.1 4h0m.1-5.8h0m0 3.8h0m.1 7.4h0m0-7.6h0m.1-8.5h0m0 8.3h0m.2-6.7h0m.1 2h0m0-6h0m.1-2.4h0m0 9h0m.1-2.8h0m.1 2h0m.1-6.1h0m0 4.4h0m.1-4.5h0m0-1.9h0m.1 1.3h0m0 6.7h0m.1 12.1h0m.1-4.2h0m.1-1.1h0m0-2.3h0m.1-1.8h0m0 1.3h0m.1 3.2h0m.1 8.8h0m0-1h0m.1 5.9h0m.1-7.8h0m0 1.9h0m.1 .8h0m0-6.4h0m.1-.9h0m.1 7.9h0m0 3.4h0m.1-5h0m.1-.6h0m0 1.7h0m.1 6.4h0m0-9.5h0m.1 4.5h0m0 3.3h0m.1-5.3h0m0 12h0m.1 1.3h0m0-7.3h0m.1 .5h0m0 2h0m.1-2.2h0m0 8.2h0m.1-7.1h0m0 1.1h0m.1 5h0m0-4.9h0m.1 3.5h0m0-4.3h0m.1 7.2h0m0-3h0m.1-2.4h0m0 5h0m.1 4.2h0m0-2.8h0m.2-1.6h0m0-4.2h0m.1 10.2h0m.1-2.2h0m0 2.7h0m.1-3.1h0m.1 4.1h0m0-3.1h0m.1 4.4h0m.1 2h0m.1 5.3h0m0-7.8h0m.1 2.4h0m0-6.2h0m.1 3.4h0m.1 3.4h0m0 2.2h0m.1-3.2h0m0 3h0m.1 4.6h0m0-13h0m.1 7.9h0m.1-4.1h0m0 3.1h0m.1-1.2h0m0-3.5h0m.1-3.3h0m0 4h0m.1 7h0m0-8.5h0m.1 3.2h0m0-6.3h0m.1 6.9h0m.1 2.8h0m.1-6.4h0m0 9.5h0m.1-10h0m0 8.2h0m.1-5.7h0m0-2.5h0m.1 1.3h0m0 7.1h0m.1-2.9h0m0-2.8h0m.1-3.4h0m0 2.6h0m.1-3.3h0m0 5.5h0m.1-2.9h0m0-7.9h0m.1 13.8h0m0-7.6h0m.1 3.3h0m0-7.1h0m.1 3.9h0m0-7h0m.1 14h0m0-2.8h0m.1-6.3h0m0 3h0m.1-5h0m0 4h0m.1 2.3h0m0-3.1h0m.1-1.7h0m0-1.2h0m.1-3h0m0-5.5h0m.1 11.6h0m.1-12h0m0 7.2h0m.1 1.7h0m0-6.8h0m.1 9h0m0-1.8h0m.1 3.5h0m0-6.8h0m.1-6.5h0m0 1h0m.1 9.4h0m0-11.1h0m.1 4.7h0m0-5.3h0m.1 5.1h0m0 2.4h0m.1-5.4h0m0 5.9h0m.1-3.2h0m0-5.3h0m.1 7.3h0m0-5.8h0m.1 .6h0m0-.8h0m.1 2.1h0m0 3.6h0m.1-3.2h0m0-3.8h0m.1 8.7h0m0-2.9h0m.1 1.7h0m0-5.6h0m.1-8.7h0m0 11h0m.1-4.2h0m.1 .9h0m0-1h0m.1 8.5h0m0-2.4h0m.1-5.3h0m0 3.1h0m.1-.8h0m0 2.2h0m.1-11.2h0m0 9.2h0m.1 1.6h0m0-5.3h0m.1 5.1h0m0-3.1h0m.1 5.3h0m0-.8h0m.1-7h0m0 3h0m.1-.7h0m.1 4.6h0m0 1.2h0m.1 2.2h0m0-9.2h0m.1 1h0m0 3.7h0m.1-1.7h0m0 1.8h0m.1 5h0m0 2.5h0m.1-8.3h0m0 5.8h0m.1-4.2h0m.2 4.2h0m0-2h0m.1-4.3h0m0 1.9h0m.1-3.9h0m0 5.1h0m.1-1.2h0m0 11.1h0m.1-5h0m.1-1.1h0m.1 9.3h0m0-12.8h0m.1 9h0m0-2.8h0m.1 10.5h0m0-3.7h0m.1-2.7h0m0 5.4h0m.1-.8h0m0-2.9h0m.1 1h0m0 3.7h0m.1-3.3h0m0 .7h0m.1 1.3h0m0 1.3h0m.1 1.6h0m0-3.5h0m.1 6.5h0m0-10.7h0m.1 8.8h0m0-1.7h0m.1 11.4h0m0-7h0m.1-1.7h0m.1 3.6h0m0 1.5h0m.1-.8h0m0-1.7h0m.1-6.2h0m0-1h0m.1 3.5h0m0 4.6h0m.1-3h0m0 8.4h0m.1-5.5h0m0 4.5h0m.1-4h0m0 1.4h0m.1-2.8h0m0 2.6h0m.1 9.7h0m0-4.7h0m.1-2.9h0m0-2.8h0m.1 4.8h0m0-5.1h0m.1 7.7h0m0-2h0m.1-.8h0m0 8.3h0m.1-5.1h0m0 2.9h0m.1 3.1h0m0 3.8h0m.1-1.9h0m0-2.7h0m.1-2.4h0m0 3.9h0m-146.1-38h0m-1.2-3.8h0m.8-3.1h0m-.5-2.4h0m.1-2.5h0m28.2 5.1h0m1.4-3.1h0m-1-3.2h0m.5-2.9h0m-.3-4h0m.2-1.4h0m24 41.6h0m1.3-4.1h0m-1.1-4.1h0m.9-3.1h0m-.8-2.4h0m.5-3.3h0m-.1-3.9h0m0-1.7h0m14.6 .2h0m-1.5-3.4h0m.9-3.6h0m-.5-4h0m.6-3.7h0m-.7-3.8h0m.3-3.5h0m0-1.3h0m.7 16.8h0m.9-3.1h0m-.5-3.3h0m.2-.9h0m15.7-.7h0m1.1-2.8h0m-.3-1.9h0m31.5-1h0m-1.3-2.5h0m.9-4.2h0m-.6-3.6h0m0-3.6h0m.1-1.5h0" fill="none" stroke="#0000ff" stroke-width="1.2" stroke-linecap="round"/>
<path d="M27 275L28 255M32.5 274.2L34 238L34.5 248.1M39.8 281.1L40.5 263.8M49.5 274.7L51.2 201.5L51.8 214.8M62.8 278.5L63.5 255.7M69.2 281.3L70 255M70.8 242.1L71.5 255.9M74 271L75 235L75.8 219.4M78.8 250.3L80 275M81.2 281.3L82 255M82.8 244L83.5 263.5L84.8 288M94 251L95 283M112.5 272.7L113.5 249.4M114.5 238.4L116.2 271.5M128.2 294L130.2 258.6M169 271.1L170 253.4M200 297.4L200.2 283.8M312.8 253L314.2 279.4M325.2 286.5L325.8 277.7M355 275L356 251.1M398.5 247L399.8 271.6M433.8 260.4L434.5 245M442.5 252L443.5 231.4M446.2 249.6L447 229.3" fill="none" stroke="#000" stroke-width="0.35" stroke-linejoin="round" opacity="0.85"/>
<path d="M24.5 265.5L26 272.1L27 275M28 255L28.8 266.5L29.2 271.1L31 273L32.2 276.6L32.5 274.2M34.5 248.1L36 271L37 262L38 272.4L39.5 282.3L39.8 281.1M40.5 263.8L40.8 262.9L41.5 271.3L42 275L43.2 264.2L44 253L45.2 248.9L46.2 242.8L48.2 269L48.5 271.3L49.5 274.7M51.8 214.8L53 231L54 219L55 235L56 245L57 248.3L57.2 249.7L58.5 265.8L59.5 274.2L59.8 274.1L60.5 265.4L60.8 266.1L61.5 274.4L62.5 280.4L62.8 278.5M63.5 255.7L63.8 254.5L65.8 280L66.8 286.7L68 291L69 284.3L69.2 281.3M70 255L70.8 242.1M71.5 255.9L71.8 257.5L72.8 260.8L74 271M75.8 219.4L76 220.2L77.5 234L78.8 250.3M80 275L81 281.7L81.2 281.3M82 255L82.8 244M84.8 288L85 290L86 295L88.2 258.2L88.5 257L89.2 269.6L90.2 281.2L90.5 283.2L91.5 284.8L92.8 265.8L94 251M95 283L96.5 288.6L97.8 294.8L99 279L100.5 265.9L102 258.3L102.2 257.8L103.2 270.1L105 279L108.2 283.1L111.2 290.6L111.5 289.3L112.5 272.7M113.5 249.4L114.2 238.6L114.5 238.4M116.2 271.5L117.5 283.5L118.5 288.5L118.8 288.5L120 284.4L121.2 278.9L121.8 277.3L123 266.3L124.2 261.6L125.5 271.1L127 285.3L128.2 294M130.2 258.6L131 254.7L131.2 259L132 265.9L132.2 263.8L134 254.2L134.8 265.6L136 275.3L137 266.5L137.5 265L137.8 265L138.2 270.7L138.8 274.2L139 274.2L139.2 274.8L139.5 276.1L139.8 275.7L140.5 266.1L141.5 258.1L141.8 258.2L142.5 268L143 271.6L143.5 273.5L143.8 273.1L145.2 267L145.8 263.9L146 263.2L146.2 263.2L146.5 261.7L146.8 262.7L147.2 268L147.8 270.8L149 281.5L149.5 282.6L150 284.6L151.2 280.9L152.2 284.1L152.5 284.6L152.8 284.2L155 274.5L157 247L158 239.6L158.8 244.6L159 244.7L159.5 244L160 242.7L160.8 246.2L161 246.4L162 253.5L162.2 254.2L163 258.6L163.5 259.4L164 258.8L164.5 260.1L165 260.6L165.8 268.2L166.5 272.9L167 277.9L167.5 279.5L167.8 280.9L168 281.1L169 271.1M170 253.4L170.8 251L171 249.1L171.2 250.2L171.5 250.2L171.8 250.4L172.2 251.8L172.5 252.1L173.2 255.4L173.5 255.8L174 258.7L175 268.8L176 276.2L176.2 275.9L177 272.5L178 261.6L179 255.6L179.8 254.6L180 253.9L180.5 257.1L181 258.8L181.2 257.4L183 251.9L183.8 252L184 252.2L184.5 250.5L185 247.5L185.2 247L186 242.8L188 263.2L188.2 264.6L188.8 266.5L189.5 268.4L190.2 270.1L190.5 270.2L190.8 271.8L191 272.2L191.2 272.4L191.5 272.3L191.8 273L192 273.2L192.2 272.7L192.5 272.7L192.8 273.1L193 272.9L193.2 273L193.5 272.9L193.8 273.6L194 273.2L194.2 273.4L194.8 274.7L195 276L196 278.7L196.5 281.5L196.8 281.8L197 283.6L197.5 285L198.2 289.6L198.5 290.1L200 297.4M200.2 283.8L201.2 279L202.2 276.5L202.5 276.7L205 291.7L206 295L207 295.8L207.2 295.9L208.2 293.4L208.5 292L209.5 282L210.8 272.4L211.5 270.3L211.8 270.8L212.8 274.9L214 277L215.2 274.3L216 277.8L217.5 282.7L222.2 290.8L223.5 294.7L223.8 294.9L226 293L227 294.8L228.2 295.9L228.5 295.6L229.5 291.4L230.8 283.3L233 272L234.2 267.6L234.5 267.4L235.8 272L236.8 278.7L238 283L239.2 281L240.2 280.2L240.5 280.3L241.5 282.9L241.8 282.9L242 282.5L242.8 281.1L244 282L245 281L246 282.8L246.2 282.7L247.5 274.8L248.5 271.4L248.8 271.3L251 275L252.2 273.1L254.5 276.8L254.8 276.2L255.8 271.3L257 268L257.8 273L259.5 281.2L261.8 284.9L263 289L264.2 288.9L265 287L266 292.4L267.2 294.8L267.5 294.5L269.2 285.9L269.5 285.4L270.5 288.8L271.8 290.9L274.2 290.9L275.2 289.2L276.5 283.5L277.5 268.7L278 266.2L278.2 265.1L279.2 266.9L279.5 266.8L280.5 265.2L281 263.3L281.8 258.4L282.8 264.1L284.2 270.7L285.2 265.7L285.5 264.9L286.5 263.2L287.8 270.9L291.2 282.5L291.5 282.8L292.5 281.2L292.8 280.3L295 269L296.2 265L297.2 264.2L297.5 264.3L298.5 266.9L299.8 274.7L300 274.3L301.2 270L302.2 263.6L303.2 274.2L304.8 281.5L305.8 284.8L307 287L309.2 288.9L309.5 288.8L310.5 287.2L310.8 284.8L312.8 253M314.2 279.4L315.2 287.8L315.5 289.2L316.5 290.8L316.8 290.9L319 289L319.2 290L320 283.3L320.5 284.1L320.8 284.2L321 283.7L321.2 284.8L321.5 285.2L322 283.4L322.8 276.4L324 281L324.8 285.4L325 286.4L325.2 286.5M325.8 277.7L327.5 253.4L327.8 253.3L328.5 259.2L328.8 259.8L329 261.7L330 264.3L331.2 273.1L333.8 294.1L334.8 299.1L335.8 300.9L336 300.9L336.8 297.8L337.2 296.9L337.5 295.7L337.8 296L338.2 294.1L339.5 281.5L340.8 271.4L341.8 276.8L342 277.1L342.5 279.7L343.2 284.9L343.8 286.4L344 286.1L344.2 287.1L344.5 287.4L345.2 283.1L347.2 275L347.5 275.6L348 274.8L349 271L349.5 269.8L349.8 268.3L350.2 266.7L350.5 266.7L351 273.5L352.5 285.7L352.8 287.5L354 291.9L355 275M356 251.1L356.8 244.8L357.5 248L357.8 248.5L358 250L359.2 258.8L360.2 268.1L360.5 269L361.5 262.1L361.8 263.3L362.8 273.2L364 279.4L365.2 259.3L366.2 254.3L366.5 254.4L367.2 261.4L370 280.8L371 284.7L371.5 285.9L371.8 286.1L372 285.9L372.5 286.8L373.8 281.4L374.8 272.9L375 273.2L376.2 276.8L377 280.7L377.2 281.3L378.2 278L378.5 277.6L380.8 281.3L381.2 279.1L382 273.1L382.8 274.5L383 275.7L383.2 275.9L383.8 277.7L384 277.5L384.2 278.2L384.5 278.1L386 265.4L388 250.8L388.8 248.5L389.5 258.5L390 262.3L391.2 275.7L392 279.4L392.2 281.4L392.5 281.8L393.8 266.9L394.8 251.4L396 242.9L396.2 242.5L396.8 248.6L397.2 252.3L397.5 252.1L398 249L398.5 247M399.8 271.6L400.5 275.6L401 279.4L403.8 259.9L404 256.5L404.2 255.3L405 266L405.2 268.4L405.5 268L406.8 251.2L407.8 243.2L408.5 240.4L409 237.4L409.8 246L410.2 249.2L412.5 241.8L412.8 241.7L413.8 243.3L415 249.4L416.5 237.4L417 231.8L418.2 240.2L419.2 251.3L420.5 261L420.8 260.6L421.8 250.9L422 249.6L422.2 249.3L422.5 247.8L422.8 248.6L424 259.2L425 271.7L425.5 274.3L426.2 280.1L427 284.5L428 288.6L428.8 293L429 293L429.2 293.1L429.5 291.8L431.5 259.8L431.8 257.8L432 257.2L432.5 253.1L432.8 253.2L433.8 260.4M434.5 245L435.2 235.7L435.5 235.7L436.5 252.1L436.8 252.2L438 244.1L439 232.4L440 247.7L441.2 258.2L441.5 258.6L442.5 252M443.5 231.4L444 228.3L444.2 227.6L445 239.4L446 248.8L446.2 249.6M447 229.3L447.8 216.6L449.2 232.5L450.5 248.5L451.2 254.5L452.5 260.7L453.8 270.4L454.5 264.4L455.8 244.2L457 231.4L457.2 231L458 228.5L458.2 228.2L459 233.3L460.5 212.1L460.8 213.4L461.2 221.9L462.8 240.9L463.8 250.9L465 259.4L466.2 257.1L467.5 250.7L469.8 236.1L471 245.1L472.2 257.9L474 269.6L474.8 275.8" fill="none" stroke="#000" stroke-width="1.25" stroke-linejoin="round" stroke-linecap="round"/>
<path d="M27 275L28 255M32.5 274.2L34 238M34 238L34.5 248.1M39.8 281.1L40.5 263.8M70.8 242.1L71.5 255.9M75 235L75.8 219.4M78.8 250.3L80 275M83.5 263.5L84.8 288M112.5 272.7L113.5 249.4M114.5 238.4L116.2 271.5M128.2 294L130.2 258.6M169 271.1L170 253.4M312.8 253L314.2 279.4M325.2 286.5L325.8 277.7M355 275L356 251.1M398.5 247L399.8 271.6M433.8 260.4L434.5 245M442.5 252L443.5 231.4" fill="none" stroke="#000" stroke-width="1.0999999999999999" stroke-linecap="round" stroke-dasharray="0 1"/>
<path d="M51.2 201.5L51.8 214.8M62.8 278.5L63.5 255.7M82.8 244L83.5 263.5M94 251L95 283M446.2 249.6L447 229.3" fill="none" stroke="#000" stroke-width="1.0999999999999999" stroke-linecap="round" stroke-dasharray="0 1.5"/>
<path d="M49.5 274.7L51.2 201.5M69.2 281.3L70 255M74 271L75 235M81.2 281.3L82 255" fill="none" stroke="#000" stroke-width="1.0999999999999999" stroke-linecap="round" stroke-dasharray="0 2"/>
<path d="M200 297.4L200.2 283.8" fill="none" stroke="#000" stroke-width="1.0999999999999999" stroke-linecap="round" stroke-dasharray="0 3"/>
<path d="M25.2 274L25.5 279.3M25.8 277.4L26.2 288.4M26.5 288.1L26.8 296M27.5 294.3L27.8 283.2M28 283.5L28.2 275.1M28.5 276.3L28.8 268.8M31 282L31.2 290.3L31.5 285.9M32.2 289.8L32.5 281.5M32.8 281L33.2 260.2L33.5 265.4L34 244.4L35 268.6M37.2 275.5L37.8 287.3L38 280.2M38.2 280.1L38.5 290M39.8 294L40 301.4M40.5 304L41.2 274.2M41.5 276.3L41.8 282.6M42.2 284.4L42.5 278.9L42.8 285.3L43.2 273.2M44 277.2L44.2 267.8M45.5 267.5L46 276.8M47.8 276.8L48 283.4M48.5 282.5L48.8 287.3M49 288.4L49.5 278.6L50 256.7L50.5 242.4L50.8 236.9M51 239.1L51.2 233.1L51.5 239M51.8 237.9L52 242.9M52.8 248.9L53 256.3M53.5 256.4L54 244.1M54.2 248.3L54.5 243.9L54.8 251M55.5 253.9L55.8 258.4M56.2 258.8L56.5 265.1M57 264.3L57.8 278.6M59 284.7L59.2 292.1M59.5 294.3L59.8 287.3M60.8 283.6L61.5 298.5L62.2 276.4M62.8 273.3L63 267.9M63.2 267.7L63.5 261.5M65.8 286.8L66.2 295.6M69.5 286.4L70.2 267.7M71.5 279L71.8 272M72 275.3L72.2 264.5M72.8 271.6L73.2 282.3M74 277.4L74.8 260.9M75.2 262.2L75.5 255.2M75.8 253.6L76 248.3M77.2 250.5L77.5 256.1M80.2 290.5L80.5 297.9M81 293.9L81.5 277.2L82.5 259.4L83 272.4M84.5 272.9L85 286.3M85.2 285.1L85.5 294.6M86 293.1L86.2 287.3M86.5 288.4L86.8 283.9M89.2 268.7L89.5 277M89.8 276.7L90.2 285.4M93.5 267.7L93.8 262.7M94 261.5L95 290M99.2 283.7L99.5 277.9M112 286.1L112.2 278.4M112.8 273.9L113.5 253.8M115.5 260.4L116.2 275.6M116.8 279.6L117 284.6M124.8 269.5L125 274.1M126 279.1L126.2 283.4M128.5 296.9L128.8 287.4L129 282.2M129.2 280L129.5 271.9M131 256.5L131.2 262.5M134 257.3L134.2 262.6M134.5 263.6L134.8 270.4M140.5 268.9L140.8 263.7M148.2 277.4L148.5 283M150.8 288.9L151 284.4M155 280.2L155.2 274.1M156 266L156.5 256.2M165 261L165.2 267.2M168 286.4L168.2 281.4M169.2 270.2L170 255.2M170.2 257.4L170.5 252.2M177 278.7L177.5 268.8M179.2 263.6L179.5 258.7M184.5 258.8L184.8 253.4M190.2 274.1L190.5 278.9M191.2 275.6L191.5 280.4M209 297.3L209.2 292.8M224 297L224.2 301.7M225.2 297.2L225.5 302.4M259.2 285.8L259.5 281.2L259.8 285.6M276 295.4L276.2 291M283.2 269L283.5 275.5M290.2 287L290.5 291.8M302.8 278.3L303 282.7M307.2 290.8L307.5 295.3M312.8 257.9L314.2 285.5M324 284.8L324.2 289.2M324.8 287.2L325 292.6M326 279.5L326.2 272.1M327.2 261.7L327.5 255.7M328 257.2L328.2 262.1M329 262.1L329.2 266.5M331 272.9L331.2 277.6M340.2 281.7L340.5 276.6M354.5 288.4L354.8 283.8L355.8 262.5L356 252.7M361.5 262.4L361.8 267.5M362.2 268.7L362.5 274.9M364 281.7L365 263M366 257.7L366.2 252.2M367.8 263.9L368 268.8M368.5 269.9L368.8 277.1M374 286.1L374.2 280.2M387 264.8L387.2 259.6M393.5 276.8L393.8 270.6M395.5 254.4L395.8 248.2M396.8 252.6L397 259.8M400 275.1L400.2 280M405.5 269.9L405.8 265.3M406 264.6L406.2 255.7M407.2 252.7L407.8 243.6M408 247.4L408.2 242.4M409 238.8L409.2 244.5M413 240.8L413.2 246.3M416.8 237.6L417 231M422.2 255.2L422.5 250.3M424 260L424.5 269.5M429.8 293.5L430.2 282.5M431 274.3L431.2 265.9M433 257L433.2 261.6M433.8 262.9L434.8 242.6M435.5 239.4L436.2 253.2M439.2 237.2L440 251.5M442.8 252.3L443.2 239.1M446.2 253.3L447 234M448 222.1L448.2 228.8M454.8 262.8L455.2 251.7M455.5 252.3L455.8 244.4M458.2 229.1L458.5 236.5M461 218.7L461.2 225.5M461.5 226.5L461.8 231.2M462.2 233.5L462.8 244.1M464 253.2L464.2 259.3" fill="none" stroke="#ff0000" stroke-width="0.35" stroke-linejoin="round" opacity="0.85"/>
<path d="M24.5 265.3L25.2 274M25.5 279.3L25.8 277.4M26.2 288.4L26.5 288.1M26.8 296L27 295L27.2 297.9L27.5 294.3M27.8 283.2L28 283.5M28.2 275.1L28.5 276.3M28.8 268.8L29 266.5L29.5 275L29.8 274.5L30 276.3L30.5 282.5L30.8 281.3L31 282M31.5 285.9L31.8 284.7L32.2 289.8M32.5 281.5L32.8 281M35 268.6L35.2 268.8L35.8 276.6L36 276.2L36.5 271.9L37 274.9L37.2 275.5M38 280.2L38.2 280.1M38.5 290L38.8 290L39 289.4L39.2 289.7L39.8 294M40 301.4L40.2 303.9L40.5 304M41.2 274.2L41.5 276.3M41.8 282.6L42 280.5L42.2 284.4M43.2 273.2L43.5 275.8L43.8 273.4L44 277.2M44.2 267.8L44.8 271.3L45 270.2L45.2 270.4L45.5 267.5M46 276.8L46.5 271.2L47 277L47.2 275.2L47.5 277.3L47.8 276.8M48 283.4L48.2 284.1L48.5 282.5M48.8 287.3L49 288.4M50.8 236.9L51 239.1M51.5 239L51.8 237.9M52 242.9L52.8 248.9M53 256.3L53.2 252.1L53.5 256.4M54 244.1L54.2 248.3M54.8 251L55 250.5L55.2 253.5L55.5 253.9M55.8 258.4L56 260.2L56.2 258.8M56.5 265.1L56.8 265L57 264.3M57.8 278.6L58 278.9L58.8 287.2L59 284.7M59.2 292.1L59.5 294.3M59.8 287.3L60.2 282.5L60.5 286.6L60.8 283.6M62.2 276.4L62.8 273.3M63 267.9L63.2 267.7M63.5 261.5L64.8 280.1L65 282.8L65.2 283.1L65.5 286.4L65.8 286.8M66.2 295.6L66.8 289.9L67 293.5L67.5 295.2L68 300.8L68.2 296.9L68.8 293.9L69.5 286.4M70.2 267.7L70.5 267.1L71.5 279M71.8 272L72 275.3M72.2 264.5L72.8 271.6M73.2 282.3L73.5 283L74 277.4M74.8 260.9L75 262.1L75.2 262.2M75.5 255.2L75.8 253.6M76 248.3L76.2 247L76.5 248L76.8 251.5L77 250.6L77.2 250.5M77.5 256.1L78 259.5L79.8 287.5L80 287.1L80.2 290.5M80.5 297.9L81 293.9M83 272.4L83.5 276.2L83.8 272.7L84 274.9L84.2 270.7L84.5 272.9M85 286.3L85.2 285.1M85.5 294.6L86 293.1M86.2 287.3L86.5 288.4M86.8 283.9L87 284.3L87.8 272.5L88 271.6L88.2 272.2L88.5 269.7L88.8 271.9L89 271L89.2 268.7M89.5 277L89.8 276.7M90.2 285.4L90.5 285L90.8 285.3L91 288L91.2 288.2L91.5 287.5L92.2 282.6L93.5 267.7M93.8 262.7L94 261.5M95 290L95.2 287.6L95.8 289.8L96 287.5L96.8 294.8L97 293.7L97.2 295.7L97.8 296.6L98 295.4L98.5 286.7L99 282.8L99.2 283.7M99.5 277.9L99.8 276L100 275.8L100.2 274.3L100.5 270.9L100.8 271.7L101 268.7L101.2 269.9L101.8 265.8L102 266.2L102.2 263.7L102.8 271.3L103 271L103.2 274.9L103.5 274.7L104.2 278.9L104.5 281.3L104.8 281L105 282L105.2 279.3L105.5 280.4L105.8 283.7L106 281.3L106.5 283.4L106.8 282.6L107 282.5L107.2 284.5L107.8 284.2L108 286L108.2 285L109 289.1L109.2 288.6L109.5 288.8L110 292.6L110.2 291.2L110.5 292.5L111 292.6L111.2 295.7L112 286.1M112.2 278.4L112.8 273.9M113.5 253.8L114.2 246L114.5 245.3L115.5 260.4M116.2 275.6L116.5 278.6L116.8 279.6M117 284.6L117.5 288.7L117.8 288.7L118 291.6L118.5 293.9L118.8 296.7L119 293.8L119.2 294.8L119.8 293.2L120 289L120.5 285.4L120.8 286L121 285.6L121.2 284.4L121.8 279.1L122.2 278L123 271.6L123.2 271.8L123.5 272.8L124 265.8L124.2 265.3L124.5 269.5L124.8 269.5M125 274.1L125.2 271.7L125.8 278.9L126 279.1M126.2 283.4L126.5 284.3L127 291.4L127.2 290.8L127.5 294.7L127.8 293.1L128.2 299L128.5 296.9M129 282.2L129.2 280M129.5 271.9L130.8 256.5L131 256.5M131.2 262.5L131.5 261.1L132 269.6L133 262.9L133.2 262.2L133.5 262L133.8 260.8L134 257.3M134.2 262.6L134.5 263.6M134.8 270.4L135 270.8L135.5 275.9L135.8 275.1L136 278.2L136.2 276.9L136.8 269.7L137 269.7L137.2 265.8L137.5 265.3L138 267.5L138.8 275.1L139 274L139.2 275.2L139.5 278.8L139.8 277.5L140.5 268.9M140.8 263.7L141 263.3L141.2 261.6L141.5 258.1L142.5 270.9L142.8 272.2L143 272.5L143.2 274.6L143.5 274.3L143.8 277.1L144 274.8L144.2 275.4L144.5 272.6L144.8 272.1L145 268.4L145.5 266.9L145.8 264.5L146 264.6L146.2 265L147 268.4L147.8 274.5L148 278.6L148.2 277.4M148.5 283L148.8 284.4L149 283.9L149.2 287.4L149.5 285.4L149.8 286.3L150 288.7L150.2 289.2L150.5 287.9L150.8 288.9M151 284.4L151.8 287.3L152.2 285.9L152.5 289.6L152.8 288.7L153 289.1L153.2 285.4L153.5 285L153.8 281.7L154 283.5L154.5 281.7L154.8 278.6L155 280.2M155.2 274.1L156 266M156.5 256.2L156.8 255.5L157.2 248.5L157.5 249.7L157.8 247.4L158 246.4L158.2 246.7L158.8 249.7L159.2 251.6L159.8 250L160 247.6L160.5 251.3L160.8 250.4L161 251L161.2 254.2L161.5 255.7L161.8 255.9L162.2 260.6L162.5 260.6L162.8 262.1L163 262L163.2 264.1L163.5 261.6L163.8 261.7L164 262.8L164.2 261L164.5 261.6L164.8 264.6L165 261M165.2 267.2L165.5 269.4L166.5 276.8L166.8 276.7L167 279.5L167.2 279.2L167.5 278.4L168 286.4M168.2 281.4L169.2 270.2M170 255.2L170.2 257.4M170.5 252.2L170.8 252.1L171 250.8L171.2 251.3L171.5 253.5L172 252.1L172.2 252.9L173 257.6L173.2 256.4L174 264.2L174.2 265.2L174.5 269L174.8 267.7L175.2 274.6L175.5 276.2L175.8 274.8L176.2 280.8L176.5 278.5L176.8 279L177 278.7M177.5 268.8L177.8 267.3L178.2 265.9L178.8 261.7L179 263.4L179.2 263.6M179.5 258.7L179.8 260.2L180 258.1L180.2 260.8L180.5 260.2L180.8 263.5L181 262.7L181.2 260.6L181.5 260.4L181.8 261.4L182 258.9L182.2 260.3L182.5 260.4L183 255L183.2 256.2L183.5 259.2L183.8 257L184 257.5L184.2 257.6L184.5 258.8M184.8 253.4L185 252.3L185.2 252L185.5 253.7L185.8 252.3L186 247.9L187.8 266.9L188.2 269.8L188.5 269L188.8 270.3L189 273.1L189.2 270.8L189.5 275.1L189.8 273.8L190 273.7L190.2 274.1M190.5 278.9L190.8 275.5L191.2 275.6M191.5 280.4L191.8 278.8L192 278.5L192.2 278.7L192.5 276.2L192.8 278.4L193 275.7L193.2 276.1L193.5 278.7L194.2 277.8L194.5 277L194.8 278.9L195 278.5L195.5 285.2L195.8 282.8L196 282.8L196.5 287.1L197 286L197.5 291.5L197.8 292.6L198 290.1L198.2 293.5L198.8 293.9L199 295.3L199.2 299L199.5 298L200 301.1L200.2 299.5L200.5 300.4L200.8 298.8L201 298.4L201.2 296L201.5 297.1L201.8 295.1L202 296L202.2 293.8L202.5 293.7L203 294L203.5 295.2L203.8 298L204 295L204.2 297.9L204.5 298.3L204.8 299.8L205 298.3L205.2 301.2L205.5 300.1L205.8 299.9L206 300L206.5 301.7L206.8 304.1L207 301.3L207.5 301.5L207.8 301.1L208.2 301.9L208.8 296.5L209 297.3M209.2 292.8L210.8 282.2L211 284.5L211.2 281.4L211.8 282.9L212 280.1L212.2 283.7L212.5 281.9L212.8 281.8L213 285.2L213.2 283.8L213.5 283.9L213.8 283.3L214 285.3L214.2 282.5L214.5 282.7L214.8 281.7L215 282.2L215.2 280.4L215.5 280.9L215.8 280.8L216 280.9L216.2 283.3L216.5 283.1L216.8 284.6L217 285L217.2 287.1L217.5 286.4L217.8 286.6L218 289.1L218.2 288.4L218.5 289.3L218.8 291.6L219.2 289.4L219.8 294L220 292L220.2 293.5L220.5 290.8L220.8 293.6L221 294L221.2 295.1L221.5 294.5L222 296.7L222.2 296.1L222.5 297.4L222.8 295.3L223 298.7L223.2 297.8L223.8 300.2L224 297M224.2 301.7L224.5 297.6L224.8 301.3L225.2 297.2M225.5 302.4L225.8 301.2L226 297.8L226.5 299.8L226.8 299.7L227 301.3L227.5 299.1L227.8 301.2L228.5 297.1L228.8 299.7L229 297.9L229.2 298.1L229.8 296.3L230 295.7L230.2 295.8L230.5 294.8L231.2 287.2L231.5 288.1L232 284.2L232.8 281.3L233 277.7L233.2 279.1L233.5 278L233.8 278.7L234 275.7L234.2 275.9L234.5 272.6L234.8 274.5L235 273.6L235.2 274.2L235.5 274L235.8 278.1L236 275.1L236.2 278.6L237.2 285.5L237.5 288.3L237.8 285.3L238.2 287.8L238.5 287L238.8 283.9L239 286L239.2 286.7L239.5 284L239.8 286.8L240 285.9L240.2 286.2L240.5 285.6L240.8 284.1L241 284.7L241.2 286.7L241.5 286.5L241.8 286.6L242 287.4L242.2 286.9L242.5 287.5L242.8 287.3L243 286.1L243.2 287.2L243.5 285.8L244 287.8L244.2 287.6L244.8 288.3L245.2 289.6L245.5 290.8L245.8 288.5L246.2 290.7L246.5 288.8L247 288.6L247.2 287.4L247.5 283.6L247.8 285L248 284.1L248.2 284.9L248.8 280.9L249 284.1L249.2 284.2L249.5 284.8L249.8 286.1L250 285.8L250.2 288.2L250.5 288.7L250.8 290.9L251 287.8L251.2 291L251.5 291.7L251.8 290.6L252 293.2L252.2 292.9L252.5 293.4L252.8 292L253 292.1L253.2 290.6L253.5 290.6L253.8 289.9L254.5 286.1L254.8 283.1L255.2 281.5L255.5 281.9L255.8 278.6L256 280.3L256.2 278.2L256.5 277.9L256.8 278.2L257 278L257.2 278.8L257.5 276.5L257.8 280.2L258 280.8L258.2 280L258.5 281.5L258.8 281.5L259 285.1L259.2 285.8M259.8 285.6L260 286.3L260.2 286.2L260.5 285.6L260.8 289.1L261 288.6L261.2 290.3L261.5 290.7L262.2 295.5L262.5 298.2L262.8 295L263 298.7L263.2 298.3L263.5 296.7L263.8 300L264 299.6L264.2 301.4L264.5 301.1L265 304.2L265.2 302.9L265.5 305.1L265.8 306L266.2 302.9L266.5 304.4L267.2 296.1L267.5 297.7L267.8 294.5L268 295.3L268.5 289L269 285L269.2 284.6L269.5 284.6L269.8 283.7L270 284.3L270.5 287.7L271 289.6L271.2 293.9L271.5 293.2L271.8 293.7L272 295.1L272.2 293.7L272.5 294.1L272.8 295.1L273 294.8L273.2 293.5L273.5 295.4L273.8 295.3L274 293.9L274.2 294.4L274.5 293.3L274.8 294.3L275 293.4L275.2 294.5L275.5 294.6L275.8 293.1L276 295.4M276.2 291L276.5 289.5L276.8 289.7L277 289.2L277.2 286.4L277.5 286.5L278 281.4L278.2 282L278.5 280.9L279.5 278.7L279.8 277.1L280 279.9L280.5 276.4L280.8 276.7L281.8 266.4L282 264.6L282.2 264.5L282.8 264.6L283.2 269M283.5 275.5L283.8 274.3L284 276.4L284.2 272.6L284.8 271.2L285 269.9L285.2 270L285.5 270.4L286 266.4L286.5 269.4L286.8 272.8L287 271.7L287.2 275L288 280L288.2 280.9L288.5 280.8L288.8 282.8L289.2 284.5L289.5 288.5L290.2 287M290.5 291.8L290.8 292.2L291 290.4L291.5 291.3L291.8 289.3L292.2 291.4L292.5 287.5L293.2 282.6L294.2 279.2L294.8 273.1L295 272.2L295.2 269.3L295.8 271.3L296 267.7L296.2 266.9L296.5 268.9L296.8 268.6L297 265.8L297.2 265.9L297.5 268.8L297.8 268.5L298.2 270.8L298.5 273L298.8 273.4L299.5 282.4L299.8 278.1L300 282.1L300.2 282L300.5 284L300.8 282.3L301 283.8L301.2 281.1L301.5 280.4L301.8 278.1L302 280.7L302.5 280.6L302.8 278.3M303 282.7L303.2 281.5L303.5 283.4L303.8 283.1L304 283.6L304.2 285L304.8 286.5L305 288.3L305.2 288.7L305.5 291.1L305.8 290L306 290.9L306.2 290.7L306.5 290L306.8 290.8L307 291.1L307.2 290.8M307.5 295.3L307.8 292.4L308 293.2L308.2 293.5L308.5 295.1L308.8 293.1L309 292.6L309.2 292.6L309.5 293.7L310 292.1L310.2 290.1L310.8 284.6L312.5 258.2L312.8 257.9M314.2 285.5L314.5 286.5L315 291.1L315.2 289.7L315.5 293.7L316 291.9L316.2 295.1L316.5 294.7L316.8 295.8L317 293.4L317.5 295.5L317.8 292.5L318 292.8L318.2 294.7L318.5 292L318.8 293L319 289.8L319.2 289.7L319.5 290.4L320 286L320.2 285.2L320.5 285.7L320.8 285.3L321.2 288.4L321.5 287.9L321.8 284.8L322 283.7L322.2 283.6L322.8 279.6L323 280.2L323.2 283.7L323.5 282L323.8 285L324 284.8M324.2 289.2L324.5 287.2L324.8 287.2M325 292.6L326 279.5M326.2 272.1L327.2 261.7M327.5 255.7L327.8 257.4L328 257.2M328.2 262.1L328.5 262.8L328.8 264.6L329 262.1M329.2 266.5L329.5 266.7L329.8 265.4L330 266.7L330.2 266.1L331 272.9M331.2 277.6L331.8 280L332.2 285.4L332.8 288.9L333 288.8L333.5 294.6L333.8 296.1L334 296.7L334.2 299.1L334.5 299.8L334.8 302.8L335 300.5L335.2 300.6L335.5 301.7L336 302.6L336.2 300.2L336.8 303.3L337 302.6L337.5 298.3L338 296L338.2 295.5L338.5 295.7L339.8 282.4L340 281.3L340.2 281.7M340.5 276.6L340.8 274.5L341 277.9L341.2 277.6L341.5 278.2L341.8 280.6L342 280L342.2 282.5L342.5 283.1L343 287.9L343.5 289.1L344.2 293.4L344.8 291.9L345 289.8L346 285.5L346.2 283L346.5 282.6L346.8 283.9L347 281.9L347.2 281.9L347.8 280.1L348 279.8L348.2 279.8L348.5 280.3L349 274.3L349.2 276L349.5 273.8L349.8 274L350 272.3L350.2 272.6L350.5 272.6L351 281L351.2 280.3L351.8 287.2L352 285.6L352.2 288.5L353.2 295.8L353.5 295.9L353.8 296.7L354.5 288.4M356 252.7L356.2 252.2L356.5 253.1L356.8 250.7L357 250.1L357.2 250.1L357.5 250.8L358 255L358.2 254.4L358.5 255.7L359 260.3L359.2 260.8L359.8 267L360 267.6L360.2 271.3L360.5 269.6L360.8 268.9L361 269L361.5 262.4M361.8 267.5L362.2 268.7M362.5 274.9L362.8 275L363 277.7L363.2 277.4L363.5 281.4L363.8 281.7L364 281.7M365 263L365.2 260.1L365.5 259.2L365.8 260L366 257.7M366.2 252.2L366.5 253.4L366.8 257.7L367.5 265.1L367.8 263.9M368 268.8L368.2 270.6L368.5 269.9M368.8 277.1L369 275.9L369.2 280.1L369.5 280.5L369.8 281.5L370 283.5L370.2 283.7L370.5 285.6L370.8 285.7L371 287.8L371.2 287.6L371.5 289.2L371.8 287.2L372 289.9L372.2 288L372.5 289.2L372.8 288.2L373 285.6L373.2 286.1L373.5 287.7L373.8 283.8L374 286.1M374.2 280.2L375 275.8L375.2 277.2L375.5 275.3L375.8 279L376 276.7L376.5 281.4L376.8 282.5L377 280.8L377.2 283.1L377.5 282.2L377.8 281.9L378 282.1L378.2 280.1L378.5 280.4L378.8 281.6L379.2 278.5L379.5 279L379.8 281.4L380 281.5L380.2 281.5L380.5 280.9L380.8 282.6L381 282.8L381.2 281.3L381.8 274L382.2 278.6L382.5 276.1L382.8 278L383 278.5L383.2 277.7L384 284.1L384.2 282.6L384.5 283.8L384.8 280.3L385 280.6L385.2 277.8L385.5 277.5L386.5 265.9L386.8 265.7L387 264.8M387.2 259.6L387.5 259.9L388.2 254.8L388.8 254.4L389.2 261.6L390.5 271.7L391.2 281.4L391.5 280L392 285.4L392.5 285.5L392.8 283.4L393 283.3L393.5 276.8M393.8 270.6L394 269.4L395 253.8L395.2 255.3L395.5 254.4M395.8 248.2L396 246.8L396.2 246.6L396.8 252.6M397 259.8L397.2 260.2L397.5 259.4L397.8 260.6L398.2 256L398.5 256L399.8 276.8L400 275.1M400.2 280L400.5 279.6L400.8 283.2L401 283.4L401.2 280.1L401.8 276.4L402 276.5L402.8 269.7L403 268.9L403.2 264.9L403.5 264.1L404.2 257L405 269.3L405.2 270.5L405.5 269.9M405.8 265.3L406 264.6M406.2 255.7L406.5 256.5L406.8 252.2L407 250.4L407.2 252.7M407.8 243.6L408 247.4M408.2 242.4L408.5 243.2L409 238.8M409.2 244.5L409.5 244.8L410 250.8L410.2 250L410.5 245.7L410.8 248.8L411 247.7L411.2 247.6L411.5 247.8L412 243.5L412.2 244.2L412.5 242.4L412.8 243.6L413 240.8M413.2 246.3L413.5 244L413.8 244.3L414.2 248.7L414.5 249.9L414.8 250.1L415 250.9L415.2 250.4L415.5 248.2L416 241.4L416.2 241.5L416.8 237.6M417 231L417.5 238.7L417.8 239.3L418 239.4L418.5 247.8L418.8 248.6L419.5 257.4L419.8 258.4L420 261.4L420.2 261.7L420.8 265.3L421.8 252.9L422 252.5L422.2 255.2M422.5 250.3L423 254.4L423.2 258.2L423.8 261.7L424 260M424.5 269.5L425 275.2L425.5 278.9L425.8 280.1L426 280.5L426.5 284.7L426.8 285.1L427.5 293.7L427.8 293.7L428.5 295.2L428.8 298.1L429 299L429.8 293.5M430.2 282.5L431 274.3M431.2 265.9L431.5 263.9L432.2 260.2L432.5 256.2L433 257M433.2 261.6L433.5 260L433.8 262.9M434.8 242.6L435.5 239.4M436.2 253.2L436.8 255.2L437 251.5L437.2 252.2L437.5 251.3L438 243.9L438.2 244.5L439 235.2L439.2 237.2M440 251.5L440.5 257.4L440.8 256.8L441.2 260.7L441.5 260.6L441.8 261L442.8 252.3M443.2 239.1L443.8 232.3L444 232.6L444.2 232.3L445.2 246.1L445.5 247.4L445.8 251L446.2 253.3M447 234L447.2 232.6L448 222.1M448.2 228.8L448.8 231.8L450 249.9L450.2 252.1L450.5 252L451.5 263.4L451.8 261.4L452.2 265.2L452.5 264.5L453.8 273.9L454.8 262.8M455.2 251.7L455.5 252.3M455.8 244.4L456.8 235.8L457 234.5L457.2 234.3L457.5 232.2L457.8 233.4L458 229.6L458.2 229.1M458.5 236.5L459 234.7L460.5 211.6L461 218.7M461.2 225.5L461.5 226.5M461.8 231.2L462 231.3L462.2 233.5M462.8 244.1L463 245.2L464 253.2M464.2 259.3L464.5 256L465 261.7L465.2 258.9L465.8 261.5L466 261L466.8 254.4L467 255.2L467.2 254.4L467.5 250.4L467.8 251.3L468 247.2L468.2 247.1L469 243.2L469.2 242.9L469.8 239.5L471 247.3L471.2 249.8L471.5 249.9L472 257.8L472.5 261.2L473.2 269.8L474 274.5L474.2 278.7L474.5 279.7L474.8 283.4" fill="none" stroke="#ff0000" stroke-width="1.35" stroke-linejoin="round" stroke-linecap="round"/>
<path d="M25.2 274L25.5 279.3M25.8 277.4L26.2 288.4M31.2 290.3L31.5 285.9M33.2 260.2L33.5 265.4M34 244.4L35 268.6M37.2 275.5L37.8 287.3M42.2 284.4L42.5 278.9M42.8 285.3L43.2 273.2M45.5 267.5L46 276.8M48.5 282.5L48.8 287.3M49 288.4L49.5 278.6M50.5 242.4L50.8 236.9M51 239.1L51.2 233.1M51.2 233.1L51.5 239M51.8 237.9L52 242.9M54.2 248.3L54.5 243.9M55.5 253.9L55.8 258.4M57 264.3L57.8 278.6M60.8 283.6L61.5 298.5M62.8 273.3L63 267.9M65.8 286.8L66.2 295.6M72.8 271.6L73.2 282.3M74 277.4L74.8 260.9M75.8 253.6L76 248.3M77.2 250.5L77.5 256.1M81.5 277.2L82.5 259.4M86 293.1L86.2 287.3M86.5 288.4L86.8 283.9M89.8 276.7L90.2 285.4M93.5 267.7L93.8 262.7M99.2 283.7L99.5 277.9M115.5 260.4L116.2 275.6M116.8 279.6L117 284.6M124.8 269.5L125 274.1M126 279.1L126.2 283.4M128.8 287.4L129 282.2M131 256.5L131.2 262.5M134 257.3L134.2 262.6M140.5 268.9L140.8 263.7M148.2 277.4L148.5 283M150.8 288.9L151 284.4M156 266L156.5 256.2M168 286.4L168.2 281.4M169.2 270.2L170 255.2M170.2 257.4L170.5 252.2M177 278.7L177.5 268.8M179.2 263.6L179.5 258.7M184.5 258.8L184.8 253.4M190.2 274.1L190.5 278.9M191.2 275.6L191.5 280.4M209 297.3L209.2 292.8M224 297L224.2 301.7M225.2 297.2L225.5 302.4M259.2 285.8L259.5 281.2M259.5 281.2L259.8 285.6M276 295.4L276.2 291M290.2 287L290.5 291.8M302.8 278.3L303 282.7M307.2 290.8L307.5 295.3M312.8 257.9L314.2 285.5M324 284.8L324.2 289.2M324.8 287.2L325 292.6M327.2 261.7L327.5 255.7M328 257.2L328.2 262.1M329 262.1L329.2 266.5M331 272.9L331.2 277.6M340.2 281.7L340.5 276.6M354.5 288.4L354.8 283.8M354.8 283.8L355.8 262.5M361.5 262.4L361.8 267.5M364 281.7L365 263M366 257.7L366.2 252.2M367.8 263.9L368 268.8M374 286.1L374.2 280.2M387 264.8L387.2 259.6M400 275.1L400.2 280M405.5 269.9L405.8 265.3M407.2 252.7L407.8 243.6M408 247.4L408.2 242.4M409 238.8L409.2 244.5M413 240.8L413.2 246.3M422.2 255.2L422.5 250.3M424 260L424.5 269.5M429.8 293.5L430.2 282.5M433 257L433.2 261.6M433.8 262.9L434.8 242.6M435.5 239.4L436.2 253.2M439.2 237.2L440 251.5M454.8 262.8L455.2 251.7M461.5 226.5L461.8 231.2M462.2 233.5L462.8 244.1" fill="none" stroke="#ff0000" stroke-width="1.2" stroke-linecap="round" stroke-dasharray="0 1"/>
<path d="M26.5 288.1L26.8 296M28 283.5L28.2 275.1M28.5 276.3L28.8 268.8M31 282L31.2 290.3M32.2 289.8L32.5 281.5M37.8 287.3L38 280.2M39.8 294L40 301.4M41.5 276.3L41.8 282.6M42.5 278.9L42.8 285.3M47.8 276.8L48 283.4M50 256.7L50.5 242.4M52.8 248.9L53 256.3M53.5 256.4L54 244.1M54.5 243.9L54.8 251M56.2 258.8L56.5 265.1M59 284.7L59.2 292.1M59.5 294.3L59.8 287.3M61.5 298.5L62.2 276.4M63.2 267.7L63.5 261.5M69.5 286.4L70.2 267.7M71.5 279L71.8 272M75.2 262.2L75.5 255.2M80.2 290.5L80.5 297.9M81 293.9L81.5 277.2M82.5 259.4L83 272.4M84.5 272.9L85 286.3M89.2 268.7L89.5 277M94 261.5L95 290M112 286.1L112.2 278.4M112.8 273.9L113.5 253.8M129.2 280L129.5 271.9M134.5 263.6L134.8 270.4M155 280.2L155.2 274.1M165 261L165.2 267.2M283.2 269L283.5 275.5M326 279.5L326.2 272.1M362.2 268.7L362.5 274.9M368.5 269.9L368.8 277.1M393.5 276.8L393.8 270.6M395.5 254.4L395.8 248.2M396.8 252.6L397 259.8M416.8 237.6L417 231M431 274.3L431.2 265.9M442.8 252.3L443.2 239.1M446.2 253.3L447 234M448 222.1L448.2 228.8M455.5 252.3L455.8 244.4M458.2 229.1L458.5 236.5M461 218.7L461.2 225.5M464 253.2L464.2 259.3" fill="none" stroke="#ff0000" stroke-width="1.2" stroke-linecap="round" stroke-dasharray="0 1.5"/>
<path d="M32.8 281L33.2 260.2M33.5 265.4L34 244.4M38.2 280.1L38.5 290M40.5 304L41.2 274.2M44 277.2L44.2 267.8M49.5 278.6L50 256.7M72 275.3L72.2 264.5M85.2 285.1L85.5 294.6M128.5 296.9L128.8 287.4M355.8 262.5L356 252.7M406 264.6L406.2 255.7" fill="none" stroke="#ff0000" stroke-width="1.2" stroke-linecap="round" stroke-dasharray="0 2"/>
<path d="M27.5 294.3L27.8 283.2" fill="none" stroke="#ff0000" stroke-width="1.2" stroke-linecap="round" stroke-dasharray="0 2.5"/>
</g>
<rect x="24.5" y="192.5" width="450.3" height="149.8" fill="none" stroke="#8a8a8a" stroke-width="0.75"/>
<text x="24.5" y="352.1" text-anchor="middle" font-size="8.8" font-family="Liberation Sans, Arial, Helvetica, sans-serif" fill="#111">Jan</text>
<text x="62.7" y="352.1" text-anchor="middle" font-size="8.8" font-family="Liberation Sans, Arial, Helvetica, sans-serif" fill="#111">Feb</text>
<text x="97.3" y="352.1" text-anchor="middle" font-size="8.8" font-family="Liberation Sans, Arial, Helvetica, sans-serif" fill="#111">Mar</text>
<text x="135.5" y="352.1" text-anchor="middle" font-size="8.8" font-family="Liberation Sans, Arial, Helvetica, sans-serif" fill="#111">Apr</text>
<text x="172.5" y="352.1" text-anchor="middle" font-size="8.8" font-family="Liberation Sans, Arial, Helvetica, sans-serif" fill="#111">May</text>
<text x="210.8" y="352.1" text-anchor="middle" font-size="8.8" font-family="Liberation Sans, Arial, Helvetica, sans-serif" fill="#111">Jun</text>
<text x="247.8" y="352.1" text-anchor="middle" font-size="8.8" font-family="Liberation Sans, Arial, Helvetica, sans-serif" fill="#111">Jul</text>
<text x="286" y="352.1" text-anchor="middle" font-size="8.8" font-family="Liberation Sans, Arial, Helvetica, sans-serif" fill="#111">Aug</text>
<text x="324.3" y="352.1" text-anchor="middle" font-size="8.8" font-family="Liberation Sans, Arial, Helvetica, sans-serif" fill="#111">Sep</text>
<text x="361.3" y="352.1" text-anchor="middle" font-size="8.8" font-family="Liberation Sans, Arial, Helvetica, sans-serif" fill="#111">Oct</text>
<text x="399.5" y="352.1" text-anchor="middle" font-size="8.8" font-family="Liberation Sans, Arial, Helvetica, sans-serif" fill="#111">Nov</text>
<text x="436.6" y="352.1" text-anchor="middle" font-size="8.8" font-family="Liberation Sans, Arial, Helvetica, sans-serif" fill="#111">Dec</text>
<text x="23.5" y="345.1" text-anchor="end" font-size="8.8" font-family="Liberation Sans, Arial, Helvetica, sans-serif" fill="#111">0</text>
<text x="23.5" y="317.9" text-anchor="end" font-size="8.8" font-family="Liberation Sans, Arial, Helvetica, sans-serif" fill="#111">1</text>
<text x="23.5" y="290.6" text-anchor="end" font-size="8.8" font-family="Liberation Sans, Arial, Helvetica, sans-serif" fill="#111">2</text>
<text x="23.5" y="263.4" text-anchor="end" font-size="8.8" font-family="Liberation Sans, Arial, Helvetica, sans-serif" fill="#111">3</text>
<text x="23.5" y="236.2" text-anchor="end" font-size="8.8" font-family="Liberation Sans, Arial, Helvetica, sans-serif" fill="#111">4</text>
<text x="23.5" y="208.9" text-anchor="end" font-size="8.8" font-family="Liberation Sans, Arial, Helvetica, sans-serif" fill="#111">5</text>
<path d="M24.5 342.3v-3.6M24.5 192.5v3.6M62.7 342.3v-3.6M62.7 192.5v3.6M97.3 342.3v-3.6M97.3 192.5v3.6M135.5 342.3v-3.6M135.5 192.5v3.6M172.5 342.3v-3.6M172.5 192.5v3.6M210.8 342.3v-3.6M210.8 192.5v3.6M247.8 342.3v-3.6M247.8 192.5v3.6M286 342.3v-3.6M286 192.5v3.6M324.3 342.3v-3.6M324.3 192.5v3.6M361.3 342.3v-3.6M361.3 192.5v3.6M399.5 342.3v-3.6M399.5 192.5v3.6M436.6 342.3v-3.6M436.6 192.5v3.6M474.8 328.7h-2.2M24.5 328.7h1.6M24.5 315.1h3.6M474.8 315.1h-3.6M474.8 301.4h-2.2M24.5 301.4h1.6M24.5 287.8h3.6M474.8 287.8h-3.6M474.8 274.2h-2.2M24.5 274.2h1.6M24.5 260.6h3.6M474.8 260.6h-3.6M474.8 247h-2.2M24.5 247h1.6M24.5 233.4h3.6M474.8 233.4h-3.6M474.8 219.7h-2.2M24.5 219.7h1.6M24.5 206.1h3.6M474.8 206.1h-3.6" stroke="#8a8a8a" stroke-width="0.75" fill="none"/>
<text x="250" y="360.5" text-anchor="middle" font-size="8.2" font-family="Liberation Sans, Arial, Helvetica, sans-serif" fill="#111">Time(20150101-20151231)</text>
<text transform="translate(14.3 267.8) rotate(-90)" text-anchor="middle" font-size="8.8" font-family="Liberation Sans, Arial, Helvetica, sans-serif" fill="#111">swh/m</text>
<rect x="27.0" y="307.8" width="63.8" height="32.19999999999999" fill="#fff" stroke="#8a8a8a" stroke-width="0.75"/>
<circle cx="35.5" cy="313.9" r="0.75" fill="#00f"/>
<path d="M29.3 324.3H41.8" stroke="#000" stroke-width="0.4"/><circle cx="35.5" cy="324.3" r="0.75" fill="#000"/>
<path d="M29.3 334.8H41.8" stroke="#f00" stroke-width="0.4"/><circle cx="35.5" cy="334.8" r="0.75" fill="#f00"/>
<text x="43.2" y="316.8" font-size="8.2" font-family="Liberation Sans, Arial, Helvetica, sans-serif" fill="#111">NDBC51002</text>
<text x="43.2" y="327.2" font-size="8.2" font-family="Liberation Sans, Arial, Helvetica, sans-serif" fill="#111">WW3</text>
<text x="43.2" y="337.7" font-size="8.2" font-family="Liberation Sans, Arial, Helvetica, sans-serif" fill="#111">EnOI</text>
</g>
<g>
<clipPath id="c2"><rect x="24.5" y="375.9" width="450.8" height="151.0"/></clipPath>
<g clip-path="url(#c2)">
<path d="m24.5 481.1h0m.1-2.1h0m.1-2.7h0m0-3.8h0m.1 2h0m.1-3.4h0m0 2.1h0m.1 1.9h0m0-2h0m.1 2.5h0m.1 .7h0m.1-1h0m.1-2.8h0m0 1.4h0m.2-2.7h0m0 4.6h0m.1-3h0m0 2.7h0m.1-.8h0m0 1.9h0m.1-.5h0m0-.8h0m.1 1.9h0m0-2.9h0m.1 1.3h0m0-.5h0m.1 1.8h0m0 1.2h0m.1-1.5h0m.1-1.9h0m.1-1.7h0m0 2h0m.1-2.4h0m0 1.3h0m.1 2.3h0m0-4.2h0m.1 1.7h0m0-4.8h0m.1 1.8h0m0 1.5h0m.2-2.7h0m.1-2.1h0m0 4.4h0m.1-1.4h0m0 .9h0m.1 2.4h0m0-2h0m.1 3.2h0m0 1.7h0m.1-.6h0m0-.9h0m.1-.5h0m.1 2h0m0-1.3h0m.1 .6h0m.1 1.9h0m0-2.1h0m.1 1.8h0m.1 3.4h0m.1 2.9h0m0-1.5h0m.1 1.5h0m.1-1.3h0m0 3.7h0m.1-1.6h0m0-1.7h0m.1-2.2h0m.1-2h0m0 6.2h0m.1-4.7h0m0 1.5h0m.1 3.2h0m0 1.9h0m.1-5.3h0m0 6.4h0m.1-6.6h0m.1 6.8h0m.1-6.9h0m0 3.2h0m.1-1.3h0m0-1.3h0m.1 .5h0m0 1.2h0m.1 1.7h0m0-2.2h0m.1-.6h0m0 2.2h0m.1-3.6h0m.1 1.3h0m.1 1.8h0m0 2h0m.1-5.5h0m0 2.1h0m.1-2.9h0m0 4.1h0m.1-4h0m0 5.3h0m.1-4.9h0m.1 .9h0m0 2.6h0m.1-4.5h0m.1 .6h0m0 2.1h0m.1 2.7h0m.1 2.1h0m0 3.4h0m.1-1.9h0m.1-3.8h0m0 1.1h0m.1-2.5h0m.1 2.4h0m.1-3.3h0m0 3h0m.1-3.6h0m0 3.4h0m.1-2.7h0m0 1.8h0m.1 2.1h0m.1-1.1h0m0 2.1h0m.1-3h0m.1 4.9h0m0-7.3h0m.1-1.7h0m0 1h0m.2-2h0m.1 2h0m.1-.7h0m.1 1.4h0m0-3h0m.1-1.3h0m0-2.7h0m.1 1.2h0m0 2.6h0m.1-1.5h0m0-3h0m.1 2h0m.1-1.3h0m0-3.1h0m.2 4.2h0m.1-2.7h0m0-3h0m.1 .5h0m.1-1h0m.2-3.4h0m0 1.1h0m.1 .9h0m.1-1h0m0-1.3h0m.1 5.7h0m0-.5h0m.2 3.8h0m0 .6h0m.1-4.4h0m0 1.6h0m.1-1h0m0 1.1h0m.1-.6h0m0 2.8h0m.1-2.2h0m0-1.3h0m.1-.6h0m0 3.4h0m.1-1.3h0m0 1h0m.1 3.1h0m.1 .7h0m0-2.2h0m.1 1.7h0m0 .6h0m.1-.6h0m.1 2.9h0m.1 1.1h0m0-3.1h0m.1 3.6h0m0-1.8h0m.1-1.5h0m.1 4.8h0m.1-.5h0m.1-1.4h0m.1 3.4h0m0-4.1h0m.1 5.4h0m0-3.9h0m.2-2.1h0m.1-.9h0m.1 3.4h0m.1-1.7h0m0-.6h0m.1-1.6h0m0 3.9h0m.1-3.8h0m.1 1.3h0m0-4h0m.1 1.6h0m0 2.9h0m.2-1.4h0m.2-2.1h0m0-2h0m.1 1.3h0m.1 .7h0m0 1.2h0m.1-.9h0m0-3.7h0m.1 2.8h0m0-3.4h0m.2 6.9h0m0-5.9h0m.1 3.8h0m0-1.7h0m.1-2.7h0m0 4.7h0m.1-1.2h0m0 1h0m.1-1.9h0m0-1.4h0m.1 2.1h0m0-2.5h0m.1-1.3h0m0-.8h0m.1-4.3h0m0 2.9h0m.1 4.7h0m.2-1.6h0m0 5.5h0m.1-2h0m0 2.2h0m.1-1.5h0m0-3h0m.1 1.2h0m.1-2.5h0m.1 1.7h0m0-1.5h0m.1-2.1h0m.1 2.8h0m.1 1.9h0m0-3.6h0m.1-.9h0m0 2.3h0m.1-2.5h0m.1 2.3h0m.1 .8h0m0 3.2h0m.1-2.6h0m0-1.2h0m.1 3.3h0m.1-1h0m.1-1.8h0m0 .8h0m.1 2.6h0m0-5.2h0m.1 5.9h0m.1-2.9h0m.1 1.8h0m0 1.3h0m.1 3.9h0m0-5h0m.1-1.3h0m0 4h0m.1-2.3h0m0 2.7h0m.1-.8h0m0 1.4h0m.1-2h0m.1-3.1h0m.1 2.8h0m0 3.2h0m.1-2.3h0m0 2.3h0m.1-1.8h0m0 2.2h0m.1-1.5h0m0 2.7h0m.1-3.1h0m.2-.9h0m.2 1.4h0m0 3.1h0m.1-2.6h0m.1 2.3h0m.1 .8h0m0 .6h0m.1 1.5h0m0-3h0m.1 .9h0m0 1.6h0m.1-.6h0m.1 2.4h0m0-1.6h0m.1 3.7h0m.1-2.6h0m.1 .7h0m0 2.8h0m.1-3.1h0m.1 4.2h0m0-3.1h0m.1-.6h0m0 2.8h0m.1-.6h0m0 .9h0m.1-.9h0m.1 1.9h0m0 2.1h0m.1-.9h0m0-1.9h0m.1-1h0m.1 2.7h0m.1-2.8h0m0 3.5h0m.1-2.9h0m.1 3.5h0m.2 4.1h0m0-1.7h0m.1 1.6h0m0-.8h0m.1-2.7h0m0 2.1h0m.1-4.4h0m.1 6.6h0m0 1.9h0m.1-4.3h0m0-2.9h0m.1 4h0m.1-2.3h0m0 2h0m.1-1.9h0m.1-2.1h0m0 4.7h0m.2-3.1h0m0 2.6h0m.1 3h0m.1-1.5h0m0 2h0m.2 3.4h0m0-2.2h0m.1-2.1h0m0-1.3h0m.1 1.6h0m0 .6h0m.1-1.1h0m0 .7h0m.1 3.6h0m.1 3h0m.1-2.7h0m0-5.3h0m.1 2.8h0m.1 3.7h0m0-2.7h0m.1-1.7h0m0-1.9h0m.1 4.7h0m.2 2.6h0m0-2.9h0m.1-1.7h0m0 2.4h0m.1 1.8h0m0-2h0m.1-.6h0m0-1.2h0m.1-.5h0m0 1h0m.1-3.2h0m.1 3.8h0m0 .8h0m.1 .6h0m.1-1.8h0m0-1.3h0m.1-1.4h0m0-.8h0m.1 4.1h0m0-3.7h0m.1 3.1h0m0-5.1h0m.1 2.6h0m.1-2.7h0m0 3.5h0m.1-.7h0m.1 1.5h0m0 .8h0m.1-1.7h0m.1 .6h0m0 .6h0m.1-4.5h0m0 3.5h0m.1 1.4h0m0-1.7h0m.1-1.5h0m0 .8h0m.1 4.1h0m.1-3.2h0m0-1h0m.1 5.3h0m.1-5.5h0m0-.6h0m.1 1.3h0m.1-.6h0m0-3.9h0m.1 2.5h0m0 1.9h0m.1 1.4h0m0-2.9h0m.1 2.2h0m0-2.3h0m.1 2.7h0m0-2.4h0m.1 2.8h0m.1-3.3h0m0 3.1h0m.1 2h0m0 .5h0m.1 .5h0m0-3.1h0m.1 2.6h0m.1-3.8h0m0-1.2h0m.1 3h0m0 1.4h0m.1 .7h0m.1 2.9h0m0-4.2h0m.1-1.4h0m.1 1.9h0m0 .9h0m.2 .7h0m0-.7h0m.1 1.6h0m0-1.3h0m.1-3.8h0m0 1.8h0m.1-1.7h0m0 .9h0m.2-.6h0m.1-1.4h0m.1-.7h0m0 4.8h0m.1-5.7h0m.1 4.1h0m0-5h0m.1 3.4h0m0-1.6h0m.1 1.3h0m0-3.6h0m.1-1.2h0m.1-.6h0m0-2.9h0m.1-1.4h0m.1 .9h0m0-1.5h0m.1 4.1h0m0 2.2h0m.1-4.9h0m.1-5h0m.1 3.9h0m0-.9h0m.1-2.6h0m0-.8h0m.1-2h0m.1 .6h0m.1-3.4h0m0 3.9h0m.1-2.4h0m.1 .9h0m.1 2.1h0m.1 1h0m0-1.4h0m.1-1.4h0m0-5.9h0m.1 4.6h0m0-3.8h0m.1-1.4h0m.1 3h0m0-3.9h0m.1-.7h0m0 1.6h0m.1-5.3h0m0 2.2h0m.1-6.2h0m0 5.8h0m.2-3.8h0m0 2.8h0m.1-1h0m.1 .7h0m.1-.5h0m.1 .8h0m.1 1.3h0m0-.6h0m.1 1.7h0m0 .9h0m.1 2.1h0m.1-3.1h0m.1 4.3h0m.1 .6h0m.1-5.5h0m.1-2.1h0m0 4.3h0m.1-3.2h0m0 .8h0m.1 .5h0m.1-.6h0m0 1.6h0m.1-2.2h0m.1 1.1h0m.1-1.8h0m0-1.1h0m.1 2.1h0m.1 .9h0m.1-1.2h0m.1-.9h0m.1 2.6h0m0-2.8h0m.1 .6h0m.1-2.5h0m0 1.5h0m.1 2.1h0m.1-.7h0m.1 1h0m0-3.5h0m.1 3.2h0m0-2.1h0m.1 1h0m0-4.4h0m.1-1.2h0m.1 4.9h0m0-.6h0m.1-.8h0m.1 1.1h0m0-1.3h0m.1-1.6h0m0 1.7h0m.1-1.2h0m.1-1.6h0m0-1.8h0m.1 1.5h0m0-1h0m.1 2.9h0m0-4.2h0m.1 3.4h0m0 2.8h0m.1-7h0m0 5.2h0m.1-3.6h0m0 1h0m.1-2.7h0m.1 1.1h0m.1 2.5h0m.1-1.6h0m0 4h0m.1-4.1h0m0 2.9h0m.1-1h0m0-.9h0m.1 3.4h0m0-3.9h0m.1 4h0m0-2.6h0m.1-2.3h0m0 1.7h0m.1 2.3h0m0 2.8h0m.1-2.6h0m0 1.2h0m.1 2.6h0m.1-3.3h0m0 3.5h0m.1-1.7h0m0 1.8h0m.1-5.1h0m0 2.5h0m.1-.5h0m0 2.6h0m.1-1.5h0m0-4.6h0m.1 5.2h0m0-.8h0m.1 3.2h0m0-2.4h0m.1 4.4h0m0-1.2h0m.1-2.4h0m0 1.1h0m.1-3.7h0m0 5h0m.3-.5h0m0 .9h0m.1-1.3h0m0 1.2h0m.1-.8h0m0 4.2h0m.1-7.7h0m0 2.8h0m.1-.6h0m0-.7h0m.2 2h0m0-1.4h0m.1-2.2h0m.1 3.6h0m0-2.8h0m.1-1.8h0m.1 3.1h0m0-3.5h0m.1 1.6h0m.1-1.3h0m0-1.4h0m.1 .7h0m0 .6h0m.1-1.6h0m0 1h0m.1-2.5h0m.1-1h0m0-4.8h0m.1 4.6h0m0-1.8h0m.1 1.5h0m0-2.2h0m.1 1.2h0m0 1.2h0m.1-3.1h0m0 4.9h0m.1-4.5h0m.1 .9h0m.1-1.8h0m.1-2.9h0m.1 4.1h0m.1-3.5h0m0-2.2h0m.1 4h0m0-3.2h0m.1-1.6h0m.1-2.5h0m0 2.8h0m.1 3h0m.1-1.9h0m0-.7h0m.1 3h0m0-4.6h0m.1 1.2h0m0 2.8h0m.1-1.7h0m.1 2.6h0m0 .6h0m.1-1.9h0m0-1h0m.1 1.5h0m.1 2.8h0m0-2.5h0m.1 5.1h0m.1-1.2h0m.1-2h0m0 4.2h0m.4 .6h0m.1 5.1h0m.1-1.7h0m.1 4.7h0m.1 2.8h0m.1-1.9h0m0-3.8h0m.1 1.3h0m0 3h0m.1 2.7h0m0 .5h0m.1 1.1h0m.1 .9h0m0 1.6h0m.1-4.2h0m.1 .7h0m.1-1.9h0m.1 2.7h0m0 4h0m.1-1.3h0m0-1h0m.3 5.1h0m.1-1h0m0 3.4h0m.1-5h0m0-.5h0m.1 2.2h0m.1 2.4h0m.1-.7h0m0 1.1h0m.1-2h0m0-.5h0m.1 .7h0m.1 1.1h0m.1-.6h0m0 1.6h0m.1-2.4h0m0-1.1h0m.1 2.7h0m.1 4.3h0m.1-2.6h0m0-.8h0m.1 1.8h0m.1-2.8h0m.1-.7h0m.1-1.6h0m.1-.8h0m.1-3.6h0m.1-.9h0m.1-1.7h0m0 2h0m.1-3.1h0m0-2.2h0m.1 .5h0m.1 .5h0m0-4.2h0m.1 4.6h0m0-1.3h0m.1-3.5h0m0 1.4h0m.1-1.2h0m0 .8h0m.1-3.3h0m0 2.9h0m.1-1.4h0m0-3.1h0m.1 2.9h0m0-1.1h0m.1 1.3h0m0 2.8h0m.1-3h0m.1-6.3h0m0 1.7h0m.1-2.9h0m0 2.5h0m.1 1.2h0m.2 .9h0m0 2.1h0m.1-.7h0m.1-2.5h0m.1 3.3h0m.1 .7h0m.1-2.8h0m.1 3.1h0m0-2.7h0m.1 3.2h0m0-3.5h0m.1-1.4h0m0 2.1h0m.1-1.4h0m0 1.8h0m.1 2.7h0m0-4h0m.1 4.8h0m0-3.6h0m.1-.9h0m0 6.9h0m.2-2.5h0m0 2.4h0m.1 1.7h0m0-2.1h0m.1-1.5h0m.1 1h0m.1 2.7h0m.2 1.8h0m0-.9h0m.1 2.5h0m.1 .8h0m.1 .5h0m0-4.6h0m.1 1.9h0m0-.6h0m.1 .7h0m0-3.2h0m.1 2.2h0m0 1.6h0m.1-2h0m0-.8h0m.1 1.9h0m0-1.2h0m.1 3.4h0m0-7.1h0m.2 4.4h0m.1-1.7h0m0-2.5h0m.1 5.3h0m0-.8h0m.1-2.3h0m0 3h0m.1-3.8h0m.1-1.2h0m0 3.1h0m.1-2.8h0m0-.6h0m.1 1.6h0m0 .8h0m.1-2.4h0m0-.9h0m.1-3.4h0m0 3.2h0m.1-2.6h0m0 3.1h0m.1 .8h0m.1 1.5h0m0-2.7h0m.1-.5h0m0-3.5h0m.1 2.8h0m0 1.9h0m.1-1.3h0m.1 3.4h0m0-1h0m.1-1.9h0m.1 1.1h0m0-1.5h0m.1-1.7h0m0 1.8h0m.1 1.1h0m0 1.4h0m.1 2.8h0m0-6.4h0m.2 8.3h0m0-2.3h0m.1 1.3h0m0-2.2h0m.1 4.8h0m.1-5.8h0m.1-1.7h0m.1 3.3h0m.1 2.7h0m.1-2.7h0m0-1.4h0m.1 5h0m0-3.2h0m.1 1.8h0m.2-1h0m.1-5.2h0m.1 1.6h0m0 2.6h0m.1-3h0m0-1.3h0m.1-2.1h0m0-2.1h0m.1 1.5h0m0-2.2h0m.1 2.9h0m.1-1.4h0m.1 1h0m.1-.7h0m.1-1.3h0m0 3.2h0m.1-.6h0m.1 4.2h0m0-2.3h0m.1-1.6h0m0 1.3h0m.1 2.1h0m0-1.3h0m.1 2.1h0m0-.6h0m.1-3h0m.1 3.2h0m.1 2.7h0m0 1.6h0m.1-.9h0m.1-1.5h0m.1-5.3h0m.1 3.6h0m0-2.1h0m.1 2.5h0m0-1.5h0m.2 .6h0m.1 2.7h0m.1-5.2h0m0 1.4h0m.1 .6h0m0 4.1h0m.1-5.7h0m0 .8h0m.1-2.7h0m0-.9h0m.1-.9h0m0 4.8h0m.1 2.4h0m.1-3.9h0m0-4.1h0m.1 1.7h0m0-2.3h0m.1 1.7h0m.1-1.4h0m0-2.9h0m.1 .5h0m0 7.1h0m.1-2.4h0m0-.9h0m.1 1h0m.1 3.8h0m0-3.5h0m.1-2.8h0m0 3h0m.1-2.4h0m0-3.3h0m.1-.6h0m.1 2.6h0m0-3.9h0m.2 .9h0m0-5.5h0m.1 1.6h0m0-1.7h0m.1 2.9h0m0 .7h0m.1-1.3h0m0-4.9h0m.1 4.5h0m0-2.7h0m.1-3.5h0m0 1.4h0m.1-1.4h0m.1 1.5h0m0-3.3h0m.1 3.9h0m0-.5h0m.1-3.6h0m0 2.5h0m.1 1.9h0m.1-2.7h0m.1 1.6h0m0-4.5h0m.1 .7h0m0 1.1h0m.1-2.1h0m0-2h0m.1-1.3h0m.1 3.8h0m0-1.8h0m.1-1.3h0m0-1.6h0m.1-1.8h0m.1 3.3h0m.1 2.2h0m.2 4.4h0m0-5.4h0m.1-1.3h0m.1 2.4h0m.1-4.4h0m0 1.7h0m.1 2.7h0m0-2.7h0m.1-1.5h0m0 3.5h0m.2 1.5h0m.1 2h0m0-2.6h0m.1 .7h0m0-1h0m.1-2.2h0m0 8.9h0m.1-3.4h0m.1 2.9h0m0-2.5h0m.1 4.5h0m0-2.1h0m.1-5.2h0m.1 4.7h0m0 1.9h0m.1-3.2h0m0-.7h0m.1-1.5h0m.1 6.3h0m0-2.2h0m.1 1.9h0m0 .6h0m.1 1h0m.1-1.6h0m.1 2h0m0-2h0m.1 4h0m0 3.9h0m.1-1.2h0m0-1.4h0m.1 2.4h0m.1 3.4h0m0-5.6h0m.1 .8h0m0 3.8h0m.1-.7h0m.1 1.4h0m0 .9h0m.1 5.8h0m.1-2h0m.1 5.6h0m0-4.2h0m.1 2h0m.1-.8h0m.1 4.5h0m.1-2.7h0m.1 1.3h0m.1 .7h0m.1 2.3h0m.1-1.3h0m.2 5.4h0m.1-4.9h0m.1 1.5h0m0-2.1h0m.1 2.3h0m0-1.3h0m.1 3h0m0 2.4h0m.2-3h0m.1 3.6h0m0 .8h0m.1 2.5h0m.1-1.2h0m0 4.5h0m.1-.8h0m0-.6h0m.1-1.4h0m0 .7h0m.1-3.6h0m.1 1.7h0m.1-3.2h0m0-1.8h0m.1 4.5h0m.1-.8h0m0-3.1h0m.1 3.3h0m0 1.2h0m.1-1.2h0m.1-3.9h0m.1-3.2h0m0 2.4h0m.1 1h0m0-3.9h0m.1 4.5h0m0-2.6h0m.1 4.7h0m.1-4.7h0m.1 2.2h0m0-6.5h0m.1 2.7h0m0-5.7h0m.1 .8h0m0 3.4h0m.1-5.7h0m0 1.2h0m.1-2.5h0m0 4.7h0m.1-4.4h0m0 2.1h0m.1 1.6h0m.1-3.1h0m0-.6h0m.1 3.8h0m0-5.7h0m.1 2.1h0m0 1.9h0m.2-3.3h0m.1-2.3h0m.1 6.2h0m0-1.3h0m.1-1.4h0m0 1.8h0m.1 .5h0m0 2.3h0m.1 .7h0m0-4.2h0m.1-1.8h0m.1 5.2h0m.1-4.3h0m0 1h0m.1-1.4h0m.1 1.7h0m0 .7h0m.1-.7h0m0 .9h0m.1-3.2h0m0 4.3h0m.1 2.5h0m0-.7h0m.1-2.9h0m0 1.6h0m.1 1.5h0m0-2.4h0m.1-.8h0m0 2h0m.1-1.4h0m0 2.4h0m.1 1.8h0m0-2.4h0m.1 .8h0m.1 4h0m.1-.6h0m0 .6h0m.1-1.7h0m0 2.2h0m.1 1.2h0m0-3.3h0m.1 3.3h0m0 .8h0m.1-1.7h0m.1-3.3h0m.1 2.9h0m0 4.2h0m.1-1.4h0m0 .7h0m.1 .9h0m0-2.5h0m.1 .6h0m0-4.1h0m.1-1.1h0m.1 2.1h0m.1-1.7h0m0-.9h0m.1-2.7h0m.1 1.8h0m.1-3.6h0m.1 1.9h0m0-2h0m.1 2.6h0m0-1.4h0m.1 1.4h0m0-1.8h0m.1-6.9h0m0 2.8h0m.1-3.5h0m.1 1.1h0m0 4.1h0m.1-1.2h0m.1-.5h0m0-1.3h0m.1 4.8h0m0-6.3h0m.1 2.1h0m0-1.3h0m.1 .7h0m.1-3.1h0m0-2.1h0m.1 2.3h0m0-1.9h0m.1-.8h0m0-.8h0m.1 1.7h0m.1 .7h0m0-2.7h0m.1 4.4h0m0-3.1h0m.1 3.7h0m0-2.1h0m.1 1.5h0m0-2.8h0m.1 5.9h0m0-3.2h0m.1-1.6h0m0 2.2h0m.1 1.1h0m0 3.7h0m.1-2.5h0m.1-2.5h0m0 2.4h0m.1-1.2h0m0 6.6h0m.1-1.1h0m.1 .7h0m0-4.7h0m.2 3.7h0m0 4h0m.1-.9h0m0 2.5h0m.1-3.6h0m0 1.1h0m.1 .8h0m0-2.9h0m.1-1.1h0m0 2.6h0m.3-1.6h0m0-.7h0m.1 5.6h0m.1 2.2h0m0-4.3h0m.1 5.2h0m0-5.6h0m.1-2.8h0m.1 7.7h0m0-8.1h0m.1-3.7h0m.2 2.3h0m.1 2.7h0m.1-1.8h0m0-2h0m.2-3.3h0m.1 5.4h0m0-1.5h0m.1 2.3h0m.1-3.1h0m0-3.4h0m.2 4.2h0m.1-4.9h0m.1 2.4h0m.1-.8h0m.1-2.8h0m.1 .9h0m0-1.2h0m.1 .6h0m.1 5.6h0m.1-.7h0m0-1h0m.2 2.6h0m0-1.6h0m.1 2h0m0-4.5h0m.1 5.7h0m.1-1.2h0m0 1.7h0m.1 1.2h0m.1-3.6h0m0 2.1h0m.1-1.8h0m0 1.8h0m.1 .8h0m.1-2.1h0m0-1h0m.1 3.8h0m.1-.9h0m0 1.3h0m.1-4.1h0m0 .7h0m.1 3.7h0m0-.6h0m.1 3.9h0m0-3.4h0m.1 7.4h0m.1-5.8h0m0 3.1h0m.1-1.7h0m0 3.7h0m.1 1h0m.1-3.2h0m0 2.2h0m.2 2.9h0m0-.9h0m.1 1.3h0m0-2.8h0m.1-.8h0m.1-4.1h0m0 1.9h0m.1-1.3h0m0 1.2h0m.1-4.6h0m.1-.9h0m0-4.9h0m.1-1.7h0m0 1h0m.1-1.8h0m.1-.6h0m.1-5.1h0m.1 1.1h0m0-.8h0m.1-2.8h0m0 3.4h0m.1-1h0m0-2.9h0m.1 2h0m.1-1.7h0m.1 .9h0m.1-2.7h0m.1-2.5h0m.1 1.8h0m.1-3.4h0m.1 1h0m.1 1.5h0m.1-5.3h0m.2 1.2h0m.1-3.7h0m0 5.4h0m.1-5.5h0m.1 4.1h0m0 2.7h0m.1-2.6h0m0 .8h0m.1 3.5h0m0-2.6h0m.1 2.4h0m0-1.2h0m.1 2.3h0m0-1.7h0m.1 3.3h0m0-2.1h0m.1 2.7h0m.1 3.9h0m.1-3.9h0m0-2.6h0m.1 3.1h0m0-.7h0m.1 .5h0m0 1.6h0m.2 1.7h0m0-1.3h0m.1 2.2h0m.1-.7h0m0 3.4h0m.1-1.9h0m0 .9h0m.1-2h0m.1 2.3h0m.1 2.4h0m.1 6h0m0-.6h0m.1 2.3h0m0-3.6h0m.1 5.2h0m0-3.3h0m.1 1.8h0m0-4.3h0m.1-.6h0m.1 3.3h0m.1 1.1h0m0-2.3h0m.1 2.6h0m0 1.8h0m.1 2.7h0m0-3.5h0m.1 2.1h0m.1 5.7h0m0-2.8h0m.1 1.6h0m0-4.4h0m.1 5.4h0m0-4.5h0m.1-2.6h0m0-1.6h0m.1 1.8h0m0 2.9h0m.1-5.4h0m0 2.4h0m.1 1.7h0m0-.9h0m.1-3h0m0-3.1h0m.1 .6h0m0 1.9h0m.1-3.3h0m0-1h0m.1 1.2h0m0-1.6h0m.1 1.2h0m0 1.8h0m.3-4.1h0m.1 4.4h0m0-1.8h0m.1-4.8h0m0 1.3h0m.1-.7h0m0-.5h0m.1 3.3h0m.1-2.5h0m0-3.4h0m.1-1.3h0m0 3h0m.1-6.8h0m0 2h0m.1-4.9h0m0 2.3h0m.1 1.3h0m0-1.5h0m.1-2h0m0 2.8h0m.1 .8h0m.1-2.4h0m0-1.7h0m.1-.6h0m.1 1.1h0m0 .5h0m.1-3.3h0m.1 4.3h0m0-2.4h0m.1-2.2h0m.1 4.5h0m.1-4.4h0m.1 3.6h0m.1 2.5h0m.1-1.1h0m.1 1.4h0m.1-1.8h0m0 1.2h0m.1 1.8h0m0 1.7h0m.1 .9h0m0-1.9h0m.1-2h0m.1 .5h0m0 5.4h0m.1-4.6h0m.1 1.4h0m0 5.3h0m.1-3.5h0m.1 .8h0m0-2.1h0m.1 2.4h0m0-2.4h0m.1 2.5h0m0 2.1h0m.1-1.3h0m0 4.7h0m.2 3.2h0m0-1.7h0m.1 1h0m0 .9h0m.1 .7h0m0 .5h0m.1-2.8h0m0-1.5h0m.1-1.7h0m.1-1.2h0m0 4.7h0m.1 5.6h0m0-2.2h0m.1-.8h0m0 .5h0m.1 1.9h0m.1-1.7h0m0 3.5h0m.1-.8h0m.1 4h0m0 1h0m.1-1.1h0m0 .8h0m.1 2.3h0m.1-2.8h0m0 .6h0m.1 3.6h0m0-.9h0m.1-1.2h0m0 .6h0m.2-.6h0m.1 4.5h0m0 .7h0m.1-.8h0m0-3.7h0m.1 6.1h0m0-3.6h0m.1 1.4h0m0-1.8h0m.1 3.3h0m0 4.1h0m.1-3.3h0m0 1.2h0m.1-.9h0m.1-3.6h0m0 1.3h0m.1-3.6h0m0 4.4h0m.1-1h0m0 2.3h0m.1-.8h0m0-.5h0m.1-4h0m.1 2.1h0m.2-2.7h0m.1-4.2h0m0 3.2h0m.1 .8h0m0 1.9h0m.1-3.7h0m.1-4.1h0m0 2.4h0m.1 2h0m.2-1.7h0m0-.7h0m.1-1.1h0m.2-5.8h0m0 2.1h0m.1-3.1h0m0-2.3h0m.1 2.2h0m0-1.8h0m.1 1.1h0m.1 2.8h0m0-1.7h0m.1-.8h0m.1-1.6h0m0-5.4h0m.1 1.5h0m.2-2.2h0m.1 2.1h0m0-1.9h0m.1-1.3h0m.2-2.4h0m0 2.4h0m.1 1.1h0m0-5.7h0m.1 4.4h0m0 1.4h0m.2-5.9h0m.1-1.7h0m.1-.7h0m0 2.8h0m.1-1.9h0m0 .6h0m.1 4.9h0m0-4.7h0m.1 1.4h0m.1-1.4h0m0-1.2h0m.1 .6h0m0-1h0m.1-.6h0m.1-.6h0m.1 .6h0m.1-3h0m0 5.3h0m.1-1.7h0m.2-2h0m.1 .6h0m.1 1.9h0m0-2.9h0m.1 4.6h0m.1 .8h0m0-2.3h0m.1 5.9h0m0 .6h0m.1-1.8h0m0-.7h0m.1 .6h0m0 1.7h0m.1-2.5h0m0 2.6h0m.1 .8h0m.1-5h0m0 4.7h0m.1-.9h0m.1 1.8h0m.1-1h0m0 3.7h0m.1-5.2h0m.1 3.7h0m0 .5h0m.1 1.9h0m.1-3.1h0m.1 2.9h0m0 3h0m.1-1h0m.2-3.7h0m0 1.6h0m.2 1.8h0m0 2h0m.1-3.2h0m0 .7h0m.2-5h0m0-1.6h0m.1-2.9h0m.1 1.7h0m.1-4h0m.2-1.6h0m0-.9h0m.2-3.4h0m0-2h0m.1-1.2h0m0 .8h0m.2-1.6h0m.1 4.8h0m0-2.4h0m.1-4.7h0m0-.7h0m.1 1.6h0m.1-1.9h0m0-3.5h0m.1 3.2h0m.1 2.3h0m.1-1.7h0m.1-5.4h0m.1 .9h0m.1-.6h0m0 3h0m.1-5.6h0m0 4.7h0m.1-3.7h0m0 2.3h0m.1 1.5h0m.1-2.3h0m0 4.2h0m.1 1.6h0m0-3.5h0m.1 .9h0m0 .9h0m.2 2h0m0-1.8h0m.2-.6h0m0-1h0m.3 3.2h0m0 2.1h0m.1-.8h0m0 1.3h0m.1-1.6h0m0 2.8h0m.1 .8h0m.1 2.2h0m0-2.6h0m.1 7.4h0m0-3.6h0m.1 1.7h0m0 1.6h0m.1-3.8h0m0 2.7h0m.1-.5h0m.1 .8h0m0 1.5h0m.2 3.6h0m0-4h0m.1 1.8h0m0 2.5h0m.1-4.5h0m.1 4.1h0m0 1.5h0m.2-3h0m0 4.8h0m.1 1.4h0m.2 5.7h0m0 .6h0m.1-1.5h0m.1 1.2h0m.1 2.7h0m0-1.6h0m.1 2.9h0m.1-3.9h0m0-.8h0m.1 3.3h0m.1-.6h0m.1 6.2h0m.1-2.2h0m0-4.6h0m.1 4.4h0m0-3.8h0m.1 5h0m0-2.1h0m.2-2.4h0m0 3.8h0m.1-1.3h0m0 2.4h0m.1-2h0m0 1.1h0m.1-.8h0m0-3.2h0m.1 6.8h0m0-2.8h0m.1-1.7h0m0 3.6h0m.1-1.1h0m.1 1h0m.1-3h0m.2 2.4h0m.1-1.3h0m0 2.1h0m.1-1.8h0m0-.5h0m.1-2.4h0m.1 1.2h0m.1-1h0m.1 1h0m.1-.6h0m.1-4.9h0m.1-3.1h0m.1 3.6h0m.1 .5h0m0 2.7h0m.1-2.6h0m0-1.1h0m.1-1.5h0m0-2h0m.1 .7h0m.1 .8h0m0 .9h0m.1-.5h0m0-.6h0m.1-.8h0m.1 .7h0m0-2.1h0m.1-1.7h0m0 2.5h0m.1-.9h0m0-.8h0m.1 .6h0m0 2.8h0m.1-.9h0m0-2h0m.1 .7h0m0-3h0m.1-.9h0m.1 2.6h0m0-2h0m.2 3h0m.1-4.2h0m.1 3h0m0-.8h0m.1-3.9h0m.1 2.5h0m.1 .6h0m.1 2.1h0m0-3.3h0m.1-.6h0m0 4.4h0m.1-1.1h0m0-4.4h0m.1-1.5h0m0 2.3h0m.1-7.8h0m.1 6.9h0m0-4.6h0m.1 3.7h0m0 2.5h0m.1-2.8h0m0 3.2h0m.1-1.8h0m0 1.8h0m.1-1.4h0m0 2.1h0m.1 1.3h0m0-6.1h0m.2 1.8h0m.1-1.8h0m0 4.8h0m.1-5.4h0m0-.7h0m.1 5.7h0m.1-3.9h0m0 2.6h0m.1-2.2h0m0 5h0m.1-1.7h0m.1-2.5h0m0-.6h0m.1 5.1h0m.1-5.8h0m.1 5.9h0m0-.9h0m.1-2.1h0m.1 1.7h0m.1 1.9h0m.1-1.1h0m0 3.8h0m.1-1.7h0m.1-3.9h0m.1-1.2h0m.1 5.2h0m0-7.3h0m.1 3.2h0m0-1.1h0m.1 .8h0m0 1.5h0m.1-4.4h0m0 .7h0m.1 2.3h0m0 1h0m.1-4.1h0m0 4.2h0m.2 1.5h0m.2 .9h0m.1-.9h0m.1 3.3h0m.1 1.1h0m.1 .5h0m.1-.5h0m0 2.3h0m.1-3.3h0m.1-.8h0m.1 3.8h0m.1 1.7h0m.1-.7h0m0 .9h0m.1-3.5h0m0 4.8h0m.1-1.4h0m.1-2.3h0m0 .9h0m.1 3.2h0m0 2.1h0m.1-2.1h0m.2 .8h0m.1 2.7h0m0-1.6h0m.1-3.8h0m0 2.4h0m.1 3.1h0m.1-2.9h0m.1 2.5h0m0 5.5h0m.1-2.1h0m.1 2h0m.1 .6h0m0 3.6h0m.1-4.4h0m.2 1.2h0m.1 .8h0m.1-3.7h0m0-3.7h0m.1 3.2h0m0 2.4h0m.1-4.6h0m0 1.2h0m.1 2.9h0m0-6.4h0m.1 6.8h0m.1 1.9h0m.1-2.9h0m0 2.8h0m.1-1.3h0m0 .6h0m.1-2.5h0m.1-.6h0m0-1.8h0m.2-.7h0m.1 .5h0m.1-.8h0m0 2.1h0m.1-3.3h0m0 2.4h0m.1-3.9h0m.1 2.8h0m0-2.6h0m.1 1.8h0m0-3.4h0m.1 1.9h0m0-5h0m.1 2.4h0m0 .7h0m.1 1.5h0m.1-3.2h0m0-1.2h0m.1 2h0m0-2.4h0m.1-.5h0m.1 4.7h0m.1-5.3h0m0 3h0m.2-1.2h0m0-2.2h0m.1 3.1h0m0-1.4h0m.1-1.4h0m0 3h0m.1-4.1h0m0-.7h0m.1 2h0m0 .9h0m.1-4.5h0m0 5.1h0m.1-2.7h0m.1-5.6h0m.1 3.2h0m0-2.6h0m.1 2.4h0m.1-2h0m.1 2.4h0m0-1.1h0m.1-2.2h0m.1 .7h0m0-1.3h0m.1-1.5h0m.1-2.9h0m0 2.6h0m.1-2h0m0 3.8h0m.1-2.1h0m0-2.9h0m.1 1.2h0m.1 1.4h0m0 3.5h0m.1-6.3h0m.1 3.2h0m0-3.7h0m.1 1.4h0m0-2.9h0m.1 2h0m.1-2.9h0m0 .9h0m.1-.8h0m.1 1.4h0m0 5h0m.1-2.5h0m0-3.6h0m.1 2.6h0m.1-.6h0m.1 1.8h0m.1 1.5h0m0 1.4h0m.1-.9h0m.1-2h0m0-.9h0m.1 1.5h0m.1 .5h0m0 .8h0m.1 1.5h0m0-1.6h0m.1-7.3h0m0 7.9h0m.1-2.4h0m0 2.5h0m.1 1.1h0m0 .7h0m.1-1.2h0m.1 2.1h0m0 2.1h0m.1-4.9h0m0 .9h0m.1 5.6h0m.1-2.1h0m.1 .7h0m0 2.4h0m.1 2.5h0m0-5h0m.1 2.5h0m0-2h0m.1-3.2h0m0 3.7h0m.1 2h0m0-2.2h0m.1 1h0m0 1.7h0m.1-2h0m0 1.4h0m.1-1.7h0m.1 2.2h0m.1 2.4h0m.1-3.9h0m0 3.6h0m.1-2.3h0m0 3.2h0m.1 .7h0m0-1h0m.2 1.2h0m0 3.7h0m.1-2.9h0m.1-.9h0m.2 1.8h0m0-3.1h0m.2 1.6h0m0-3h0m.1-2.5h0m.1 4.5h0m0-1.3h0m.1 3.3h0m0-1.1h0m.1-3.2h0m0-1.5h0m.1 4.5h0m0-2.2h0m.1-3.7h0m0-1.2h0m.2-1.6h0m0 2.6h0m.1 .8h0m.1 1.4h0m0 .6h0m.1-1.7h0m.1-.8h0m0-1.7h0m.1-2.9h0m0 2.2h0m.1-5.4h0m.1 4.7h0m.1-.7h0m.1-2h0m0-1.8h0m.1-.9h0m.1 .6h0m.1 2.1h0m.1-7.3h0m0 7.1h0m.1-.7h0m.3 3.6h0m.1-2.9h0m0 1.1h0m.2-.7h0m0-2.6h0m.1 3.9h0m0-.5h0m.1 5.3h0m0-7.1h0m.1 1.9h0m0 .9h0m.1-.7h0m0 1.9h0m.1-4.5h0m.1-.7h0m0 6.3h0m.1 1.1h0m.1-3.8h0m0 4.2h0m.1-3.5h0m.2-2.2h0m0 3.6h0m.3 1.3h0m.1 4.2h0m0-3h0m.1 3.4h0m.1 .6h0m0 1.3h0m.1 1.3h0m.1 .5h0m0 3.2h0m.1-1.1h0m0-2.9h0m.1 2h0m0 1.6h0m.1 2.2h0m.1-5.4h0m.1 4.7h0m0-1.3h0m.1 2.2h0m.2 2.3h0m.1-2.6h0m0 3.8h0m.1-3h0m.1 2.1h0m0-1.6h0m.1 1.6h0m.1-2.9h0m0 3.5h0m.1-1h0m0-1.2h0m.1-.9h0m0 3.7h0m.1-3.1h0m.1 .5h0m0-2.2h0m.1 2.6h0m.1 2.4h0m0-.7h0m.1 3.6h0m.1-5h0m0-1.4h0m.1 1.3h0m0 .6h0m.1 2h0m.1-2.8h0m.2-1.3h0m0-4.5h0m.1 .8h0m0-1.5h0m.2-1.4h0m.1-1.5h0m0 2h0m.1-5.4h0m.1 1.2h0m0-2.8h0m.1-1.4h0m.2-1.3h0m0 1.5h0m.1 2.1h0m.2-6.3h0m0-.8h0m.1-2.3h0m.1 .8h0m0 3.1h0m.1-2.3h0m.1 1.9h0m.1-3.7h0m0 1.6h0m.1-3h0m0 3.5h0m.1 2.1h0m.1-1.2h0m0-2.5h0m.1-2.7h0m0 3.5h0m.1 2.3h0m0-3.9h0m.1 1.4h0m.1-1.2h0m0 1.1h0m.1 2.1h0m.1-.8h0m0-.5h0m.1 .6h0m0 .6h0m.1-3.4h0m0 1.5h0m.3-3.3h0m0-1.7h0m.1 6.2h0m0 3.4h0m.1-2h0m.1 1h0m0 1.8h0m.1-2.7h0m0 3.2h0m.2 .8h0m.1-1.2h0m.1 4.6h0m0-1.5h0m.2-.5h0m.1 1.2h0m0 1.7h0m.1-2h0m.2 1.6h0m.1-.7h0m0 1.9h0m.1 3.2h0m.2 2.7h0m.1-2.6h0m0-.9h0m.2-3h0m.1 4.5h0m0-2.1h0m.1-2.1h0m.2-1.4h0m0 1.7h0m.1-1.7h0m.1-.8h0m.1 3.4h0m.1-2.3h0m.3-.8h0m0 3.2h0m.1-3.7h0m0-.8h0m.2 2h0m.1-1.5h0m.1 .6h0m.1-.8h0m0 .8h0m.2 1h0m0-5.4h0m.1-.9h0m.1 3.7h0m0-2.6h0m.1 1.6h0m0-1.5h0m.1-1.4h0m.1 3.4h0m0-.6h0m.1 .8h0m0 1h0m.1-3.3h0m0-1.9h0m.1 2.6h0m0-2.4h0m.1 3.6h0m0-3.6h0m.1-1.1h0m0 1.8h0m.1 .8h0m0-.8h0m.1-.5h0m.1 1.5h0m.1 1h0m0 4h0m.1-6.2h0m.1 1.2h0m.2 1.1h0m.1 .6h0m.1-1.9h0m.1 1.9h0m.1-1.9h0m0 4h0m.1 .8h0m.1-2h0m0 .7h0m.1-1.8h0m0-1.2h0m.1-.7h0m.1 2.3h0m0-3.7h0m.1-3.5h0m.1-.8h0m0-2.6h0m.1-2.2h0m.1-.8h0m0 1h0m.1-2h0m0 3.4h0m.1-2.5h0m0-.7h0m.1-1.4h0m.1-3.9h0m.1-1.3h0m0-1.2h0m.1 .9h0m0-.7h0m.1-2.8h0m0 1.2h0m.1-3.7h0m0-1.3h0m.1-2.2h0m0-1.7h0m.2-1.6h0m0-5.8h0m.1-2h0m.1-2.3h0m0-2.6h0m.1 1.5h0m0 2.9h0m.1-5h0m0-1.5h0m.1 4.8h0m0-2.8h0m.2 .7h0m.1-2.3h0m.1-.8h0m0-.7h0m.1-2.6h0m0 .9h0m.1-4h0m0 4.1h0m.1-2.2h0m.1 2.2h0m.1 2.3h0m0 .7h0m.1-.9h0m0 1.7h0m.1 3h0m.1 3.2h0m0 .9h0m.1-6.8h0m0 6.9h0m.1 .9h0m0 2.2h0m.1 1.5h0m0 1h0m.1-1.6h0m0 4.6h0m.1-2h0m0 .7h0m.1 .9h0m0 5h0m.1-.6h0m.1 4.3h0m0-2.8h0m.1 4.2h0m0 1.8h0m.1-2.3h0m.2 2.6h0m.1-1.4h0m.1-.7h0m.1 5.8h0m0 .8h0m.1 1.7h0m0 2.9h0m.1 .8h0m.1 1.6h0m.1-2.7h0m0 5h0m.1-3.5h0m0 2h0m.1 3h0m.1-2.5h0m.1-1.6h0m.1 2.2h0m0-1.2h0m.1 5.4h0m0-3.1h0m.2 3.7h0m0 4.5h0m.1 1.3h0m0 1.7h0m.1-1.2h0m.1 3.9h0m.1 .6h0m.1-1.7h0m0 2.5h0m.1 3.2h0m.1-3h0m0 3.3h0m.1-1.8h0m.1 4.5h0m0-1h0m.1 1.2h0m0 1.8h0m.1-1.2h0m0 4.7h0m.1-5.2h0m0-1.8h0m.1 1.6h0m0 3h0m.1 1.2h0m.1 1.1h0m0 3.6h0m.1-1.1h0m0 .9h0m.1 2.1h0m0-1.5h0m.1 1.8h0m0 3.4h0m.1 1.2h0m0-4.8h0m.1 2.7h0m0-3.8h0m.1 3.7h0m0 1.3h0m.1-3.8h0m0-.7h0m.1 1.1h0m.1 .9h0m0 .7h0m.1-3.3h0m.1 3.7h0m0 2.1h0m.1-1.5h0m0 1.8h0m.1-.8h0m.1 3h0m0-.8h0m.1 1.9h0m.1-4.6h0m0-1.2h0m.1 1.1h0m.1 2.3h0m.1-3.4h0m0-2.4h0m.1 .6h0m.1-3.3h0m0 4.2h0m.1-2.9h0m0 .6h0m.1 3.6h0m0-4.1h0m.1-1.5h0m0 2.8h0m.1 1.3h0m0-1.3h0m.1 2.6h0m.1-1.7h0m0-4.6h0m.1 3.3h0m0-2.7h0m.1 .6h0m.1-1.2h0m0 1h0m.1 3.4h0m0-5.6h0m.1 2.4h0m0-1.5h0m.1-2.2h0m0 1.9h0m.1-3.4h0m.1-3.1h0m.1 1.1h0m0-1h0m.1-1h0m0-2.2h0m.1 2h0m0-4.1h0m.1 1.2h0m0-.9h0m.1-1.9h0m0 1.9h0m.1-4.7h0m0 2.3h0m.1-3.8h0m.2-2.6h0m.1-1h0m0-1.4h0m.1-.8h0m.1-2.1h0m0-.9h0m.1-2.1h0m0-2.4h0m.1-1.4h0m0 2.6h0m.1-5.5h0m0 2.5h0m.1-.9h0m.1-2.7h0m0-2.9h0m.1 6.6h0m0-3.3h0m.1-1h0m0-1.5h0m.1-.7h0m0-3.8h0m.1-2.5h0m0-2.1h0m.1 3.1h0m0-6.5h0m.1 1.3h0m0 .8h0m.1 .8h0m.1-3.2h0m.1 1.6h0m0-1.7h0m.1-2h0m0-1.2h0m.1 3h0m.1-3.8h0m0 4.3h0m.1-2.4h0m0-2.6h0m.1 1.6h0m0-.8h0m.1 4.4h0m0-3.7h0m.1 1.3h0m.1-1.3h0m0-2.7h0m.1 4.7h0m0-3.7h0m.1-2h0m0-.8h0m.1-1.7h0m.1 4h0m0-5.1h0m.1 1.7h0m0 .8h0m.1 1.2h0m.1-.7h0m0 2.7h0m.1-2.3h0m0-1.3h0m.1 1.2h0m0 1.5h0m.1 1.5h0m0 1.6h0m.1-1.1h0m0 .7h0m.2-2.2h0m0 3.5h0m.1-1.2h0m0 1.3h0m.1-.8h0m0 3h0m.1-2.6h0m.1-1.3h0m0 4.1h0m.1 2.3h0m0-3.4h0m.1-2.1h0m0 4.1h0m.1-4h0m0 5h0m.1 1h0m.1-1.2h0m.1-3.1h0m0 5.6h0m.1-3.5h0m0 6.7h0m.1-4.1h0m0 4.6h0m.1-2.5h0m.1 1h0m.2 .7h0m0 .6h0m.1 1.6h0m.1-2.4h0m.1 3.4h0m.2 1h0m.1 3.2h0m0-1h0m.1-.8h0m0-2.4h0m.1-1.2h0m.1 3h0m0-4.7h0m.1 .8h0m0-2.6h0m.1 4.8h0m.1 2.1h0m0-1.2h0m.1 4.2h0m.1-1.5h0m0-.9h0m.1-2.2h0m.1 4.5h0m.1 2.1h0m.1 2.7h0m.2-5.5h0m.1 4.1h0m.1 1.2h0m0 3.6h0m.1-1.9h0m0-2.6h0m.1 2.3h0m0-1h0m.1-2.7h0m0 2.3h0m.1 2.4h0m0-3.9h0m.1 3.6h0m.1-2.5h0m0-3.1h0m.1 3.4h0m0-4.9h0m.1 3.7h0m0 2.5h0m.2-5.8h0m0 3.1h0m.1 1.4h0m0-2.9h0m.2-2.7h0m0 6h0m.1-3.7h0m0 5.7h0m.1-3.3h0m0-.6h0m.2-1.1h0m.1-.8h0m.2 1.6h0m0 1.2h0m.1-1.1h0m.1 1.1h0m.2 1.3h0m0 1.2h0m.1 3.8h0m0-4.1h0m.1 3h0m0 1.1h0m.3 3.5h0m0 1.1h0m.1 2h0m0-3.3h0m.1-.8h0m.1 3.6h0m0 2.7h0m.1-4.7h0m0 2.3h0m.1 .9h0m.1 2.1h0m.1-2h0m0-1.3h0m.1 1.3h0m0 .8h0m.1-1.8h0m.1 2.8h0m0-.9h0m.1-.9h0m0-1.9h0m.1-2h0m0-2.9h0m.1 6.6h0m0-5.4h0m.1 1.3h0m.1-2.3h0m.1 3h0m0-1.1h0m.1-1.7h0m.1 1.4h0m.1 3.4h0m0-1.9h0m.1-4.4h0m.1 1.8h0m.1-1.2h0m0 2.1h0m.1-1.3h0m.1 1.7h0m.1 1.9h0m0-3.5h0m.1 4.6h0m0 2.6h0m.2-.8h0m0 .6h0m.1 2.6h0m0-4.3h0m.1 5h0m0 1h0m.1-4.5h0m0 2.2h0m.1-1.8h0m0 6.8h0m.1-.8h0m.2 .8h0m0 6.2h0m.1-4.1h0m.1-.6h0m0 2.7h0m.1 .5h0m.1-1.9h0m0 1.5h0m.1 2.8h0m.1-1.5h0m0-.5h0m.1-4.7h0m.1 2.8h0m0-1.7h0m.1-7.6h0m.1-.9h0m.1-5.6h0m0 2.2h0m.1-6.6h0m.1-.6h0m0-3.3h0m.1-2.5h0m0-3.8h0m.1 2.7h0m0-5.9h0m.1-1.8h0m.1 2.2h0m.1-5.3h0m.1-.7h0m0-1.3h0m.2-.7h0m.1 .9h0m0-4h0m.1 1h0m0 .7h0m.1-2.4h0m0 .6h0m.1 1h0m.2-4.6h0m0 1.1h0m.1 1.9h0m.1 1.4h0m.1 1.4h0m0-2.2h0m.1 .9h0m.1 6.4h0m0-6.8h0m.2 6.1h0m0-.7h0m.1-4.7h0m.1 4.4h0m0-2.3h0m.1 1.1h0m0-2.4h0m.1 1.6h0m0 .5h0m.1 1h0m.1 2.4h0m.1 1.9h0m0-1.1h0m.1 1.8h0m.1-6.3h0m.1 3h0m.1-.8h0m0 3h0m.1 .8h0m.1-2.4h0m.1 4.1h0m0-1.3h0m.1 1.3h0m.1 .8h0m0-.9h0m.1-3h0m.2-.6h0m.1 3.6h0m.1-3.3h0m.1 1.2h0m.1-.8h0m.1 3.4h0m0-3.1h0m.2-.5h0m.1-2.2h0m.2 4.3h0m0-2.5h0m.1 3.4h0m0 2.5h0m.1-4.8h0m.1 1.9h0m0 3.2h0m.1-2.9h0m.1-1.4h0m0-1.3h0m.1 1.9h0m0-1h0m.1 3.5h0m.1-1.4h0m0-1h0m.2 5.6h0m0-1.7h0m.1 6h0m0-4.2h0m.1 4.4h0m0-3.6h0m.1 4.2h0m0-6.6h0m.1 2.8h0m.1 4.4h0m.1 2.5h0m0-5h0m.1 3.4h0m.1-.9h0m.1-5.2h0m0 6.8h0m.1-4.2h0m0 5.8h0m.1-.9h0m.1-2.6h0m0 2.7h0m.1-1.7h0m0 6.8h0m.1-4.8h0m.1 1.9h0m.1-.6h0m0 3.1h0m.1-1h0m0-4.3h0m.1 2.2h0m.1 1.6h0m0-.5h0m.1 3.2h0m0 5.7h0m.1 1.6h0m.1-5.6h0m0 5.4h0m.2-1.1h0m0-5.7h0m.1 1.3h0m.1 3.2h0m0 1.4h0m.1 2.5h0m.2-.9h0m0 3.7h0m.1-.6h0m.1 1.4h0m.1-3h0m.1 2.5h0m0-1.2h0m.1 2.2h0m.1 1.7h0m0 2.3h0m.1-1.5h0m.1 3.8h0m.1-1.1h0m.1-5.9h0m.1 6.1h0m.1-5.3h0m0-.6h0m.1 1h0m0 1.5h0m.1-1.3h0m.1-2h0m.1 2.6h0m0 3.5h0m.1-1.1h0m0-4h0m.1 1.6h0m.1-.9h0m.1-2.5h0m.1-2h0m.1 .8h0m.1-.9h0m0-.7h0m.1-1.1h0m0 3.5h0m.1-4h0m.1-1h0m0 1h0m.1-1.1h0m0 1.9h0m.1-3.4h0m0-4.4h0m.1 1.2h0m0-2.5h0m.1 1.7h0m0 .5h0m.1-4.4h0m0 6.2h0m.1-3.5h0m0 1.7h0m.1-.8h0m.1-2.9h0m0-.5h0m.1-2.6h0m0 1.1h0m.1 4.1h0m.1-2.4h0m.1-3.6h0m.1-5.1h0m0 4.3h0m.1-1.8h0m.1 2.1h0m.1-2.4h0m.1 1.8h0m0-.6h0m.1-.7h0m0 2.1h0m.1 3.1h0m.1-1.5h0m0-.7h0m.1 4.8h0m0-3.2h0m.1-3.7h0m0 2.6h0m.1-3.2h0m.1 1h0m0-2.6h0m.1 .6h0m.1-1.3h0m0 .5h0m.1 4h0m0-2h0m.4-4.2h0m.1 4.1h0m.1-3.8h0m0 3.9h0m.1 1.1h0m.2-.8h0m0 2.7h0m.1-2h0m0-3.8h0m.1 2.5h0m.1 3.3h0m.1-.7h0m0 .8h0m.1-4.4h0m.1 2h0m0 1.1h0m.2-.5h0m0 3.3h0m.1-4.3h0m0 .9h0m.1-2.7h0m.1 4.1h0m.1-2h0m.1 2.2h0m.1-3.7h0m0-.8h0m.1 1.9h0m0 .6h0m.1-3.2h0m.1-1.1h0m0-.8h0m.1 3.7h0m.1-6.9h0m.1 5.5h0m0-2h0m.1-3.9h0m0-.9h0m.1-1h0m0-4.4h0m.1 4.3h0m.1-1.2h0m0-1.6h0m.1 1.4h0m0 1.9h0m.1-.6h0m.1-2.5h0m.1 1.5h0m0-3.9h0m.1 1h0m0-3.3h0m.1-1.6h0m0-3.1h0m.1 5.6h0m.1-1.9h0m0-2h0m.1 3.5h0m0-6h0m.1 .9h0m0 .9h0m.1-2.2h0m.1 .7h0m0-7.6h0m.1 2.1h0m.1-3.9h0m.1 3.5h0m.2-1h0m.1-.5h0m0 3.3h0m.1-5.7h0m.1 6.1h0m.1-4.7h0m0 .6h0m.2-4.5h0m0-3.6h0m.1 3.2h0m0 1.3h0m.1-3.5h0m.1 2.6h0m0-1.9h0m.1-1.4h0m0 2.1h0m.1-2h0m.1 3.7h0m.1-3.2h0m0 4.3h0m.1 1.1h0m0 1.1h0m.1-2.2h0m0 2.3h0m.1-1h0m.1 .5h0m0-1.2h0m.1 1.3h0m0-1.9h0m.1 1.7h0m0 2.5h0m.1-1.5h0m.1 1.7h0m.1-1.2h0m.1 1.8h0m.1 3.5h0m.1 2.5h0m.1 3.6h0m0 1.4h0m.1-1.4h0m0-1.5h0m.1-4.2h0m0 5.3h0m.1 .7h0m.1-4.5h0m.1 6.6h0m.1 .7h0m0 1.2h0m.1-1.8h0m0 1.8h0m.1 1.7h0m0-1.6h0m.1-1.3h0m0 3.2h0m.1-2.9h0m.1 8.4h0m.1 1.5h0m0-.8h0m.1 3.1h0m0-4.4h0m.2 6.5h0m.1-1.9h0m0 1.6h0m.1 5.6h0m.1 2.1h0m.1-1.2h0m.1 .9h0m0 1.1h0m.1-2.8h0m.1 .9h0m0-1.9h0m.1 2.1h0m.1 2.1h0m.3 2.5h0m0-2.5h0m.1 .5h0m.1 1.5h0m0 4.4h0m.1-3.2h0m.1 3.8h0m.2-4.7h0m.1 3.8h0m.1 1.2h0m.1-.6h0m0-3.9h0m.1 .9h0m.1-1h0m0-3h0m.2 .9h0m0 1.1h0m.1-5.3h0m0 5.7h0m.1-9.4h0m0 5.5h0m.1 3.2h0m0-4.5h0m.1-.7h0m0-.6h0m.1 .8h0m.1-2.9h0m0-3h0m.2-1.2h0m.1 2.1h0m.1-2.7h0m.2 .6h0m0-5.8h0m.1-1.1h0m0 1.8h0m.1-2.1h0m0-1.9h0m.1 2.1h0m.1-4.7h0m.1 2.6h0m.1-6.7h0m.2-2.8h0m.1 .8h0m0-.5h0m.1-2h0m0 3.5h0m.2-5.9h0m0-1.6h0m.1 6h0m.3-5h0m0 4.1h0m.2 1.2h0m0-2.5h0m.1 4.7h0m.1-1.3h0m0-3.3h0m.1-2.9h0m0 3.1h0m.1-1.1h0m0-2.6h0m.1 7.2h0m0-2.4h0m.1-.6h0m0-.9h0m.1-2.4h0m0-4.6h0m.1 3.3h0m.1 .9h0m0 .6h0m.1 3h0m.1-2.4h0m.2 .5h0m0 1.8h0m.2-2.4h0m0 1h0m.1 .5h0m0-2.3h0m.1 1.4h0m.1 .7h0m.1-.9h0m0 1.3h0m.1-.9h0m.1 1.6h0m.1-.7h0m.1 .9h0m.1-.6h0m0 1.6h0m.1 3.6h0m.1-2.2h0m0 1.5h0m.1 3.3h0m0-3.2h0m.1 3.7h0m0-3.2h0m.1-3.2h0m.1 2.1h0m0 1.2h0m.2 1.9h0m0 3.4h0m.1-1.5h0m.1-.8h0m0 .9h0m.2-1.9h0m.1 2.2h0m.1-1.4h0m0 1.5h0m.1 1.6h0m0 2.8h0m.1-.9h0m0 3.2h0m.1 1.2h0m.1-4.6h0m0 1.2h0m.1 4.3h0m.1-3.4h0m.1 3.3h0m.1-3.1h0m0 2.6h0m.1-1.9h0m0-1.9h0m.1 3.4h0m0 .8h0m.1-2.1h0m.1 3.6h0m0 2.2h0m.1-1.9h0m0-.6h0m.1-2.6h0m.1 .5h0m.1 4.3h0m0-4.5h0m.1-2h0m0 5h0m.1 1.7h0m.1-2h0m0-.7h0m.1-1.3h0m.1 7.6h0m.1 1.3h0m0-4.4h0m.1 3.9h0m.1-1.4h0m0-1.1h0m.1 2.3h0m.1 5.7h0m.1 1.7h0m.1 1h0m0-3.9h0m.1 4.1h0m.1-2.4h0m0-2.7h0m.1-1.1h0m0-1h0m.1 2.4h0m.1-2.3h0m0 1.4h0m.1 2.2h0m.1-1h0m0 1.1h0m.1 2.6h0m.1-1.1h0m0 1.5h0m.1 .9h0m0-1.4h0m.1-.6h0m0-1.1h0m.1 4.6h0m.1 .9h0m0 .7h0m.1 1.2h0m.1-1.5h0m.1 1.3h0m.1-1.7h0m0 2.8h0m.1 3.3h0m0-3.1h0m.1 2.4h0m.1 2.9h0m0-4.5h0m.1 1.2h0m0 1.1h0m.1-4.3h0m.1 1h0m0-2.4h0m.1 5.1h0m.1-1.9h0m0-1h0m.1 4.6h0m0-1.7h0m.1-.9h0m0-1.6h0m.1 1.2h0m0-2.1h0m.1 2.2h0m.1 .9h0m0-3.4h0m.1-2.2h0m0 5.4h0m.1-.9h0m0-3.1h0m.1-1h0m.1 .6h0m0-1.8h0m.1 2.5h0m.1-2.5h0m0 3.8h0m.1-1.3h0m0-2.1h0m.1 1.2h0m.1 1.5h0m.1-5.5h0m0 5.3h0m.1-3h0m0 1h0m.1 1.1h0m.1 1.3h0m.2-2.6h0m.1-1.8h0m.1 .7h0m0 1.3h0m.1 1h0m.1 2.3h0m0-4.1h0m.1 4.2h0m0-2.6h0m.1-1.4h0m0 .7h0m.1 3.4h0m0-3.1h0m.1 2.3h0m0-3.1h0m.1 .5h0m0-1.9h0m.2 3.4h0m0-3.3h0m.1-1.5h0m0 1.7h0m.1 1.7h0m0-2h0m.1 2.4h0m0-.8h0m.1-3.2h0m.1 3.6h0m.1-3h0m0 3.1h0m.1-2.2h0m0 1.8h0m.1 2.5h0m.1 4.5h0m0-1.6h0m.2 3h0m0 2.6h0m.1-3.9h0m0 4.3h0m.1-2.1h0m0 .8h0m.1 2.9h0m0-1h0m.1 1.4h0m.1 3.7h0m.1-2.7h0m0 1.7h0m.1 1.5h0m0-2.7h0m.1 1.4h0m.1 1.5h0m0-1.7h0m.1 1h0m.1-2h0m0 1.3h0m.2-2.7h0m0-.5h0m.1 3.2h0m0-3.8h0m.1 1h0m0 2.1h0m.1-1.8h0m0-2.5h0m.1 4.6h0m.1-4.2h0m.1-1.1h0m0 2.7h0m.1-1.3h0m0-1.5h0m.1-2.8h0m0 .6h0m.1-5.2h0m0 .9h0m.1-2.8h0m.1-1.9h0m0-4.4h0m.1-.8h0m0-2.2h0m.1-1.2h0m.1-1.1h0m0 .8h0m.1 1.8h0m0-1.8h0m.1-2.4h0m0-2.3h0m.1 2.2h0m.1 .9h0m0-2.1h0m.1-2.8h0m0-1.5h0m.1 3.3h0m0-10.2h0m.1 4h0m0-1.6h0m.1-.7h0m.1 5.6h0m.1-2.9h0m.1-.8h0m0 2.9h0m.1-2.9h0m0-1.5h0m.2 2h0m0-1.5h0m.1 .9h0m0-2.2h0m.1-2.2h0m.1 1.2h0m0-3.4h0m.1-.7h0m0 2.2h0m.1 4h0m.1-3.1h0m0 .9h0m.1 2.3h0m0-4.2h0m.1 6h0m.1-1.6h0m.2-3.1h0m.1-4.1h0m.1 2.4h0m0-2.7h0m.1 4.1h0m0-.7h0m.1-.9h0m.1 .7h0m0 5.1h0m.2-9.1h0m0 2.4h0m.1-3.5h0m.1 1h0m.1 .6h0m0 1.5h0m.1 3.3h0m0-3.6h0m.1-3.4h0m0 .7h0m.1 2.3h0m.1-2.9h0m0-.8h0m.1 1.6h0m.1-3.1h0m.1 3.8h0m0-3.1h0m.1 1.1h0m0-1.9h0m.1 3.6h0m0-4h0m.1-1.1h0m.1 1.9h0m0 2.9h0m.1 1.6h0m.1-1.3h0m0-3.7h0m.1 1h0m.1 .7h0m0-1.3h0m.1-.6h0m0-2.9h0m.2-.8h0m0-2.1h0m.1 1.6h0m0 .6h0m.1 4.8h0m0-4.8h0m.2 1.5h0m0 2.8h0m.2-1.7h0m0-1.4h0m.1 5.4h0m.1-1.9h0m.1 3.3h0m0 1.7h0m.1 2.4h0m0-3.3h0m.1 1.7h0m0-1.5h0m.1 1.6h0m.2 1.4h0m0 3h0m.2-1.9h0m.1-.8h0m0-1.6h0m.1 2.3h0m0 .8h0m.2-2.5h0m.2 4h0m0-1h0m.1 4.6h0m.1-3.1h0m.1-3h0m0 .9h0m.1 3.9h0m0 1.3h0m.1-2.7h0m.1 2.7h0m.2 1.8h0m0 4.9h0m.1-5.1h0m.1 1h0m.2-2.6h0m.1 3.5h0m0-.6h0m.2 2.9h0m.1-1.8h0m.1 3.3h0m.1 2.8h0m0-1.6h0m.1 1.7h0m0-1.8h0m.1 2.2h0m.1-3.5h0m.1 7h0m0-1.7h0m.1 .7h0m0-3.4h0m.1 4.4h0m0 .6h0m.1-3.6h0m0 4.4h0m.1 1.7h0m.1 2.8h0m0-2.6h0m.1 .6h0m0-1.8h0m.1 5.6h0m.1-2.8h0m0 1.3h0m.1-1.3h0m0 .8h0m.1 .5h0m0-2.1h0m.1 3h0m.1 2.6h0m0-.7h0m.1-4.5h0m0 3.4h0m.1 1.9h0m0-2.7h0m.1-3.8h0m.2 3.4h0m0 6.2h0m.1-1h0m.1 1.2h0m.1 3h0m0-1.3h0m.1 1.2h0m0-.6h0m.1-3.5h0m0 2.7h0m.1-.7h0m0 4.4h0m.1-3h0m0 3.4h0m.1-.6h0m0-3.7h0m.1 1.7h0m0-3.2h0m.1 3.5h0m0-.5h0m.1-2.7h0m.1 2h0m0 1.6h0m.1 .5h0m.1 1.2h0m0 1h0m.1-2.6h0m0 .8h0m.1-.9h0m0-1.6h0m.1 2.1h0m.1-7h0m0 1.4h0m.1-2.3h0m.1-5.2h0m0 2h0m.1 .7h0m.1-3.5h0m0-2.9h0m.1 3.4h0m0 1.5h0m.1 .9h0m.1-3.9h0m0 3.3h0m.1 1.6h0m0-6.8h0m.1 2.2h0m0-.7h0m.1-3.2h0m0 3.5h0m.1-1.9h0m.1 1h0m0 1.2h0m.1-2.8h0m0 2.3h0m.1-4.2h0m.1-4.6h0m0 1.9h0m.1 .6h0m0-2.4h0m.1 1.8h0m0-1.7h0m.1 .8h0m.1 2.8h0m0-3.5h0m.1 2.7h0m0-2.8h0m.1 1.3h0m0 3.5h0m.1-4.5h0m.1 1.5h0m0 5.8h0m.1-5.1h0m0 6.2h0m.1-2.7h0m0 1.6h0m.1 3.3h0m0-1.3h0m.1-.6h0m0-1.9h0m.1 1.4h0m0 2.2h0m.1-2h0m0 1.7h0m.1-1.7h0m0-2h0m.2-2.6h0m0-.8h0m.1 6.7h0m0-.9h0m.2-6.6h0m.2 .7h0m.1 3.1h0m0-1.7h0m.1 1.6h0m.1-.6h0m0 3.8h0m.1 2.1h0m.1-6h0m0-.8h0m.1-4.4h0m.1 7.3h0m.1-.7h0m0-1.6h0m.1 .6h0m0-2.3h0m.1 6.5h0m0-3.4h0m.1 5.5h0m0-1.1h0m.1 1.3h0m0 2.3h0m.2-1.6h0m.1-3.3h0m0 4.4h0m.1 1.7h0m0-1.6h0m.1-.5h0m.1 1h0m0-2.4h0m.2-.5h0m.1 2.4h0m0-.9h0m.3-2.6h0m.1 1h0m0-1.5h0m.1-5.7h0m.2 2.2h0m0 1.7h0m.1-1.3h0m.1 3.5h0m0-2.4h0m.1 2.4h0m0-4.1h0m.1 3.3h0m.1-3.4h0m0-2.6h0m.1 3.6h0m0-4.1h0m.1 2.1h0m0-1.4h0m.1-6.1h0m.2 2.9h0m0-1.6h0m.1-.9h0m0-1.5h0m.1-2.9h0m.1-.7h0m0-4.5h0m.2 1.4h0m.1-.5h0m.1-3.4h0m.1 2.6h0m0-.6h0m.1-2.2h0m.1-3.1h0m.1 1.3h0m0-1.7h0m.1 1.5h0m0 .8h0m.1-1.5h0m.1-2.3h0m0-1.6h0m.1-2.5h0m.2 .7h0m0 3.8h0m.1-2.1h0m0 3.9h0m.1-2.9h0m.1-.9h0m0 1.4h0m.1-2.7h0m0 1.7h0m.1 2.6h0m0-3.8h0m.1 3.1h0m0-1.4h0m.1-1.6h0m0-1.7h0m.1-2.7h0m.1-1.4h0m.1 1.2h0m.1-2.5h0m0 1.1h0m.1 2.1h0m0-.9h0m.1 1.3h0m.1 1.9h0m0-3.3h0m.1-2.4h0m.1 .9h0m0 .9h0m.1 1.1h0m.1-3.5h0m0-1h0m.1 4.2h0m0-1.1h0m.1-2.4h0m0-1.4h0m.1 1.2h0m.1 2.2h0m.1 .9h0m0-1.8h0m.1 2.7h0m0-1h0m.1 .8h0m.1 1.3h0m.1-1.5h0m0 6.4h0m.1-1.3h0m.1 2.2h0m.1-5.6h0m0-3.1h0m.1 3.5h0m.1-1h0m.2 2.2h0m.1 .8h0m0 4h0m.2-4.3h0m0 7.6h0m.1-1.9h0m.1-3.7h0m0 4.4h0m.1 4.2h0m0 4.2h0m.1-2.9h0m.1 4.7h0m0-1.4h0m.1 2.6h0m.1 2.9h0m0-3.5h0m.1 5.9h0m0-4.9h0m.1 3.3h0m0 2.3h0m.1-2.7h0m0 2.2h0m.1 4h0m0-1.9h0m.1-1.1h0m0 1.6h0m.1 .8h0m0-5.6h0m.1 3.3h0m0-.5h0m.1 4h0m0-4.8h0m.1 6.2h0m0-1.3h0m.1-4.8h0m.1 5h0m0-4h0m.1 5.8h0m0-3.6h0m.1-2.7h0m0-.6h0m.1-1.6h0m0-5.2h0m.1-1.1h0m0 4h0m.1-3.3h0m0-.6h0m.1-.5h0m.1-6.5h0m0 1.1h0m.1-3.8h0m.1 .7h0m0-2.7h0m.1-5.3h0m0 2.2h0m.1-2.4h0m0-1.8h0m.1-1.5h0m0-1.6h0m.1-4.1h0m0 1.5h0m.1-1.8h0m0-3.4h0m.1-.5h0m.1-1.9h0m0-1.6h0m.1 .7h0m.1-1.9h0m0 5.4h0m.1-2.6h0m0-5.7h0m.1-1h0m0-.7h0m.1-1.4h0m.1-2.1h0m.1-.8h0m.1 1.6h0m0-2.4h0m.1 7.1h0m.1-.7h0m0 2.6h0m.1 .8h0m0-4.2h0m.1-1h0m0 3.3h0m.1 1.8h0m0-1.3h0m.1 1.6h0m.1 2.8h0m0 2.3h0m.1-1.2h0m.1-.5h0m0 6.3h0m.1-2.9h0m0 3.6h0m.1-.7h0m.1 2h0m0 3.8h0m.1-2.4h0m0 1.2h0m.1 2.5h0m0-4.2h0m.1 3.5h0m0-3.4h0m.1 4h0m0-1.8h0m.1 4h0m0 1.2h0m.1-2.4h0m0 6.2h0m.1-3.2h0m0 8.1h0m.1-3.6h0m0 1.4h0m.1-4.6h0m0-.9h0m.1 3h0m.1 2.8h0m0 1.6h0m.1 1.4h0m0 1.5h0m.1-3.5h0m0 4.3h0m.1-3.5h0m.1-.7h0m0 2.2h0m.1-1.5h0m0 .8h0m.1 2.5h0m0-1.5h0m.1-.7h0m.1 4.2h0m0 .9h0m.1 2.4h0m.1-.7h0m.1-.7h0m.1 1.6h0m0 1.9h0m.1-2.1h0m.1 6.3h0m0-1h0m.1 1.1h0m0 4.5h0m.1-1.3h0m0 3.7h0m.1-3.2h0m0 1.7h0m.1 2.7h0m0-1.6h0m.1 3.3h0m0 .7h0m.1-4.3h0m.1 4.6h0m.1 .5h0m.1-2.5h0m0 6.3h0m.1-1.6h0m0-1.3h0m.2-.8h0m0 6.1h0m.1-2.2h0m.1 .5h0m.1-5.3h0m0 4.8h0m.1 2.7h0m.1-2.2h0m0-3.4h0m.1 4.8h0m0 1.2h0m.1-1.2h0m.1 .6h0m0 2h0m.1 1.6h0m0 2.6h0m.1-3.6h0m.1 1h0m.1 1.6h0m.1 1.7h0m.1-1.1h0m.1-1h0m0 1.2h0m.1-5.3h0m.1-2.6h0m.1-3h0m.1 1.3h0m.1-2.6h0m0 .8h0m.1 1.2h0m0-4.2h0m.1-1.7h0m0 1.2h0m.1-2.2h0m.1-2.1h0m.1-7.9h0m.1 1.9h0m0-3.8h0m.1-1.8h0m0 .9h0m.1-2.2h0m0-1.9h0m.1-2.2h0m.1-.7h0m.1-4.6h0m.1-1.1h0m0 1.1h0m.1-1.6h0m0-3.2h0m.1-.9h0m0-1.6h0m.1-3.5h0m0-2.3h0m.1 1.2h0m.1-4.2h0m0 1.9h0m.1-6.5h0m.1 2.8h0m0 4.5h0m.1-.9h0m0 1.5h0m.1 1.6h0m0-2.5h0m.1 1.6h0m0 2.6h0m.1-2.1h0m0 3.7h0m.1 1.4h0m0-1.5h0m.1 5.8h0m0 2.2h0m.1 .7h0m0 1.1h0m.1-1.5h0m0 .6h0m.1-.5h0m0-.9h0m.1 4.1h0m.1 5.8h0m0-4.5h0m.1-1.2h0m0 2.3h0m.1 3.4h0m0-2.3h0m.1-1.3h0m0 1.5h0m.1 .8h0m.1 .9h0m.1-1.7h0m0 2.1h0m.1-.9h0m0 3.7h0m.1-2.3h0m0-1.4h0m.1 4.4h0m0-1h0m.1 .7h0m.1 1h0m0 .8h0m.1 5.1h0m.1-2h0m0-1.2h0m.1 .7h0m0 2.8h0m.1-1.4h0m0 .8h0m.1 2.7h0m0 1.1h0m.1 3h0m0-1.9h0m.1 2.8h0m0-3.4h0m.1 1.5h0m0 1.4h0m.1-1.1h0m.1 1.8h0m0-1.1h0m.1-4.5h0m.2 1.7h0m0 1.2h0m.1-3.5h0m0 1.8h0m.1-2.2h0m0-.8h0m.1 1.9h0m.1-3.7h0m0 1.1h0m.1-1.5h0m0 1.3h0m.1-3h0m0-3.8h0m.1-.7h0m0 3h0m.1-3.5h0m.1-2.3h0m0-2h0m.1-2.1h0m0-1.6h0m.1 1.1h0m0-5.7h0m.1 .9h0m.1-1h0m.1-2.8h0m0 .9h0m.1 .6h0m0-1.3h0m.2-1.4h0m.1 1.6h0m0 2.7h0m.1-5.5h0m0-.5h0m.1 6.6h0m0-6.2h0m.1 1.1h0m0 3.5h0m.1-4.4h0m0-.8h0m.1 3.3h0m.1-6.3h0m.1 4.1h0m0-5.4h0m.1 2.8h0m0-1.9h0m.1 1h0m.1-1.9h0m0 1.9h0m.1-.8h0m0-2.8h0m.1 1.7h0m0 2.5h0m.1-5.3h0m0-2.3h0m.1 2.2h0m.1-.5h0m0 .9h0m.1 .8h0m.2-4.1h0m0 3h0m.1 1.6h0m0 1.2h0m.1-1h0m.1-3.1h0m.1 1.9h0m.1 1h0m0-1h0m.1-3.4h0m0 2h0m.1-.8h0m.1-1h0m.1 1.3h0m0 4h0m.1-.5h0m.1 5.1h0m0-4.9h0m.1 4.1h0m.1-3.2h0m0 1.9h0m.1-1.8h0m0 1.9h0m.1-1.8h0m0 3.5h0m.1-.8h0m0-2h0m.1 3.7h0m.1-3.3h0m0 1.6h0m.1 2h0m0-3h0m.1 2.4h0m0 1.1h0m.1-1.1h0m0-.6h0m.1 5.4h0m0-3.9h0m.1 1.5h0m0 1.1h0m.1 1.6h0m0-4.3h0m.1 8.6h0m0-1.7h0m.2 3.9h0m.2 2.4h0m0-1.2h0m.1 2h0m.1 2.7h0m.1-2h0m0 2.1h0m.1 1.6h0m0-1.5h0m.1 1.8h0m.1 1.1h0m.2 1.1h0m0-1.2h0m.1 2.6h0m.1 5.9h0m.1-7.2h0m0 4.2h0m.1-3.7h0m0 6.9h0m.1-.9h0m0-.6h0m.1-.6h0m0 2h0m.1-1.9h0m0 2.9h0m.1-1.6h0m.1-.5h0m0-.8h0m.1 1.3h0m0 2.6h0m.1-2.2h0m0 4h0m.1-2.2h0m.1 1.7h0m0-2.1h0m.1 1.5h0m0 1.5h0m.2-1h0m0-3h0m.1-3.3h0m.1 .6h0m0-2.2h0m.1-5.9h0m0 1.3h0m.1-3.7h0m0-3.3h0m.1 1.5h0m0-3.7h0m.1-.9h0m0-2.4h0m.1-2h0m0-5.2h0m.1 4.2h0m0-4.2h0m.1-3.2h0m.1-1.3h0m0-2.7h0m.1-.9h0m0-2.4h0m.1-2.4h0m.1-5.1h0m.1-3.7h0m0-3.1h0m.2-1.9h0m0-3.1h0m.1-4.5h0m0 1.1h0m.1-2.9h0m.1-1.2h0m.1 3.9h0m0-8h0m.1 1.4h0m.1-2.4h0m0-5.7h0m.1 1.4h0m0-.9h0m.1-.8h0m0-2.3h0m.1-2.1h0m0 1.8h0m.1-1h0m.1 1.1h0m0-1.6h0m.1-3.2h0m.1 2.6h0m.1-2.5h0m0 3h0m.1 .7h0m0 2.1h0m.1 .8h0m0 1.5h0m.1 6.1h0m0-4.3h0m.1 5.2h0m.1 3.1h0m0-1.5h0m.1 4.2h0m.1 1.8h0m.1 .6h0m0-2.9h0m.1 4.6h0m0 1h0m.1-.9h0m0 2.9h0m.1 .8h0m0-.6h0m.1 1.6h0m0 2h0m.1 3.9h0m0 3.3h0m.1-1.8h0m0 1.7h0m.1 .9h0m0 2.2h0m.1-1.6h0m0 4.2h0m.1 1.1h0m.1-3.1h0m0 4h0m.1 1.4h0m0 2.9h0m.1 .8h0m0 1.2h0m.1 .8h0m0 2.7h0m.1 5h0m.1 .7h0m.1 2.8h0m.1 3.9h0m0 1.3h0m.1-5.3h0m.1 2.2h0m0 .6h0m.1-.8h0m0 1.1h0m.1 1.6h0m0 .9h0m.1-2.6h0m0 2.5h0m.1-1.6h0m0-.7h0m.1 1.4h0m0-.6h0m.1 1h0m0-.8h0m.1-1.7h0m0 1.9h0m.1-1.4h0m.1 2.5h0m.1-1.5h0m0 .7h0m.1 1.1h0m.1-2.3h0m.1 3.7h0m.1 1h0m0 1.3h0m.1 1.6h0m.1-.8h0m0-1h0m.1 2.2h0m.1-2.5h0m0-3.9h0m.1 3.6h0m0 1.3h0m.1-4h0m0 3.2h0m.1-1.6h0m0-.7h0m.1 1.3h0m0 1h0m.1-1.8h0m.1 2.3h0m0-1.4h0m.1-.8h0m.1-2.4h0m0 .5h0m.1 4.7h0m0 .8h0m.1-1h0m.1 4.6h0m.1-5.2h0m.1 3.1h0m0 1.3h0m.1 .6h0m0-2.4h0m.1 1.3h0m.1 2.2h0m0-5.1h0m.1 4.9h0m.1-4.8h0m.1 2.1h0m0 2.2h0m.1-1.9h0m0 1.2h0m.1 2.4h0m.1-3.2h0m0 .9h0m.1 3.8h0m0-5.7h0m.1 2.4h0m0 .9h0m.1 1.2h0m0-1.8h0m.1-3.2h0m0-1h0m.1-2.1h0m0 3.5h0m.1-.9h0m0-2.3h0m.1 .6h0m.1-2h0m0 1h0m.1-1.4h0m.1 4.5h0m0 5.4h0m.1-4.8h0m.2 .6h0m0 1.4h0m.1-4.3h0m.1 1.2h0m0-4.1h0m.1 2h0m0-1.5h0m.1 5.2h0m0-5.9h0m.1 7.1h0m0-4.9h0m.1 1.1h0m0-1.6h0m.1 1.8h0m0-2.4h0m.1 4.9h0m0-2.3h0m.1-1.9h0m0-1.7h0m.2-1.7h0m.1 .7h0m0-2.5h0m.1 4.2h0m0 2.1h0m.1-.6h0m0 .7h0m.1 .5h0m0-3.7h0m.1 1.4h0m.1 1h0m0-2.1h0m.1 .9h0m0-.6h0m.2 1.1h0m0-1.4h0m.1 4h0m0-5.1h0m.1 3.9h0m0-3.3h0m.1 1h0m0-3.3h0m.1 6.4h0m0-3.6h0m.1-2.5h0m.1 4.1h0m0-1.1h0m.1 2.3h0m0-2.6h0m.1 1.7h0m.1 .5h0m.1-2.7h0m.1 .5h0m.1 3.3h0m0-1.1h0m.1 1.3h0m.1 1h0m0-1.6h0m.1 4.4h0m.1-.6h0m0 2.7h0m.1-1.7h0m.1-3.4h0m.1 3h0m.2 2.2h0m.1 4.5h0m.1-.9h0m0-3.2h0m.1 3.1h0m0-2h0m.1 3.1h0m.1 .8h0m.1 1.1h0m.1-1.4h0m.1 3.1h0m0-2.5h0m.1 2.9h0m0 1.4h0m.1-2.8h0m.1 1.2h0m.1 3.9h0m.1 2.3h0m.1-3h0m.2 1.8h0m.1-1.9h0m.3 5.2h0m.1 .8h0m0-1.1h0m.1 2.7h0m0 2h0m.1-.9h0m.2-1.4h0m0-2h0m.2 2.6h0m0-2.1h0m.1-2.1h0m.1-.5h0m.1-.9h0m.2-4.1h0m.3 .9h0m.1-1.5h0m0-3.8h0m.2 .5h0m.1 2.2h0m0 2h0m.2-1.7h0m0 1.5h0m.1-1h0m0-.7h0m.1 2.4h0m0-6.1h0m.1 7.8h0m0-2h0m.1-1.7h0m0 1.6h0m.1-4h0m0 1h0m.1 1.3h0m.1-1.6h0m.1-1.4h0m.1 6.2h0m0 2.3h0m.1-4.4h0m.1 1.5h0m.1 3.5h0m0-3.4h0m.1-.8h0m.1 2.9h0m.1 .7h0m0 .8h0m.1-2.3h0m0 2h0m.1 .8h0m0-.9h0m.1 .8h0m.1 4.1h0m0-6.8h0m.1 4.1h0m0 1.6h0m.1 3.1h0m0-5.9h0m.1 1.1h0m.3 3.8h0m0-.9h0m.2-1.2h0m.1-2.2h0m.1-.7h0m0 5.2h0m.1-6.8h0m.1 .7h0m0-4.3h0m.1-.8h0m.1 2.9h0m0-5.7h0m.1 3h0m0-1.2h0m.1-6.2h0m0 2h0m.1-6.9h0m0 3.3h0m.1-.7h0m.1-1.7h0m.1-.6h0m.1-3.2h0m0 1h0m.1-1.3h0m0-.7h0m.1-1.9h0m0-2.3h0m.1 .7h0m.1-2.9h0m.1 2h0m.1-2.2h0m0 2.5h0m.2-3.6h0m0 3.1h0m.1-2.8h0m.1-.6h0m0 .6h0m.1 1h0m0-4.3h0m.1 3.1h0m0 .6h0m.1 2.5h0m0-2.5h0m.1 1.5h0m.1-1.2h0m.1 3.3h0m0-.5h0m.1-3.2h0m0 2.3h0m.1 4.7h0m0-3.4h0m.1 3h0m0-2.9h0m.1-1.4h0m.1 4.1h0m0-2.3h0m.1-2h0m.1 4.6h0m0-4.3h0m.1 6.2h0m0-4h0m.1 2.4h0m.1-3.6h0m0 5.6h0m.1-2.1h0m0 .8h0m.2 1.1h0m0 3.3h0m.1 .7h0m0-2.8h0m.1 2.6h0m.1 3.9h0m.1 5.2h0m.1-1.9h0m0 1.6h0m.1-3.8h0m.1 1.9h0m0-3.3h0m.1 2.5h0m0 .8h0m.1-.7h0m.1-1.3h0m0 1h0m.1-.9h0m0-3h0m.1-2.3h0m0 3.5h0m.1-3.3h0m.1-2.8h0m.1-1.3h0m.1 3h0m0-3.8h0m.1 .5h0m.1 4.2h0m.1-3.1h0m0-1.2h0m.1-1.2h0m0 2.1h0m.1-1.3h0m.1-2h0m0 3.2h0m.1 .9h0m0 2.1h0m.1-4.6h0m0 4.1h0m.1-3.8h0m0 1h0m.1 2.3h0m0-1.4h0m.1 1h0m.1-2.5h0m0 2.7h0m.1 1.3h0m0-2.9h0m.1 1.9h0m0-5.1h0m.1 1.6h0m0 2.2h0m.1-.8h0m0 4.5h0m.1-5.7h0m.1 5.9h0m.1-5.2h0m0 5.8h0m.1-2.9h0m0-.6h0m.1 4.2h0m.1-.6h0m0-.8h0m.1-.8h0m0 2.1h0m.1 1.2h0m0-2.9h0m.1-1.1h0m0 3.7h0m.1 .8h0m0 2.9h0m.1-6.4h0m0 4.1h0m.1-3.9h0m0 3.2h0m.1-1.6h0m0 1.1h0m.1-1.9h0m.1 2.5h0m.1 2.7h0m.1-3.7h0m0-2.5h0m.1 5.5h0m.1-4h0m.1 .9h0m0-1h0m.2 .9h0m.2-2.6h0m0 7.6h0m.1-1.9h0m0-.8h0m.1 .6h0m0 1h0m.1 2.4h0m0-2.7h0m.1 2.1h0m.1-2.5h0m.1 1h0m0 2.3h0m.1-1.6h0m0-1h0m.1-1.4h0m0 3.1h0m.1-2.8h0m0-.6h0m.1 1.4h0m0-.7h0m.1-1.4h0m0-2.1h0m.1-2.4h0m.1 1.1h0m.2-3.2h0m0 2.3h0m.1-4.9h0m.1-.8h0m.1 2h0m.1-4.4h0m0 1.5h0m.1-1.1h0m.2-3.9h0m0 1.1h0m.1 1.9h0m0-1.5h0m.1-1.4h0m.1-1.3h0m0-5h0m.1-1.1h0m.1 1.7h0m0 1.6h0m.1-2.3h0m.1 3h0m0-2.3h0m.1 2.5h0m0-2.5h0m.1 .5h0m0-2.4h0m.1 5.1h0m.2 1h0m.1-4.3h0m.1-.7h0m0 1.1h0m.1-.9h0m0 1.8h0m.1-.9h0m0 2h0m.1 .6h0m.1 1.1h0m0 2.7h0m.1 2.6h0m.1-2.1h0m0-2.4h0m.1 4.7h0m.1 3.8h0m.1-2.4h0m0 1.6h0m.1 1.9h0m.1-3.6h0m0 4h0m.1-2.9h0m0-.7h0m.1 6.8h0m.1-2.6h0m.1-1.3h0m0 2.3h0m.1 .6h0m.1 .7h0m0 1.3h0m.1-1.7h0m0 4h0m.1-1h0m.1 1.7h0m0-1.5h0m.1-.9h0m0 2.3h0m.1 3.5h0m0-3.2h0m.1 2.3h0m0 2.8h0m.1 3.2h0m0-1.4h0m.1-2.7h0m0 .7h0m.1 3.1h0m.1 .6h0m.1-3h0m0 2.7h0m.1-3.1h0m.1 1.9h0m.3-1.7h0m0 4.5h0m.1-5.1h0m0 1.6h0m.1-1.1h0m0 4h0m.1 .8h0m0 3h0m.1-3.7h0m.1-2.9h0m0 2h0m.1-1.5h0m0-.7h0m.1-1.9h0m.1 1.6h0m0-2.9h0m.1 3.8h0m0-3.8h0m.1 1.3h0m0-5.2h0m.1 2.9h0m0 1.1h0m.1-5.5h0m0 5.1h0m.1-3.8h0m0 2.5h0m.1-.8h0m0 1.6h0m.1-2.2h0m0-.7h0m.1-2.5h0m.1 .9h0m.1 1.5h0m.1-3.1h0m.1-1.7h0m.2 3.5h0m0-1.7h0m.1-.6h0m0 1.1h0m.1 1.1h0m0 .8h0m.1-1.6h0m0-1.8h0m.1-1.2h0m.1 1.6h0m.1-3.5h0m0 1.5h0m.1 2.6h0m0-2.7h0m.1 4.4h0m.1-2.7h0m0-1.9h0m.1 1.5h0m0-.9h0m.1 1.1h0m0-2.2h0m.1 2.3h0m.1-.7h0m.1 1h0m.1 4.3h0m0-3.6h0m.1 .6h0m.2-4.1h0m.1-1.8h0m0 2.8h0m.1-.7h0m0 .6h0m.2 5.2h0m.1-3.5h0m0 3.3h0m.2-4.4h0m0 5h0m.1-2.6h0m.1-1.2h0m0 1.4h0m.1-.9h0m.1 1h0m.1 3.7h0m.1-2.2h0m0 2.9h0m.1-1h0m.1 2.4h0m0-4.2h0m.1 2.7h0m.1 2.3h0m0-2.4h0m.1-3.6h0m0 3.7h0m.1 4h0m0-2.4h0m.1 .6h0m0-.5h0m.1 3.1h0m0-1.8h0m.1-.7h0m0 .5h0m.1 2.7h0m0-2h0m.2-3.2h0m0 1h0m.1-2.6h0m0 1.1h0m.1 1.8h0m.1 1.9h0m.1-1.8h0m0 .9h0m.1-4.3h0m.1 5.4h0m.2-1h0m0 .8h0m.1 1h0m0 1.3h0m.1-1.3h0m.1 2.1h0m0 .6h0m.1 .8h0m0 1.9h0m.1-2.4h0m0 .6h0m.2 .6h0m.1-1.2h0m0 3.2h0m.1-.8h0m0-4h0m.1 .8h0m.1-.6h0m0 .6h0m.1 .7h0m0 1.9h0m.1 4.3h0m.1-1.5h0m.1-1.8h0m.1 1.6h0m0 2.8h0m.1 1.3h0m.1-3h0m.1-.6h0m0 2.6h0m.1-1.5h0m0 1.7h0m.1-1h0m0-.6h0m.1 2.1h0m0-4.1h0m.1-1.8h0m0 5h0m.1-5.3h0m0 5h0m.1 1.8h0m0-.9h0m.1 2.2h0m.1 .5h0m0 .6h0m.1-3.6h0m0 2.9h0m.1 2.6h0m0-4.7h0m.1-1.5h0m0 1.8h0m.1-1h0m0 2.1h0m.1-1.6h0m.1 1.7h0m0-.5h0m.1 .8h0m0-3.3h0m.2-.8h0m.1-2.8h0m.1 1h0m0 2h0m.1-3.6h0m0 2.5h0m.1 1.4h0m0-.6h0m.1-2.1h0m0 4.3h0m.1-1.9h0m0 1.8h0m.2-5.6h0m0 5.4h0m.1-1.1h0m0-1.8h0m.1 2.2h0m.1-1.3h0m.1 .9h0m.1 1.2h0m.1 2.3h0m.1 2.4h0m.1-3.1h0m.1-1.6h0m.1-1.4h0m.1 .8h0m.1-3.2h0m0 4h0m.1-4.8h0m.1 1.5h0m0 1.4h0m.1-2.5h0m.1 1.6h0m0-3.9h0m.1 1.4h0m0 1.3h0m.1-1.7h0m0 2.7h0m.1-1.2h0m0 1.7h0m.1-4.9h0m0 5h0m.1-2.6h0m.1-.5h0m0-1.2h0m.1 1.5h0m0-1.6h0m.2-1.6h0m0-3.2h0m.1 2.3h0m.1-1.2h0m.1 .8h0m.2 1.1h0m.1-.7h0m0-.7h0m.1 .6h0m.1-1.4h0m0 3.5h0m.2-1h0m.1 1.3h0m0-3.3h0m.1-2.8h0m.1 3.1h0m0 2.7h0m.1-3.1h0m0 3.9h0m.1-1.9h0m.1-1.3h0m.1-2.3h0m0 2.5h0m.1-.6h0m.1 .7h0m.1-.9h0m.1 2.3h0m.1-5.1h0m.2 6h0m0-3.9h0m.1-1.5h0m0 2.1h0m.1 .9h0m0-2.5h0m.1 2.5h0m.2 2.6h0m.1 1.3h0m0-4.3h0m.1 3.5h0m0-1.9h0m.1 2.8h0m.1-1.7h0m0 1.7h0m.1-3.3h0m.1 1.4h0m0-3.3h0m.1 2.2h0m0-2.1h0m.1 1.5h0m0-2.3h0m.1 3.9h0m0 1.7h0m.1 1.7h0m0-2.3h0m.1-.8h0m.1 .7h0m0 1h0m.1 1.5h0m0-4.2h0m.1 3.2h0m0-3h0m.1 1.3h0m0 2.8h0m.1-.9h0m0-2h0m.1-1.8h0m0-2.8h0m.1 2.3h0m.1 .6h0m0-2.2h0m.2 .6h0m0 5.3h0m.1-3.2h0m0-.6h0m.1 3.9h0m.1-.7h0m0-.8h0m.1-4.5h0m.1 1.2h0m0-6.7h0m.1 5.7h0m0-3h0m.1-2.2h0m.1 8h0m.1-5.3h0m.1-3.4h0m0-.8h0m.2-1.7h0m.2-3.7h0m0 1.1h0m.1 1.6h0m0-4.1h0m.1 3.8h0m.1-.6h0m0-5.7h0m.1 2.7h0m0-1.7h0m.1 2.3h0m0 .6h0m.1-2h0m.1-2.7h0m0 1.6h0m.1-3.8h0m0 .8h0m.1-.6h0m.1-5.5h0m.2-3.4h0m.2 2.2h0m0-1.1h0m.1-2.6h0m.2 7h0m0-.5h0m.1-5.3h0m.1 6.1h0m0-3.4h0m.1-.9h0m0 3.2h0m.1-1.1h0m0-5h0m.1 .9h0m.1-3.9h0m.1 3.2h0m0 .6h0m.1-4h0m0-.6h0m.2 1.3h0m.1 1.5h0m0-1.9h0m.2 3.6h0m0-2.3h0m.1 2.5h0m.1 1.8h0m.1-3.5h0m.2-5.3h0m0 4h0m.1-1.9h0m.1-.5h0m.2 4.9h0m.1-1.6h0m.1 1.6h0m0 1.7h0m.1-1.6h0m0 .7h0m.1 1h0m0 2.5h0m.1-2h0m.1 3.2h0m.1-.6h0m.2 2.1h0m.3 1.4h0m.1-4.6h0m0 7.7h0m.1-4.1h0m.1 1.8h0m0-2.8h0m.1 4.8h0m0 .6h0m.1-3.4h0m.1-.8h0m0-1.1h0m.1 4.9h0m0-1.2h0m.1 4.1h0m0-1.8h0m.1-2.3h0m0 3.5h0m.1 .7h0m.1-2.8h0m.1-1.4h0m0 3.9h0m.1-1.7h0m0 1.1h0m.1-2h0m0-4.2h0m.1 9h0m.2-2.4h0m.1 2.1h0m0-.5h0m.1 1.4h0m.1 4.9h0m.1-2.3h0m0-1.8h0m.1 2h0m.1-.9h0m0 3.9h0m.1-3.3h0m.1-.9h0m0 3.3h0m.1-3.2h0m.1 2.6h0m0-2.5h0m.1-1.3h0m0-.7h0m.1 .6h0m0 1.4h0m.1-2.5h0m0 5.6h0m.1-2.4h0m.1-1.1h0m0 .8h0m.1 2.4h0m.1 2.1h0m.1-3.6h0m.1 3.7h0m0-4h0m.1 1h0m.1 2.1h0m.1-.5h0m.2 .7h0m.1 2.3h0m0-2h0m.1 1.8h0m0-1.4h0m.2-.8h0m0 .9h0m.1 2h0m0-1.6h0m.1 1h0m0 3.4h0m.1-1.4h0m0 .9h0m.1-1.5h0m.1 3.8h0m0-5.3h0m.1 4.6h0m0 .9h0m.1-2.8h0m.2-2.2h0m0 2h0m.1 .8h0m0-1.6h0m.1-1.3h0m0-1.2h0m.1 3.7h0m0 2.8h0m.1-2.8h0m0 2.7h0m.1-1.2h0m0 5h0m.1-2.4h0m0 4.8h0m.1-4.9h0m0-1.5h0m.1 5.3h0m0-1.3h0m.1 1.6h0m0-3.9h0m.1 2.7h0m0-5.2h0m.1 2.8h0m0-1h0m.1-2.8h0m0 3.4h0m.1 2h0m0-1.7h0m.1-4h0m0-.5h0m.1 .5h0m0-3.5h0m.1 4.2h0m0-2.5h0m.1 2.3h0m0-2.2h0m.1 3.2h0m.1-1.7h0m.1 1.6h0m0-5.2h0m.1 .5h0m0-2.2h0m.1-.6h0m0 3.3h0m.1-1.7h0m.1 1.7h0m0-1.4h0m.1 1.6h0m0 1h0m.2-2.8h0m0 .8h0m.1 2.4h0m0-3.4h0m.1 .7h0m0-6.6h0m.1 3.6h0m0-4.9h0m.1 2.8h0m0-1.9h0m.1 1.6h0m0-.8h0m.1-1.2h0m0 4.1h0m.1-3.4h0m0 1h0m.1-3.6h0m0 1.3h0m.2-4.2h0m0-1h0m.1-1.4h0m0 2.7h0m.1-1.9h0m0-2.3h0m.1-.5h0m0-4.2h0m.1 1.5h0m0 3.3h0m.1-1.7h0m0 1.1h0m.1-3.6h0m0-2h0m.1 .7h0m0 .6h0m.3-1.1h0m0-4h0m.1 1.9h0m0-2.5h0m.1 3.4h0m0-2.1h0m.1-.6h0m.1-1.4h0m0-.9h0m.1 2.4h0m.1-6.6h0m0-.5h0m.1 3.8h0m.1-3h0m.1 1.3h0m0-1.9h0m.1 2.3h0m.1-4h0m0-.7h0m.1 3.5h0m0-1.1h0m.1-4.2h0m0 1.6h0m.1-4.8h0m0 3.4h0m.1 1.2h0m0-1.2h0m.1 .5h0m0-1.9h0m.1 2.8h0m0-1.4h0m.1-2.1h0m.1 3.7h0m0-3.5h0m.1 2.3h0m.1-.8h0m0 .9h0m.1 2.5h0m0-2.3h0m.1 1.9h0m0-.7h0m.1 .6h0m0-.7h0m.1 5h0m0-1.7h0m.1 2.1h0m.1 1.8h0m0-3.8h0m.1 2.6h0m.1 .9h0m0 4.1h0m.1-4.4h0m0 2h0m.1-3.6h0m0 4.8h0m.1-4.1h0m0 4.1h0m.1-2.1h0m0 2.4h0m.1 4.1h0m0-1.6h0m.1 1.4h0m0-1.8h0m.1 1.3h0m.1-.9h0m0 2.2h0m.1 2.5h0m0 2.2h0m.1-2.7h0m0 .7h0m.1 .8h0m0 3.1h0m.1 2.4h0m.1 1.5h0m0-.6h0m.1-1.5h0m0 1.3h0m.1-.7h0m.1-1h0m0-3.7h0m.1 1.3h0m0 1.7h0m.1 .6h0m0 .7h0m.1-3.1h0m0 1.9h0m.1-.9h0m0 1h0m.1-2.1h0m0 2h0m.1 3.3h0m.1-3.5h0m.1-1.8h0m.1 3.7h0m0-2.2h0m.1 .6h0m.1-1.2h0m0-1.8h0m.1 5.7h0m0-1.1h0m.1-1h0m0 1.6h0m.1-5.7h0m.1-1.6h0m.1 1.3h0m.1 2.4h0m.1-.8h0m.1 1.2h0m0-1.4h0m.1 2.1h0m0-1.4h0m.1 1.8h0m.1-1.5h0m0 2.9h0m.1-.6h0m0 5.9h0m.1-1.5h0m0 2.8h0m.1-2.1h0m0-1.8h0m.1 3.7h0m0-.7h0m.1 2.7h0m0 2h0m.1-2.4h0m.1-1.4h0m.1 4.7h0m0-7.5h0m.1 1.1h0m0 .6h0m.1-1.5h0m0-1.7h0m.1 1.9h0m0 1.4h0m.1-1.2h0m0-1.7h0m.1 2.5h0m0 1h0m.2 1.5h0m0 .8h0m.1-2.8h0m0 5.9h0m.1-5.3h0m.1 1.4h0m0-.6h0m.1-2.6h0m.1 2.2h0m0-3.1h0m.1 3.2h0m0-1.8h0m.1-1h0m.1-1h0m0-.9h0m.1 2.8h0m0-1.8h0m.1-2.7h0m0 2.2h0m.1-1.4h0m0-1h0m.1-1.7h0m0-.6h0m.1 .7h0m0-1.5h0m.1-2.3h0m.1-.7h0m.1-1.1h0m0-2.1h0m.3-2.5h0m.1 1.9h0m0-2.3h0m.1 2.2h0m0 .8h0m.1-1.8h0m0-3.1h0m.1-1h0m0-.6h0m.1 3.3h0m0-3.7h0m.1 4.9h0m0-2.8h0m.2-4h0m0 4.2h0m.1-3.6h0m.1 2.3h0m0-.6h0m.1 2.7h0m0-3.3h0m.1 1.2h0m.1-.9h0m.1 2.7h0m0 2.7h0m.1-3.3h0m0 3.3h0m.2-1.9h0m.1 .9h0m.1 3.5h0m0-2.8h0m.1-2.3h0m.1 1.4h0m0 1.9h0m.1 .9h0m0-5.5h0m.1 2.5h0m.1 4.6h0m.1 2.6h0m.1-1.4h0m0 .8h0m.1 .7h0m.1-1.3h0m.1-2.1h0m.1 5.1h0m.2-2.7h0m.1 3.1h0m0-1.1h0m.1 2.9h0m.1 1.1h0m.2-1.9h0m.1 3.5h0m0-.5h0m.1-1.3h0m0 5.8h0m.1-4.1h0m0 2.5h0m.1 .6h0m.1-4.4h0m.1 4.1h0m0 .8h0m.1-2.6h0m0 3h0m.1 1h0m.1 1.1h0m0 1.2h0m.1-1.2h0m0 .9h0m.2-1.2h0m0-.8h0m.1-1.8h0m0 1.2h0m.1 1.4h0m0-2h0m.1 3.5h0m0-1.3h0m.1 3.2h0m.1-1.2h0m.1-1.4h0m0 3.2h0m.1-1.9h0m.1 2.3h0m.1 2.5h0m0-2.5h0m.1-1.7h0m0-1.8h0m.1 .7h0m.1 1.8h0m.1 3.9h0m0-4.5h0m.1 2.5h0m0-2.3h0m.1 .6h0m0-.8h0m.1 2h0m.1-2.7h0m.1 4.5h0m.1-5h0m.1 2.1h0m.1-2.1h0m.1 3.5h0m.1-.7h0m0 4.3h0m.1 2.9h0m.1-4.5h0m.1 5.1h0m0-2.6h0m.1 2.8h0m0-1h0m.1-5.3h0m0 4.7h0m.1-2.2h0m.1 2.6h0m0 4.2h0m.1-.9h0m0-4.1h0m.1 5.5h0m0 1h0m.1-2.9h0m0-3.4h0m.1 1.9h0m.1-2.7h0m.1 1.1h0m0 2.3h0m.1-2.4h0m0 1.8h0m.1 2.7h0m0 1.5h0m.1-4.2h0m0 .7h0m.1 .9h0m.1 1.5h0m0-.9h0m.1 1h0m0-1.5h0m.1 2.9h0m.1 1h0m0-1.3h0m.1-1.4h0m.1-1.7h0m0 4.1h0m.1-1.9h0m0 1.2h0m.1-4.7h0m.1-2.6h0m.1 .7h0m.1-2.6h0m0 1.7h0m.1-2.6h0m0-2.9h0m.2 .9h0m0-2.7h0m.1 2.8h0m0-2.7h0m.1-2.3h0m0-1.1h0m.1-1h0m.1-.5h0m.1-.7h0m.1-1.1h0m.1 3.8h0m.1-6.2h0m0 3.6h0m.1-2h0m.1-3.4h0m.1 4.3h0m0-4.8h0m.2 2.9h0m0-2h0m.1-2.3h0m.1 1.3h0m.1-1.1h0m0 3h0m.1-3.1h0m0-1.6h0m.1 .6h0m0 2.5h0m.1 .7h0m0-2.7h0m.2 2.9h0m0-3.3h0m.1 .6h0m0-2.6h0m.1-2.4h0m.1 2.3h0m0-.8h0m.1-.8h0m0-.6h0m.2 1.3h0m.1-.6h0m.1 3.6h0m0-2.5h0m.1 2.7h0m.1 3.7h0m.3-6h0m.1-1.8h0m0 5h0m.1-.7h0m.1 .8h0m0 3.7h0m.1-1.1h0m0 4.8h0m.1-3.1h0m0 .9h0m.1-1.8h0m0 1.8h0m.1-1.3h0m.1 1.4h0m0-1h0m.1 .6h0m0-1.1h0m.1 2.4h0m0 1.2h0m.1 .9h0m.1 1.7h0m0-2.2h0m.1 .6h0m.1 3.5h0m0 .7h0m.1 2.5h0m0-4.2h0m.1-.9h0m0 4.1h0m.1 .7h0m0 .9h0m.1-2.3h0m.1 1.3h0m0-2.8h0m.1 1.1h0m.1 .6h0m0-2h0m.1 5.2h0m0 .8h0m.1-1.2h0m0 2.8h0m.1-4.6h0m0 2.4h0m.1-2.9h0m0 2.3h0m.2-1.2h0m0 3h0m.1-1.6h0m0-.8h0m.1 3.6h0m.1-1.8h0m0 3.2h0m.1-1.6h0m0-1.1h0m.1-1.8h0m.1 .9h0m0-4.3h0m.1 3.6h0m0-.7h0m.1 2.2h0m.1-1.3h0m0-2.1h0m.1-.7h0m0-.7h0m.1-3.4h0m0 1.5h0m.1 1.4h0m0 2.3h0m.1-2h0m.1 .9h0m0-1.3h0m.1-2.4h0m0 3.3h0m.1-3.8h0m0 4.3h0m.1 1.6h0m.1-2.7h0m0 1.9h0m.1-3.3h0m0-1.2h0m.1-2.5h0m.1 3.2h0m0-5h0m.2-1.4h0m0-2.1h0m.1-.9h0m.1-3.6h0m0 3.4h0m.1-1.3h0m0-2h0m.1 .5h0m.1-3h0m0 3.2h0m.1-4.7h0m.1-.9h0m.2 1.5h0m0-3h0m.1 2.5h0m0-1.4h0m.1 .8h0m.1-.7h0m.2-.8h0m.1 .8h0m0-1.8h0m.1-3.6h0m.1 3.6h0m.2 2.8h0m0-.7h0m.1 3.2h0m.1-3.3h0m0 .6h0m.1-3.2h0m0 7.3h0m.1-2h0m.1-3.1h0m.1 3.4h0m.1-5.6h0m.1 2.6h0m.1-1.6h0m0 3h0m.1-.7h0m0 2.9h0m.1-6h0m.1-1.5h0m.1 6.5h0m.1-4h0m0 3.4h0m.1-4.1h0m0 3.5h0m.2 1.5h0m.1 1h0m.1-3.1h0m.1 4.2h0m0-1.1h0m.1 2.6h0m0 1.3h0m.1-3.7h0m0 1.1h0m.1 3.6h0m0-4h0m.1-.6h0m0 .7h0m.1-1.4h0m.1 .7h0m.1-2h0m.1 3h0m.1 .7h0m0-1.1h0m.1-1.6h0m.1-1.9h0m0 3.2h0m.1-1h0m0-1.5h0m.1 .8h0m0 6.9h0m.1-6.2h0m.1 5.5h0m0-3.4h0m.1-1.6h0m.1 2.5h0m0-.8h0m.1 .9h0m0-3.6h0m.1 1.3h0m.1 1.9h0m.1 .6h0m.1-3.2h0m.1 5.3h0m0-3.4h0m.1 2.8h0m0-3h0m.1 2.1h0m0-.7h0m.1-4.1h0m0 .7h0m.1 .9h0m0-.7h0m.2 1.8h0m0-1.9h0m.1 4.1h0m.1-1h0m0 1.4h0m.1 1.9h0m0-2.2h0m.1-1.1h0m0 4.2h0m.1-2.3h0m0 .9h0m.1-1.9h0m0 1.1h0m.1 2.5h0m.1-.8h0m0-3.8h0m.1 2.2h0m0-2h0m.1 3.8h0m0-1.1h0m.1 2.7h0m0 2.8h0m.1 1.7h0m.1-.7h0m0-3.1h0m.1 .8h0m.1-5.7h0m0 5.4h0m.1-3.4h0m0 .6h0m.1 2.1h0m.1 .8h0m0-2.4h0m.1 1.3h0m0-1.8h0m.1-1.3h0m0 6.2h0m.1-4.6h0m0 2.8h0m.1-2.9h0m0 1.4h0m.1 2.3h0m.1-1.9h0m0 1.3h0m.1-.5h0m0 2.4h0m.1 .6h0m0-3h0m.1 .5h0m0-1.2h0m.1-1h0m0 2.9h0m.1 2.8h0m.1 2.6h0m0-1.6h0m.1-3h0m.1 1.9h0m0-1.6h0m.1 2.8h0m0-.8h0m.1-.5h0m0 2.3h0m.1 .6h0m.1-1.8h0m.1-1.1h0m0-.6h0m.2 3.9h0m0-5.5h0m.1 3.4h0m0 3.2h0m.1-4.8h0m0 3.4h0m.1-1.7h0m0-1h0m.1 3h0m0-2.5h0m.1 1.6h0m.1 2.7h0m0-.9h0m.1-1.1h0m0 1h0m.1-1h0m0 1.2h0m.1-.8h0m0 1.1h0m.1 1.6h0m0 2h0m.1-2.2h0m0-2.3h0m.1 1.8h0m0-1.1h0m.1 4.4h0m0-1.2h0m.1-2.7h0m0-.9h0m.2 1.9h0m0 .6h0m.1-1.2h0m.1-2.9h0m0 3.3h0m.1-1.9h0m.1 1.4h0m.1-1.2h0m0 1.5h0m.1-7.1h0m0 4h0m.1 .8h0m0-4h0m.1 6.1h0m0-4.2h0m.1 .6h0m0-4.1h0m.1 3.9h0m.1-1.4h0m0-1.9h0m.1-2.4h0m.1 .6h0m0-5.4h0m.1 2.3h0m.1-2.9h0m0 3.3h0m.1-4.1h0m0 1.8h0m.1-.9h0m.1-1h0m.1-5.1h0m.1 .7h0m0 1.5h0m.1 2.5h0m.1-3.8h0m0 3h0m.1-1.7h0m0 3.5h0m.1-4h0m.1-3h0m.2 1h0m0 1.7h0m.1-1.4h0m.1 1.4h0m0-1.2h0m.1 3.7h0m0-.5h0m.1-1.1h0m0 1.4h0m.1-2.2h0m0-1h0m.1 2.7h0m0-2.2h0m.1 3.2h0m0-2.3h0m.1-.8h0m.1-2.6h0m.1 3.4h0m0 1.4h0m.1 2.3h0m.1-1.4h0m0 3.5h0m.1-2.2h0m0 5.2h0m.1-3.1h0m0-1.1h0m.2 4h0m.1-.8h0m.1-2h0m0 .7h0m.2-2.1h0m.1 4h0m.2-2.9h0m0-2.6h0m.1 4.5h0m0-.6h0m.1-.6h0m0-.9h0m.1 1.5h0m0 3.2h0m.1-1.9h0m.1 3.1h0m0-.6h0m.1-4.2h0m.1 2.6h0m0 2.5h0m.1-3.9h0m0 1.7h0m.1-.9h0m.1-3.1h0m0-2.8h0m.1 3.3h0m0 5.3h0m.2-.5h0m0-1.9h0m.1 2.2h0m.1-2.2h0m0 4.1h0m.1-6.4h0m0 2.7h0m.1 2.1h0m.1 1.5h0m.1-2.7h0m.1 .8h0m.1 1.7h0m.1-1.1h0m.1 .9h0m0-1.1h0m.1-1.2h0m0 1.9h0m.1-4.2h0m0 3.4h0m.1-3h0m0 .6h0m.1-2.9h0m0 4.1h0m.1-.6h0m.1-2.5h0m0 2h0m.1-2.9h0m0-1.2h0m.1-1.2h0m.1-1.8h0m.1 .9h0m0-3.4h0m.2 2.1h0m.1 .7h0m0-2.2h0m.1 2.3h0m0-.8h0m.1-5.3h0m0 4.8h0m.1-.8h0m0 1.4h0m.2 1.2h0m.1-1.2h0m0 1.1h0m.1-3.2h0m0 3.7h0m.1 2.4h0m.1-5.5h0m0 4.9h0m.1-1.6h0m0 3.1h0m.1-2.5h0m.1 4.1h0m0 2.2h0m.1-4.3h0m0 .9h0m.2-1.4h0m0 1.8h0m.1-1.1h0m.1 5h0m.1-1.2h0m0-1.3h0m.1-1.1h0m.1 3.7h0m.1-1.6h0m.2-.7h0m.1 .9h0m0 1.6h0m.1-1.8h0m.1-4h0m0 1.3h0m.1-.6h0m0 2.9h0m.1-2.9h0m0 1.1h0m.1-2.3h0m.1 2.3h0m0 .7h0m.1-2.9h0m0-4.9h0m.1 4.6h0m0 3.2h0m.1-4.2h0m0 1h0m.1-1.9h0m0 4.1h0m.1-1.8h0m0-2.7h0m.1 2h0m.1-1.6h0m.1-1h0m.1 .5h0m0-.8h0m.1 1h0m.1 2.4h0m.1-6h0m.1 3.1h0m0-.8h0m.1-6.3h0m0 6.1h0m.1-1.9h0m0-3.3h0m.1 2.9h0m0 3h0m.1-2.2h0m.1-5h0m.1 4.9h0m.1-2.1h0m.1 1.9h0m0-3.4h0m.1 4.9h0m.1-1.8h0m0 1.1h0m.1 4.2h0m0-4.5h0m.1 1.9h0m0-1.2h0m.1-1.2h0m.1 .6h0m0-.6h0m.1 1.7h0m0-.7h0m.1 6.3h0m.1-5.6h0m0 1.8h0m.2-1.1h0m0-.8h0m.1 3.1h0m.1 5.3h0m0-3.3h0m.1 1.7h0m0-2.7h0m.1 3.3h0m0-5.4h0m.1 3.9h0m0 1.4h0m.1-1.2h0m.1 1.2h0m0-2.1h0m.1 5.2h0m0-2h0m.1 3.6h0m0-1.2h0m.1 2.6h0m.1-.5h0m0-2.8h0m.1 3h0m0-3.8h0m.1 1.2h0m0 1.3h0m.1 3.6h0m0 .7h0m.2-.8h0m.1-1h0m0 3.4h0m.1 2.2h0m0 1.5h0m.1-.7h0m0-1.1h0m.1-1.1h0m.1 3h0m0 3.7h0m.1 2.1h0m0-1.2h0m.1-1h0m.1 .7h0m0-4.7h0m.1 1.2h0m0-2.6h0m.1 1.5h0m.1 3.3h0m0 1.2h0m.1-3.1h0m0 2.4h0m.1-.7h0m.1-1.6h0m.1 2.3h0m0 1.1h0m.1 1h0m0-.7h0m.1-2.5h0m0 2.6h0m.1-3.6h0m.1 4.2h0m0 .5h0m.1 1.1h0m0-3.5h0m.1 5h0m0-.7h0m.1 1.7h0m0-2.2h0m.1 1h0m.1-.7h0m0 1.1h0m.1 1.4h0m0-3.3h0m.1 2.1h0m.1-3.2h0m0 3.6h0m.1-3h0m.1 3.7h0m0-2.7h0m.1 1h0m0 3.9h0m.1 2.6h0m0-.7h0m.1-2.4h0m0 2.1h0m.1 2.6h0m.1-.9h0m.1-1.2h0m0 1.5h0m.1 3.9h0m.1-2.7h0m.1-.8h0m0 2h0m.1-2.2h0m0 2h0m.1 1.6h0m0 .7h0m.1 .8h0m0-1.3h0m.1-1.4h0m.1-4h0m0 1.3h0m.1 .5h0m0 2.1h0m.1-2.7h0m0 2.2h0m.1-1.8h0m.1 1h0m0-2.9h0m.1 1.3h0m0-3.6h0m.1 2.4h0m0-3.6h0m.1 3.5h0m0-5.7h0m.1-.7h0m0 1.1h0m.1 1.8h0m0-2.9h0m.1-3.5h0m0 .8h0m.1-2.2h0m0-2.1h0m.2-2.6h0m0 2h0m.1-4h0m.1-4.2h0m0 1.6h0m.1-4.7h0m0 4.7h0m.1-4.7h0m0-2.2h0m.1 4.7h0m0-4.6h0m.1-2.1h0m.1-1.1h0m0-.5h0m.1-1.8h0m.1-4.8h0m0-1.7h0m.1-2.7h0m0 1.2h0m.1-2.1h0m0 1.3h0m.1 1.6h0m.1-6.3h0m0 3.2h0m.1-6h0m0 4.4h0m.1-4.2h0m0-.7h0m.1-.7h0m0-2.5h0m.1 3.8h0m.1-4.4h0m.1 3h0m0 1.3h0m.1-6.5h0m.1 2.2h0m.1-2.1h0m0 2h0m.1 1.1h0m.1 3.8h0m0 1.8h0m.1-1.8h0m0 5.3h0m.1-3.5h0m0-1.3h0m.1-3.4h0m0 1.4h0m.1 2.2h0m.1-2.1h0m0-.9h0m.1 5.5h0m.1 1.5h0m0 3.9h0m.1-4.4h0m0 2.4h0m.1-3.6h0m0 4.2h0m.1-2h0m.2 1.4h0m.1 2h0m.1-2h0m0 5.4h0m.1-4.2h0m0 1.7h0m.3 1.5h0m0 1.4h0m.1 1.5h0m0-1.7h0m.2 1h0m.1 2h0m0-.8h0m.1-1.2h0m.1 1.2h0m0-1.3h0m.1-.6h0m0 6h0m.1-5h0m.1 4.3h0m0 3.1h0m.1-5.1h0m.1 1.3h0m0 1.5h0m.1-2.6h0m.1-1.8h0m.1 1.3h0m.1-1.9h0m0 2.7h0m.1-2.7h0m.1-.6h0m.1 2h0m0 2.5h0m.1 1.6h0m0-2.2h0m.1 .7h0m0 1.6h0m.1-2h0m0 5.3h0m.1-4.9h0m0 1.3h0m.1 .9h0m.1-2.5h0m0 .8h0m.1 3.1h0m0 2.5h0m.1-4.6h0m0 2.2h0m.1 1h0m0 .5h0m.1 .9h0m.1 .6h0m0-3.9h0m.1-.7h0m.1-1h0m0 5.7h0m.2 1.4h0m.1-.9h0m.1 2h0m0 1.6h0m.1-.9h0m0-2.2h0m.1-2.2h0m0 1h0m.1-3.8h0m.1 1.9h0m0 1.3h0m.1 3.4h0m0-1.3h0m.1 1.9h0m.1-1.2h0m0-1.7h0m.1 5.5h0m.1-2.1h0m0-4.4h0m.1 3.5h0m0 1.5h0m.1-1.4h0m0 2.4h0m.1 1h0m0-1.5h0m.1-3.1h0m.1 .9h0m0 3.5h0m.1 1.2h0m.1 1.4h0m0-.6h0m.1-4.1h0m0 3.5h0m.1-3.5h0m.1 1.5h0m0 1h0m.1 1.9h0m.1-2h0m0-.9h0m.1 1.6h0m.1-2.5h0m.1 .8h0m.1 2.6h0m0-2.3h0m.1-2.5h0m0 2.3h0m.1 1h0m0-1.2h0m.1 2.5h0m0 2.1h0m.1 .8h0m0-.6h0m.1-2.1h0m0 1.8h0m.1-3.6h0m.2 1.5h0m0 1h0m.1 .9h0m0 1.3h0m.1-2.4h0m.1 2.5h0m0-2.9h0m.1 3.9h0m0-4.5h0m.1-.6h0m.1-1.1h0m.1 1h0m.1 2.9h0m0-2h0m.1 2.4h0m.1-3.5h0m0-.5h0m.1 1.5h0m0 2.3h0m.1-3.6h0m0 1.1h0m.1-3.9h0m0 3.8h0m.1-3.6h0m0 3.3h0m.1-2.7h0m0-1h0m.1 3.2h0m.1-2.7h0m.1 3.4h0m0 2.2h0m.1-3.9h0m0-1.7h0m.1-3.1h0m0 5.4h0m.1-1.9h0m0-3h0m.1 2.7h0m0-.7h0m.1-.7h0m0-1.5h0m.1 5.1h0m0-3.5h0m.1-1.1h0m0 1.6h0m.1 1.4h0m0 2.2h0m.1-2.8h0m0-1.2h0m.1 2.7h0m0-2.4h0m.1-1.5h0m.1 2.9h0m0-1.4h0m.1-2.8h0m.1 2.5h0m0-.6h0m.1-2.7h0m0 4h0m.1 1.9h0m.1-1.8h0m.1-2h0m0-.7h0m.1-1.1h0m0 5.3h0m.1-3.8h0m0-1h0m.1 2.1h0m0-1.2h0m.1-1.7h0m0-2.2h0m.1 1.4h0m0-4.3h0m.1 3.3h0m.1 3.2h0m.1-7.8h0m0 5.4h0m.1 1.8h0m0-4.5h0m.1-4.7h0m.1 2.1h0m0 3h0m.1-2.9h0m0-2.8h0m.1 1.4h0m0-2.7h0m.1 3.4h0m.1-1.4h0m0 1h0m.1-2.1h0m0-4.2h0m.1 4.4h0m.1-.9h0m0 2.7h0m.1 1.7h0m0-1.3h0m.1 1h0m0 3.7h0m.1-3h0m0-.6h0m.1 2.9h0m.1-4.5h0m0 3.1h0m.1 2.1h0m0-1.9h0m.1-2h0m0-.7h0m.1-3.9h0m0 3.9h0m.1 2.1h0m0-1.6h0m.1 2h0m.1-2.8h0m.1 1.6h0m0 3.7h0m.2-3.4h0m0 .8h0m.1 2.5h0m0 .6h0m.1 1h0m0 1.1h0m.1-2h0m0 2.3h0m.1-1.7h0m.1 1.3h0m0-2.9h0m.1-1.9h0m.1 2.9h0m.1 .9h0m.1 2.1h0m.1-4.4h0m0 2.2h0m.1-2.5h0m.1 1.4h0m0-1.3h0m.1 1.5h0m0 3h0m.1-2.4h0m0 1h0m.1 .9h0m0-1.6h0m.1-1.7h0m0 3.4h0m.1-.6h0m.1 3.5h0m0-1.8h0m.1 3.6h0m0-4.9h0m.1 1.9h0m0 1.2h0m.1 3h0m0-4.2h0m.1 3.2h0m.1 1.6h0m0-3.1h0m.1 1.1h0m.1 1h0m.1 3.1h0m0-4.4h0m.1 .7h0m0-1.5h0m.1-2h0m0 3.8h0m.1-3.7h0m0 5.1h0m.1-1.3h0m.1-.5h0m.1 2.5h0m0-1h0m.1-1.8h0m.1 1h0m.1-1.2h0m.1 1.5h0m.1-3.3h0m.1 1.6h0m0 1.9h0m.2 1.2h0m.1-.6h0m0-2.4h0m.1 1.2h0m0 .9h0m.1-.6h0m.1 1.1h0m0-1.8h0m.2 3.6h0m0-4.5h0m.1 4h0m0-1.9h0m.1 1.8h0m0-3.3h0m.1 2.8h0m0 .6h0m.1-1.7h0m0 1.4h0m.1-1.6h0m0 1.3h0m.1-.9h0m.1 4.2h0m0-2.5h0m.1 .6h0m0-.9h0m.1-.8h0m0 2.3h0m.1 .6h0m0-.7h0m.1-3.4h0m0 1.5h0m.1-.9h0m0 2h0m.2 1.3h0m0-1h0m.1 1.9h0m.1-.7h0m0 3.2h0m.1-4.2h0m0-2.5h0m.1 2.9h0m.1-.8h0m.1 3.7h0m0-3.4h0m.1-2.1h0m.1 1.9h0m0-1.5h0m.1-.8h0m0 2.5h0m.1-1h0m0 2.8h0m.1-5.5h0m0-1.5h0m.1 5.6h0m0-4.2h0m.1 3.1h0m0-1.3h0m.1 3.7h0m.1-2h0m0-1.6h0m.1 .6h0m0-.6h0m.1-.6h0m.1-2.2h0m0-1.7h0m.1 2.6h0m0 2.7h0m.1-3.3h0m0 1.6h0m.1-3.6h0m.1 .5h0m0-3.7h0m.1 5.1h0m0-3.9h0m.1 3.2h0m0 2.9h0m.1-3.3h0m0-1.6h0m.1-4h0m0 3.5h0m.1 .6h0m0-3.1h0m.1 3.7h0m0-3.2h0m.1 2h0m.1-4.7h0m.1 4.5h0m.1-3.4h0m.1 1.6h0m0-1.5h0m.1 3.4h0m.1-5.9h0m.1 1.7h0m0 .6h0m.1-1.7h0m.1 .6h0m0 4.2h0m.1-1.5h0m.1 .7h0m0-2.7h0m.1 3.8h0m0-.5h0m.1-.9h0m.1-1.7h0m0 4.6h0m.1-2.7h0m0 2.4h0m.1 1.3h0m.1-.7h0m0 2.3h0m.1-2.9h0m0 2.6h0m.1-1.6h0m0 4.9h0m.1-3.4h0m.1-.7h0m.1 3.8h0m.1-.8h0m0 2h0m.1-3.6h0m.1 .9h0m.1 2.9h0m.1-2.9h0m0 .8h0m.1-1.3h0m.1-2.7h0m0-.5h0m.1 2.6h0m0-2.4h0m.1-3.8h0m.1 7.7h0m0-8h0m.1 2.9h0m.1-.5h0m0 1.3h0m.1-.7h0m0 1.2h0m.1-1.4h0m0 1.3h0m.1-2.4h0m0 3.9h0m.1 .5h0m0-1.2h0m.1-1h0m.1 2.7h0m0-.6h0m.2-2.2h0m.2-.8h0m.1 2.6h0m0-2.2h0m.1 .7h0m.1 2.1h0m0-2.3h0m.1-.6h0m0-1.9h0m.1-2.2h0m0 2.2h0m.1 .9h0m0 1.5h0m.1 .7h0m.1-5h0m0 7h0m.1 .6h0m.1-2.3h0m.1 .5h0m0-3.5h0m.1 4.9h0m0-2.2h0m.1-2h0m.1 2.9h0m.1-2.8h0m.1 1.8h0m0-2.6h0m.1-.7h0m.1 3.7h0m.1 2.3h0m0-.6h0m.1-.6h0m.1 .6h0m0-.5h0m.1-3.2h0m.1 2.6h0m0 1.3h0m.1-1.2h0m0-2.6h0m.1 1.5h0m0-2.5h0m.1 2.5h0m.1-1.4h0m.1 .7h0m0-1.1h0m.1 3.7h0m0-2.7h0m.1 1.3h0m.1 1.4h0m0-3.2h0m.1 2.5h0m.1 1.8h0m0-4h0m.1 2.5h0m0-2.6h0m.2 2.4h0m0-2.6h0m.3-1.4h0m.1 1.8h0m.1 4.1h0m.1 1.2h0m0-5.2h0m.1 2.2h0m0 1.8h0m.1-2.6h0m.1-1.8h0m0 3.1h0m.1 2.2h0m0-.7h0m.1-2.8h0m.1 3h0m0 1.1h0m.1 1.1h0m0-.7h0m.1 1.3h0m0 1.6h0m.1 .5h0m0-1.3h0m.1 1.3h0m0 1.4h0m.1-3.8h0m0 3.7h0m.1 .8h0m.1-3.8h0m0 5.4h0m.1-.9h0m0 2.1h0m.1-3.4h0m0 .8h0m.1-3h0m.1 .9h0m0 3.1h0m.1-3h0m.1 2.8h0m0-3.9h0m.1 1.5h0m.1-1.6h0m0-1.9h0m.1-.8h0m0-.8h0m.1 2.9h0m.1 1.6h0m0 2.5h0m.1-5.6h0m0 7.3h0m.1-8.1h0m.1 3.8h0m0-.5h0m.1-1.4h0m0 1.6h0m.1-2h0m.1 2.3h0m.1-1.3h0m.1 1.7h0m.1-1.8h0m0 2.4h0m.1-3.9h0m0 1.9h0m.1 1.2h0m0-1h0m.2 .6h0m0-2.7h0m.1 2.4h0m0-3.6h0m.1 1.4h0m0 1h0m.1-7.2h0m0 2.9h0m.1 2.8h0m0-1.6h0m.1 3.8h0m0-2.7h0m.1 2.5h0m0 .6h0m.1-1h0m.2-1.1h0m0 2.1h0m.1-3.1h0m0-1.6h0m.1-1.6h0m.1 3.7h0m0-2.4h0m.1-3.9h0m0 1.9h0m.1 1.7h0m.1-1.1h0m.1 2.2h0m0-1.9h0m.1 2.9h0m0-2.7h0m.1 2.9h0m0-1h0m.2 2.2h0m0-2.8h0m.1 3.6h0m0-1.7h0m.1-2.3h0m0 3.6h0m.1-1.4h0m0-1.2h0m.1 3h0m.1 1.4h0m.1-1.1h0m.1 2.1h0m0-3.3h0m.1 .6h0m0 .8h0m.1 2.1h0m0-2.4h0m.1 3.1h0m.1-4.4h0m0 1h0m.1-2.3h0m.1 2.2h0m0 .9h0m.2-2.8h0m0 2.9h0m.1 1.3h0m.1-3.9h0m0 2.1h0m.1-1.3h0m0 1.6h0m.1 2h0m.1-2.9h0m0 1.5h0m.1-1.9h0m0 1.4h0m.1-.6h0m0 3.1h0m.1-2.9h0m0-2.3h0m.1 1.2h0m0 1.6h0m.1-2.1h0m.1 2.1h0m.1-3.7h0m0 3.7h0m-359.8-30.5h0m-1.4-3.7h0m1.4-3.4h0m-1.2-3.9h0m.8-3.7h0m-.7-4.2h0m.5-4h0m-.4-2.3h0m.3-3.8h0m33.4 37.1h0m1.2-2.5h0m-1.3-2.8h0m1-2.6h0m-.6-3.8h0m.3-3.5h0m0-1.9h0m25.4-26.4h0m-1.2-3.7h0m1-3.9h0m-.9-4h0m.7-3.4h0m-.4-3.6h0m0-2.9h0m0-1h0m12 40.1h0m-1.3-3.2h0m1.1-2.8h0m-.9-2.6h0m.8-2.8h0m-.7-3h0m.5-3.3h0m-.3-3.6h0m81.5 20.1h0m1.5-2.8h0m-.8-4.1h0m.1-3h0m.1-.1h0m30.4-34.9h0m-1.1-3.8h0m.7-3.3h0m-.4-4.3h0m.1-3.5h0m.1-.4h0m5 81.8h0m-1-3.9h0m.5-3.5h0m-.4-3.5h0m.2-.7h0m56.7 5.5h0m-1.2-4h0m.8-2.5h0m-.3-1.5h0m21.6 3.3h0m1.4-2.8h0m-1-3h0m1-2.5h0m-.8-2.8h0m.3-3.5h0" fill="none" stroke="#0000ff" stroke-width="1.2" stroke-linecap="round"/>
<path d="M33.2 472.4L33.5 467.7M105.5 480.2L107 449.4M108 442.7L108.2 447.2M109.5 460.5L110 469.3M126 471.6L127.2 445.3M128.5 435.8L128.8 440.8M147.5 462.4L147.8 457.4M169.8 469.7L171.2 438.1L172 415.1M173.5 418.1L174.8 446.6M181.5 467.1L182.5 448.5L183 434.2M196.5 482.4L197.5 443.3M207.8 487.1L208.2 477.4M209.5 465.4L209.8 460.8M219.8 450L220 455.9M241.2 483L242.8 451.2M262.5 464.1L262.8 459.1M270.2 457.3L271.2 424.5L272.2 404.5L272.8 416.6M279 477.6L280 450.3L281 415.3L281.5 432M285 465.8L285.8 446.5M287.2 437.5L287.5 433M291.8 459.8L292 464.6M293.5 471.5L294.2 447.8L295.8 394M296.5 388.5L297 401.7M297.5 409.8L299 448.2M304 462L304.2 457.6M308.5 466.7L308.8 471.3M315.8 479.5L316.2 466.2L317 452.4M320.5 466L320.8 461.5M352.5 475.3L353 466.4M370 432.5L370.2 438.2M371 442L371.2 446.5M397 459.1L397.2 453.3M416.8 469.2L417 463.6M430.5 479.5L432 446.6L432.2 441.9M432.5 440L433 430.1" fill="none" stroke="#000" stroke-width="0.35" stroke-linejoin="round" opacity="0.85"/>
<path d="M24.5 474.8L24.8 473.9L25 474.2L25.2 471.4L26 468.6L26.2 469.3L26.8 466.5L27.5 471.3L28 472.9L28.2 472.5L28.8 476.6L29 477L29.5 481.5L29.8 478.9L30 479.8L30.2 482.6L30.5 482.7L30.8 482.4L31.2 484L31.5 484.2L33 473.1L33.2 472.4M33.5 467.7L33.8 467.4L34 463L35.2 473.1L35.8 474.6L36.2 477.7L36.5 476.8L36.8 477.9L37.5 476.3L39 468.7L39.2 469.9L39.5 467.3L39.8 468.2L40 466.5L40.8 473.7L41 472.2L41.5 476.1L41.8 475.9L42 477.9L42.2 477.8L42.5 479.2L43 482.8L43.2 483.7L43.5 486.5L43.8 486.4L44.2 488.5L44.5 488.8L44.8 490.9L45 489.8L45.2 490.1L45.5 492.7L46 491.8L46.5 495L46.8 495.6L47 494.8L47.2 494.7L47.5 497.5L47.8 497.3L48 498.6L48.5 498L49 499L49.2 497L49.5 498.9L49.8 499L50 498.2L50.2 499L50.5 499.1L50.8 498.3L51 499.8L51.2 498.4L51.5 498.2L52 499.1L52.2 497.1L52.5 496.5L54.2 477.8L55.2 469.6L55.5 466.3L55.8 466.2L56 467.3L56.2 470L56.8 470.8L57 470L57.2 470.8L57.5 471L57.8 470.7L58 472.8L58.2 469.9L58.8 468.8L59 465.9L59.2 467L60 464.6L60.2 464.5L60.5 466.3L60.8 466.5L61 467.8L61.2 467L62 472.8L62.2 473L62.5 475.4L62.8 475.6L64 466.4L65.2 452.1L66 454L66.5 458L66.8 458.6L67.8 472.3L68.2 475.8L68.5 476.6L68.8 480.4L69 480.6L69.2 479.6L69.8 481.9L70 480.6L70.2 480.5L71 471.6L71.5 469.1L72 465L72.2 465.3L72.5 467.4L72.8 467.8L73 469.8L73.8 472.7L74 476.9L74.2 476.9L74.5 477.4L74.8 478.5L75.2 476.1L75.5 476.8L75.8 476.1L76 473.4L76.2 474.1L76.5 472.6L77 471.3L77.2 471.9L77.5 470.1L77.8 470.9L78 472.9L78.2 470L78.5 470L78.8 469.5L79 467.5L79.2 466.9L79.8 470L80.2 469.8L80.8 471.1L81 470.3L81.2 472.2L81.5 471.2L81.8 471.6L83 465.3L83.8 455.9L84.5 450.3L84.8 449.6L85.2 443L86 440.8L86.5 444.3L86.8 447.5L87 448.1L87.2 447.7L89 470.4L89.2 471.8L89.5 475.2L89.8 477.2L90 477.4L90.5 482.5L91 484.1L91.2 481L91.8 479.4L92.2 476L92.5 476L92.8 474.6L93 470.2L93.5 470.2L93.8 472.8L94 472.9L94.2 474.3L94.5 474.2L95 478.5L95.2 478.1L95.8 483.3L96 483.2L96.2 484.1L97.2 471.7L97.5 470.3L97.8 470L98.2 464.4L98.8 462.9L99.2 467.6L100.2 473L100.5 473.2L100.8 473.7L101 476.5L101.2 473.9L101.5 475.1L102 471.8L102.2 468.7L102.5 469.9L102.8 468.2L103.5 471.8L104 477.4L104.2 476.1L104.8 477.8L105.2 482.5L105.5 480.2M107 449.4L107.2 449.5L107.5 445.2L107.8 445.2L108 442.7M108.2 447.2L109.5 460.5M110 469.3L110.2 471.9L110.5 471.7L111 473.5L111.2 476.2L112.2 469L113.5 449.7L114.2 442.2L117.5 484.1L117.8 484L118 486.4L118.8 489.5L119 487.8L119.2 488.8L120.2 480.4L121.2 467.1L121.5 466.1L122 459.9L122.2 458.2L122.5 457.7L122.8 458L123 454.6L123.2 454.1L123.8 456.9L124 460.5L124.5 464.5L124.8 465L125.8 473.4L126 471.6M127.2 445.3L128 435.5L128.2 434.1L128.5 435.8M128.8 440.8L129.2 444.3L130.2 461.4L130.5 462.6L131 470L131.8 475.2L132 475.3L132.5 479.2L132.8 479.8L133.2 478L133.5 477.9L134 476.5L134.5 472.4L135 471L135.2 467.5L135.8 466.6L136.2 464.1L136.5 464.5L136.8 462.8L137 463.1L137.2 461.2L137.5 461.1L137.8 460L138 460.7L138.2 460.1L138.5 460.3L138.8 461.3L139 463.7L139.2 463.2L140 467.2L140.5 471.2L141 473.1L141.5 476.7L141.8 477L142 476L142.2 478.9L142.5 478.6L142.8 480.9L143 481.4L143.5 484.9L144 480.4L144.2 481.3L144.5 479.9L144.8 479.8L145.5 476.6L145.8 474.5L146 474.3L147 467.2L147.2 463L147.5 462.4M147.8 457.4L148 455.4L148.2 454.2L148.5 454.1L149 451L149.5 456.3L150.2 460.6L151 467.9L151.5 470.5L152 470.3L152.5 473.4L152.8 472.1L153 472.8L153.2 472.2L153.5 469.3L153.8 471L154.5 464.2L154.8 464.1L155 461.4L155.2 461.7L155.5 461.4L155.8 459.1L156.2 465.2L156.8 469.4L157 469.3L158 480.4L158.8 486.7L159.5 489.4L159.8 487.5L160 488.3L160.2 485.3L161.2 468.8L161.8 464.1L162 464.8L162.2 461.5L162.5 461L163.5 469.2L163.8 469.7L164 473.1L164.2 472.8L164.8 476.9L165 480.7L165.2 480.9L165.5 478.8L166 476.4L166.2 476.1L166.8 472.2L167 471.8L167.2 467.6L167.5 468.7L168 465.7L168.2 466.1L168.5 464.4L168.8 463.8L169 466.8L169.2 467.2L169.8 469.7M172 415.1L172.8 406.3L173.5 418.1M174.8 446.6L176.8 476.4L177.2 480.4L177.8 482.9L178 486.3L178.5 487.5L179 489.5L179.2 488.9L179.5 487.3L180 483.8L180.2 480.1L180.5 479.3L181.5 467.1M183 434.2L183.5 427L183.8 426.5L184.2 424.2L184.5 424.3L184.8 423.4L185 423.4L185.2 422.2L185.8 429.3L186 430.1L186.2 433.8L186.5 434.8L187 441.4L187.2 440.9L188 449.9L188.2 450.2L189.2 456.6L189.5 457L189.8 458.8L190 459.3L190.2 458.9L190.5 460L190.8 459.8L191.2 460.2L191.5 460.8L192 463.7L192.2 466.3L192.5 466.6L192.8 466.5L193 468.6L193.5 470.4L194.5 461.1L196.2 484.1L196.5 482.4M197.5 443.3L197.8 439.4L198 438.4L198.2 435.4L198.5 435.1L198.8 438.6L199 439.7L199.5 444.6L199.8 445.6L200 445.3L200.2 447.5L200.5 447.7L200.8 449.8L201 450.2L201.5 448.6L201.8 448.5L202 448.8L202.5 453.1L203 455.3L203.2 455.2L204.2 462.8L204.5 462.7L204.8 465.8L205 467L206.5 483.7L207 486.4L207.2 486.5L207.5 487.9L207.8 487.1M208.2 477.4L209 468.6L209.5 465.4M209.8 460.8L210 459.2L210.5 460.8L211 457L211.5 457.8L211.8 459.9L212 459.4L212.2 461L212.5 458.8L213 463.6L213.2 464.2L213.8 462.1L214.5 452L215 448.7L216 433.8L216.5 432.2L217.2 425.1L217.5 428.2L218.5 435.4L219.5 450L219.8 450M220 455.9L220.8 465.7L222 476.7L222.2 475.6L222.5 472.2L222.8 473.3L223 471.8L223.5 464.9L223.8 464L224.5 452.8L225 449.4L225.5 442.4L226.8 436.8L227 437L227.2 436.6L227.5 437.2L228 435.7L228.5 441.9L229.2 446.4L229.5 449.1L230 450.8L230.5 457.5L230.8 457.8L231.5 460.6L231.8 460.1L232.2 462.2L232.8 466.1L233 466.5L233.8 473.2L234 473.1L234.5 476L235.2 477.8L235.5 476.9L235.8 477.1L236 476.4L236.2 477.4L236.5 476.1L236.8 476.8L237 473.7L237.2 473.6L237.5 473.6L238 472.1L238.2 472.5L238.5 473.9L238.8 472.3L239.5 482.8L240 485.7L240.2 486.3L240.8 484.6L241 484.5L241.2 483M242.8 451.2L243 449.7L243.2 450.3L243.5 448.6L243.8 449.2L244 448.3L244.2 449.4L244.5 448.8L244.8 451.7L245 452.5L245.2 449.8L245.5 449L245.8 446.9L246 447.1L246.2 443.7L246.8 443L247 439.6L247.5 439.1L248 444.2L248.5 446.9L248.8 446.4L249 447.4L249.5 451.7L249.8 452.1L250.8 460.3L251.5 464.9L251.8 468.7L252 469.8L252.5 474.8L252.8 474.7L253.2 478.9L254 482.8L254.2 481.5L254.5 483L254.8 482.1L255.8 470.2L256 469.5L256.5 466L256.8 461.7L257 461.3L257.8 468L258 468.6L258.2 470.1L258.5 470.3L258.8 470L259 470.6L259.2 469.1L259.8 470.8L260 473.5L260.2 473.1L260.5 474.5L261 472.4L261.2 472.8L261.5 472.7L262 468.6L262.2 464.6L262.5 464.1M262.8 459.1L264.2 440.5L264.8 436.3L265 437.2L265.2 436.5L265.5 436.3L266.2 430.6L266.5 429.9L266.8 430.7L267 434.9L267.2 435.9L267.8 442L268 442.2L269 458.8L269.2 459.7L269.5 463.8L269.8 464.1L270.2 457.3M272.8 416.6L274.2 439.6L274.8 443.9L275.5 454.3L275.8 455.6L277 473.2L277.5 477.3L277.8 478.2L278.2 483.6L278.5 484.7L279 477.6M281.5 432L283.5 461.6L284.2 470.3L285 465.8M285.8 446.5L287.2 437.5M287.5 433L287.8 433.8L288 430.2L288.2 428.5L288.5 428.4L288.8 425.3L289 426L289.8 437.1L290.2 441.5L291.2 456.9L291.8 459.8M292 464.6L293.2 474L293.5 471.5M295.8 394L296.2 391.4L296.5 388.5M297 401.7L297.5 409.8M299 448.2L299.5 449.9L299.8 452.4L300 452.2L300.5 454.3L300.8 457.4L301 458.1L301.2 457L301.5 458.6L302.2 460.5L302.5 460.1L302.8 460.7L303 460.9L303.2 460.2L303.5 461.7L303.8 460.1L304 462M304.2 457.6L304.5 459.7L305 456.3L305.2 456.8L305.5 455.9L305.8 456.1L306 456.8L306.2 454.9L306.5 454.8L307 457.9L307.2 457.4L307.5 457.7L308.5 466.7M308.8 471.3L309 471L309.8 481.7L310.2 485.7L310.5 486.6L311 491.5L312.2 477L312.5 477.3L313 473.9L313.2 475.5L313.5 472.6L314.2 483.5L314.5 483.9L314.8 486.5L315 485.9L315.2 487.4L315.8 479.5M317 452.4L317.2 453L317.8 447.7L318 448.8L318.2 451.8L318.8 453.6L319 455.4L320 468.6L320.2 468.3L320.5 466M320.8 461.5L321.2 456.7L321.5 458L321.8 458.1L322 456.3L322.2 460.1L322.5 459.1L323 464.8L323.2 465.2L323.5 467.2L323.8 467.5L324.2 470.5L324.5 470.9L324.8 471L325.2 474.4L325.5 473.3L325.8 473.1L326.2 470.1L326.5 469.7L327.8 452.5L328 449.8L328.2 449.2L328.8 445.6L329.2 453.1L330 459.5L331.2 474.1L331.8 476.6L332.2 477.1L332.8 475.2L333.2 471.3L333.5 467.8L334 468L334.2 466.6L334.5 467.7L334.8 466L335.2 467.1L335.5 468.3L335.8 467L336 466.7L336.2 469.4L336.5 468.7L336.8 468.8L337 467.9L337.5 471.7L337.8 471.8L338 471.1L338.2 473.4L338.5 474.1L338.8 473.8L339 477.6L339.2 478.5L339.5 477L339.8 477.9L340 480.4L340.2 479.8L341.5 485L341.8 485.1L342 486.2L342.2 484.5L342.5 484.9L342.8 486.2L343.2 483.1L343.5 485.1L343.8 485.5L344 487.2L344.2 487.2L344.5 488.4L344.8 486.2L345 487.1L345.2 484.2L345.5 485.5L345.8 485.5L346 483.2L346.2 483.3L346.8 481.8L347.2 483.2L347.5 482.5L348 482.6L348.2 482.1L348.5 484.8L348.8 484.8L349 485.1L349.5 487.4L349.8 487.4L350 486.5L350.2 488L350.5 487.4L350.8 488L351 486.7L351.2 487.1L351.5 486.8L352.2 476.2L352.5 475.3M353 466.4L354 456.4L355 452.2L355.2 452.8L355.5 452.3L356 450.8L356.2 448.8L356.8 448.3L357.2 452.9L357.5 452.7L357.8 455.3L358.2 456.5L359.2 463.2L359.5 463.6L359.8 465.2L360 465.5L360.2 466.9L360.5 467.2L360.8 469.7L361 468.6L361.5 472.2L361.8 472.9L362 473.2L362.2 472.6L362.8 475.5L363 474.9L363.2 475.5L363.5 477L363.8 476.6L364 477.2L364.2 476.1L364.5 477.3L364.8 475.7L365.5 472.7L365.8 470.1L366 470.3L368.2 440L368.8 435.4L369 434.3L369.5 428.4L370 432.5M370.2 438.2L370.5 437.2L371 442M371.2 446.5L371.5 446.2L372 454.1L372.2 453.6L372.8 455.9L373 455.2L373.2 456.8L373.5 455.1L373.8 455.2L374 454L374.2 455.3L374.5 454.2L374.8 457.6L375 458.7L375.2 462.7L375.5 462.3L376.2 465.6L376.5 465.1L376.8 465.4L377 463.6L377.8 452.1L378 450.9L378.8 440.7L379.2 445.1L380 449.8L380.2 453.1L380.5 453.9L381 458.7L381.2 459.5L381.5 462.3L382.2 464.4L382.5 466.7L382.8 466.9L383 467.8L383.5 471.3L383.8 471.7L384 470.2L384.5 472.5L384.8 472.4L385.5 476.7L385.8 476.6L386 480.6L386.2 480.7L387 484L387.2 483.8L388.2 475.9L388.5 471.7L388.8 472L389.2 465.2L389.5 465.4L389.8 462.7L390 461.6L390.2 461.2L390.5 461.4L390.8 457.3L391.2 461.3L391.5 461.3L391.8 463.9L392 463.2L392.2 465.7L392.5 466.1L392.8 468.6L393.2 470.9L393.5 471.5L393.8 471.7L394.2 473.4L394.5 473.3L395 477.4L396.2 468.5L397 459.1M397.2 453.3L397.5 451.6L397.8 451L398 451L398.2 450.2L398.5 451.8L398.8 451.9L399 454.2L399.2 453L399.5 453.7L399.8 453L400 455L400.2 455.5L400.8 455.9L401 455.7L401.2 456L401.8 454.6L402 454.4L402.2 455.4L402.5 455.6L403 454.4L403.2 455.8L403.5 455.7L404 456.9L404.8 460.3L405.2 459.4L405.5 461.3L405.8 460.7L406.2 464.5L406.5 464.8L406.8 467.6L407.5 469L408 471.3L408.2 470L408.5 472.1L409 473.5L410 468.6L411 454.6L411.2 454.8L411.5 451.4L412 452.7L413 460.6L413.2 460.5L413.5 461.3L413.8 461.2L414 462.2L414.2 461.2L415 466L415.2 465L415.5 465.7L416 469L416.2 468.5L416.8 469.2M417 463.6L417.8 456L418 456.6L418.2 456.2L418.8 461.8L419 462L419.5 465.9L420 464L420.2 461.5L420.5 462.2L420.8 459.9L421.2 457.6L421.5 453.5L422 452L422.5 449.2L422.8 449.5L423 451.8L423.2 451.1L423.5 452.8L423.8 453.2L425.8 471.9L426.8 477.7L427 476.7L427.5 482L427.8 482.6L428 484L428.2 484.1L428.5 484.7L428.8 487.3L429 486.9L429.2 488.4L429.5 488.1L429.8 488.8L430.5 479.5M432.2 441.9L432.5 440M433 430.1L433.8 440.7L434.5 445.2L434.8 448.4L435.5 452.5L436.2 459.3L436.5 458.5L436.8 458.7L437 458.3L437.2 460.7L437.5 461L437.8 461.9L438 461.3L438.2 464.8L438.5 464.5L438.8 462.9L439.2 467.2L439.5 467L439.8 467.2L440.5 470.9L440.8 470.5L441 472L441.2 471.8L441.8 473.6L442 472.6L442.2 474.3L442.5 473.2L442.8 473.6L443 472.8L443.2 472.4L443.5 472.3L444.2 469.2L444.8 469.1L445.5 462.6L445.8 463.3L446 460.1L446.2 460.2L447 452.3L447.5 456L448 455.9L448.2 456.2L448.5 459.2L449.5 462.3L450 466.2L450.2 466L450.5 467.8L450.8 467.8L451 469.7L451.2 469.7L451.5 471.7L451.8 471.6L452 472.3L452.2 472.4L452.5 473.9L452.8 473.7L453 474.6L453.5 473.9L453.8 472.4L454 474.8L454.2 474.4L454.5 474.7L454.8 473.7L455 474L455.2 473.3L455.5 473.4L455.8 471L456 471L456.2 472.5L456.5 470.1L456.8 469.2L457 469.7L457.5 465.8L458 463.6L458.2 464.5L458.5 461.8L458.8 462.4L459.2 466.2L459.8 468.3L460 467.5L460.2 468.4L460.5 467.7L460.8 469.9L461 468.9L461.2 470.8L461.5 471L461.8 472L462 471.3L462.2 472.1L462.8 471.3L463 472.7L463.5 472.3L463.8 472.9L464 473L464.2 472.1L464.5 471.7L464.8 471.7L465 472.2L465.2 473.8L465.8 473L466 474.7L466.2 474.5L466.5 475.6L466.8 475.5L467 474.7L467.5 477.1L467.8 476.4L468 476.7L468.2 476.2L468.5 478.3L469 477.7L469.2 479L469.5 476.8L469.8 478.4L470 476.6L470.2 476.3L471.2 469.6L471.5 469.1L471.8 472.4L472 471.9L472.2 474.5L472.5 474.2L473 475.7L473.2 475.8L473.5 477.6L473.8 476.5L474 478.2L474.2 478.6L474.8 480.5" fill="none" stroke="#000" stroke-width="1.3499999999999999" stroke-linejoin="round" stroke-linecap="round"/>
<path d="M33.2 472.4L33.5 467.7M105.5 480.2L107 449.4M108 442.7L108.2 447.2M109.5 460.5L110 469.3M126 471.6L127.2 445.3M128.5 435.8L128.8 440.8M147.5 462.4L147.8 457.4M169.8 469.7L171.2 438.1M173.5 418.1L174.8 446.6M181.5 467.1L182.5 448.5M207.8 487.1L208.2 477.4M209.5 465.4L209.8 460.8M219.8 450L220 455.9M241.2 483L242.8 451.2M262.5 464.1L262.8 459.1M271.2 424.5L272.2 404.5M272.2 404.5L272.8 416.6M287.2 437.5L287.5 433M291.8 459.8L292 464.6M304 462L304.2 457.6M308.5 466.7L308.8 471.3M316.2 466.2L317 452.4M320.5 466L320.8 461.5M352.5 475.3L353 466.4M370 432.5L370.2 438.2M371 442L371.2 446.5M397 459.1L397.2 453.3M416.8 469.2L417 463.6M430.5 479.5L432 446.6M432 446.6L432.2 441.9M432.5 440L433 430.1" fill="none" stroke="#000" stroke-width="1.25" stroke-linecap="round" stroke-dasharray="0 1"/>
<path d="M171.2 438.1L172 415.1M182.5 448.5L183 434.2M270.2 457.3L271.2 424.5M279 477.6L280 450.3M281 415.3L281.5 432M285 465.8L285.8 446.5M293.5 471.5L294.2 447.8M296.5 388.5L297 401.7M297.5 409.8L299 448.2M315.8 479.5L316.2 466.2" fill="none" stroke="#000" stroke-width="1.25" stroke-linecap="round" stroke-dasharray="0 1.5"/>
<path d="M196.5 482.4L197.5 443.3M280 450.3L281 415.3M294.2 447.8L295.8 394" fill="none" stroke="#000" stroke-width="1.25" stroke-linecap="round" stroke-dasharray="0 2"/>
<path d="M27.2 474.9L27.5 479.6M30.8 489L31 493.8M32 491.4L32.2 485.5M32.5 485.7L32.8 481.3M34 471.7L34.2 476.2M37.8 485L38 477.4L38.2 482.9M39 476.7L39.2 481.8L39.5 477.3M41.5 486.8L41.8 481.9L42 487.6M44.8 495.8L45 500.4M52.8 505.1L53 498.6M53.2 501.5L53.5 494.9M53.8 495.3L54 490.2M54.8 487.5L55 482.1M58.5 480.7L58.8 476.3M65 467.8L65.2 463.3M70 494L70.2 488.6M71.8 478.3L72 472.7M73.2 478L73.5 482.7M74 483.3L74.2 487.7M77.5 478.1L77.8 483.3M82.5 474.3L82.8 479.3L83.2 470M83.8 467.6L84 461.9M85.2 452.5L85.5 457.3M88.5 471.3L88.8 477.2M89.2 480.2L89.5 485.3M90.2 487.7L90.5 492.3M92.2 486.5L92.5 481.1M96.2 495.1L96.5 488.8M97.2 484.5L97.5 477.1M101 485.2L101.2 480.3M105.8 483L106 474.9M109.8 467.7L110.2 478.5M112.8 469.8L113.2 459.8M115.8 466.9L116 473.5M116.5 474.5L117 484.5M118.5 496.5L118.8 492.1M120 488.6L120.2 482.7M120.8 481.2L121 474.6M123.8 463.5L124 468M127.8 451.2L128 446.4M131 473L131.5 482.3M134.2 480.7L134.5 476.3M144.5 488.2L144.8 482.9M160.2 491.5L160.5 483.4M160.8 483.8L161 476M164.8 481.4L165 486.2M169.8 474.9L171.2 447.2L171.8 430.8M173.5 430.5L174.2 450.2M174.8 455.2L175.2 466.7M182 471.3L182.2 462.7L183 449.3L183.2 441.4M196.5 488.1L197.5 452.6L197.8 447.8M200.5 455L200.8 459.5M202 452.8L202.2 459.2M205 473.4L205.2 479.6M205.8 481.1L206 485.7M208.8 478.2L209 472.9M209.8 470.1L210 465.3M215 453.8L215.2 448.2M215.5 448.5L216 439.4M216.8 437.8L217 433M218.8 443.8L219 449.6M220 458.7L220.2 465.9M221.2 472.5L221.5 478.4M224 465.8L224.2 459.3M229.8 451.6L230 459.6M232.2 467.1L232.5 473.3M238.8 477.1L239.2 486.2M241 492.9L241.5 483.7L241.8 474.6L242.8 456.2M244.8 453.9L245 458.9L245.2 451.6M247 449.8L247.2 444.2M253.2 482.4L253.5 487.8M255 488.9L255.2 481.6M256.5 475.5L256.8 469.7M259.2 479L259.5 474.4M262.2 473.2L262.5 467.4M263.5 457L263.8 451.6M264 452.4L264.2 445.1M270 468.4L271.5 425.2M271.8 425.4L272.2 415.1L272.5 421.9M272.8 423L273.5 437.3M278.5 495.4L279.5 475.8L281 433.1L281.8 448.3M283.2 463.6L283.8 472.9M285 470.8L285.2 462L286 447.8M287.5 440.4L287.8 435.5M289 433.6L289.2 438.5M290.5 448L291 457.1M292.8 472.2L293 477M293.5 475.3L295 417L295.5 404.7L295.8 393.3M296.5 389.2L299 451.1M300.5 458.2L300.8 463M312 484.8L312.2 479.6M313 479.9L313.2 474.9M313.5 476L313.8 481.1M315 485.5L315.2 491.8L315.8 482.8L316.2 468.9M317.8 450.8L318 455.3M319.5 462.5L320 474M320.5 469.9L321 460.4M327.5 460.4L327.8 455.1M329.5 459L329.8 464.4M332.5 481.7L332.8 476.1M333 477.1L333.2 472.2M352.8 475.4L353 469.9M353.5 466.9L353.8 461M364.5 482.1L364.8 476.1M366 474.7L366.2 467.2M373.8 459.6L374 453.8M376 466.3L376.2 470.7M377 469.1L377.2 462M380.2 455.7L380.5 460.7M390.5 466.5L390.8 462M391.5 467.9L391.8 463.1M396.2 474L396.5 466.2M410 475L410.5 464.1M410.8 464.7L411 459.7M422.2 458L422.5 452.6M423.8 457.7L424 463M424.2 461.6L424.8 470.9M430 492.9L430.2 487.4M430.5 486.2L431.2 466.4M431.5 464.5L432 451.8M433.2 441.6L433.5 447.2M435 452.7L435.2 457.4" fill="none" stroke="#ff0000" stroke-width="0.35" stroke-linejoin="round" opacity="0.85"/>
<path d="M24.5 481.7L25 478.5L25.2 479.4L25.5 476.5L25.8 478L26 477.8L26.2 479.7L27 475L27.2 474.9M27.5 479.6L27.8 479L28 479.7L28.5 485.4L28.8 484.9L29 487.3L29.2 486.6L30 488.9L30.2 488.6L30.5 491.7L30.8 489M31 493.8L31.2 491.3L31.5 491.2L31.8 492.1L32 491.4M32.2 485.5L32.5 485.7M32.8 481.3L33 480.1L33.2 479.8L34 471.7M34.2 476.2L34.5 476.4L34.8 477.5L35.8 483.2L36.2 487.9L36.5 484.2L36.8 486.8L37 484.9L37.2 487.4L37.5 484.2L37.8 485M38.2 482.9L38.5 481.7L38.8 477.5L39 476.7M39.5 477.3L39.8 475.7L40 478.5L40.2 477.1L40.8 483L41 483.1L41.2 484L41.5 486.8M42 487.6L42.2 489.2L42.5 487.8L42.8 490.5L43 489.4L43.2 493.3L43.5 493.6L44.5 497.9L44.8 495.8M45 500.4L45.5 501.1L45.8 500.2L46 501.1L46.2 500.9L46.5 505.3L46.8 503.3L47.2 505.5L47.5 505.4L47.8 509.5L48 506.5L48.2 506.8L48.5 509.5L49 505L49.2 508.2L49.5 506.8L50 509.3L50.2 509.5L50.5 508.7L50.8 506L51 506.8L51.2 509.2L51.5 506.5L52 509.2L52.2 505.6L52.5 505.9L52.8 505.1M53 498.6L53.2 501.5M53.5 494.9L53.8 495.3M54 490.2L54.5 486.2L54.8 487.5M55 482.1L55.8 476.5L56 475.9L56.2 479.6L56.5 478.9L56.8 481.6L57 479.5L57.2 479.4L57.5 476.9L57.8 479.7L58 480.8L58.2 478.1L58.5 480.7M58.8 476.3L59 477.7L59.2 476.8L59.5 473.9L59.8 474.9L60 472.7L60.2 476.5L60.5 474.1L60.8 476.8L61 477.7L61.2 481.5L61.5 477.9L62 483.1L62.2 484.9L62.5 485.4L62.8 483.2L63 484.1L63.2 482.3L63.5 479L64.5 471.5L64.8 467.9L65 467.8M65.2 463.3L65.5 465L65.8 465.2L66.2 467.6L66.8 469.1L67.2 477.6L67.5 477.5L67.8 479.3L68.5 488.3L68.8 489.4L69 488.2L69.2 489.1L69.8 491.5L70 494M70.2 488.6L71 478.5L71.2 479.1L71.5 477L71.8 478.3M72 472.7L73 478.8L73.2 478M73.5 482.7L73.8 482.2L74 483.3M74.2 487.7L74.5 489.1L74.8 486.3L75 486.3L75.5 484.7L75.8 486.3L76.2 481.3L76.5 482L76.8 480.4L77 481.7L77.5 478.1M77.8 483.3L78 480.4L78.2 479.6L78.5 480.9L78.8 479.6L79 479.4L79.5 477.4L79.8 477.3L80 478.7L80.2 478.1L80.8 481.8L81 478.4L81.2 479.2L81.5 482.4L81.8 478.2L82 478.8L82.2 478.1L82.5 474.3M83.2 470L83.8 467.6M84 461.9L84.2 461.4L84.5 462.1L85.2 452.5M85.5 457.3L85.8 453.2L86 453L86.2 456.7L86.5 456.1L86.8 459.5L87 459.1L87.2 457.1L87.5 461.3L88.5 471.3M88.8 477.2L89.2 480.2M89.5 485.3L89.8 487.1L90 486.5L90.2 487.7M90.5 492.3L90.8 494.3L91 491.7L91.2 490.9L91.5 490.9L91.8 487.9L92 486.7L92.2 486.5M92.5 481.1L92.8 481.5L93.5 477.1L94 483.8L94.2 483L94.8 486.6L95.2 488.4L95.8 491.9L96 491.3L96.2 495.1M96.5 488.8L97 483.8L97.2 484.5M97.5 477.1L97.8 480.6L98.2 474.2L98.5 473.9L98.8 474L99 478.3L99.2 477.4L99.8 478.1L100 480.2L100.5 481.3L101 485.2M101.2 480.3L101.5 482.7L101.8 478.6L102 478.8L102.2 475.8L102.5 478.1L102.8 475.8L103 475.2L103.8 482.4L104 482.8L104.2 484L104.5 483.6L105 488.9L105.2 488.7L105.5 487L105.8 483M106 474.9L106.5 466.9L106.8 465.2L107.2 458.3L107.5 460.3L107.8 456.4L108 455L108.8 462.9L109 462.1L109.5 468.3L109.8 467.7M110.2 478.5L110.5 475.7L111 484.1L111.2 480.8L111.8 478.1L112 474.2L112.2 474.5L112.8 469.8M113.2 459.8L113.8 458.1L114 458.9L114.2 455.6L114.5 459.9L114.8 459.9L115 464.2L115.2 464.5L115.5 468L115.8 466.9M116 473.5L116.2 474.3L116.5 474.5M117 484.5L117.2 485.1L117.5 487.1L118 494.6L118.2 492.6L118.5 496.5M118.8 492.1L119 495.3L119.8 488.5L120 488.6M120.2 482.7L120.8 481.2M121 474.6L121.5 470.9L121.8 470.2L122 470.4L122.5 463.4L122.8 463.7L123 461.9L123.2 464.1L123.5 461.9L123.8 463.5M124 468L124.2 469.6L124.8 470.5L125.8 479L127 458.1L127.5 451L127.8 451.2M128 446.4L128.2 447.1L128.8 452.9L129 453.8L129.2 455.9L130 465.6L130.2 466.6L131 473M131.5 482.3L131.8 481.2L132 484.6L132.2 485.1L132.5 483.5L133 485.4L133.2 485L133.5 483.9L133.8 485.6L134 481.3L134.2 480.7M134.5 476.3L134.8 478.2L135 474L135.2 474.8L135.5 471.9L135.8 473.6L136 470.6L136.2 471.3L136.5 471.4L137 468.9L137.2 468.6L137.5 466.8L137.8 467.7L138 471.9L138.2 469L138.5 470.8L138.8 469.4L139 469.3L139.2 472.8L139.5 473.4L139.8 472.4L140 473.9L140.2 472.8L140.5 475.6L140.8 476.9L141 477L141.2 480.6L141.5 480.9L141.8 482.9L142 482.2L142.2 482.1L142.5 483L143 488.1L143.5 490.6L144 485.5L144.2 489.3L144.5 488.2M144.8 482.9L145 485.8L145.2 482.6L145.5 483.7L145.8 480.3L146.2 477.2L146.5 474.3L146.8 473.6L147.2 468.1L147.5 467.2L147.8 467.6L148.2 463.7L148.8 462L149.2 461.9L149.5 464.1L150 466.4L150.2 466.3L150.5 469.9L150.8 467.7L151.2 473.3L151.5 474.7L151.8 474.9L152.8 480.6L153 477.5L153.2 477.3L153.5 476.5L153.8 472.2L154 476.1L154.5 470.3L155 468.4L155.2 471.3L155.5 470.4L155.8 467.7L156 470.4L156.2 469.9L156.5 473.5L156.8 474.9L157 475.4L159 494.2L159.2 493.4L159.5 494.2L159.8 494.5L160 492.3L160.2 491.5M160.5 483.4L160.8 483.8M161 476L161.2 476.4L161.5 473L161.8 473.3L162 472.6L162.2 470L162.5 469L163 473.5L163.2 471.3L163.8 475.7L164.2 478.3L164.5 480.7L164.8 481.4M165 486.2L165.2 484.1L165.5 484.3L165.8 480.8L166 479.3L166.2 480.7L166.8 475.5L167 476L167.2 475.1L167.5 471.5L168 471.7L168.2 468.6L168.5 469.1L168.8 472.2L169 471.1L169.2 473L169.5 471.7L169.8 474.9M171.8 430.8L172.2 426.9L172.8 420.2L173.5 430.5M174.2 450.2L174.5 451.5L174.8 455.2M175.2 466.7L175.8 471.2L177 489.1L177.2 488.2L177.8 496.2L178.2 499.8L178.8 498.3L179 502.1L179.5 496.2L179.8 496.3L180 496.2L180.8 489.1L181.5 479.1L182 471.3M183.2 441.4L183.5 442.5L183.8 438.4L184 437.8L184.2 440L184.5 438.9L184.8 435.4L185 435.8L185.2 436.9L186 444.9L186.2 445.6L187 450.2L187.2 454L187.5 454L187.8 456.5L188.5 459.3L189.2 464.3L189.5 464.1L189.8 466.7L190 466.7L190.2 465.7L190.5 466.8L190.8 466.4L191 468.5L191.2 465.8L191.5 469.5L191.8 469.5L192 471.3L192.2 471.3L193 477.6L193.2 476.4L193.5 478.3L194 471.5L194.2 472.4L194.5 470.3L195 474.2L196.2 488.6L196.5 488.1M197.8 447.8L198.5 441.8L199 449.1L199.2 450.7L199.5 451.2L199.8 449.6L200 453L200.2 452.6L200.5 455M200.8 459.5L201 456.4L201.2 457.6L201.5 457.8L201.8 457L202 452.8M202.2 459.2L202.5 459.9L202.8 459.3L203.2 465.2L203.5 464.8L203.8 466.9L204 468L204.2 468.4L204.8 473.6L205 473.4M205.2 479.6L205.5 479.8L205.8 481.1M206 485.7L206.5 490.8L206.8 491.4L207 493.4L207.2 492.2L207.5 492.5L207.8 491.7L208.8 478.2M209 472.9L209.2 472L209.5 469.4L209.8 470.1M210 465.3L210.2 463.5L210.8 467.1L211 464.6L211.2 464.3L211.5 464.4L211.8 465.3L212 464.6L212.2 466.1L212.5 465.7L212.8 467.7L213.2 467.2L213.5 469.9L213.8 467L214 466L214.8 454.5L215 453.8M215.2 448.2L215.5 448.5M216 439.4L216.2 438.7L216.5 439.4L216.8 437.8M217 433L217.2 434.4L217.5 434.3L217.8 437.7L218 438.8L218.2 437.2L218.8 443.8M219 449.6L219.2 450.5L219.8 457.2L220 458.7M220.2 465.9L220.5 466.6L221 473.6L221.2 472.5M221.5 478.4L221.8 478.8L222.2 482.3L223.8 466.2L224 465.8M224.2 459.3L225.2 446.3L225.5 445.7L225.8 443.9L226 445.2L226.2 442.6L226.5 443.2L226.8 439.3L227 441.6L227.2 440.3L227.5 441L227.8 440.4L228 439.1L228.8 448.3L229 447L229.2 450.9L229.5 450.9L229.8 451.6M230 459.6L230.5 460.6L230.8 459.8L231 462.9L231.2 462.8L231.5 465.2L231.8 464.8L232 468.5L232.2 467.1M232.5 473.3L232.8 473.1L233 470L233.5 476.8L233.8 474.5L234 477.7L234.2 478.4L234.5 481.2L234.8 480.7L235 481.7L235.2 485.1L235.5 481.8L235.8 482.4L236 480.1L236.2 479.7L236.5 481.8L236.8 481.3L237.2 478.9L237.5 479.9L237.8 479.2L238 478L238.2 477.8L238.5 476.4L238.8 477.1M239.2 486.2L239.5 486.1L239.8 490.1L240 491.7L240.2 491.2L240.5 492.4L240.8 490.5L241 492.9M242.8 456.2L243 457L243.2 456L243.5 455.7L243.8 451.5L244.2 457.9L244.8 453.9M245.2 451.6L245.5 454.6L245.8 451.7L246 452.1L246.2 450.4L246.5 450.9L246.8 449.7L247 449.8M247.2 444.2L247.5 447.1L247.8 447.1L248.2 451.8L248.5 452.1L249 455L249.5 456.7L250.2 462.9L250.8 463.9L251.2 469.4L251.5 470.7L251.8 473.9L252 474.7L252.8 481.9L253 483.2L253.2 482.4M253.5 487.8L253.8 487L254 488.7L254.2 487.5L254.5 487.2L254.8 488.6L255 488.9M255.2 481.6L255.5 478.7L255.8 478.9L256.2 474.3L256.5 475.5M256.8 469.7L257 467.8L257.5 474L258 476.4L258.2 475.6L258.5 477.4L258.8 474.2L259.2 479M259.5 474.4L260 479.4L260.2 479.3L260.5 482.4L260.8 479.6L261 482.6L261.5 476.8L262 475.8L262.2 473.2M262.5 467.4L263.2 457.8L263.5 457M263.8 451.6L264 452.4M264.2 445.1L264.5 448.1L264.8 445.9L265 445L265.2 442.2L265.8 440.8L266.5 436.6L267.2 445.2L267.5 444.1L267.8 445.6L269.2 468.2L269.5 466.6L269.8 469.5L270 468.4M271.5 425.2L271.8 425.4M272.5 421.9L272.8 423M273.5 437.3L273.8 438.5L274.8 453.9L275.2 456.4L276.5 475.4L276.8 476.2L277.2 484.2L277.8 487.4L278.5 495.4M281.8 448.3L282 451.5L282.2 452.5L283 462.3L283.2 463.6M283.8 472.9L284 473.3L284.2 474.5L284.5 471.6L284.8 472.2L285 470.8M286 447.8L286.2 446L286.5 445.6L286.8 445.7L287 441.5L287.2 441.8L287.5 440.4M287.8 435.5L288 435.4L288.2 436.6L288.8 434.1L289 433.6M289.2 438.5L289.5 437.9L290.5 448M291 457.1L291.5 463.5L291.8 464.3L292.2 471.9L292.5 473.5L292.8 472.2M293 477L293.2 476.8L293.5 475.3M295.8 393.3L296.2 391.7L296.5 389.2M299 451.1L299.5 454L299.8 453.8L300.2 459.1L300.5 458.2M300.8 463L301 460.8L301.2 460.8L301.5 462.3L301.8 460.5L302.5 463.9L302.8 462.2L303 464.7L303.2 464.6L303.5 463.3L303.8 463.7L304 461.1L304.5 464.6L304.8 460.7L305 459.2L305.2 461L305.5 458.5L305.8 457.9L306 460.7L306.2 460.3L306.5 461.8L306.8 460L307.2 460.6L308.2 470.6L309.2 478.2L310 487.6L310.5 490.2L311 495L311.8 486.2L312 484.8M312.2 479.6L312.5 482.3L312.8 478.7L313 479.9M313.2 474.9L313.5 476M313.8 481.1L314.2 486.3L314.8 487L315 485.5M316.2 468.9L317 457.6L317.5 454.3L317.8 450.8M318 455.3L318.2 455.8L318.5 458.3L319.2 460.6L319.5 462.5M320 474L320.2 470.9L320.5 469.9M321 460.4L321.2 458.7L321.5 459L322.2 465.1L322.5 464.2L322.8 464.8L323 465.6L323.2 469.2L323.8 470.1L324 469.9L324.5 474.3L324.8 472.4L325.2 474.9L325.5 477.9L325.8 475.6L326 476.2L326.2 474.9L326.5 470.9L326.8 469.5L327.2 461.3L327.5 460.4M327.8 455.1L328 455.3L328.2 452.9L328.5 454.4L328.8 451.2L329.5 459M329.8 464.4L330 463.2L330.2 467L330.5 468.4L331.5 479.2L331.8 477.9L332 480.3L332.2 479.7L332.5 481.7M332.8 476.1L333 477.1M333.2 472.2L333.5 472.2L333.8 470L334 470.7L334.2 469.3L334.5 469.9L334.8 467.8L335.2 469.4L335.5 468.6L335.8 472L336 469.7L336.5 474.1L336.8 472L337 473.3L337.2 471.3L337.5 474.9L337.8 474.9L338 475.5L338.2 479L338.5 476.7L338.8 479.4L339 477.1L339.2 477.6L339.8 483.4L340 482L340.2 482.8L340.5 483L341 487.1L341.2 486.6L341.5 488.4L341.8 485.8L342 489.8L342.2 489.5L342.5 488.4L342.8 489.5L343 488L343.2 487.4L343.8 489.6L344 488.5L344.5 492.4L345 488L345.2 489L345.5 487.3L345.8 487L346 486.1L346.2 486.6L346.5 486.2L346.8 486.6L347 485.1L347.2 487L347.5 483.7L347.8 486.1L348 486.4L348.2 485.7L348.5 487.4L349 488.6L349.5 490.7L349.8 490.9L350 489L350.2 491.6L350.8 491.1L351.2 487.1L351.5 490.5L352.5 476.5L352.8 475.4M353 469.9L353.5 466.9M353.8 461L354.2 458.1L354.5 460.7L354.8 458.4L355 457.9L355.5 454.3L355.8 457.7L356 454.4L356.5 452.1L357 457.7L357.2 457.3L357.5 459.2L357.8 459.7L358 459.7L358.2 461.5L358.5 461.7L358.8 465.2L359 461.4L360 472L360.2 471.2L360.5 471.2L360.8 468.9L361.2 474.1L361.5 472.7L361.8 473.6L362 475.9L362.2 475.2L363 479.8L363.5 477.9L363.8 480.9L364 481.1L364.2 478.1L364.5 482.1M364.8 476.1L365 478.1L365.5 473.1L365.8 476.3L366 474.7M366.2 467.2L366.5 467.1L367.5 452.4L368 448.6L368.8 440L369 439.7L369.2 435.4L369.5 436.4L369.8 435.4L370 436.5L370.8 445.7L371.5 451.5L372 459.4L372.5 457.7L372.8 457.7L373 461L373.2 460L373.5 461.4L373.8 459.6M374 453.8L375.2 468.1L375.5 467.3L375.8 468.2L376 466.3M376.2 470.7L376.5 468.5L376.8 467.8L377 469.1M377.2 462L377.5 461.3L378 453.4L378.2 452.8L378.8 447.4L379 447.4L379.2 448.7L379.5 452.4L379.8 454L380 454.3L380.2 455.7M380.5 460.7L380.8 460.4L381 463.3L381.5 463.9L381.8 466L382 466L382.2 470.2L382.5 470.5L382.8 472.1L383 471.6L383.2 472.4L383.8 475.5L384 474.5L384.2 475.4L384.5 474.4L384.8 476L385 475.6L385.5 482.8L385.8 482.3L386 485.6L386.2 483.3L386.5 483.6L386.8 486.3L387 486.5L387.2 489.2L387.5 488.2L388 481.4L388.2 481L388.5 476.8L389.2 469.2L389.5 468.4L389.8 468.9L390.2 465.7L390.5 466.5M390.8 462L391.5 467.9M391.8 463.1L392 467.4L392.2 468.3L392.5 468.2L393 472.6L393.2 473.1L393.5 476.1L393.8 474.8L394 478.5L394.2 476.9L394.5 477.5L394.8 481.1L395 477.4L395.2 480.1L395.5 476.1L395.8 476.9L396 474.5L396.2 474M396.5 466.2L396.8 464.4L397 460.1L397.5 456.1L397.8 456.3L398 456.1L398.2 454.6L399 459.6L399.5 457.9L399.8 459.6L400 458.9L400.5 461.3L400.8 461.2L401 460.7L401.5 459.2L401.8 457L402.2 461.4L402.5 458.1L402.8 459.8L403 459.5L403.2 456.7L403.8 460.5L404 460.6L404.2 462.3L404.5 461.6L404.8 464.1L405 464.6L405.2 464.7L405.5 462.7L405.8 463.9L406 467.8L406.2 466.8L406.5 469.8L406.8 469.2L407 471.8L407.2 471L407.5 473.2L407.8 474.3L408.2 475.4L408.8 479L409 475.9L409.2 476.9L409.5 477.1L410 475M410.5 464.1L410.8 464.7M411 459.7L411.2 461.4L411.5 457L411.8 457.3L412 458.8L412.2 459.2L412.5 460.4L413.2 466.6L413.5 466.5L413.8 467.8L414 463.5L414.2 466.6L414.8 467.7L415 466.2L415.2 470.4L415.5 469L416 472.4L416.2 475.5L416.5 472.7L416.8 472.9L417.2 464.3L417.8 460.5L418 462.2L418.2 461L419.2 470L419.5 468.3L419.8 470L420 470.1L420.5 465L420.8 465.7L421.5 459.3L422 456.4L422.2 458M422.5 452.6L423 457.5L423.2 455.9L423.5 458.2L423.8 457.7M424 463L424.2 461.6M424.8 470.9L425 469.6L425.5 474.9L425.8 475.6L426 479.5L426.2 477.8L426.8 481.4L427 480.5L427.5 485.7L427.8 487.3L428 487.4L428.2 487.2L428.8 492.2L429 490.5L429.5 493.4L429.8 491.5L430 492.9M430.2 487.4L430.5 486.2M431.2 466.4L431.5 464.5M432 451.8L432.5 443.1L432.8 443L433 440.1L433.2 441.6M433.5 447.2L433.8 444.5L434.2 450.4L434.5 450.9L434.8 452.8L435 452.7M435.2 457.4L435.8 462.2L436 461.5L436.2 464.6L436.5 463.2L436.8 462.8L437.2 465.4L437.5 463.3L437.8 465.9L438 466.2L438.2 466.1L438.5 469.8L438.8 470.2L439 466.6L439.5 472.8L439.8 472.7L440.2 475.6L440.5 475.4L441 476.5L441.2 476.2L441.5 479.6L441.8 479.7L442 477.2L442.2 479L442.5 476.5L443 479L443.2 476.1L443.5 477.7L444.2 472.4L444.5 474.8L445.2 469.2L445.5 472L445.8 467.8L446.2 464.4L446.5 464.2L447 457.6L447.2 459.7L447.8 461.5L448 461.3L448.2 460.4L448.5 461.1L449 466.5L449.2 467.4L449.5 466.2L449.8 468.3L450.5 471.7L451 475.3L451.2 475.6L451.5 475.5L451.8 476L452 477.5L452.2 477.9L452.5 476.1L452.8 478.9L453 478.4L453.8 481.3L454 480.2L454.2 480.7L454.5 478.3L454.8 480.7L455.2 478L455.5 478.5L456 475.6L456.2 478L456.5 475.6L456.8 475.3L457 471.3L457.2 472L457.8 467.5L458 469.7L458.5 467.5L458.8 469L459 468.4L459.8 472.9L460 473.7L460.5 474.5L460.8 476.5L461 474.3L461.2 474.2L461.8 476.7L462 476.4L462.5 476.6L462.8 475L463 478.6L463.2 477.2L463.5 476.9L463.8 477.5L464 477.7L464.2 478.6L464.8 476.4L465 475.9L465.2 479.1L465.5 478L465.8 478.2L466 477.9L466.2 479.3L466.5 479.5L466.8 479.3L467 482.3L467.2 481L467.5 483.5L467.8 484L468 482.8L468.2 483.9L468.5 481.5L468.8 481.1L469 482.9L469.5 482.9L470.2 479.7L470.5 480L470.8 479.8L471.2 474.9L471.5 475.9L471.8 474.7L472 477.9L472.2 476.8L472.5 480.7L472.8 480.7L473 479.9L473.5 482.2L473.8 480.2L474 483.5L474.2 484.1L474.5 486L474.8 484" fill="none" stroke="#ff0000" stroke-width="1.45" stroke-linejoin="round" stroke-linecap="round"/>
<path d="M27.2 474.9L27.5 479.6M30.8 489L31 493.8M32 491.4L32.2 485.5M32.5 485.7L32.8 481.3M34 471.7L34.2 476.2M38 477.4L38.2 482.9M39 476.7L39.2 481.8M39.2 481.8L39.5 477.3M41.5 486.8L41.8 481.9M41.8 481.9L42 487.6M44.8 495.8L45 500.4M53.8 495.3L54 490.2M54.8 487.5L55 482.1M58.5 480.7L58.8 476.3M65 467.8L65.2 463.3M70 494L70.2 488.6M71.8 478.3L72 472.7M73.2 478L73.5 482.7M74 483.3L74.2 487.7M77.5 478.1L77.8 483.3M82.5 474.3L82.8 479.3M82.8 479.3L83.2 470M83.8 467.6L84 461.9M85.2 452.5L85.5 457.3M88.5 471.3L88.8 477.2M89.2 480.2L89.5 485.3M90.2 487.7L90.5 492.3M92.2 486.5L92.5 481.1M101 485.2L101.2 480.3M109.8 467.7L110.2 478.5M112.8 469.8L113.2 459.8M116.5 474.5L117 484.5M118.5 496.5L118.8 492.1M120 488.6L120.2 482.7M123.8 463.5L124 468M127.8 451.2L128 446.4M131 473L131.5 482.3M134.2 480.7L134.5 476.3M144.5 488.2L144.8 482.9M164.8 481.4L165 486.2M169.8 474.9L171.2 447.2M174.8 455.2L175.2 466.7M182.2 462.7L183 449.3M197.5 452.6L197.8 447.8M200.5 455L200.8 459.5M205.8 481.1L206 485.7M208.8 478.2L209 472.9M209.8 470.1L210 465.3M215 453.8L215.2 448.2M215.5 448.5L216 439.4M216.8 437.8L217 433M218.8 443.8L219 449.6M221.2 472.5L221.5 478.4M238.8 477.1L239.2 486.2M241 492.9L241.5 483.7M241.8 474.6L242.8 456.2M244.8 453.9L245 458.9M247 449.8L247.2 444.2M253.2 482.4L253.5 487.8M256.5 475.5L256.8 469.7M259.2 479L259.5 474.4M262.2 473.2L262.5 467.4M263.5 457L263.8 451.6M271.8 425.4L272.2 415.1M272.8 423L273.5 437.3M278.5 495.4L279.5 475.8M281 433.1L281.8 448.3M283.2 463.6L283.8 472.9M285.2 462L286 447.8M287.5 440.4L287.8 435.5M289 433.6L289.2 438.5M290.5 448L291 457.1M292.8 472.2L293 477M300.5 458.2L300.8 463M312 484.8L312.2 479.6M313 479.9L313.2 474.9M313.5 476L313.8 481.1M315.2 491.8L315.8 482.8M317.8 450.8L318 455.3M319.5 462.5L320 474M320.5 469.9L321 460.4M327.5 460.4L327.8 455.1M329.5 459L329.8 464.4M332.5 481.7L332.8 476.1M333 477.1L333.2 472.2M352.8 475.4L353 469.9M353.5 466.9L353.8 461M364.5 482.1L364.8 476.1M373.8 459.6L374 453.8M376 466.3L376.2 470.7M380.2 455.7L380.5 460.7M390.5 466.5L390.8 462M391.5 467.9L391.8 463.1M410 475L410.5 464.1M410.8 464.7L411 459.7M422.2 458L422.5 452.6M423.8 457.7L424 463M424.2 461.6L424.8 470.9M430 492.9L430.2 487.4M433.2 441.6L433.5 447.2M435 452.7L435.2 457.4" fill="none" stroke="#ff0000" stroke-width="1.35" stroke-linecap="round" stroke-dasharray="0 1"/>
<path d="M37.8 485L38 477.4M52.8 505.1L53 498.6M53.2 501.5L53.5 494.9M96.2 495.1L96.5 488.8M97.2 484.5L97.5 477.1M105.8 483L106 474.9M115.8 466.9L116 473.5M120.8 481.2L121 474.6M160.2 491.5L160.5 483.4M160.8 483.8L161 476M171.2 447.2L171.8 430.8M173.5 430.5L174.2 450.2M183 449.3L183.2 441.4M202 452.8L202.2 459.2M205 473.4L205.2 479.6M220 458.7L220.2 465.9M224 465.8L224.2 459.3M229.8 451.6L230 459.6M232.2 467.1L232.5 473.3M245 458.9L245.2 451.6M255 488.9L255.2 481.6M264 452.4L264.2 445.1M270 468.4L271.5 425.2M272.2 415.1L272.5 421.9M279.5 475.8L281 433.1M295 417L295.5 404.7M296.5 389.2L299 451.1M315 485.5L315.2 491.8M315.8 482.8L316.2 468.9M366 474.7L366.2 467.2M377 469.1L377.2 462M396.2 474L396.5 466.2M430.5 486.2L431.2 466.4M431.5 464.5L432 451.8" fill="none" stroke="#ff0000" stroke-width="1.35" stroke-linecap="round" stroke-dasharray="0 1.5"/>
<path d="M182 471.3L182.2 462.7M196.5 488.1L197.5 452.6M241.5 483.7L241.8 474.6M285 470.8L285.2 462M293.5 475.3L295 417" fill="none" stroke="#ff0000" stroke-width="1.35" stroke-linecap="round" stroke-dasharray="0 2"/>
<path d="M295.5 404.7L295.8 393.3" fill="none" stroke="#ff0000" stroke-width="1.35" stroke-linecap="round" stroke-dasharray="0 2.5"/>
</g>
<rect x="24.5" y="376.4" width="450.3" height="150.5" fill="none" stroke="#8a8a8a" stroke-width="0.75"/>
<text x="24.5" y="536.7" text-anchor="middle" font-size="8.8" font-family="Liberation Sans, Arial, Helvetica, sans-serif" fill="#111">Jan</text>
<text x="62.7" y="536.7" text-anchor="middle" font-size="8.8" font-family="Liberation Sans, Arial, Helvetica, sans-serif" fill="#111">Feb</text>
<text x="97.3" y="536.7" text-anchor="middle" font-size="8.8" font-family="Liberation Sans, Arial, Helvetica, sans-serif" fill="#111">Mar</text>
<text x="135.5" y="536.7" text-anchor="middle" font-size="8.8" font-family="Liberation Sans, Arial, Helvetica, sans-serif" fill="#111">Apr</text>
<text x="172.5" y="536.7" text-anchor="middle" font-size="8.8" font-family="Liberation Sans, Arial, Helvetica, sans-serif" fill="#111">May</text>
<text x="210.8" y="536.7" text-anchor="middle" font-size="8.8" font-family="Liberation Sans, Arial, Helvetica, sans-serif" fill="#111">Jun</text>
<text x="247.8" y="536.7" text-anchor="middle" font-size="8.8" font-family="Liberation Sans, Arial, Helvetica, sans-serif" fill="#111">Jul</text>
<text x="286" y="536.7" text-anchor="middle" font-size="8.8" font-family="Liberation Sans, Arial, Helvetica, sans-serif" fill="#111">Aug</text>
<text x="324.3" y="536.7" text-anchor="middle" font-size="8.8" font-family="Liberation Sans, Arial, Helvetica, sans-serif" fill="#111">Sep</text>
<text x="361.3" y="536.7" text-anchor="middle" font-size="8.8" font-family="Liberation Sans, Arial, Helvetica, sans-serif" fill="#111">Oct</text>
<text x="399.5" y="536.7" text-anchor="middle" font-size="8.8" font-family="Liberation Sans, Arial, Helvetica, sans-serif" fill="#111">Nov</text>
<text x="436.6" y="536.7" text-anchor="middle" font-size="8.8" font-family="Liberation Sans, Arial, Helvetica, sans-serif" fill="#111">Dec</text>
<text x="23.5" y="529.7" text-anchor="end" font-size="8.8" font-family="Liberation Sans, Arial, Helvetica, sans-serif" fill="#111">0</text>
<text x="23.5" y="504.6" text-anchor="end" font-size="8.8" font-family="Liberation Sans, Arial, Helvetica, sans-serif" fill="#111">1</text>
<text x="23.5" y="479.5" text-anchor="end" font-size="8.8" font-family="Liberation Sans, Arial, Helvetica, sans-serif" fill="#111">2</text>
<text x="23.5" y="454.4" text-anchor="end" font-size="8.8" font-family="Liberation Sans, Arial, Helvetica, sans-serif" fill="#111">3</text>
<text x="23.5" y="429.4" text-anchor="end" font-size="8.8" font-family="Liberation Sans, Arial, Helvetica, sans-serif" fill="#111">4</text>
<text x="23.5" y="404.3" text-anchor="end" font-size="8.8" font-family="Liberation Sans, Arial, Helvetica, sans-serif" fill="#111">5</text>
<text x="23.5" y="379.2" text-anchor="end" font-size="8.8" font-family="Liberation Sans, Arial, Helvetica, sans-serif" fill="#111">6</text>
<path d="M24.5 526.9v-3.6M24.5 376.4v3.6M62.7 526.9v-3.6M62.7 376.4v3.6M97.3 526.9v-3.6M97.3 376.4v3.6M135.5 526.9v-3.6M135.5 376.4v3.6M172.5 526.9v-3.6M172.5 376.4v3.6M210.8 526.9v-3.6M210.8 376.4v3.6M247.8 526.9v-3.6M247.8 376.4v3.6M286 526.9v-3.6M286 376.4v3.6M324.3 526.9v-3.6M324.3 376.4v3.6M361.3 526.9v-3.6M361.3 376.4v3.6M399.5 526.9v-3.6M399.5 376.4v3.6M436.6 526.9v-3.6M436.6 376.4v3.6M474.8 514.4h-2.2M24.5 514.4h1.6M24.5 501.8h3.6M474.8 501.8h-3.6M474.8 489.3h-2.2M24.5 489.3h1.6M24.5 476.7h3.6M474.8 476.7h-3.6M474.8 464.2h-2.2M24.5 464.2h1.6M24.5 451.6h3.6M474.8 451.6h-3.6M474.8 439.1h-2.2M24.5 439.1h1.6M24.5 426.6h3.6M474.8 426.6h-3.6M474.8 414h-2.2M24.5 414h1.6M24.5 401.5h3.6M474.8 401.5h-3.6M474.8 388.9h-2.2M24.5 388.9h1.6" stroke="#8a8a8a" stroke-width="0.75" fill="none"/>
<text x="250" y="545.1" text-anchor="middle" font-size="8.2" font-family="Liberation Sans, Arial, Helvetica, sans-serif" fill="#111">Time(20150101-20151231)</text>
<text transform="translate(14.3 452) rotate(-90)" text-anchor="middle" font-size="8.8" font-family="Liberation Sans, Arial, Helvetica, sans-serif" fill="#111">swh/m</text>
<rect x="25.8" y="492.5" width="65.0" height="32.5" fill="#fff" stroke="#8a8a8a" stroke-width="0.75"/>
<circle cx="34.4" cy="498.6" r="0.75" fill="#00f"/>
<path d="M28.1 509H40.6" stroke="#000" stroke-width="0.4"/><circle cx="34.4" cy="509" r="0.75" fill="#000"/>
<path d="M28.1 519.5H40.6" stroke="#f00" stroke-width="0.4"/><circle cx="34.4" cy="519.5" r="0.75" fill="#f00"/>
<text x="42" y="501.5" font-size="8.2" font-family="Liberation Sans, Arial, Helvetica, sans-serif" fill="#111">NDBC32012</text>
<text x="42" y="511.9" font-size="8.2" font-family="Liberation Sans, Arial, Helvetica, sans-serif" fill="#111">WW3</text>
<text x="42" y="522.4" font-size="8.2" font-family="Liberation Sans, Arial, Helvetica, sans-serif" fill="#111">EnOI</text>
</g>
</svg></body></html>
